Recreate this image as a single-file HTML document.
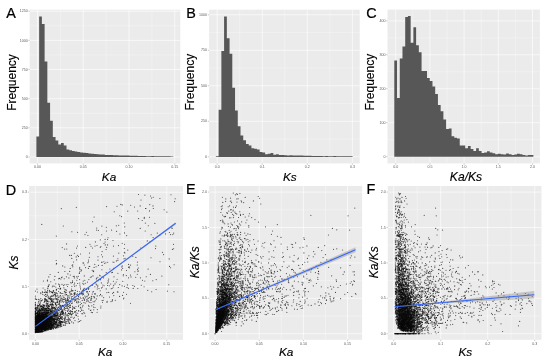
<!DOCTYPE html>
<html lang="en"><head><meta charset="utf-8"><title>Ka, Ks and Ka/Ks distributions</title>
<style>
html,body{margin:0;padding:0;background:#fff;}
body{width:550px;height:364px;overflow:hidden;font-family:"Liberation Sans",Arial,Helvetica,sans-serif;}
svg{display:block;}
</style></head><body>
<svg width="550" height="364" viewBox="0 0 550 364" font-family='"Liberation Sans", Arial, Helvetica, sans-serif'>
<rect width="550" height="364" fill="#fff"/>
<rect x="29.7" y="9.7" width="150.6" height="153.7" fill="#ebebeb"/>
<path d="M60.4 9.7V163.4M106.1 9.7V163.4M151.9 9.7V163.4M29.7 25.8H180.3M29.7 54.9H180.3M29.7 84.1H180.3M29.7 113.3H180.3M29.7 142.4H180.3" stroke="#fff" stroke-width="0.45" opacity="0.7" fill="none"/>
<path d="M37.5 9.7V163.4M83.2 9.7V163.4M129 9.7V163.4M174.8 9.7V163.4M29.7 11.2H180.3M29.7 40.4H180.3M29.7 69.5H180.3M29.7 98.7H180.3M29.7 127.8H180.3M29.7 157H180.3" stroke="#fff" stroke-width="0.7" opacity="0.9" fill="none"/>
<path d="M36.40 156.9V136.5H39.14V156.9ZM39.14 156.9V16.5H41.87V156.9ZM41.87 156.9V23.9H44.61V156.9ZM44.61 156.9V61.5H47.34V156.9ZM47.34 156.9V102.7H50.08V156.9ZM50.08 156.9V120.8H52.82V156.9ZM52.82 156.9V136.9H55.55V156.9ZM55.55 156.9V140.6H58.29V156.9ZM58.29 156.9V144.5H61.02V156.9ZM61.02 156.9V143.0H63.76V156.9ZM63.76 156.9V145.4H66.50V156.9ZM66.50 156.9V149.5H69.23V156.9ZM69.23 156.9V150.2H71.97V156.9ZM71.97 156.9V150.9H74.70V156.9ZM74.70 156.9V151.6H77.44V156.9ZM77.44 156.9V152.0H80.18V156.9ZM80.18 156.9V152.4H82.91V156.9ZM82.91 156.9V152.8H85.65V156.9ZM85.65 156.9V153.1H88.38V156.9ZM88.38 156.9V153.4H91.12V156.9ZM91.12 156.9V153.7H93.86V156.9ZM93.86 156.9V154.0H96.59V156.9ZM96.59 156.9V154.2H99.33V156.9ZM99.33 156.9V154.4H102.06V156.9ZM102.06 156.9V154.6H104.80V156.9ZM104.80 156.9V154.9H107.54V156.9ZM107.54 156.9V155.0H110.27V156.9ZM110.27 156.9V155.1H113.01V156.9ZM113.01 156.9V155.3H115.74V156.9ZM115.74 156.9V155.2H118.48V156.9ZM118.48 156.9V155.4H121.22V156.9ZM121.22 156.9V155.5H123.95V156.9ZM123.95 156.9V155.6H126.69V156.9ZM126.69 156.9V155.5H129.42V156.9ZM129.42 156.9V155.7H132.16V156.9ZM132.16 156.9V155.8H134.90V156.9ZM134.90 156.9V155.7H137.63V156.9ZM137.63 156.9V156.0H140.37V156.9ZM140.37 156.9V156.1H143.10V156.9ZM143.10 156.9V156.0H145.84V156.9ZM145.84 156.9V156.2H148.58V156.9ZM148.58 156.9V156.2H151.31V156.9ZM151.31 156.9V156.1H154.05V156.9ZM154.05 156.9V156.2H156.78V156.9ZM156.78 156.9V156.3H159.52V156.9ZM159.52 156.9V156.2H162.26V156.9ZM162.26 156.9V156.3H164.99V156.9ZM164.99 156.9V156.3H167.73V156.9ZM167.73 156.9V156.3H170.46V156.9ZM170.46 156.9V156.4H173.20V156.9Z" fill="#575757"/>
<path d="M37.5 163.4v1.3M83.2 163.4v1.3M129 163.4v1.3M174.8 163.4v1.3M29.7 157h-1.3M29.7 127.8h-1.3M29.7 98.7h-1.3M29.7 69.5h-1.3M29.7 40.4h-1.3M29.7 11.2h-1.3" stroke="#555" stroke-width="0.4" opacity="0.8" fill="none"/>
<g font-size="3.6" fill="#5c5c5c">
<text x="37.5" y="168.2" text-anchor="middle">0.00</text>
<text x="83.2" y="168.2" text-anchor="middle">0.05</text>
<text x="129" y="168.2" text-anchor="middle">0.10</text>
<text x="174.8" y="168.2" text-anchor="middle">0.15</text>
<text x="27.7" y="158.1" text-anchor="end">0</text>
<text x="27.7" y="128.9" text-anchor="end">250</text>
<text x="27.7" y="99.8" text-anchor="end">500</text>
<text x="27.7" y="70.6" text-anchor="end">750</text>
<text x="27.7" y="41.5" text-anchor="end">1000</text>
<text x="27.7" y="12.3" text-anchor="end">1250</text>
</g>
<text x="6.3" y="18.2" font-size="14.4" fill="#000" stroke="#000" stroke-width="0.22">A</text>
<text transform="translate(15.8 82.5) rotate(-90)" font-size="12" text-anchor="middle" fill="#000" stroke="#000" stroke-width="0.15">Frequency</text>
<text x="109" y="181.3" font-size="11.8" font-style="italic" text-anchor="middle" fill="#000" stroke="#000" stroke-width="0.15">Ka</text>
<rect x="209.1" y="9.7" width="150.6" height="153.7" fill="#ebebeb"/>
<path d="M239.7 9.7V163.4M284.8 9.7V163.4M329.9 9.7V163.4M209.1 32.6H359.7M209.1 68.1H359.7M209.1 103.6H359.7M209.1 139.1H359.7" stroke="#fff" stroke-width="0.45" opacity="0.7" fill="none"/>
<path d="M217.2 9.7V163.4M262.3 9.7V163.4M307.3 9.7V163.4M352.4 9.7V163.4M209.1 14.8H359.7M209.1 50.3H359.7M209.1 85.8H359.7M209.1 121.3H359.7M209.1 156.8H359.7" stroke="#fff" stroke-width="0.7" opacity="0.9" fill="none"/>
<path d="M215.90 156.9V156.3H218.63V156.9ZM218.63 156.9V109.7H221.37V156.9ZM221.37 156.9V51.0H224.10V156.9ZM224.10 156.9V16.5H226.84V156.9ZM226.84 156.9V38.2H229.57V156.9ZM229.57 156.9V53.7H232.30V156.9ZM232.30 156.9V87.8H235.04V156.9ZM235.04 156.9V110.4H237.77V156.9ZM237.77 156.9V126.2H240.51V156.9ZM240.51 156.9V135.4H243.24V156.9ZM243.24 156.9V140.3H245.97V156.9ZM245.97 156.9V144.0H248.71V156.9ZM248.71 156.9V145.4H251.44V156.9ZM251.44 156.9V148.2H254.18V156.9ZM254.18 156.9V148.8H256.91V156.9ZM256.91 156.9V149.5H259.64V156.9ZM259.64 156.9V151.9H262.38V156.9ZM262.38 156.9V152.6H265.11V156.9ZM265.11 156.9V154.3H267.85V156.9ZM267.85 156.9V153.7H270.58V156.9ZM270.58 156.9V152.9H273.31V156.9ZM273.31 156.9V154.8H276.05V156.9ZM276.05 156.9V154.2H278.78V156.9ZM278.78 156.9V155.0H281.52V156.9ZM281.52 156.9V155.1H284.25V156.9ZM284.25 156.9V155.3H286.98V156.9ZM286.98 156.9V155.4H289.72V156.9ZM289.72 156.9V155.3H292.45V156.9ZM292.45 156.9V155.5H295.19V156.9ZM295.19 156.9V155.6H297.92V156.9ZM297.92 156.9V155.6H300.65V156.9ZM300.65 156.9V155.5H303.39V156.9ZM303.39 156.9V155.7H306.12V156.9ZM306.12 156.9V155.8H308.86V156.9ZM308.86 156.9V155.7H311.59V156.9ZM311.59 156.9V155.9H314.32V156.9ZM314.32 156.9V156.0H317.06V156.9ZM317.06 156.9V156.1H319.79V156.9ZM319.79 156.9V156.1H322.53V156.9ZM322.53 156.9V156.2H325.26V156.9ZM325.26 156.9V156.1H327.99V156.9ZM327.99 156.9V156.2H330.73V156.9ZM330.73 156.9V156.2H333.46V156.9ZM333.46 156.9V156.1H336.20V156.9ZM336.20 156.9V156.3H338.93V156.9ZM338.93 156.9V156.3H341.66V156.9ZM341.66 156.9V156.2H344.40V156.9ZM344.40 156.9V156.3H347.13V156.9ZM347.13 156.9V156.3H349.87V156.9ZM349.87 156.9V156.3H352.60V156.9Z" fill="#575757"/>
<path d="M217.2 163.4v1.3M262.3 163.4v1.3M307.3 163.4v1.3M352.4 163.4v1.3M209.1 156.8h-1.3M209.1 121.3h-1.3M209.1 85.8h-1.3M209.1 50.3h-1.3M209.1 14.8h-1.3" stroke="#555" stroke-width="0.4" opacity="0.8" fill="none"/>
<g font-size="3.6" fill="#5c5c5c">
<text x="217.2" y="168.2" text-anchor="middle">0.0</text>
<text x="262.3" y="168.2" text-anchor="middle">0.1</text>
<text x="307.3" y="168.2" text-anchor="middle">0.2</text>
<text x="352.4" y="168.2" text-anchor="middle">0.3</text>
<text x="207.1" y="157.9" text-anchor="end">0</text>
<text x="207.1" y="122.4" text-anchor="end">250</text>
<text x="207.1" y="86.9" text-anchor="end">500</text>
<text x="207.1" y="51.4" text-anchor="end">750</text>
<text x="207.1" y="15.9" text-anchor="end">1000</text>
</g>
<text x="186.3" y="18.1" font-size="14.4" fill="#000" stroke="#000" stroke-width="0.22">B</text>
<text transform="translate(194.4 82.2) rotate(-90)" font-size="12" text-anchor="middle" fill="#000" stroke="#000" stroke-width="0.15">Frequency</text>
<text x="289.8" y="181.2" font-size="11.8" font-style="italic" text-anchor="middle" fill="#000" stroke="#000" stroke-width="0.15">Ks</text>
<rect x="387.5" y="9.6" width="152.4" height="153.8" fill="#ebebeb"/>
<path d="M412.8 9.6V163.4M447 9.6V163.4M481.2 9.6V163.4M515.4 9.6V163.4M387.5 37.9H539.9M387.5 71.8H539.9M387.5 105.8H539.9M387.5 139.7H539.9" stroke="#fff" stroke-width="0.45" opacity="0.7" fill="none"/>
<path d="M395.7 9.6V163.4M429.9 9.6V163.4M464.1 9.6V163.4M498.3 9.6V163.4M532.5 9.6V163.4M387.5 20.9H539.9M387.5 54.8H539.9M387.5 88.8H539.9M387.5 122.7H539.9M387.5 156.7H539.9" stroke="#fff" stroke-width="0.7" opacity="0.9" fill="none"/>
<path d="M394.30 156.8V60.6H397.03V156.8ZM397.03 156.8V97.9H399.75V156.8ZM399.75 156.8V58.5H402.48V156.8ZM402.48 156.8V46.5H405.21V156.8ZM405.21 156.8V17.0H407.94V156.8ZM407.94 156.8V16.1H410.66V156.8ZM410.66 156.8V42.8H413.39V156.8ZM413.39 156.8V27.2H416.12V156.8ZM416.12 156.8V45.3H418.84V156.8ZM418.84 156.8V52.2H421.57V156.8ZM421.57 156.8V71.0H424.30V156.8ZM424.30 156.8V71.0H427.02V156.8ZM427.02 156.8V78.1H429.75V156.8ZM429.75 156.8V80.9H432.48V156.8ZM432.48 156.8V86.4H435.20V156.8ZM435.21 156.8V94.0H437.93V156.8ZM437.93 156.8V105.1H440.66V156.8ZM440.66 156.8V111.3H443.39V156.8ZM443.39 156.8V119.5H446.11V156.8ZM446.11 156.8V129.1H448.84V156.8ZM448.84 156.8V128.6H451.57V156.8ZM451.57 156.8V136.2H454.29V156.8ZM454.29 156.8V137.8H457.02V156.8ZM457.02 156.8V138.5H459.75V156.8ZM459.75 156.8V145.5H462.47V156.8ZM462.48 156.8V145.5H465.20V156.8ZM465.20 156.8V148.2H467.93V156.8ZM467.93 156.8V146.0H470.66V156.8ZM470.66 156.8V149.1H473.38V156.8ZM473.38 156.8V150.9H476.11V156.8ZM476.11 156.8V148.2H478.84V156.8ZM478.84 156.8V150.9H481.56V156.8ZM481.56 156.8V153.1H484.29V156.8ZM484.29 156.8V152.4H487.02V156.8ZM487.02 156.8V151.3H489.75V156.8ZM489.75 156.8V152.4H492.47V156.8ZM492.47 156.8V153.3H495.20V156.8ZM495.20 156.8V154.2H497.93V156.8ZM497.93 156.8V153.8H500.65V156.8ZM500.65 156.8V154.2H503.38V156.8ZM503.38 156.8V154.5H506.11V156.8ZM506.11 156.8V153.6H508.83V156.8ZM508.83 156.8V154.2H511.56V156.8ZM511.56 156.8V154.9H514.29V156.8ZM514.29 156.8V154.5H517.01V156.8ZM517.01 156.8V153.8H519.74V156.8ZM519.74 156.8V154.2H522.47V156.8ZM522.47 156.8V155.1H525.20V156.8ZM525.20 156.8V155.5H527.92V156.8ZM527.92 156.8V154.9H530.65V156.8ZM530.65 156.8V154.9H533.38V156.8Z" fill="#575757"/>
<path d="M395.7 163.4v1.3M429.9 163.4v1.3M464.1 163.4v1.3M498.3 163.4v1.3M532.5 163.4v1.3M387.5 156.7h-1.3M387.5 122.7h-1.3M387.5 88.8h-1.3M387.5 54.8h-1.3M387.5 20.9h-1.3" stroke="#555" stroke-width="0.4" opacity="0.8" fill="none"/>
<g font-size="3.6" fill="#5c5c5c">
<text x="395.7" y="168.2" text-anchor="middle">0.0</text>
<text x="429.9" y="168.2" text-anchor="middle">0.5</text>
<text x="464.1" y="168.2" text-anchor="middle">1.0</text>
<text x="498.3" y="168.2" text-anchor="middle">1.5</text>
<text x="532.5" y="168.2" text-anchor="middle">2.0</text>
<text x="385.5" y="157.8" text-anchor="end">0</text>
<text x="385.5" y="123.8" text-anchor="end">100</text>
<text x="385.5" y="89.9" text-anchor="end">200</text>
<text x="385.5" y="55.9" text-anchor="end">300</text>
<text x="385.5" y="22" text-anchor="end">400</text>
</g>
<text x="366.3" y="18.1" font-size="14.4" fill="#000" stroke="#000" stroke-width="0.22">C</text>
<text transform="translate(374.4 82.2) rotate(-90)" font-size="12" text-anchor="middle" fill="#000" stroke="#000" stroke-width="0.15">Frequency</text>
<text x="466" y="181.4" font-size="12.1" font-style="italic" text-anchor="middle" fill="#000" stroke="#000" stroke-width="0.15">Ka/Ks</text>
<rect x="29.1" y="186" width="153.9" height="153.8" fill="#ebebeb"/>
<path d="M57.3 186V339.8M101.1 186V339.8M144.9 186V339.8M29.1 215.8H183M29.1 263H183M29.1 310.2H183" stroke="#fff" stroke-width="0.45" opacity="0.7" fill="none"/>
<path d="M35.4 186V339.8M79.2 186V339.8M123 186V339.8M166.8 186V339.8M29.1 192.2H183M29.1 239.4H183M29.1 286.6H183M29.1 333.8H183" stroke="#fff" stroke-width="0.7" opacity="0.9" fill="none"/>
<path d="M39.8 328.0h0M41.0 331.0h0M36.7 329.3h0M52.7 318.4h0M71.9 317.1h0M62.1 311.3h0M68.9 308.9h0M51.6 326.4h0M50.0 324.0h0M40.6 310.3h0M43.3 321.8h0M71.5 296.9h0M36.8 316.8h0M39.0 326.2h0M40.1 324.1h0M48.6 316.0h0M37.4 327.3h0M41.1 316.2h0M66.7 305.5h0M36.5 324.6h0M37.9 331.2h0M45.0 328.0h0M36.0 329.5h0M37.1 331.1h0M37.9 328.8h0M49.0 314.8h0M39.9 326.2h0M76.5 248.1h0M42.5 322.4h0M45.7 330.4h0M44.7 325.8h0M41.7 320.1h0M43.2 311.9h0M49.2 318.3h0M54.3 311.5h0M39.0 330.7h0M151.5 198.0h0M41.2 323.9h0M39.0 318.0h0M36.7 329.1h0M38.9 330.5h0M40.9 318.0h0M51.9 324.0h0M48.7 323.2h0M37.4 328.9h0M42.8 294.4h0M43.5 310.0h0M43.9 321.8h0M46.0 315.2h0M37.9 325.4h0M45.4 327.8h0M37.5 325.1h0M41.2 325.9h0M42.3 314.4h0M59.3 322.8h0M41.8 320.7h0M40.0 328.7h0M37.5 331.0h0M48.8 311.7h0M63.2 313.4h0M38.8 324.2h0M49.8 327.5h0M70.2 313.9h0M40.3 322.2h0M38.5 319.9h0M42.7 310.2h0M45.5 328.5h0M38.5 328.8h0M41.3 322.5h0M39.1 318.5h0M50.2 321.2h0M38.3 302.9h0M37.3 329.3h0M38.8 330.2h0M38.5 328.2h0M67.8 315.4h0M38.3 325.6h0M43.9 322.4h0M124.0 258.8h0M38.3 323.8h0M40.4 329.8h0M76.0 314.2h0M37.2 330.2h0M106.9 292.6h0M58.2 288.5h0M43.2 323.8h0M51.2 328.9h0M45.2 292.5h0M47.7 295.5h0M39.9 319.0h0M52.5 326.8h0M44.9 324.5h0M42.3 322.1h0M42.5 321.4h0M41.9 321.4h0M57.4 319.0h0M36.9 330.8h0M45.4 320.7h0M63.4 285.6h0M37.1 320.6h0M38.5 330.4h0M37.2 331.0h0M36.8 322.4h0M38.4 327.3h0M43.2 320.5h0M62.5 311.5h0M38.2 318.9h0M41.5 328.0h0M40.4 319.7h0M50.6 326.8h0M54.4 323.4h0M40.7 329.9h0M47.4 313.7h0M44.5 317.4h0M88.4 298.3h0M50.1 308.4h0M37.1 331.6h0M53.9 316.3h0M43.8 313.1h0M36.2 330.0h0M46.4 316.5h0M48.0 307.7h0M40.2 325.7h0M41.5 328.2h0M39.5 324.8h0M49.0 323.5h0M42.7 331.2h0M43.1 325.2h0M36.5 299.4h0M43.6 315.4h0M48.1 326.9h0M39.7 315.7h0M51.1 322.7h0M47.7 316.1h0M45.1 323.4h0M61.4 321.5h0M48.0 305.3h0M86.6 289.4h0M39.2 328.8h0M39.4 309.8h0M38.6 318.5h0M58.5 307.1h0M43.4 326.8h0M44.0 317.8h0M37.4 324.5h0M123.9 298.0h0M43.7 325.6h0M47.8 324.6h0M105.3 244.9h0M46.4 312.5h0M71.4 315.0h0M36.5 326.0h0M45.6 321.6h0M44.7 308.8h0M89.7 266.5h0M37.9 326.1h0M37.2 327.5h0M38.0 323.9h0M52.2 314.0h0M39.4 320.4h0M59.9 326.1h0M39.6 319.5h0M70.3 307.4h0M39.7 329.6h0M43.3 314.8h0M77.4 291.3h0M45.3 316.5h0M61.5 321.6h0M90.0 244.2h0M72.5 311.5h0M107.6 244.9h0M47.9 320.5h0M49.6 316.9h0M53.6 290.9h0M39.8 320.9h0M74.4 297.0h0M47.8 324.5h0M36.6 315.5h0M39.0 328.9h0M130.4 275.1h0M47.1 328.5h0M42.9 321.8h0M86.6 299.8h0M38.2 324.1h0M38.9 325.2h0M48.6 305.9h0M37.5 325.9h0M106.3 227.2h0M74.4 292.7h0M36.6 327.7h0M40.8 324.7h0M36.9 331.5h0M39.2 313.7h0M79.7 283.0h0M45.5 319.2h0M46.6 313.2h0M42.2 321.8h0M37.5 322.3h0M38.9 324.8h0M38.0 327.2h0M156.2 279.6h0M38.5 326.7h0M42.3 329.2h0M42.4 321.5h0M38.4 327.1h0M52.0 327.1h0M40.7 315.3h0M42.1 329.3h0M38.2 316.5h0M52.7 316.4h0M62.9 295.7h0M36.7 319.7h0M172.4 249.4h0M40.2 316.0h0M38.3 324.8h0M39.7 332.0h0M39.9 313.5h0M51.0 327.0h0M55.5 312.0h0M40.0 315.9h0M43.5 328.4h0M54.0 324.1h0M49.6 321.5h0M42.1 325.2h0M40.5 323.6h0M49.2 326.2h0M36.7 324.8h0M45.7 314.6h0M89.3 302.2h0M47.5 329.9h0M37.1 325.3h0M47.6 305.2h0M58.3 327.3h0M40.9 323.2h0M39.1 318.8h0M42.8 321.1h0M37.6 318.6h0M112.6 293.3h0M57.1 326.2h0M42.1 325.8h0M37.3 326.2h0M43.0 316.8h0M47.3 324.8h0M54.1 320.3h0M36.9 328.2h0M45.6 319.7h0M46.3 323.3h0M38.4 330.2h0M44.1 318.1h0M42.0 308.4h0M49.7 329.1h0M38.3 329.4h0M41.3 313.0h0M39.1 326.0h0M38.6 329.2h0M43.3 308.1h0M62.5 319.6h0M42.5 299.9h0M64.9 320.3h0M92.6 221.7h0M38.7 319.4h0M38.1 320.0h0M37.3 329.0h0M37.4 326.3h0M46.0 328.1h0M36.9 319.0h0M49.0 322.2h0M108.7 279.0h0M48.1 326.2h0M42.9 324.6h0M52.7 319.0h0M42.3 328.8h0M40.3 318.7h0M37.0 328.7h0M40.7 320.8h0M42.4 327.3h0M44.3 328.8h0M36.7 318.6h0M50.7 319.8h0M53.1 310.5h0M42.5 320.5h0M37.7 324.9h0M37.0 314.7h0M38.1 317.6h0M51.1 318.2h0M51.7 325.4h0M36.9 323.2h0M46.2 325.6h0M102.5 302.2h0M36.7 313.3h0M36.2 327.6h0M101.8 262.5h0M38.7 326.2h0M40.3 330.1h0M113.0 262.0h0M39.5 332.1h0M54.5 310.1h0M74.0 295.5h0M39.8 325.4h0M46.7 327.3h0M57.1 320.1h0M36.2 328.0h0M49.3 319.3h0M44.0 314.1h0M36.2 324.2h0M39.1 322.9h0M39.1 323.9h0M38.0 314.5h0M36.8 328.1h0M45.0 321.0h0M63.5 299.5h0M49.7 321.4h0M36.3 329.0h0M144.8 281.0h0M38.3 321.4h0M39.6 326.8h0M41.2 322.7h0M38.4 305.8h0M60.3 288.5h0M57.9 299.1h0M36.8 316.4h0M49.4 326.6h0M45.0 321.4h0M51.3 310.2h0M49.5 312.7h0M42.6 328.2h0M42.4 324.4h0M40.4 323.6h0M78.0 316.2h0M45.9 317.7h0M70.5 313.6h0M39.8 305.6h0M45.7 313.3h0M44.1 322.4h0M38.1 329.5h0M64.0 308.1h0M171.7 227.0h0M39.3 318.7h0M44.9 316.2h0M37.2 325.6h0M39.1 323.2h0M93.8 304.6h0M79.9 269.6h0M92.2 294.1h0M46.1 323.4h0M46.2 304.7h0M44.8 326.3h0M40.5 323.9h0M38.3 320.9h0M36.6 324.0h0M37.8 325.3h0M40.8 306.4h0M41.7 324.1h0M37.7 319.8h0M40.2 311.8h0M49.2 325.9h0M38.7 318.2h0M168.8 284.7h0M37.2 329.6h0M59.2 301.5h0M59.6 284.9h0M67.0 323.2h0M46.9 318.8h0M42.0 317.6h0M36.2 317.4h0M42.9 322.7h0M36.6 325.2h0M47.9 313.1h0M39.3 322.8h0M40.7 319.0h0M47.2 312.7h0M98.1 280.7h0M42.7 292.2h0M40.5 315.8h0M51.3 326.9h0M44.7 327.7h0M38.7 327.7h0M51.1 316.3h0M45.8 317.9h0M41.6 328.3h0M45.5 294.4h0M51.7 321.7h0M48.7 310.2h0M39.1 317.5h0M43.7 323.2h0M44.7 311.1h0M76.3 207.3h0M132.8 256.2h0M39.0 329.1h0M44.3 325.9h0M55.1 318.1h0M43.7 324.9h0M40.2 316.2h0M50.9 304.1h0M38.9 332.0h0M50.5 329.4h0M43.7 325.0h0M38.9 327.7h0M78.9 299.2h0M38.4 323.2h0M58.9 304.2h0M37.0 325.8h0M127.8 250.1h0M44.8 324.7h0M37.8 327.4h0M57.6 327.7h0M54.5 313.0h0M42.4 317.6h0M40.4 307.0h0M41.1 321.6h0M46.2 324.2h0M50.9 314.1h0M38.8 322.9h0M43.0 320.8h0M41.7 325.7h0M39.5 317.6h0M87.2 291.5h0M48.2 328.8h0M43.5 321.6h0M44.1 325.8h0M64.6 307.3h0M38.4 316.9h0M40.8 325.1h0M41.2 324.8h0M42.3 326.8h0M36.7 323.2h0M36.9 321.2h0M96.3 278.9h0M150.1 241.7h0M40.8 321.5h0M46.7 321.5h0M41.9 322.8h0M39.4 326.6h0M42.4 329.3h0M89.5 253.1h0M37.5 328.0h0M40.7 327.2h0M43.3 328.1h0M104.7 263.5h0M39.0 318.5h0M70.1 294.0h0M39.3 327.7h0M41.5 313.3h0M41.8 328.0h0M83.5 294.3h0M46.9 318.0h0M77.5 246.0h0M60.0 307.2h0M38.7 317.5h0M40.9 327.6h0M41.9 322.3h0M172.1 228.4h0M41.7 329.0h0M42.8 325.2h0M104.1 285.7h0M60.3 295.6h0M81.7 292.8h0M101.9 269.7h0M45.5 322.7h0M43.5 323.1h0M38.8 313.8h0M39.3 329.2h0M44.6 323.2h0M151.7 291.7h0M56.9 326.9h0M45.1 322.2h0M44.7 326.6h0M153.3 208.5h0M38.1 329.2h0M36.7 325.7h0M48.1 317.7h0M41.5 321.5h0M37.2 328.3h0M37.4 332.0h0M45.4 324.6h0M43.2 324.7h0M36.2 330.9h0M43.2 320.3h0M37.8 331.0h0M40.4 327.2h0M62.0 284.3h0M43.4 315.6h0M44.8 325.0h0M39.3 326.2h0M40.0 321.9h0M38.2 325.2h0M49.9 291.3h0M52.8 292.2h0M38.7 325.1h0M39.1 329.7h0M60.5 312.8h0M44.1 302.3h0M61.2 321.9h0M39.3 332.0h0M55.4 315.3h0M48.5 318.3h0M48.9 319.0h0M46.5 322.1h0M47.1 320.8h0M53.9 294.8h0M54.2 317.0h0M39.9 321.6h0M40.2 328.5h0M137.4 262.1h0M38.7 316.0h0M38.9 326.5h0M47.9 323.4h0M39.9 310.6h0M39.9 317.4h0M51.8 324.2h0M60.3 306.4h0M47.2 308.2h0M37.7 327.3h0M43.6 319.8h0M59.0 318.6h0M37.5 325.7h0M36.8 319.1h0M41.3 319.9h0M38.1 324.0h0M40.1 328.6h0M65.0 308.2h0M38.0 324.4h0M42.6 322.6h0M44.7 320.1h0M47.4 318.7h0M47.4 328.6h0M36.5 326.1h0M41.2 327.9h0M38.9 328.2h0M36.9 322.8h0M38.5 331.4h0M39.6 324.5h0M37.3 328.4h0M44.4 318.3h0M46.2 308.4h0M50.3 327.9h0M88.8 308.9h0M58.8 323.1h0M42.4 320.4h0M36.5 320.8h0M40.5 315.7h0M53.9 319.4h0M40.3 329.3h0M38.1 324.1h0M37.4 326.6h0M38.3 329.0h0M80.6 293.8h0M43.7 316.6h0M41.4 322.1h0M145.8 208.5h0M36.2 323.7h0M50.1 317.2h0M38.9 315.6h0M49.8 314.3h0M123.5 292.2h0M116.3 225.8h0M39.3 319.8h0M38.7 329.3h0M38.3 308.8h0M60.2 308.2h0M43.5 325.6h0M42.8 324.5h0M36.8 329.4h0M39.8 325.1h0M45.4 321.0h0M43.7 324.6h0M40.4 331.7h0M175.2 198.7h0M38.4 317.8h0M142.2 220.5h0M72.5 312.0h0M86.2 296.2h0M52.0 292.6h0M36.1 325.1h0M67.3 298.7h0M126.7 235.6h0M41.2 315.1h0M37.5 306.6h0M41.1 330.6h0M46.4 326.6h0M81.3 309.1h0M40.7 331.6h0M59.2 320.8h0M38.8 327.4h0M64.7 322.1h0M59.5 286.4h0M54.4 294.0h0M48.9 321.7h0M42.6 331.8h0M43.3 320.1h0M52.5 304.3h0M37.2 322.8h0M43.0 325.3h0M80.7 307.4h0M49.1 320.4h0M58.6 318.4h0M44.1 309.9h0M37.6 328.3h0M38.6 326.7h0M44.7 324.1h0M42.4 326.8h0M107.5 285.5h0M81.5 303.5h0M43.1 326.3h0M51.0 327.8h0M45.8 321.5h0M36.7 327.1h0M39.7 320.0h0M48.2 329.3h0M58.3 322.0h0M48.8 319.6h0M41.3 328.9h0M56.3 312.3h0M40.5 310.3h0M51.8 327.2h0M48.6 311.3h0M43.2 315.5h0M39.0 321.8h0M42.6 319.8h0M128.5 267.5h0M36.1 331.5h0M39.1 326.3h0M38.9 319.6h0M55.8 325.8h0M57.0 327.7h0M88.1 295.2h0M46.1 324.1h0M37.7 318.6h0M37.9 328.3h0M37.6 329.2h0M44.8 323.9h0M40.1 325.1h0M48.0 327.5h0M107.7 262.2h0M37.3 330.3h0M49.1 319.5h0M37.5 322.3h0M42.0 324.9h0M48.4 316.3h0M37.5 331.4h0M42.9 309.8h0M50.1 325.6h0M79.7 293.7h0M88.5 260.0h0M36.0 325.6h0M49.8 326.3h0M43.0 325.4h0M65.3 318.0h0M46.9 292.6h0M65.4 312.9h0M39.2 328.9h0M41.4 316.2h0M36.8 324.5h0M38.0 327.5h0M38.5 328.5h0M46.3 322.1h0M44.5 321.5h0M38.6 316.6h0M44.2 330.9h0M41.1 314.7h0M44.1 328.7h0M43.3 315.9h0M37.8 330.9h0M41.1 319.5h0M54.4 292.5h0M36.5 328.4h0M71.8 314.1h0M43.9 317.4h0M42.0 326.2h0M39.8 320.5h0M38.8 325.6h0M42.1 313.2h0M41.0 325.5h0M36.8 329.9h0M64.8 320.5h0M45.0 320.8h0M36.8 331.6h0M36.6 315.3h0M119.6 296.4h0M47.5 321.2h0M58.0 317.6h0M40.3 331.4h0M46.3 328.6h0M51.6 311.7h0M38.7 312.7h0M43.8 329.1h0M42.6 316.3h0M39.6 327.3h0M39.7 326.8h0M60.6 322.6h0M38.7 324.0h0M40.4 328.3h0M140.2 228.4h0M59.2 322.6h0M48.5 325.8h0M42.4 319.7h0M37.9 326.0h0M37.0 328.8h0M40.7 324.3h0M41.6 313.0h0M43.8 327.2h0M36.4 316.0h0M45.3 325.6h0M108.3 281.9h0M43.2 322.8h0M59.8 321.9h0M40.4 329.4h0M43.5 320.6h0M42.7 327.8h0M95.4 241.9h0M38.3 316.7h0M42.3 328.2h0M38.1 312.9h0M47.5 311.8h0M93.8 309.8h0M46.9 324.7h0M40.0 308.1h0M47.8 323.4h0M46.4 326.8h0M39.7 326.6h0M44.9 301.7h0M40.7 322.4h0M37.4 325.0h0M116.2 282.0h0M38.2 318.9h0M83.7 289.1h0M37.8 322.8h0M41.2 324.0h0M37.7 331.4h0M54.9 321.8h0M66.4 315.7h0M40.4 324.3h0M40.7 332.0h0M44.3 319.8h0M40.9 320.8h0M48.1 311.0h0M108.7 292.4h0M40.6 324.9h0M46.6 325.3h0M37.3 313.1h0M40.4 319.2h0M39.1 319.6h0M62.3 314.0h0M49.1 319.8h0M50.9 317.4h0M41.4 320.5h0M94.1 217.0h0M38.3 325.3h0M41.3 325.5h0M55.3 313.5h0M113.6 268.2h0M37.0 313.3h0M41.8 308.7h0M39.3 315.9h0M52.6 320.7h0M44.7 316.0h0M43.4 326.5h0M43.4 321.8h0M147.8 290.3h0M45.1 323.0h0M45.5 320.3h0M39.0 322.6h0M44.5 329.0h0M38.4 328.6h0M38.7 328.1h0M36.7 329.8h0M45.4 327.0h0M70.0 295.7h0M40.1 314.0h0M47.0 299.7h0M37.7 322.1h0M70.8 282.6h0M44.4 328.3h0M68.4 310.0h0M87.9 300.6h0M37.2 332.3h0M38.2 326.3h0M42.9 329.2h0M48.0 326.2h0M37.6 324.3h0M44.6 312.6h0M42.0 328.4h0M41.8 327.3h0M45.1 323.0h0M54.9 276.4h0M40.6 329.1h0M37.1 319.9h0M47.7 319.2h0M41.8 327.6h0M45.1 322.4h0M45.1 325.4h0M39.2 318.9h0M37.0 325.8h0M43.9 327.3h0M38.2 326.0h0M60.0 321.6h0M42.0 318.8h0M45.2 326.0h0M41.3 319.0h0M37.5 324.4h0M88.4 301.1h0M39.1 321.4h0M36.5 310.2h0M38.0 327.8h0M48.4 286.4h0M47.3 319.6h0M47.6 326.4h0M48.5 315.8h0M40.2 326.9h0M38.7 326.6h0M43.4 328.3h0M38.8 322.7h0M69.7 307.5h0M40.3 320.4h0M37.4 318.1h0M48.1 323.9h0M56.7 305.2h0M47.5 310.1h0M42.1 328.6h0M78.2 298.2h0M52.7 324.6h0M65.1 305.2h0M37.1 329.2h0M73.7 318.3h0M46.7 318.9h0M40.5 319.9h0M54.1 315.8h0M39.6 326.8h0M38.4 329.5h0M51.1 314.5h0M44.5 330.2h0M74.8 293.5h0M41.8 329.3h0M47.3 321.7h0M38.5 323.4h0M36.3 325.6h0M47.8 300.9h0M47.1 316.7h0M39.1 325.4h0M38.6 325.8h0M50.3 324.6h0M46.3 316.3h0M39.6 318.4h0M37.3 321.1h0M38.0 324.2h0M43.0 318.9h0M47.1 326.3h0M39.0 328.1h0M47.0 328.4h0M38.9 319.7h0M36.9 330.6h0M38.9 321.3h0M43.9 321.0h0M51.5 306.3h0M38.4 321.0h0M40.8 329.4h0M38.3 318.4h0M46.6 317.5h0M56.5 322.6h0M61.5 313.0h0M47.8 321.1h0M41.9 324.0h0M39.3 322.3h0M40.7 317.1h0M37.2 328.0h0M85.6 297.7h0M40.0 322.0h0M46.3 329.6h0M43.1 325.9h0M40.3 310.7h0M42.4 325.7h0M41.7 331.5h0M38.8 316.1h0M83.9 312.3h0M123.4 274.6h0M47.1 316.8h0M42.3 328.3h0M40.9 324.5h0M37.2 328.0h0M61.2 307.2h0M98.0 256.7h0M42.7 317.2h0M44.1 328.2h0M41.3 323.4h0M42.5 319.6h0M74.5 297.5h0M47.7 314.4h0M38.0 323.2h0M40.5 321.8h0M44.7 316.2h0M37.5 321.7h0M43.9 322.8h0M43.0 319.1h0M58.2 320.3h0M41.4 317.9h0M46.5 325.8h0M52.4 317.6h0M39.2 325.7h0M45.3 324.2h0M38.1 330.1h0M41.8 319.2h0M42.3 326.0h0M46.3 321.4h0M48.3 301.7h0M46.4 321.3h0M43.4 323.1h0M43.1 323.3h0M80.9 298.5h0M60.8 323.5h0M37.1 325.6h0M39.3 315.8h0M42.8 329.6h0M39.4 328.0h0M62.5 313.2h0M52.7 293.0h0M45.8 321.0h0M44.7 321.6h0M75.3 290.4h0M39.2 328.4h0M39.8 326.8h0M38.0 316.8h0M38.3 329.7h0M38.5 331.7h0M45.4 322.6h0M74.6 299.2h0M52.6 299.8h0M38.0 329.2h0M50.2 325.1h0M39.9 326.0h0M44.3 315.6h0M43.6 318.9h0M41.1 321.2h0M46.1 299.8h0M47.8 323.6h0M37.1 330.2h0M40.3 325.6h0M52.4 307.1h0M39.1 328.9h0M41.6 317.9h0M55.9 311.4h0M39.8 325.5h0M46.8 313.1h0M39.1 317.7h0M42.9 324.7h0M41.3 311.1h0M43.6 317.4h0M36.7 331.7h0M62.7 265.9h0M61.6 306.3h0M71.7 298.6h0M38.7 330.8h0M40.1 325.9h0M38.0 310.3h0M44.0 316.1h0M44.7 322.6h0M46.4 315.2h0M41.9 326.8h0M49.1 301.7h0M49.2 324.4h0M43.1 288.0h0M38.5 326.9h0M43.1 322.0h0M40.9 327.0h0M39.2 320.2h0M43.0 320.1h0M41.3 318.4h0M36.7 325.9h0M39.2 325.6h0M49.1 308.8h0M39.7 322.4h0M37.4 317.7h0M41.1 321.1h0M93.7 271.1h0M56.5 321.2h0M45.0 320.6h0M36.9 321.6h0M52.2 317.2h0M42.4 327.4h0M42.4 318.3h0M45.0 329.4h0M42.3 327.8h0M93.1 301.7h0M61.8 312.8h0M147.3 240.9h0M37.7 319.1h0M101.9 226.1h0M39.0 319.4h0M42.2 328.2h0M38.3 316.5h0M47.2 325.1h0M39.5 311.4h0M85.2 283.3h0M41.6 318.8h0M48.5 328.4h0M38.3 324.7h0M78.8 305.2h0M45.5 326.1h0M36.9 327.2h0M41.5 321.2h0M57.8 320.0h0M68.0 284.5h0M42.1 318.4h0M51.1 327.3h0M40.9 331.2h0M89.5 291.5h0M38.3 328.1h0M40.6 326.9h0M41.8 313.7h0M37.0 329.3h0M42.3 316.6h0M49.2 326.2h0M40.6 327.8h0M44.8 312.7h0M37.1 325.2h0M44.8 323.5h0M37.2 331.5h0M39.4 329.2h0M36.3 320.3h0M41.3 327.2h0M67.0 304.4h0M74.4 317.2h0M41.1 331.2h0M38.8 329.4h0M83.2 281.1h0M41.6 317.6h0M38.8 322.6h0M37.6 329.4h0M40.4 319.8h0M39.2 312.2h0M40.6 324.6h0M60.7 305.4h0M71.3 283.0h0M61.2 298.7h0M51.3 295.7h0M41.6 318.9h0M42.2 324.1h0M46.6 323.1h0M42.7 328.6h0M55.9 327.3h0M40.7 327.7h0M42.6 325.2h0M39.4 319.2h0M38.8 325.4h0M50.7 305.1h0M52.0 303.1h0M55.1 312.1h0M40.7 317.4h0M79.6 321.4h0M37.3 325.5h0M41.0 316.2h0M38.0 331.3h0M41.6 317.2h0M48.1 317.4h0M37.7 330.7h0M40.3 320.9h0M100.2 279.7h0M44.8 314.8h0M37.8 325.0h0M37.6 324.4h0M41.2 310.7h0M38.1 326.3h0M37.9 330.8h0M42.9 322.7h0M67.5 308.6h0M42.0 316.3h0M38.1 327.0h0M49.5 320.3h0M63.0 311.9h0M55.1 308.6h0M38.2 327.8h0M70.6 312.2h0M51.8 320.1h0M56.0 322.8h0M56.3 236.1h0M40.9 323.4h0M37.0 322.0h0M44.3 292.3h0M38.7 324.7h0M41.3 326.0h0M39.7 307.0h0M38.8 331.6h0M41.7 327.1h0M36.4 322.8h0M38.7 323.6h0M41.0 318.0h0M40.6 323.5h0M53.3 325.3h0M39.0 316.9h0M50.7 323.1h0M38.3 327.6h0M100.1 275.8h0M37.2 329.9h0M55.1 309.6h0M42.7 322.9h0M70.4 302.0h0M38.4 324.3h0M46.7 317.7h0M170.6 234.6h0M41.4 328.0h0M55.4 312.9h0M42.2 324.8h0M64.6 307.6h0M44.3 327.1h0M40.8 316.6h0M41.3 325.9h0M46.2 311.1h0M37.6 330.0h0M48.4 326.9h0M126.5 270.5h0M40.7 320.7h0M44.2 322.9h0M39.3 327.1h0M37.0 322.4h0M41.3 330.1h0M36.8 330.1h0M37.8 313.9h0M100.3 247.5h0M40.1 315.9h0M49.5 320.0h0M36.7 324.3h0M100.8 307.9h0M40.9 326.6h0M49.9 318.0h0M39.3 313.1h0M39.1 325.0h0M37.5 322.3h0M40.9 319.2h0M43.0 324.4h0M38.6 323.2h0M37.5 316.0h0M51.3 314.9h0M42.9 323.3h0M52.7 327.7h0M51.2 329.3h0M41.0 325.7h0M36.7 328.6h0M44.1 307.1h0M39.1 318.1h0M154.9 223.3h0M71.8 258.4h0M37.9 319.4h0M38.7 328.2h0M36.8 332.1h0M38.9 322.7h0M43.5 325.8h0M70.0 293.8h0M56.9 319.1h0M36.7 325.2h0M108.2 280.2h0M48.6 323.4h0M44.5 321.3h0M151.1 234.7h0M38.0 328.9h0M37.5 316.6h0M43.8 327.1h0M36.6 331.7h0M37.2 328.9h0M43.3 318.6h0M37.1 325.1h0M37.7 327.4h0M43.0 324.5h0M103.9 261.7h0M39.7 322.8h0M44.6 311.7h0M68.8 322.0h0M67.7 303.0h0M38.8 322.5h0M41.0 321.2h0M48.9 319.5h0M40.2 319.4h0M46.8 322.1h0M39.3 324.8h0M44.3 327.2h0M95.0 246.0h0M48.7 316.3h0M60.7 324.9h0M86.8 301.6h0M37.6 325.0h0M43.7 323.2h0M44.2 319.4h0M69.5 303.3h0M45.0 319.0h0M40.4 315.8h0M40.9 315.6h0M47.2 318.7h0M42.6 312.7h0M62.2 247.6h0M60.6 315.2h0M41.6 326.9h0M46.8 325.9h0M39.0 318.1h0M54.6 325.7h0M42.6 327.1h0M36.2 331.5h0M73.4 322.9h0M48.2 327.0h0M43.4 318.1h0M49.9 309.8h0M53.3 314.8h0M36.5 324.9h0M48.1 324.7h0M48.2 325.6h0M80.8 320.5h0M76.4 315.5h0M98.4 265.4h0M50.4 322.6h0M39.9 300.0h0M45.7 319.6h0M47.6 323.3h0M40.5 325.8h0M45.7 313.7h0M44.3 327.1h0M44.4 317.4h0M38.5 321.2h0M37.1 329.2h0M48.8 324.5h0M37.6 318.2h0M44.1 321.1h0M36.6 324.1h0M42.4 327.7h0M36.7 321.9h0M36.2 324.2h0M37.5 316.5h0M53.6 321.3h0M102.1 265.4h0M70.8 294.1h0M56.8 328.0h0M37.6 325.1h0M45.1 323.4h0M46.3 296.1h0M36.7 326.3h0M51.8 308.4h0M45.9 326.3h0M36.2 325.3h0M39.3 327.5h0M156.1 289.5h0M54.4 319.0h0M68.8 318.3h0M39.4 321.8h0M56.8 312.1h0M39.1 326.9h0M38.4 322.6h0M39.9 325.3h0M44.4 327.5h0M71.9 286.5h0M65.8 310.3h0M40.4 318.7h0M39.6 325.4h0M39.0 316.2h0M39.9 325.1h0M37.4 319.3h0M38.0 315.9h0M40.3 323.3h0M41.9 322.1h0M38.6 322.7h0M41.7 305.8h0M36.6 322.9h0M41.9 329.2h0M52.1 317.4h0M45.2 319.1h0M38.8 328.2h0M47.6 324.8h0M38.8 318.8h0M37.7 325.2h0M40.5 311.8h0M45.3 329.0h0M37.9 319.8h0M42.7 308.0h0M54.7 311.0h0M37.9 322.7h0M39.9 325.4h0M76.0 306.5h0M67.6 300.1h0M48.5 324.4h0M41.9 318.1h0M63.8 325.5h0M51.1 326.4h0M46.9 316.5h0M60.1 320.0h0M47.7 326.3h0M60.4 295.6h0M39.7 329.3h0M37.7 331.6h0M40.3 324.8h0M48.0 320.0h0M43.2 323.1h0M42.8 325.1h0M46.4 314.1h0M39.3 330.4h0M44.8 325.8h0M41.2 322.4h0M39.8 328.5h0M72.5 309.3h0M56.3 312.2h0M51.9 317.0h0M37.8 331.8h0M46.4 320.4h0M36.3 326.7h0M38.5 320.1h0M36.8 318.7h0M40.6 331.2h0M39.1 329.3h0M39.6 326.6h0M49.0 315.1h0M61.6 319.1h0M127.4 284.9h0M43.2 316.1h0M40.9 317.9h0M49.6 326.8h0M42.9 323.8h0M50.4 309.4h0M96.1 266.7h0M38.6 320.0h0M37.8 323.8h0M39.7 323.7h0M46.7 317.1h0M74.1 293.4h0M39.6 328.8h0M40.2 319.3h0M38.2 328.0h0M54.1 314.4h0M40.6 317.1h0M66.8 249.0h0M38.5 322.4h0M42.1 322.8h0M103.7 297.6h0M38.2 328.7h0M37.0 324.4h0M47.4 324.5h0M45.7 322.3h0M38.4 322.0h0M45.2 319.9h0M68.8 321.8h0M49.7 323.2h0M60.6 313.3h0M45.1 320.5h0M113.0 240.5h0M122.6 295.4h0M39.6 315.8h0M36.5 323.4h0M37.1 323.8h0M37.9 328.2h0M39.7 328.1h0M58.5 278.7h0M52.0 323.1h0M61.8 313.0h0M37.6 325.2h0M37.2 323.2h0M36.8 326.1h0M53.0 295.4h0M43.7 325.2h0M44.8 314.5h0M40.2 318.3h0M117.9 273.2h0M39.0 324.3h0M70.0 319.6h0M37.2 325.8h0M36.7 319.3h0M36.4 326.6h0M45.4 320.9h0M39.5 304.9h0M118.3 287.5h0M40.8 321.7h0M40.6 320.4h0M87.4 282.1h0M38.1 307.8h0M44.0 318.8h0M49.4 328.0h0M77.4 278.0h0M39.6 328.7h0M38.7 316.2h0M46.7 319.8h0M85.2 303.1h0M39.9 326.4h0M73.6 262.0h0M61.0 301.9h0M50.8 324.4h0M43.9 306.4h0M36.8 332.2h0M42.1 317.3h0M39.2 323.7h0M69.6 313.8h0M38.1 318.4h0M38.8 327.2h0M47.0 316.1h0M148.1 269.1h0M44.5 325.6h0M45.6 320.0h0M47.8 319.4h0M66.6 300.8h0M38.2 323.7h0M36.1 320.5h0M39.8 325.1h0M74.8 311.6h0M52.6 327.2h0M54.3 316.4h0M39.9 321.8h0M39.0 323.8h0M44.2 315.9h0M39.7 327.8h0M38.8 314.8h0M61.7 293.5h0M45.6 313.8h0M48.4 314.6h0M37.7 325.7h0M39.4 325.7h0M38.1 331.8h0M46.7 322.6h0M144.2 218.6h0M36.9 329.1h0M45.7 325.3h0M56.4 289.9h0M50.6 311.2h0M37.6 327.4h0M60.5 317.9h0M49.6 318.9h0M56.6 289.3h0M38.1 324.3h0M39.6 310.3h0M49.6 327.6h0M40.9 325.6h0M37.9 325.1h0M41.6 314.9h0M41.1 315.7h0M56.8 318.5h0M46.7 316.7h0M69.6 323.4h0M57.3 316.3h0M51.7 318.5h0M50.0 317.0h0M39.1 331.7h0M41.5 322.4h0M41.1 321.7h0M38.7 326.4h0M51.5 323.2h0M49.9 325.6h0M65.1 301.4h0M37.0 323.6h0M39.7 325.0h0M38.5 322.1h0M40.7 322.4h0M41.7 323.4h0M52.3 286.7h0M50.1 326.4h0M64.2 308.0h0M51.2 301.1h0M53.5 322.7h0M40.9 322.7h0M41.9 320.8h0M39.7 330.6h0M38.7 326.2h0M37.5 325.3h0M39.2 322.2h0M42.3 317.4h0M45.0 323.6h0M43.5 315.1h0M37.9 323.5h0M49.8 318.5h0M44.1 321.7h0M36.5 328.4h0M55.0 309.9h0M169.5 266.4h0M124.4 286.3h0M36.2 325.3h0M40.4 305.6h0M48.9 324.3h0M38.6 323.2h0M59.4 321.4h0M44.6 322.9h0M47.9 309.1h0M45.8 324.7h0M41.7 324.9h0M37.7 310.0h0M52.6 325.8h0M38.4 311.5h0M52.0 318.2h0M56.4 315.7h0M40.6 325.9h0M36.8 317.2h0M48.8 325.9h0M57.2 320.1h0M47.6 304.8h0M138.5 194.5h0M46.7 326.5h0M42.2 317.3h0M36.7 321.9h0M36.9 328.2h0M46.2 324.7h0M40.5 315.9h0M43.7 329.0h0M43.2 325.6h0M45.8 322.8h0M38.9 320.1h0M38.3 315.7h0M55.4 304.2h0M44.1 319.1h0M42.4 326.6h0M56.1 325.6h0M43.0 316.5h0M48.8 312.3h0M37.5 328.6h0M37.4 330.5h0M39.2 329.9h0M49.2 309.6h0M112.1 288.3h0M78.5 306.6h0M39.8 328.1h0M138.3 268.0h0M46.7 315.7h0M37.6 323.6h0M39.5 319.2h0M50.7 312.5h0M49.0 324.7h0M39.8 331.7h0M70.3 275.0h0M49.0 306.6h0M100.2 290.7h0M60.4 309.3h0M45.7 320.7h0M43.8 322.6h0M47.7 321.4h0M76.6 310.5h0M44.3 318.9h0M41.4 314.2h0M46.9 301.1h0M48.4 329.9h0M38.1 326.5h0M46.1 322.7h0M45.5 318.2h0M59.2 315.7h0M41.1 314.2h0M38.1 325.1h0M51.0 313.5h0M44.4 323.9h0M37.4 327.2h0M43.7 325.4h0M56.3 305.4h0M40.7 317.0h0M44.1 321.2h0M49.6 325.5h0M41.7 327.4h0M46.1 329.0h0M39.3 326.9h0M78.7 302.6h0M36.7 331.1h0M48.3 322.8h0M42.7 326.8h0M57.2 327.5h0M62.4 305.6h0M49.3 308.6h0M36.7 325.6h0M84.3 265.0h0M43.7 320.3h0M37.0 331.7h0M51.0 324.4h0M53.2 312.1h0M44.5 325.1h0M44.1 318.1h0M44.5 328.4h0M37.1 326.6h0M46.0 329.4h0M67.1 307.9h0M126.5 294.2h0M44.5 315.1h0M83.9 302.6h0M37.5 321.8h0M37.7 319.4h0M36.6 327.2h0M41.1 322.8h0M37.1 316.6h0M40.0 327.1h0M50.5 315.7h0M36.9 325.2h0M43.8 305.0h0M40.2 321.6h0M37.7 331.8h0M44.7 316.2h0M38.8 320.6h0M49.4 325.1h0M100.3 239.8h0M36.6 332.0h0M36.6 319.7h0M102.1 251.6h0M59.0 316.5h0M42.4 326.4h0M57.1 312.0h0M53.1 313.8h0M121.6 269.9h0M66.2 292.4h0M42.5 324.2h0M36.4 326.7h0M40.7 331.1h0M37.4 325.3h0M37.6 326.5h0M66.2 294.6h0M38.1 325.6h0M41.0 309.6h0M134.5 207.0h0M42.6 315.7h0M38.5 331.9h0M37.5 319.5h0M41.1 323.1h0M42.3 328.4h0M38.1 317.0h0M47.3 318.5h0M47.5 321.9h0M43.1 327.9h0M39.0 326.3h0M46.7 303.2h0M38.7 321.7h0M39.4 324.4h0M43.4 325.7h0M53.7 321.2h0M69.7 255.4h0M36.5 324.7h0M56.4 326.2h0M38.3 329.1h0M102.1 276.7h0M40.8 320.6h0M113.2 287.0h0M57.3 314.2h0M44.9 326.1h0M49.5 324.8h0M52.8 315.8h0M40.0 321.3h0M39.7 324.8h0M37.3 321.2h0M49.1 284.6h0M40.4 323.2h0M55.1 314.4h0M47.4 325.9h0M57.3 325.5h0M48.6 323.4h0M38.6 315.4h0M49.3 310.0h0M36.7 328.9h0M50.0 321.5h0M54.8 313.2h0M42.4 314.2h0M42.4 318.9h0M37.3 325.2h0M78.6 310.8h0M42.8 322.5h0M37.5 330.6h0M46.6 310.4h0M38.7 326.6h0M41.1 327.6h0M39.1 314.9h0M138.1 271.0h0M44.7 320.5h0M40.0 304.0h0M52.3 303.8h0M38.5 328.2h0M68.3 317.6h0M47.1 323.9h0M39.0 323.3h0M47.7 321.4h0M44.1 321.8h0M64.4 291.3h0M73.6 299.1h0M39.1 323.3h0M53.2 326.6h0M45.1 316.1h0M38.2 323.5h0M57.3 325.0h0M39.0 323.9h0M100.5 294.4h0M44.5 329.3h0M41.9 328.6h0M44.0 319.6h0M38.0 325.5h0M39.3 327.0h0M48.3 319.6h0M36.5 320.9h0M39.6 322.6h0M96.8 278.1h0M37.8 330.8h0M48.5 308.1h0M42.4 316.4h0M36.8 331.5h0M40.6 326.3h0M40.7 323.5h0M36.5 324.6h0M41.5 329.3h0M45.2 320.0h0M42.6 319.4h0M38.8 299.7h0M41.0 321.2h0M49.8 326.0h0M46.4 322.4h0M120.8 204.4h0M47.3 313.7h0M38.3 326.7h0M65.8 292.4h0M38.7 330.1h0M36.3 321.8h0M37.4 326.2h0M39.7 324.8h0M43.4 328.5h0M38.6 315.1h0M39.4 319.9h0M36.4 329.0h0M38.1 325.5h0M79.1 299.6h0M66.6 243.9h0M38.6 328.0h0M61.1 297.0h0M37.8 323.5h0M58.6 291.5h0M42.2 322.2h0M67.3 308.5h0M51.1 325.8h0M40.5 327.9h0M37.7 316.2h0M38.9 326.0h0M41.9 314.8h0M41.5 330.7h0M39.6 324.9h0M39.4 330.3h0M36.7 331.0h0M48.3 328.4h0M37.1 324.4h0M40.3 328.7h0M40.2 323.3h0M59.0 321.9h0M37.6 328.2h0M66.8 300.8h0M41.2 318.3h0M38.6 329.4h0M46.7 317.8h0M88.4 289.3h0M122.2 204.9h0M119.9 234.0h0M171.0 194.7h0M39.3 316.7h0M38.1 330.6h0M39.9 331.4h0M45.0 325.9h0M47.9 313.8h0M51.6 322.5h0M41.8 317.0h0M37.0 323.7h0M39.7 316.6h0M130.5 303.2h0M39.4 330.2h0M173.7 233.1h0M36.6 319.2h0M65.5 300.6h0M37.4 328.9h0M39.5 317.1h0M38.4 328.0h0M36.4 321.4h0M36.9 329.1h0M46.3 313.5h0M60.9 317.4h0M42.7 324.4h0M42.6 327.5h0M49.8 329.5h0M63.4 306.5h0M42.6 314.1h0M40.5 322.2h0M55.0 324.3h0M38.4 317.8h0M55.3 294.2h0M56.3 264.1h0M57.6 326.3h0M39.7 323.2h0M69.8 305.3h0M42.3 322.3h0M43.0 329.3h0M37.0 321.5h0M36.5 321.4h0M39.4 314.2h0M39.3 325.2h0M53.4 319.3h0M41.3 309.5h0M174.0 291.7h0M59.5 325.4h0M142.5 280.2h0M46.5 325.8h0M39.2 319.8h0M37.6 331.8h0M44.8 321.1h0M41.2 326.7h0M47.9 325.0h0M38.0 327.1h0M75.0 308.2h0M42.3 321.8h0M56.0 323.4h0M39.6 323.2h0M53.4 316.6h0M39.7 327.9h0M43.0 318.5h0M46.5 328.1h0M46.9 323.8h0M61.8 311.9h0M38.8 331.9h0M51.2 317.2h0M41.6 324.5h0M55.7 321.8h0M51.5 323.4h0M48.8 285.3h0M96.7 228.0h0M37.1 330.6h0M37.2 326.9h0M41.8 312.5h0M41.0 323.4h0M38.0 326.1h0M49.2 327.1h0M61.5 307.2h0M44.9 319.3h0M51.2 321.8h0M37.0 320.5h0M49.6 314.4h0M48.8 314.4h0M94.4 301.7h0M48.3 323.5h0M51.9 299.7h0M38.9 331.6h0M57.4 301.3h0M38.4 332.1h0M38.5 325.0h0M36.8 320.3h0M66.0 308.5h0M40.4 318.3h0M36.1 313.5h0M38.0 325.9h0M35.4 319.9h0M35.4 330.8h0M35.4 308.6h0M35.4 332.2h0M35.4 317.1h0M35.4 327.7h0M35.4 318.8h0M35.4 330.1h0M35.4 317.8h0M35.4 317.2h0M35.4 327.5h0M35.4 326.6h0M35.4 311.0h0M35.4 315.1h0M35.4 329.6h0M35.4 332.2h0M35.4 314.7h0M35.4 331.1h0M35.4 323.5h0M35.4 329.7h0M35.4 321.9h0M35.4 328.1h0M35.4 326.8h0M35.4 324.8h0M35.4 330.6h0M35.4 324.5h0M35.4 330.7h0M35.4 331.2h0M35.4 321.6h0M35.4 327.3h0M35.4 325.6h0M35.4 316.3h0M35.4 313.1h0M35.4 325.8h0M35.4 311.5h0M35.4 317.2h0M35.4 328.1h0M35.4 318.4h0M35.4 318.0h0M35.4 329.1h0M35.4 329.9h0M35.4 317.2h0M35.4 313.9h0M35.4 316.2h0M35.4 308.5h0M35.4 323.5h0M35.4 328.2h0M35.4 315.2h0M35.4 320.3h0M35.4 326.4h0M35.4 319.2h0M35.4 331.4h0M35.4 331.7h0M35.4 310.7h0M35.4 330.1h0M35.4 316.8h0M35.4 313.1h0M35.4 304.9h0M35.4 305.9h0M35.4 291.1h0" stroke="#000" stroke-width="1.15" stroke-linecap="round" opacity="0.7" fill="none"/>
<path d="M40.0 321.2h0M39.9 327.6h0M37.6 328.0h0M46.7 323.7h0M45.7 325.3h0M50.2 316.9h0M41.4 320.1h0M42.6 320.0h0M53.9 319.1h0M67.0 302.0h0M44.4 325.2h0M44.6 322.5h0M36.6 326.5h0M37.0 330.8h0M44.5 321.8h0M38.8 324.2h0M117.0 206.2h0M42.2 329.7h0M39.7 319.2h0M41.5 328.9h0M41.3 306.4h0M60.0 314.2h0M48.5 319.0h0M41.9 310.1h0M36.6 331.5h0M47.6 321.3h0M48.8 324.6h0M107.6 283.1h0M45.8 324.6h0M45.8 329.4h0M48.8 305.6h0M39.4 317.2h0M37.0 289.1h0M39.9 327.7h0M80.2 297.2h0M47.9 323.9h0M55.7 327.7h0M38.6 329.5h0M37.3 327.3h0M46.9 318.7h0M37.8 328.3h0M38.8 324.5h0M52.1 328.0h0M83.4 293.1h0M39.1 319.8h0M54.3 315.9h0M44.2 316.5h0M40.5 330.0h0M47.8 310.1h0M42.3 311.2h0M39.2 323.3h0M47.2 318.8h0M41.2 318.4h0M41.9 325.0h0M43.3 320.0h0M36.8 325.6h0M38.0 324.5h0M36.4 327.4h0M44.6 318.0h0M43.2 324.9h0M40.6 313.7h0M82.2 300.4h0M45.6 319.8h0M45.3 319.7h0M42.9 309.2h0M40.5 321.2h0M61.1 300.5h0M44.6 318.5h0M55.5 304.6h0M59.3 322.8h0M42.0 327.9h0M53.9 327.1h0M43.8 321.9h0M124.3 223.0h0M37.2 322.7h0M46.1 320.2h0M72.3 302.0h0M37.1 323.0h0M43.0 329.1h0M42.9 321.0h0M61.7 326.2h0M39.2 318.7h0M38.6 322.1h0M37.0 323.8h0M37.1 323.0h0M38.6 327.5h0M49.0 317.1h0M44.5 322.2h0M71.0 301.4h0M42.1 316.8h0M36.6 325.0h0M48.3 316.2h0M87.9 262.8h0M37.8 327.3h0M37.2 324.3h0M45.7 323.1h0M45.9 323.3h0M67.8 296.0h0M40.4 310.5h0M50.1 323.1h0M45.1 310.5h0M44.6 321.8h0M39.4 323.8h0M39.2 331.9h0M57.3 302.3h0M41.0 331.5h0M40.3 326.1h0M39.6 323.6h0M40.8 298.6h0M43.0 319.4h0M43.1 324.6h0M52.8 319.9h0M111.8 272.6h0M37.4 322.3h0M56.9 313.9h0M42.4 291.9h0M39.0 326.5h0M40.3 322.3h0M38.1 329.3h0M37.2 325.7h0M43.9 323.0h0M40.4 325.3h0M40.1 331.4h0M163.6 254.6h0M42.8 319.2h0M39.6 328.5h0M38.4 326.1h0M39.2 325.3h0M36.2 324.9h0M45.4 311.0h0M37.9 326.9h0M57.9 296.8h0M37.9 327.9h0M51.1 319.4h0M36.8 324.2h0M37.5 315.6h0M43.1 323.3h0M42.8 323.2h0M37.7 322.1h0M115.3 300.2h0M42.9 318.3h0M39.7 320.0h0M54.8 320.6h0M37.9 318.7h0M37.1 321.1h0M65.1 321.9h0M50.1 325.6h0M69.8 301.8h0M37.4 327.2h0M64.6 319.6h0M38.0 322.2h0M36.5 331.4h0M82.5 294.8h0M85.0 234.6h0M37.3 327.3h0M46.8 323.8h0M36.8 331.5h0M51.1 318.3h0M44.6 310.0h0M37.4 328.7h0M36.9 324.7h0M37.1 324.3h0M40.7 331.8h0M107.0 302.3h0M112.4 272.4h0M57.7 325.8h0M70.2 310.6h0M38.3 330.2h0M79.0 294.9h0M57.8 295.5h0M37.2 322.1h0M46.8 319.1h0M39.3 330.4h0M36.5 316.9h0M39.2 309.6h0M52.7 322.4h0M40.0 318.4h0M60.7 318.5h0M39.1 328.6h0M36.7 316.4h0M41.4 322.2h0M41.8 318.5h0M41.3 325.1h0M97.9 285.9h0M60.1 289.5h0M41.6 330.2h0M46.3 326.9h0M80.0 271.3h0M157.3 233.1h0M51.4 305.0h0M51.6 321.1h0M50.2 325.5h0M79.4 272.8h0M40.3 318.0h0M39.6 329.0h0M49.7 326.5h0M38.6 332.1h0M38.4 329.2h0M56.9 324.1h0M42.5 322.3h0M44.9 328.3h0M38.0 326.2h0M37.5 326.4h0M43.6 317.7h0M44.2 328.8h0M52.3 321.5h0M41.3 326.5h0M62.0 322.4h0M36.1 329.0h0M39.5 319.6h0M41.2 328.3h0M43.2 319.7h0M49.8 319.2h0M45.4 327.9h0M39.7 323.9h0M39.8 304.4h0M40.4 325.1h0M38.8 318.9h0M144.1 286.7h0M40.6 328.1h0M37.1 320.3h0M38.7 324.1h0M46.9 322.9h0M37.9 305.3h0M51.4 301.4h0M41.0 325.3h0M50.1 274.5h0M40.1 315.7h0M51.5 324.4h0M43.4 322.1h0M41.4 306.0h0M38.4 330.8h0M49.9 322.2h0M67.6 304.7h0M41.6 323.3h0M63.1 313.9h0M39.4 322.4h0M52.8 312.9h0M45.0 322.4h0M41.9 309.2h0M57.3 323.6h0M40.3 314.8h0M48.6 312.7h0M64.2 310.0h0M77.4 293.9h0M38.4 324.3h0M36.9 328.2h0M50.2 327.1h0M38.8 319.4h0M41.3 328.7h0M39.9 322.7h0M42.7 328.5h0M37.1 325.2h0M57.9 325.1h0M41.1 322.1h0M37.9 329.7h0M38.3 319.4h0M52.3 325.2h0M71.4 293.7h0M40.8 326.0h0M36.9 320.9h0M58.1 324.3h0M41.2 321.6h0M39.5 319.6h0M45.6 324.9h0M51.8 329.0h0M46.7 322.1h0M46.5 326.0h0M49.4 319.0h0M37.0 321.6h0M47.6 316.3h0M41.5 325.6h0M38.2 322.8h0M69.5 319.0h0M47.0 316.3h0M39.2 323.9h0M46.1 316.6h0M59.9 323.2h0M36.3 332.1h0M40.3 323.6h0M155.8 246.1h0M68.8 323.0h0M40.3 322.6h0M39.9 323.0h0M48.3 322.2h0M38.4 320.7h0M72.5 282.4h0M40.6 320.7h0M49.6 316.7h0M51.3 316.6h0M62.1 314.6h0M36.8 324.5h0M88.9 279.6h0M43.9 324.5h0M45.4 316.9h0M38.7 325.7h0M36.3 322.5h0M46.8 324.9h0M37.6 324.4h0M40.4 320.0h0M60.0 327.1h0M45.0 326.4h0M56.4 309.8h0M40.4 316.5h0M36.5 326.9h0M41.3 317.6h0M40.1 328.6h0M59.5 324.2h0M40.2 323.4h0M36.8 326.0h0M37.1 309.4h0M51.1 324.1h0M40.5 314.7h0M40.2 331.5h0M54.8 307.4h0M57.4 324.7h0M39.6 325.5h0M39.0 324.0h0M37.9 326.2h0M42.9 314.8h0M64.3 320.2h0M42.4 319.8h0M38.7 316.6h0M41.0 315.1h0M37.6 325.1h0M46.3 324.5h0M43.4 326.5h0M44.6 300.8h0M45.6 323.9h0M39.1 316.6h0M54.7 324.0h0M38.9 328.1h0M88.5 261.7h0M93.5 307.1h0M46.9 319.3h0M37.4 326.0h0M36.9 324.8h0M137.7 211.0h0M39.6 322.8h0M39.8 321.8h0M37.9 321.0h0M44.4 319.8h0M48.9 327.1h0M44.5 325.4h0M40.2 324.2h0M51.4 325.0h0M140.4 277.8h0M65.5 312.2h0M52.2 309.2h0M38.1 319.4h0M36.7 326.7h0M48.4 310.8h0M38.3 315.0h0M43.0 314.8h0M36.5 308.5h0M36.8 330.8h0M36.7 332.2h0M39.0 331.0h0M47.8 322.4h0M43.6 329.4h0M36.6 331.5h0M38.2 332.0h0M46.7 318.6h0M47.4 318.6h0M44.3 319.3h0M36.5 325.9h0M41.9 327.3h0M80.3 304.6h0M49.6 321.6h0M76.8 280.2h0M37.4 331.6h0M42.1 325.7h0M44.3 317.4h0M140.8 248.0h0M36.9 327.8h0M40.3 313.0h0M36.6 329.2h0M40.0 312.6h0M117.4 291.9h0M45.8 315.5h0M40.3 322.7h0M45.0 323.7h0M55.7 317.5h0M51.1 327.7h0M70.1 304.9h0M47.1 318.4h0M42.7 315.5h0M46.5 314.1h0M41.6 330.6h0M39.0 324.8h0M36.5 331.0h0M37.6 314.0h0M45.2 322.6h0M56.7 315.5h0M72.8 299.9h0M40.7 320.0h0M65.1 298.9h0M47.8 324.7h0M44.7 317.3h0M47.5 328.6h0M51.3 328.8h0M38.1 325.1h0M41.8 325.2h0M40.0 329.5h0M40.8 316.3h0M41.1 319.0h0M38.4 325.1h0M55.6 319.5h0M36.6 324.0h0M38.3 322.2h0M51.9 313.0h0M51.2 316.0h0M37.8 324.1h0M60.3 322.7h0M58.3 272.4h0M37.6 325.0h0M37.3 311.1h0M45.6 314.1h0M42.4 329.1h0M36.4 330.8h0M40.4 318.1h0M51.1 321.9h0M38.5 321.0h0M38.2 328.0h0M47.9 288.0h0M52.5 320.2h0M42.7 320.0h0M49.7 320.3h0M42.3 327.1h0M44.3 325.6h0M50.6 323.7h0M41.1 322.4h0M38.1 330.2h0M38.0 318.2h0M42.4 326.7h0M43.0 327.1h0M49.8 319.2h0M55.0 311.2h0M36.4 331.9h0M37.7 325.6h0M51.7 324.1h0M38.5 319.9h0M41.8 321.7h0M37.3 326.1h0M38.9 322.9h0M38.0 322.0h0M79.6 279.6h0M61.5 322.0h0M45.0 314.6h0M50.9 310.1h0M48.6 313.2h0M43.0 323.3h0M36.7 328.4h0M48.1 322.2h0M40.6 322.6h0M78.8 310.8h0M37.2 314.3h0M37.8 331.1h0M36.2 324.2h0M46.2 303.2h0M44.9 326.0h0M39.2 314.0h0M40.5 327.5h0M41.7 325.0h0M63.9 315.5h0M44.2 318.7h0M40.0 319.2h0M44.1 324.5h0M38.8 326.4h0M39.6 314.9h0M47.8 325.0h0M40.4 322.4h0M42.2 319.7h0M36.4 329.1h0M60.6 325.7h0M167.4 291.1h0M37.1 325.4h0M74.8 294.1h0M38.7 331.0h0M101.9 262.0h0M57.4 319.4h0M39.5 325.0h0M49.8 321.8h0M47.4 327.0h0M43.2 327.0h0M50.2 296.8h0M37.9 321.7h0M37.2 319.6h0M38.6 328.3h0M44.0 321.8h0M87.2 296.7h0M41.2 321.2h0M88.5 305.2h0M53.5 307.6h0M36.8 328.1h0M46.7 313.8h0M39.4 317.4h0M43.7 324.4h0M54.3 315.2h0M39.6 304.0h0M41.8 323.6h0M91.8 305.8h0M36.9 326.5h0M37.7 329.1h0M58.8 318.6h0M41.1 321.3h0M56.7 323.1h0M39.4 322.2h0M50.3 304.5h0M39.0 318.7h0M70.8 310.9h0M50.6 320.9h0M43.3 315.6h0M38.1 331.7h0M40.9 318.2h0M37.8 317.4h0M43.9 323.5h0M37.1 329.9h0M39.4 325.2h0M38.2 299.2h0M48.6 319.5h0M36.1 321.8h0M71.5 289.1h0M46.6 320.4h0M38.9 322.1h0M37.4 322.2h0M36.6 325.2h0M39.7 326.6h0M39.2 324.9h0M52.5 308.9h0M40.3 326.2h0M61.9 323.0h0M151.0 257.7h0M36.3 332.4h0M38.9 323.2h0M47.5 329.1h0M44.9 329.5h0M38.7 323.1h0M38.9 326.5h0M53.4 324.0h0M43.6 327.3h0M43.2 324.2h0M37.6 325.8h0M145.2 231.0h0M42.9 323.7h0M41.2 321.8h0M46.4 322.4h0M44.2 327.0h0M54.5 327.3h0M43.3 328.8h0M40.8 329.0h0M44.0 323.0h0M44.8 322.8h0M41.1 327.1h0M51.1 316.3h0M45.9 310.7h0M42.2 312.8h0M38.4 329.5h0M41.8 326.2h0M38.1 328.0h0M40.4 330.1h0M37.1 322.9h0M43.7 305.6h0M42.1 315.1h0M38.4 324.4h0M37.6 322.0h0M39.3 321.0h0M55.9 310.2h0M53.8 316.9h0M50.4 324.1h0M39.8 326.3h0M38.3 331.6h0M52.0 327.2h0M41.3 325.3h0M41.5 312.9h0M56.8 319.6h0M47.1 330.1h0M58.7 299.7h0M46.7 302.0h0M38.6 326.4h0M46.3 329.2h0M42.4 315.0h0M36.7 326.9h0M44.3 321.8h0M37.9 326.3h0M43.7 328.1h0M62.9 298.8h0M146.2 276.7h0M62.9 322.4h0M61.1 298.5h0M40.3 320.7h0M41.0 324.9h0M42.9 322.1h0M36.9 327.0h0M57.6 308.8h0M44.1 316.8h0M53.0 306.7h0M42.6 322.6h0M36.7 324.9h0M37.2 322.5h0M42.2 319.6h0M44.1 318.5h0M59.8 321.3h0M52.9 328.2h0M40.2 317.7h0M57.4 313.3h0M43.6 325.1h0M38.8 325.1h0M44.3 324.3h0M36.3 309.4h0M39.9 324.1h0M47.2 313.2h0M51.0 328.7h0M37.8 322.9h0M44.7 320.5h0M44.5 322.9h0M45.5 328.3h0M37.5 311.4h0M37.2 316.6h0M66.1 321.9h0M48.2 326.7h0M44.8 320.7h0M45.3 308.0h0M41.6 321.2h0M38.3 319.5h0M44.7 319.6h0M45.8 323.5h0M47.6 292.7h0M51.8 316.7h0M48.4 323.3h0M47.6 313.5h0M41.6 320.4h0M42.3 319.1h0M50.2 320.5h0M39.1 326.3h0M37.8 317.1h0M45.0 318.2h0M39.0 326.2h0M39.9 327.9h0M39.1 326.8h0M76.0 312.8h0M116.6 231.3h0M132.8 285.5h0M37.0 329.0h0M47.3 328.8h0M80.4 311.5h0M41.8 331.8h0M46.8 310.0h0M37.3 331.3h0M37.7 328.6h0M50.9 313.6h0M38.7 306.7h0M48.1 297.1h0M45.0 328.9h0M42.7 323.9h0M47.1 328.7h0M40.0 322.2h0M56.7 313.8h0M46.3 312.7h0M41.4 322.4h0M65.8 314.1h0M40.6 329.4h0M40.6 327.0h0M36.8 326.9h0M41.0 324.5h0M50.5 319.6h0M36.3 326.0h0M113.4 256.1h0M42.5 329.4h0M39.3 325.3h0M38.1 328.1h0M46.3 326.4h0M38.6 331.0h0M42.4 318.6h0M36.7 330.3h0M44.7 321.3h0M45.8 312.5h0M49.2 326.5h0M40.5 326.6h0M41.4 315.5h0M37.1 326.2h0M42.5 326.7h0M37.3 313.7h0M74.3 253.2h0M135.9 257.4h0M44.6 321.9h0M53.2 319.6h0M40.5 324.2h0M42.1 324.9h0M41.4 328.1h0M39.4 320.8h0M54.6 314.3h0M36.6 331.8h0M49.1 322.4h0M47.1 323.1h0M44.0 322.4h0M46.4 323.2h0M36.6 318.5h0M41.9 329.4h0M38.5 320.4h0M73.1 307.2h0M51.1 327.8h0M36.6 324.0h0M45.2 318.2h0M37.5 315.3h0M40.4 327.5h0M47.1 294.3h0M43.5 327.3h0M48.0 315.9h0M38.1 324.2h0M51.1 300.1h0M41.7 327.1h0M63.3 226.0h0M43.4 316.7h0M40.2 326.5h0M40.7 323.4h0M37.8 313.9h0M153.1 237.6h0M40.4 323.5h0M141.3 285.2h0M52.1 319.0h0M51.2 312.0h0M39.6 328.8h0M36.7 331.5h0M36.6 325.2h0M123.4 255.8h0M56.5 317.1h0M39.0 324.3h0M72.6 306.3h0M40.0 318.2h0M40.6 324.3h0M42.7 320.4h0M41.4 318.8h0M37.4 323.5h0M39.0 318.3h0M45.4 320.0h0M37.0 323.1h0M41.2 320.1h0M41.8 324.4h0M49.9 322.1h0M36.6 326.0h0M51.0 318.6h0M63.5 302.1h0M72.1 265.6h0M36.3 327.9h0M52.5 315.8h0M58.8 324.1h0M39.1 321.6h0M69.5 323.0h0M118.0 292.1h0M40.5 325.2h0M40.5 329.0h0M36.9 319.8h0M37.1 323.7h0M42.3 316.5h0M37.4 312.2h0M38.4 330.6h0M130.6 265.1h0M51.1 325.0h0M46.6 305.7h0M55.2 323.5h0M44.6 324.8h0M48.5 312.2h0M60.0 311.8h0M37.0 325.0h0M42.2 322.0h0M173.6 248.7h0M47.1 320.2h0M48.8 316.8h0M44.3 327.7h0M36.6 328.5h0M37.8 320.8h0M36.4 320.4h0M36.1 313.4h0M41.4 320.2h0M44.1 321.3h0M51.1 324.8h0M45.8 315.5h0M137.3 274.2h0M37.1 328.1h0M44.1 320.9h0M38.9 326.1h0M124.5 244.2h0M39.5 326.7h0M38.9 328.2h0M38.4 315.0h0M53.0 324.9h0M81.4 270.7h0M36.5 329.3h0M50.4 313.0h0M102.0 295.9h0M54.9 308.6h0M73.2 276.3h0M38.8 317.6h0M43.3 315.8h0M117.1 279.2h0M48.6 311.0h0M55.4 303.6h0M161.9 276.1h0M38.4 322.7h0M100.9 306.0h0M37.8 330.0h0M39.8 326.6h0M40.9 306.4h0M38.7 325.1h0M39.3 329.6h0M48.4 327.9h0M38.9 330.0h0M44.2 311.9h0M38.1 312.6h0M148.3 225.7h0M58.1 314.1h0M40.6 320.4h0M48.5 306.5h0M41.1 319.4h0M45.1 326.1h0M44.7 321.7h0M44.5 320.5h0M41.7 311.6h0M40.8 325.7h0M45.0 315.0h0M40.4 326.3h0M40.5 326.1h0M69.0 297.0h0M44.4 295.2h0M45.3 309.7h0M46.5 329.1h0M41.8 322.5h0M43.0 322.2h0M36.2 331.7h0M51.3 321.4h0M49.3 321.4h0M52.4 311.4h0M46.3 315.1h0M40.7 329.5h0M40.1 330.3h0M38.2 328.9h0M48.4 319.5h0M48.0 312.8h0M44.6 323.8h0M46.2 329.7h0M47.2 328.0h0M36.7 323.7h0M50.2 310.9h0M38.8 328.9h0M41.0 325.6h0M53.6 305.1h0M63.3 324.9h0M68.4 306.4h0M43.6 323.4h0M40.2 316.1h0M37.1 326.9h0M42.8 326.3h0M42.8 326.9h0M64.7 249.1h0M43.2 316.5h0M67.8 298.3h0M38.5 317.0h0M40.8 325.0h0M38.8 327.7h0M45.3 323.4h0M59.1 310.5h0M43.4 328.4h0M37.9 326.3h0M91.3 299.0h0M50.3 318.8h0M37.2 317.1h0M37.0 320.6h0M37.0 308.9h0M43.2 316.6h0M39.3 315.6h0M38.3 324.2h0M40.0 325.1h0M54.2 286.2h0M38.3 311.7h0M37.8 311.6h0M38.6 324.5h0M45.8 301.0h0M42.3 324.4h0M38.2 331.7h0M36.0 330.0h0M36.3 327.9h0M49.7 323.4h0M46.6 327.6h0M47.4 321.8h0M52.5 304.7h0M40.6 310.7h0M72.8 290.5h0M51.6 321.0h0M54.7 320.4h0M41.3 329.8h0M44.3 321.7h0M37.2 327.1h0M38.7 310.9h0M43.1 325.6h0M42.7 329.4h0M111.6 230.1h0M36.2 331.0h0M46.0 320.8h0M44.0 329.3h0M36.5 327.0h0M70.2 314.1h0M36.8 329.7h0M37.0 324.8h0M44.8 327.1h0M41.0 324.7h0M37.2 328.4h0M40.9 326.0h0M45.0 316.7h0M92.2 270.2h0M41.0 317.4h0M39.2 322.3h0M164.1 209.7h0M72.7 264.7h0M47.0 323.6h0M47.8 312.3h0M38.2 319.9h0M45.8 322.0h0M38.4 326.3h0M36.0 319.2h0M59.7 301.2h0M45.7 325.8h0M54.0 316.8h0M37.3 327.4h0M54.8 319.0h0M55.5 328.3h0M44.1 310.9h0M53.9 308.8h0M137.3 265.0h0M44.1 320.3h0M38.8 331.7h0M44.8 318.1h0M50.4 310.3h0M41.2 328.5h0M99.7 275.2h0M37.6 330.9h0M38.9 327.9h0M55.8 316.0h0M37.4 327.8h0M65.1 306.1h0M36.6 320.0h0M41.3 322.1h0M47.2 319.1h0M45.3 325.9h0M160.0 261.7h0M67.6 319.3h0M51.0 318.4h0M38.9 322.8h0M134.4 286.3h0M40.6 328.2h0M36.9 329.2h0M46.2 325.1h0M38.1 328.6h0M37.7 318.9h0M44.9 313.9h0M37.6 331.7h0M38.9 319.1h0M77.2 298.7h0M44.2 329.5h0M41.2 331.2h0M46.0 323.9h0M70.7 317.2h0M45.0 324.7h0M39.1 321.3h0M39.1 314.9h0M36.8 318.2h0M50.4 313.0h0M37.5 324.2h0M39.3 323.9h0M52.1 322.2h0M37.8 331.5h0M94.1 267.4h0M60.7 317.4h0M56.6 263.4h0M37.1 323.6h0M36.9 326.9h0M92.5 312.6h0M46.1 324.7h0M40.9 324.8h0M43.2 312.5h0M68.0 321.3h0M43.7 324.0h0M42.8 315.6h0M40.7 315.3h0M43.1 329.1h0M41.9 327.2h0M40.4 323.2h0M65.3 324.0h0M37.7 320.5h0M51.8 323.4h0M52.4 307.6h0M38.5 321.4h0M45.7 321.0h0M62.1 310.7h0M43.7 326.6h0M37.6 329.7h0M37.5 325.6h0M45.6 313.9h0M39.3 317.0h0M37.3 328.0h0M38.1 330.9h0M45.9 319.0h0M41.2 318.9h0M41.4 319.9h0M37.7 331.7h0M37.6 324.7h0M46.1 323.9h0M51.7 292.1h0M37.4 326.2h0M40.2 328.3h0M88.4 268.4h0M53.8 307.2h0M44.6 320.2h0M98.0 260.1h0M38.5 327.4h0M38.9 325.1h0M81.6 291.8h0M37.9 323.0h0M40.8 323.0h0M41.4 325.8h0M40.8 327.3h0M121.8 266.9h0M43.5 317.3h0M61.3 317.1h0M44.0 314.5h0M53.9 311.9h0M62.8 293.5h0M53.5 323.2h0M39.7 326.8h0M47.6 319.6h0M39.2 322.8h0M49.6 319.5h0M44.4 326.0h0M46.6 313.1h0M37.4 323.5h0M50.9 319.3h0M43.1 322.1h0M96.3 298.9h0M45.7 323.8h0M37.0 329.4h0M67.9 273.9h0M45.7 320.3h0M38.9 318.3h0M51.4 325.0h0M45.8 320.4h0M43.1 325.1h0M38.1 325.0h0M39.6 331.0h0M40.4 323.4h0M38.1 327.1h0M43.1 313.7h0M56.9 319.6h0M40.3 321.9h0M41.9 325.4h0M47.2 318.4h0M46.7 323.7h0M38.1 328.4h0M51.6 321.7h0M45.1 327.9h0M37.6 324.7h0M42.8 328.1h0M42.1 321.7h0M40.9 326.1h0M42.9 325.8h0M51.2 325.7h0M37.8 331.2h0M46.9 319.6h0M37.2 305.6h0M58.7 310.1h0M42.1 327.9h0M36.1 323.5h0M37.4 324.9h0M61.4 307.9h0M36.7 321.6h0M44.5 321.3h0M37.2 327.2h0M37.3 323.9h0M59.3 316.3h0M52.3 296.3h0M91.0 302.6h0M36.7 317.7h0M44.5 322.5h0M42.2 320.6h0M50.6 327.4h0M50.5 327.9h0M43.6 325.8h0M81.3 293.2h0M41.6 328.9h0M63.1 301.8h0M43.6 328.0h0M62.3 313.9h0M64.8 267.0h0M41.1 321.7h0M47.7 329.1h0M43.9 322.1h0M41.5 321.5h0M40.3 323.1h0M44.1 330.8h0M39.8 328.5h0M56.1 322.0h0M46.4 323.2h0M44.4 328.8h0M61.2 321.8h0M96.7 230.1h0M46.9 322.9h0M43.7 320.9h0M39.5 324.2h0M40.3 322.0h0M55.0 315.9h0M53.4 321.3h0M37.1 320.0h0M48.8 325.1h0M49.2 298.4h0M39.1 319.8h0M84.7 313.2h0M81.6 310.5h0M42.5 327.8h0M103.6 277.8h0M49.4 317.3h0M43.3 327.6h0M50.5 324.2h0M40.2 317.7h0M51.4 311.5h0M39.6 327.7h0M44.9 321.0h0M42.6 317.3h0M87.3 299.0h0M61.2 326.4h0M38.0 316.1h0M39.5 313.3h0M39.2 325.7h0M37.3 329.1h0M41.8 316.4h0M43.3 322.7h0M101.5 287.9h0M40.9 315.3h0M113.7 285.3h0M38.6 323.7h0M38.8 324.3h0M36.9 331.1h0M46.4 323.0h0M49.6 325.9h0M42.7 325.5h0M44.9 314.3h0M37.1 331.8h0M39.0 331.7h0M40.8 319.9h0M58.5 297.3h0M114.0 276.8h0M60.8 279.0h0M38.7 321.1h0M46.1 326.9h0M37.3 325.2h0M36.8 323.8h0M47.1 317.2h0M53.1 324.9h0M52.4 292.5h0M38.9 318.6h0M54.4 326.5h0M42.4 326.5h0M43.8 323.4h0M46.5 328.6h0M40.2 326.9h0M43.1 325.4h0M38.0 331.5h0M67.2 306.9h0M37.0 316.8h0M37.5 324.9h0M40.8 318.3h0M44.3 308.4h0M76.2 294.6h0M47.2 320.1h0M44.3 320.8h0M36.8 328.4h0M59.8 296.9h0M37.6 316.5h0M41.6 317.2h0M37.9 313.9h0M41.4 315.1h0M46.9 315.4h0M38.8 323.4h0M38.1 320.9h0M41.5 319.2h0M37.3 324.4h0M37.9 327.8h0M51.9 317.9h0M37.8 314.1h0M43.1 319.8h0M36.7 309.0h0M40.7 326.4h0M68.5 313.1h0M41.9 316.7h0M39.3 323.6h0M50.6 327.9h0M40.0 322.2h0M122.2 265.9h0M38.7 328.8h0M60.7 324.3h0M43.4 318.1h0M47.7 288.7h0M41.5 321.6h0M43.3 319.0h0M38.7 329.0h0M44.9 326.5h0M38.3 322.5h0M45.6 325.3h0M45.1 313.1h0M49.0 329.6h0M43.4 325.2h0M169.4 232.5h0M41.5 328.4h0M39.9 326.8h0M109.5 297.0h0M50.8 317.3h0M40.0 328.7h0M37.3 327.3h0M37.2 328.7h0M42.2 307.5h0M36.4 321.4h0M58.7 307.5h0M39.0 319.6h0M42.3 315.0h0M41.8 313.0h0M40.5 322.8h0M69.9 301.0h0M46.6 317.7h0M36.6 327.3h0M44.3 321.7h0M37.0 322.6h0M44.2 320.8h0M48.7 310.3h0M46.3 319.0h0M47.5 323.6h0M39.3 324.1h0M43.2 328.2h0M64.9 271.5h0M37.2 332.1h0M37.4 320.9h0M44.9 330.5h0M42.7 329.0h0M113.6 292.4h0M49.3 306.2h0M38.8 316.3h0M39.8 312.6h0M36.9 326.5h0M82.6 306.8h0M43.4 281.0h0M37.1 328.5h0M37.4 328.1h0M37.2 320.9h0M44.9 320.0h0M36.8 326.3h0M37.9 312.5h0M45.8 321.6h0M44.0 319.8h0M36.3 325.5h0M59.6 304.7h0M64.9 289.2h0M40.6 326.7h0M43.9 326.0h0M42.9 315.9h0M36.5 331.3h0M42.0 317.4h0M36.3 328.7h0M55.8 287.0h0M45.1 328.0h0M41.2 329.9h0M153.0 205.9h0M43.9 315.8h0M137.8 288.5h0M40.0 318.1h0M48.6 308.4h0M39.2 318.1h0M37.7 332.2h0M45.7 316.0h0M49.4 290.4h0M92.2 285.4h0M48.2 318.7h0M45.8 315.1h0M40.3 321.6h0M36.5 326.0h0M37.0 327.0h0M43.1 324.0h0M37.0 327.5h0M39.3 323.1h0M40.9 320.6h0M36.8 331.8h0M46.5 324.1h0M55.5 315.8h0M48.2 323.5h0M93.3 291.5h0M130.7 205.2h0M48.9 306.3h0M41.8 325.4h0M47.0 322.8h0M53.8 321.1h0M41.6 323.4h0M65.2 325.4h0M39.3 324.7h0M37.6 325.0h0M42.5 320.7h0M39.3 317.2h0M61.0 314.1h0M44.5 320.3h0M42.5 331.4h0M40.2 316.2h0M56.3 289.8h0M39.7 320.6h0M39.0 322.2h0M57.2 325.4h0M51.1 299.5h0M36.2 328.5h0M43.8 316.6h0M42.3 323.6h0M39.2 324.6h0M37.2 324.7h0M42.4 323.4h0M41.0 320.7h0M38.2 324.7h0M44.3 329.5h0M45.9 322.7h0M53.3 318.8h0M41.3 324.0h0M118.8 253.1h0M45.2 321.2h0M40.3 328.7h0M70.3 305.4h0M37.8 324.5h0M48.8 322.3h0M64.9 291.9h0M38.5 326.0h0M40.8 324.0h0M36.8 330.7h0M38.0 325.0h0M78.6 296.2h0M36.4 329.1h0M46.9 324.6h0M42.0 317.8h0M62.5 311.7h0M42.3 313.4h0M44.4 325.2h0M36.9 329.8h0M48.3 323.8h0M52.6 326.1h0M128.5 277.8h0M46.7 317.9h0M97.3 289.0h0M53.0 285.9h0M47.6 322.3h0M38.0 326.0h0M94.2 297.8h0M37.4 325.4h0M45.4 324.1h0M36.8 317.5h0M49.5 327.1h0M113.8 295.6h0M48.4 308.8h0M51.7 321.2h0M37.1 325.6h0M38.4 320.5h0M39.6 327.2h0M37.1 319.2h0M39.4 322.5h0M43.5 307.8h0M48.5 326.7h0M36.5 327.9h0M38.7 319.9h0M41.6 326.2h0M37.0 328.1h0M48.1 286.5h0M42.0 321.5h0M45.1 308.1h0M68.7 306.5h0M40.0 316.0h0M44.8 329.7h0M38.0 322.1h0M109.9 269.0h0M42.8 325.5h0M36.4 326.2h0M40.3 322.0h0M38.3 325.3h0M55.7 309.0h0M37.6 330.7h0M41.6 325.1h0M38.8 325.7h0M37.1 325.9h0M41.4 329.4h0M38.5 318.9h0M54.5 318.7h0M54.1 320.6h0M47.9 321.2h0M42.7 325.9h0M39.6 324.7h0M39.5 329.3h0M44.4 318.5h0M47.9 304.0h0M105.1 239.4h0M42.9 326.0h0M37.3 324.7h0M61.8 312.2h0M38.3 315.5h0M41.1 319.0h0M56.2 298.5h0M42.0 318.9h0M69.8 292.5h0M38.6 328.5h0M48.4 318.4h0M60.1 292.9h0M37.1 316.2h0M60.9 299.6h0M47.7 317.6h0M54.3 279.8h0M36.7 323.4h0M44.4 324.5h0M111.2 288.7h0M36.4 326.8h0M39.6 322.4h0M41.7 328.9h0M122.2 243.2h0M36.8 330.1h0M41.1 326.4h0M39.5 327.4h0M62.7 322.5h0M40.7 318.2h0M41.4 324.7h0M37.1 331.3h0M36.8 324.5h0M39.2 314.2h0M39.1 331.7h0M37.2 328.3h0M47.8 306.4h0M38.4 328.2h0M38.2 320.7h0M50.7 299.5h0M69.7 271.4h0M41.5 322.1h0M43.8 328.4h0M51.0 329.0h0M41.3 314.2h0M40.2 324.1h0M85.7 247.4h0M37.1 324.3h0M43.6 319.0h0M40.7 320.7h0M37.3 328.6h0M57.2 318.6h0M44.0 321.1h0M45.6 321.6h0M38.0 320.6h0M38.0 321.9h0M46.9 319.5h0M43.3 320.7h0M43.3 315.5h0M81.2 269.7h0M58.5 318.0h0M56.6 313.8h0M44.5 318.8h0M53.4 313.7h0M38.1 331.7h0M46.3 320.5h0M39.6 320.5h0M52.1 312.7h0M42.2 316.6h0M55.2 322.3h0M47.3 322.0h0M62.8 321.7h0M50.8 315.9h0M50.9 314.1h0M44.2 312.5h0M38.8 325.6h0M39.5 329.0h0M44.3 314.5h0M41.2 325.0h0M39.1 317.1h0M37.7 329.4h0M36.8 329.5h0M52.0 309.9h0M36.5 322.6h0M55.1 326.7h0M37.1 326.4h0M51.1 312.1h0M36.3 321.6h0M41.9 326.0h0M42.1 320.9h0M39.6 329.1h0M37.6 305.0h0M149.5 217.2h0M43.6 319.7h0M44.3 322.7h0M41.6 308.3h0M51.1 325.9h0M41.1 323.1h0M42.3 309.4h0M45.7 322.5h0M53.5 302.1h0M61.7 324.8h0M38.1 321.4h0M48.0 325.1h0M39.5 328.7h0M40.1 327.2h0M38.8 318.2h0M40.2 328.3h0M42.0 311.0h0M38.5 330.7h0M36.9 327.5h0M44.0 310.7h0M43.7 325.0h0M49.1 326.3h0M107.1 301.4h0M45.0 322.3h0M70.1 320.4h0M54.4 323.8h0M40.3 322.2h0M38.1 317.9h0M59.5 308.5h0M37.3 324.1h0M50.4 321.7h0M37.7 321.4h0M58.6 325.4h0M43.5 320.4h0M36.7 319.8h0M78.5 256.4h0M57.8 315.3h0M40.3 326.2h0M38.5 318.3h0M37.2 329.2h0M37.2 331.3h0M66.1 306.3h0M40.4 329.3h0M40.0 318.5h0M43.8 326.1h0M37.4 329.4h0M42.7 327.2h0M39.8 321.3h0M37.6 317.0h0M54.1 316.3h0M131.0 276.9h0M39.0 325.0h0M106.2 272.6h0M145.3 223.1h0M42.9 331.4h0M44.6 298.8h0M38.7 322.4h0M71.4 255.4h0M43.7 318.6h0M37.9 318.0h0M38.1 325.1h0M128.4 288.3h0M53.7 326.6h0M44.7 317.1h0M42.3 323.4h0M60.1 324.1h0M37.2 326.1h0M43.1 313.6h0M49.7 312.9h0M40.3 317.1h0M64.9 322.6h0M37.5 320.8h0M48.9 324.4h0M43.8 312.4h0M45.9 291.3h0M42.4 322.1h0M39.8 317.7h0M39.2 320.1h0M81.9 313.6h0M45.0 324.3h0M110.7 284.0h0M38.3 314.3h0M46.3 320.8h0M38.4 320.0h0M42.3 323.5h0M138.6 218.6h0M41.3 324.9h0M48.4 324.8h0M52.3 312.6h0M36.4 316.3h0M38.9 330.8h0M40.0 321.2h0M37.0 323.0h0M38.9 315.3h0M39.9 330.8h0M43.9 316.7h0M39.0 320.8h0M46.4 318.2h0M50.8 329.5h0M68.3 313.4h0M74.8 312.3h0M46.1 321.9h0M41.1 325.0h0M40.4 317.1h0M38.3 328.8h0M54.8 321.5h0M39.4 326.6h0M51.3 319.2h0M45.3 318.2h0M42.5 306.6h0M37.5 316.0h0M40.9 317.8h0M40.6 327.2h0M53.8 327.8h0M37.5 324.4h0M61.5 277.6h0M46.4 300.4h0M40.4 328.9h0M42.2 314.1h0M48.6 327.3h0M40.6 319.8h0M43.4 314.7h0M54.1 302.6h0M47.9 312.7h0M72.5 280.9h0M39.3 323.2h0M38.8 324.1h0M144.3 217.4h0M43.5 323.5h0M36.4 321.4h0M39.7 320.7h0M57.0 304.6h0M46.5 328.4h0M174.1 264.7h0M36.1 324.1h0M50.6 323.2h0M76.2 256.9h0M43.5 327.4h0M45.0 289.8h0M40.8 325.5h0M50.4 318.3h0M36.4 313.5h0M46.7 317.3h0M46.4 324.6h0M39.9 327.8h0M37.8 325.1h0M38.3 314.5h0M57.1 298.2h0M37.2 329.1h0M36.8 321.3h0M36.4 326.0h0M96.8 284.9h0M50.5 324.0h0M52.5 313.4h0M45.3 299.9h0M40.2 327.4h0M41.1 326.4h0M37.1 324.1h0M162.4 252.3h0M37.9 326.0h0M67.6 305.3h0M125.1 258.2h0M47.4 326.5h0M65.4 298.6h0M45.0 323.6h0M48.4 298.7h0M36.8 324.8h0M51.2 324.2h0M42.6 318.4h0M68.2 300.1h0M53.9 312.1h0M40.5 329.2h0M70.2 311.1h0M62.4 300.9h0M48.5 322.0h0M61.0 316.3h0M47.6 319.4h0M97.9 277.2h0M41.2 323.6h0M46.9 322.2h0M44.8 329.1h0M37.4 323.9h0M41.4 319.4h0M41.7 321.1h0M37.0 325.5h0M55.2 308.2h0M40.0 325.2h0M54.6 316.0h0M39.4 326.4h0M37.7 326.3h0M40.2 318.6h0M43.6 317.9h0M43.7 322.0h0M48.0 323.2h0M37.9 323.6h0M41.8 326.3h0M41.9 324.0h0M40.0 313.4h0M52.1 301.2h0M100.2 279.6h0M51.1 321.7h0M42.5 327.3h0M36.5 322.1h0M48.0 319.6h0M37.9 317.3h0M53.5 290.7h0M42.4 318.7h0M48.1 317.0h0M49.8 316.0h0M63.4 305.7h0M71.4 303.2h0M36.2 326.2h0M47.8 310.3h0M40.8 328.9h0M52.5 325.0h0M38.5 329.1h0M47.5 303.6h0M47.0 304.9h0M39.3 325.7h0M42.6 315.5h0M37.6 320.5h0M48.1 324.0h0M40.4 329.1h0M45.9 330.8h0M99.1 279.4h0M113.4 246.1h0M61.6 311.4h0M38.9 323.4h0M49.3 318.9h0M75.2 292.8h0M37.8 317.7h0M39.6 324.9h0M39.6 326.0h0M40.0 324.1h0M42.3 325.0h0M41.4 319.9h0M42.6 316.9h0M47.1 315.2h0M42.1 318.3h0M41.5 328.9h0M40.0 325.6h0M36.1 324.3h0M37.0 325.6h0M41.9 330.6h0M48.4 320.5h0M49.6 327.2h0M38.5 332.0h0M42.1 313.4h0M42.1 331.4h0M42.6 322.6h0M63.3 297.0h0M41.5 323.3h0M62.2 316.6h0M55.9 319.0h0M94.6 297.1h0M51.0 298.9h0M40.6 314.2h0M77.4 255.2h0M36.6 325.0h0M41.4 325.4h0M150.4 274.4h0M38.5 326.6h0M43.4 316.0h0M46.1 330.8h0M71.9 231.7h0M37.7 308.4h0M83.7 289.8h0M42.5 320.9h0M42.6 324.7h0M47.9 316.9h0M39.9 316.5h0M39.3 319.2h0M55.8 324.6h0M41.5 326.7h0M42.0 326.4h0M43.6 314.2h0M46.0 309.0h0M41.4 315.2h0M51.4 320.0h0M53.2 308.2h0M40.1 323.9h0M165.6 233.9h0M89.4 297.6h0M47.9 319.8h0M40.8 329.2h0M41.2 321.0h0M43.6 323.4h0M51.8 327.4h0M174.6 201.6h0M80.2 308.0h0M38.8 327.0h0M46.6 310.2h0M37.9 319.5h0M42.3 323.0h0M45.3 330.1h0M43.5 328.2h0M134.9 271.7h0M39.4 329.5h0M37.3 322.5h0M38.2 323.5h0M53.0 319.6h0M47.3 319.9h0M37.9 319.6h0M40.6 328.8h0M46.6 312.7h0M37.6 318.1h0M48.3 327.9h0M48.7 320.3h0M43.0 322.6h0M49.4 319.3h0M36.4 323.7h0M45.4 328.0h0M41.3 300.9h0M36.6 332.0h0M57.2 314.3h0M88.6 294.6h0M38.7 320.5h0M39.7 323.7h0M84.8 296.0h0M40.7 326.2h0M42.3 312.8h0M46.3 306.6h0M41.4 325.9h0M52.2 322.7h0M47.1 310.9h0M38.1 325.6h0M149.8 204.6h0M37.5 325.6h0M37.8 332.4h0M65.1 294.9h0M37.8 327.6h0M56.1 316.7h0M39.7 329.3h0M46.3 318.7h0M41.4 326.3h0M40.1 320.3h0M45.8 321.9h0M50.2 311.4h0M72.1 303.5h0M37.9 328.1h0M40.7 312.8h0M35.4 328.5h0M35.4 324.1h0M35.4 308.4h0M35.4 324.8h0M35.4 332.6h0M35.4 329.8h0M35.4 332.5h0M35.4 318.6h0M35.4 331.7h0M35.4 329.6h0M35.4 323.0h0M35.4 313.1h0M35.4 322.8h0M35.4 319.4h0M35.4 332.5h0M35.4 323.0h0M35.4 312.1h0M35.4 323.8h0M35.4 310.1h0M35.4 318.3h0M35.4 317.5h0M35.4 321.9h0M35.4 317.8h0M35.4 322.0h0M35.4 314.6h0M35.4 325.0h0M35.4 313.9h0M35.4 323.1h0M35.4 318.3h0M35.4 319.7h0M35.4 319.1h0M35.4 313.9h0M35.4 326.1h0M35.4 316.7h0M35.4 313.8h0M35.4 308.6h0M35.4 329.2h0M35.4 325.9h0M35.4 321.6h0M35.4 326.9h0M35.4 322.5h0M35.4 328.5h0M35.4 329.6h0M35.4 329.3h0M35.4 311.7h0M35.4 317.4h0M35.4 329.2h0M35.4 313.6h0M35.4 320.5h0M35.4 314.8h0M35.4 309.1h0M35.4 321.4h0M35.4 313.1h0M35.4 331.5h0M35.4 329.9h0M35.4 321.9h0M35.4 299.2h0M35.4 307.3h0M35.4 298.1h0M35.4 304.4h0" stroke="#000" stroke-width="1.15" stroke-linecap="round" opacity="0.7" fill="none"/>
<path d="M39.1 318.9h0M80.5 288.9h0M59.5 278.4h0M50.1 320.9h0M46.3 327.8h0M57.2 320.9h0M173.5 244.3h0M46.9 321.5h0M40.0 325.9h0M41.9 328.0h0M41.2 329.0h0M48.5 327.6h0M56.1 295.7h0M39.0 326.5h0M66.6 294.6h0M37.0 331.6h0M63.7 321.9h0M38.7 330.7h0M40.2 324.7h0M37.1 327.0h0M46.5 321.8h0M46.8 326.6h0M55.5 296.9h0M39.1 326.7h0M43.8 325.0h0M51.1 304.5h0M53.5 325.6h0M49.1 324.2h0M53.9 313.8h0M50.3 323.0h0M38.7 314.1h0M40.7 316.2h0M38.9 327.6h0M46.2 322.3h0M37.6 313.2h0M43.9 327.3h0M36.7 325.8h0M47.4 301.4h0M39.6 321.2h0M53.7 326.0h0M41.0 319.9h0M54.2 317.8h0M38.5 324.6h0M53.1 328.3h0M85.6 267.6h0M41.6 329.4h0M38.9 327.7h0M43.5 310.3h0M47.2 313.1h0M46.4 325.7h0M39.3 321.2h0M49.5 318.9h0M37.2 323.9h0M67.8 310.5h0M43.6 316.8h0M100.9 246.5h0M41.0 320.1h0M90.4 310.5h0M68.0 295.6h0M41.6 317.8h0M43.7 323.4h0M37.5 316.2h0M43.1 311.7h0M42.5 329.5h0M49.0 315.7h0M57.2 299.6h0M42.0 323.7h0M45.4 322.0h0M39.8 327.8h0M47.3 320.5h0M39.8 320.9h0M42.5 331.7h0M80.4 254.0h0M43.2 320.3h0M47.8 326.4h0M41.4 325.1h0M47.4 312.8h0M45.2 314.3h0M37.4 327.3h0M42.9 329.3h0M42.2 323.4h0M39.9 331.0h0M95.2 300.7h0M50.2 298.7h0M65.1 313.9h0M44.4 319.5h0M60.0 309.7h0M39.3 328.3h0M83.0 262.9h0M37.4 323.6h0M49.7 315.1h0M45.4 321.1h0M49.1 327.2h0M79.9 285.1h0M42.2 327.1h0M43.0 328.0h0M51.7 319.3h0M82.3 293.4h0M37.6 321.6h0M50.6 323.1h0M38.9 325.8h0M42.3 315.3h0M48.2 317.3h0M40.0 319.1h0M39.7 322.8h0M39.2 331.1h0M36.3 329.4h0M53.5 324.3h0M47.1 323.8h0M38.4 332.3h0M38.8 323.3h0M37.3 318.4h0M36.8 324.0h0M36.8 326.3h0M50.8 281.7h0M40.0 328.0h0M41.3 322.9h0M51.4 320.9h0M46.1 316.6h0M38.2 315.0h0M37.9 325.0h0M37.4 330.9h0M43.0 309.6h0M47.9 326.3h0M37.6 324.7h0M65.9 323.3h0M94.6 293.9h0M39.8 316.6h0M44.4 323.6h0M39.2 318.6h0M47.8 313.3h0M56.2 312.0h0M49.7 298.1h0M38.3 316.5h0M38.0 319.5h0M76.2 285.7h0M42.1 323.6h0M42.5 310.4h0M37.9 320.8h0M45.0 327.5h0M36.3 327.5h0M137.5 269.3h0M51.1 324.5h0M41.6 320.9h0M45.6 323.6h0M50.6 321.6h0M123.2 275.8h0M44.2 319.0h0M95.4 282.6h0M58.0 315.6h0M49.7 318.1h0M38.8 316.7h0M40.3 325.5h0M45.8 296.4h0M38.3 327.2h0M36.8 328.3h0M80.2 286.9h0M40.6 322.0h0M37.3 323.4h0M45.6 325.1h0M39.1 324.5h0M38.4 324.4h0M37.7 331.8h0M45.5 318.1h0M40.1 326.2h0M39.7 320.7h0M44.2 325.7h0M37.7 325.1h0M42.3 319.3h0M41.8 324.3h0M44.0 327.4h0M46.5 316.1h0M43.9 317.9h0M124.8 252.9h0M39.3 327.8h0M75.3 300.4h0M44.8 305.4h0M169.2 258.9h0M45.8 320.0h0M42.1 324.7h0M52.0 321.5h0M42.9 325.3h0M39.2 328.5h0M39.8 327.3h0M38.1 324.1h0M83.3 298.5h0M50.3 314.0h0M68.7 313.5h0M42.5 320.0h0M40.9 323.2h0M38.8 330.7h0M38.2 319.0h0M39.7 308.8h0M60.1 314.5h0M45.5 329.5h0M51.3 311.2h0M42.9 319.8h0M37.7 325.5h0M40.9 315.7h0M40.8 318.8h0M47.8 329.1h0M39.3 327.3h0M45.1 326.1h0M46.6 323.8h0M37.2 325.5h0M78.3 301.3h0M45.0 330.7h0M37.5 323.8h0M43.3 325.6h0M50.3 320.8h0M37.8 326.6h0M97.0 245.5h0M77.7 313.2h0M64.9 318.9h0M42.4 327.4h0M43.3 315.3h0M37.0 322.8h0M89.0 306.4h0M38.0 325.5h0M39.4 320.3h0M37.9 320.2h0M56.3 315.5h0M50.6 328.4h0M89.3 257.3h0M59.6 300.9h0M56.6 316.0h0M40.8 323.8h0M39.0 326.3h0M37.4 328.4h0M44.1 318.1h0M37.3 325.4h0M40.4 325.5h0M36.9 324.0h0M46.0 319.4h0M44.2 309.8h0M60.6 292.8h0M40.3 325.5h0M39.2 310.5h0M64.6 299.3h0M44.3 320.3h0M36.5 329.2h0M40.9 331.0h0M38.6 326.5h0M36.6 319.6h0M56.8 313.8h0M42.0 319.3h0M37.9 328.2h0M38.4 325.8h0M39.0 319.1h0M53.4 323.3h0M48.6 329.1h0M38.8 323.3h0M43.0 314.1h0M56.5 321.7h0M50.3 319.3h0M41.1 310.4h0M36.9 329.9h0M58.4 320.1h0M55.2 318.9h0M37.5 317.2h0M39.5 318.3h0M49.6 317.9h0M39.5 322.1h0M41.9 316.9h0M39.2 329.5h0M44.8 326.0h0M38.9 330.8h0M47.0 318.7h0M36.3 324.0h0M40.4 319.2h0M37.9 325.4h0M42.7 324.4h0M37.4 324.7h0M39.2 328.4h0M38.7 318.4h0M74.6 283.1h0M38.1 322.4h0M38.4 328.1h0M65.8 302.6h0M53.6 320.3h0M37.4 330.3h0M56.0 311.4h0M43.0 331.6h0M43.0 328.3h0M45.3 324.8h0M38.5 325.7h0M38.5 321.6h0M37.4 292.0h0M51.4 296.2h0M37.2 322.5h0M47.7 318.1h0M60.0 300.4h0M61.3 208.6h0M141.0 200.0h0M46.9 327.9h0M152.8 280.7h0M45.4 313.1h0M51.5 300.8h0M37.4 330.2h0M40.4 331.2h0M69.3 313.7h0M53.5 325.4h0M44.5 313.5h0M47.5 320.2h0M57.5 302.6h0M41.4 329.3h0M41.7 324.0h0M51.9 316.5h0M46.5 322.9h0M37.9 315.9h0M39.6 330.9h0M48.6 319.5h0M40.4 322.8h0M42.3 322.8h0M43.0 313.3h0M42.2 314.4h0M60.1 288.0h0M39.0 320.0h0M81.8 293.9h0M36.9 316.4h0M53.6 319.3h0M52.3 316.8h0M43.2 322.0h0M41.5 328.9h0M36.8 329.0h0M45.5 320.6h0M47.5 312.7h0M41.5 325.8h0M42.6 304.9h0M41.8 328.8h0M45.0 314.1h0M37.6 331.7h0M97.2 295.9h0M38.2 331.3h0M42.9 320.5h0M41.8 321.9h0M38.1 323.0h0M44.9 326.8h0M54.9 323.1h0M39.8 319.5h0M61.9 318.0h0M52.0 323.4h0M41.6 330.2h0M36.1 327.5h0M43.5 324.0h0M51.2 327.9h0M44.1 322.5h0M122.1 285.9h0M36.8 325.5h0M49.0 325.9h0M52.0 325.5h0M39.6 328.3h0M55.7 303.4h0M44.5 325.9h0M44.3 323.0h0M37.4 318.3h0M42.7 320.7h0M37.0 327.8h0M42.1 323.4h0M39.8 326.5h0M41.5 325.5h0M46.7 325.1h0M37.2 318.7h0M36.1 330.7h0M38.0 326.2h0M40.1 301.9h0M52.2 310.7h0M40.3 316.7h0M43.7 319.9h0M38.7 325.4h0M39.7 326.7h0M42.4 320.9h0M40.9 321.4h0M101.4 282.9h0M39.8 325.1h0M43.6 307.1h0M44.4 324.5h0M37.6 321.9h0M112.4 299.8h0M97.1 312.2h0M43.7 327.4h0M41.8 323.2h0M49.4 316.6h0M44.2 329.5h0M47.8 317.6h0M45.3 311.6h0M58.9 303.0h0M40.3 309.3h0M66.2 290.4h0M37.7 327.9h0M58.9 310.5h0M40.8 293.6h0M49.1 318.4h0M37.0 325.7h0M40.6 318.4h0M39.4 319.2h0M37.6 325.9h0M39.3 324.2h0M44.9 328.2h0M38.4 315.7h0M37.8 321.1h0M37.2 313.8h0M39.4 320.2h0M39.8 318.9h0M58.2 313.8h0M42.9 326.4h0M48.0 316.3h0M37.7 326.2h0M45.5 312.6h0M53.0 315.5h0M44.7 322.2h0M84.8 280.2h0M114.2 211.7h0M54.9 315.9h0M39.6 313.5h0M46.6 309.7h0M55.8 293.2h0M59.3 302.2h0M38.8 320.2h0M109.2 285.8h0M53.7 313.7h0M40.2 328.2h0M49.5 319.3h0M38.1 324.2h0M39.8 326.2h0M39.7 325.7h0M37.5 330.0h0M41.8 327.6h0M53.8 314.8h0M39.7 323.5h0M38.7 325.7h0M38.6 316.3h0M70.0 307.1h0M38.1 320.1h0M51.4 298.6h0M41.1 317.5h0M59.9 316.7h0M43.7 322.6h0M40.6 329.1h0M39.5 323.0h0M36.8 329.9h0M57.4 312.3h0M39.9 325.9h0M43.4 326.5h0M53.3 328.3h0M37.5 331.0h0M36.5 325.5h0M58.2 316.8h0M43.6 322.3h0M37.0 322.3h0M44.6 316.4h0M43.6 318.1h0M42.7 325.6h0M40.2 326.0h0M37.4 323.4h0M47.7 312.7h0M49.6 324.8h0M93.8 296.6h0M40.3 321.6h0M56.8 310.0h0M49.0 322.3h0M39.6 330.3h0M68.2 304.6h0M76.8 301.1h0M37.0 325.7h0M38.3 324.0h0M37.8 310.9h0M37.0 325.6h0M37.8 331.1h0M53.6 328.3h0M53.5 326.0h0M44.6 322.2h0M99.8 295.6h0M38.5 319.2h0M106.4 231.0h0M47.8 318.5h0M41.9 329.2h0M36.4 329.8h0M38.7 325.3h0M45.5 312.3h0M74.4 308.5h0M47.5 317.5h0M41.6 308.3h0M53.2 304.7h0M44.8 324.6h0M37.4 321.7h0M83.7 284.2h0M71.6 311.5h0M37.1 318.8h0M48.1 318.5h0M36.6 326.5h0M46.2 318.4h0M53.8 324.9h0M37.8 317.2h0M43.2 326.4h0M44.1 317.2h0M48.8 327.6h0M67.1 314.3h0M41.7 316.1h0M44.4 329.9h0M49.4 328.6h0M47.5 310.7h0M37.8 316.1h0M36.4 328.9h0M57.3 309.6h0M46.1 310.4h0M37.0 330.8h0M51.8 323.5h0M66.8 302.2h0M38.9 323.3h0M45.3 317.2h0M48.9 319.6h0M37.2 325.1h0M43.5 323.1h0M49.3 319.7h0M57.9 317.2h0M56.5 327.5h0M46.6 292.3h0M44.1 322.1h0M91.0 246.2h0M82.9 283.3h0M38.0 327.1h0M37.6 317.1h0M43.9 318.1h0M44.0 320.9h0M51.7 316.7h0M50.1 310.1h0M61.2 308.8h0M57.5 293.7h0M52.8 312.9h0M88.1 293.3h0M74.7 286.3h0M48.1 317.7h0M52.1 318.2h0M43.6 329.2h0M39.3 322.8h0M38.4 323.0h0M49.6 320.6h0M46.5 310.9h0M72.8 266.8h0M116.4 260.9h0M47.0 325.9h0M47.8 325.0h0M41.6 319.1h0M40.5 322.5h0M47.5 321.0h0M43.4 316.3h0M51.9 319.7h0M36.8 331.2h0M55.9 298.8h0M89.1 266.3h0M56.0 306.6h0M39.5 315.3h0M37.8 315.3h0M48.9 310.5h0M37.3 321.7h0M64.6 318.2h0M44.5 325.3h0M43.8 324.6h0M39.4 325.2h0M50.2 314.0h0M41.3 324.3h0M48.7 327.9h0M60.7 324.1h0M40.5 319.8h0M41.5 332.0h0M40.0 308.9h0M50.0 320.6h0M39.9 314.7h0M39.7 322.2h0M38.4 328.7h0M64.1 297.3h0M53.8 313.4h0M107.6 239.5h0M40.8 322.4h0M118.5 245.6h0M39.7 310.6h0M42.9 318.4h0M41.5 322.7h0M46.8 326.5h0M79.6 291.7h0M54.3 326.0h0M56.3 296.1h0M59.4 318.7h0M45.7 325.0h0M39.0 331.6h0M48.8 316.4h0M40.9 322.8h0M42.0 320.5h0M36.7 329.3h0M37.0 314.5h0M52.0 324.3h0M37.9 319.0h0M55.9 322.1h0M41.1 315.6h0M45.6 322.2h0M38.9 319.7h0M40.6 325.5h0M46.3 308.7h0M40.9 323.4h0M36.5 322.8h0M155.5 248.6h0M36.3 331.6h0M42.0 314.3h0M41.0 324.5h0M45.8 324.9h0M113.4 281.2h0M55.0 327.6h0M49.0 318.6h0M166.9 212.1h0M38.4 310.8h0M75.9 299.6h0M39.2 319.3h0M62.1 305.7h0M37.8 319.9h0M38.8 325.6h0M38.5 323.7h0M36.7 322.6h0M40.4 316.7h0M47.3 319.5h0M49.0 325.7h0M41.6 326.5h0M38.1 329.2h0M44.9 330.1h0M42.6 323.1h0M40.8 313.3h0M52.2 304.4h0M37.5 325.7h0M45.8 328.1h0M46.1 316.4h0M44.8 322.0h0M55.5 318.8h0M52.4 327.1h0M36.2 326.4h0M41.6 324.6h0M43.1 315.5h0M36.3 320.0h0M40.0 323.1h0M39.0 318.0h0M49.0 316.9h0M45.6 316.5h0M41.8 318.9h0M48.5 325.9h0M39.6 318.0h0M68.6 319.6h0M42.3 321.9h0M43.9 316.2h0M40.8 323.4h0M50.9 291.6h0M124.5 232.9h0M43.1 325.8h0M37.2 328.2h0M38.6 321.6h0M44.2 328.1h0M37.6 312.2h0M37.9 324.0h0M47.3 317.9h0M46.6 320.4h0M45.8 311.7h0M49.4 298.7h0M48.7 319.0h0M114.0 262.2h0M50.2 320.8h0M42.9 325.1h0M43.0 322.2h0M40.7 315.9h0M38.4 323.7h0M36.8 312.7h0M42.5 324.4h0M38.8 311.2h0M50.5 318.9h0M40.1 324.3h0M39.9 316.5h0M40.1 318.3h0M39.2 330.6h0M40.1 331.7h0M38.6 324.5h0M52.6 325.4h0M38.9 322.9h0M49.8 324.5h0M41.5 316.5h0M38.2 329.5h0M62.5 321.8h0M42.7 326.8h0M43.7 324.7h0M68.2 320.2h0M39.4 324.8h0M39.4 321.8h0M62.8 299.2h0M51.7 317.1h0M37.8 323.2h0M42.7 319.6h0M39.9 319.4h0M41.9 315.0h0M50.5 327.9h0M36.4 330.3h0M47.4 320.4h0M51.5 308.8h0M36.4 327.6h0M40.5 327.8h0M38.2 316.6h0M41.8 224.4h0M45.4 326.0h0M41.8 320.0h0M42.2 321.8h0M46.8 308.2h0M55.1 292.2h0M39.1 326.2h0M41.7 323.8h0M37.4 324.4h0M53.3 320.6h0M44.7 315.4h0M40.5 319.5h0M49.7 320.0h0M38.7 327.5h0M68.9 277.9h0M83.3 297.8h0M71.9 294.3h0M44.3 324.7h0M37.9 323.3h0M43.6 329.5h0M38.4 324.6h0M46.1 321.7h0M123.5 298.8h0M91.7 296.4h0M42.4 321.9h0M45.2 298.4h0M36.4 322.9h0M57.0 322.0h0M57.1 309.8h0M43.2 325.0h0M45.8 309.6h0M60.1 305.7h0M39.6 321.7h0M43.8 329.2h0M52.6 325.2h0M91.3 312.3h0M46.8 326.7h0M44.0 327.7h0M40.0 324.1h0M39.2 322.4h0M47.4 322.7h0M170.6 267.7h0M64.3 284.7h0M45.8 317.9h0M49.0 325.3h0M144.9 195.1h0M37.7 316.5h0M62.3 317.2h0M39.5 320.0h0M57.9 318.7h0M39.1 311.4h0M83.7 290.4h0M49.2 309.9h0M98.4 230.5h0M55.4 309.0h0M42.7 329.2h0M46.0 322.2h0M37.7 327.7h0M83.7 263.1h0M67.6 311.4h0M53.9 313.3h0M126.3 275.6h0M42.8 331.3h0M150.5 196.0h0M52.9 322.3h0M37.3 325.9h0M38.7 315.5h0M45.0 309.8h0M36.8 328.9h0M57.1 319.1h0M46.4 327.1h0M37.5 314.0h0M54.7 321.8h0M38.0 316.5h0M43.7 328.9h0M66.2 319.5h0M41.2 323.2h0M39.8 317.2h0M40.8 321.3h0M40.0 324.7h0M72.1 311.2h0M55.6 314.7h0M38.5 321.8h0M36.6 325.8h0M135.7 277.2h0M79.7 267.2h0M44.8 323.6h0M45.4 325.4h0M41.4 321.8h0M49.0 319.4h0M42.1 316.9h0M36.9 327.3h0M44.7 319.3h0M48.1 328.7h0M91.2 296.9h0M50.4 317.1h0M41.1 318.7h0M47.5 319.8h0M37.1 319.9h0M42.8 323.1h0M42.2 317.9h0M52.3 318.1h0M39.7 314.6h0M40.0 327.1h0M39.9 308.5h0M42.9 327.6h0M49.7 322.7h0M36.9 329.8h0M43.5 320.8h0M37.1 323.7h0M54.4 321.3h0M40.0 325.8h0M40.1 325.2h0M44.1 316.1h0M40.8 317.1h0M53.5 327.8h0M47.9 316.5h0M43.7 323.6h0M36.8 332.0h0M40.8 315.2h0M78.6 319.1h0M41.5 330.2h0M43.3 318.9h0M36.1 324.4h0M37.5 326.6h0M40.5 323.7h0M47.2 326.4h0M47.8 323.3h0M43.2 318.1h0M36.6 331.4h0M40.6 321.6h0M36.9 325.4h0M46.7 311.1h0M159.7 235.4h0M42.8 318.5h0M36.4 330.2h0M47.8 325.5h0M38.6 331.4h0M48.5 312.4h0M37.8 314.0h0M38.3 314.8h0M43.2 319.4h0M48.8 276.9h0M42.0 323.8h0M37.9 327.4h0M41.7 315.4h0M46.3 325.3h0M36.4 325.0h0M36.2 329.3h0M43.7 318.3h0M44.0 324.2h0M38.0 319.4h0M63.9 287.8h0M105.9 262.7h0M57.9 325.8h0M39.7 322.0h0M40.3 326.7h0M45.2 321.5h0M53.0 320.0h0M44.5 306.0h0M37.0 329.3h0M63.0 305.3h0M44.0 323.6h0M83.2 297.6h0M44.4 325.5h0M44.7 322.6h0M53.4 328.9h0M37.4 318.6h0M46.4 317.3h0M38.8 328.1h0M41.2 327.4h0M36.6 330.7h0M40.0 315.5h0M88.7 288.4h0M61.9 310.8h0M59.9 318.5h0M39.5 329.7h0M42.3 324.2h0M61.5 307.8h0M76.5 276.7h0M47.3 307.4h0M41.6 325.9h0M37.6 323.5h0M41.0 320.7h0M51.2 328.4h0M95.5 293.9h0M46.5 319.9h0M38.6 322.9h0M90.8 300.2h0M41.6 327.4h0M61.6 309.3h0M38.6 324.8h0M37.1 315.6h0M47.4 319.6h0M73.1 313.2h0M39.6 313.8h0M44.5 322.5h0M43.3 323.6h0M48.0 323.9h0M40.6 326.9h0M36.5 312.9h0M77.7 283.5h0M40.2 332.0h0M36.9 323.5h0M65.2 293.0h0M43.5 319.5h0M41.6 321.0h0M46.3 324.7h0M48.4 308.2h0M94.9 286.7h0M38.1 318.4h0M44.3 316.4h0M50.7 319.4h0M47.6 290.9h0M36.9 325.3h0M48.8 320.8h0M91.0 300.5h0M49.3 327.0h0M44.3 328.6h0M71.6 290.6h0M37.2 322.3h0M46.4 322.0h0M36.7 329.3h0M37.3 324.1h0M38.0 323.1h0M56.3 299.4h0M66.4 276.8h0M40.1 324.3h0M47.8 324.1h0M41.7 321.1h0M44.2 312.9h0M53.7 301.2h0M45.2 317.6h0M48.2 321.5h0M46.3 305.9h0M37.3 312.6h0M46.2 320.4h0M62.9 311.0h0M51.7 323.0h0M85.4 316.0h0M45.3 318.7h0M50.3 315.3h0M41.9 325.1h0M42.9 324.6h0M65.9 299.8h0M38.6 301.5h0M38.6 321.5h0M43.4 325.9h0M37.7 329.9h0M39.3 328.7h0M117.9 260.5h0M41.8 326.6h0M36.8 322.2h0M40.0 321.3h0M44.5 328.6h0M44.5 319.3h0M40.2 309.8h0M84.4 299.0h0M39.2 332.2h0M60.2 315.7h0M39.1 309.3h0M117.9 258.7h0M45.5 320.0h0M52.4 301.4h0M43.9 319.4h0M36.5 326.5h0M41.5 320.6h0M42.7 318.9h0M94.8 264.3h0M55.7 302.5h0M41.2 328.1h0M37.8 318.4h0M49.6 306.7h0M39.6 323.3h0M36.8 326.0h0M55.1 294.5h0M43.7 326.8h0M42.9 324.5h0M127.0 287.4h0M69.8 311.6h0M37.1 329.5h0M55.1 323.2h0M55.4 319.6h0M93.2 271.1h0M58.9 312.7h0M41.6 319.1h0M38.9 324.3h0M43.3 331.1h0M39.6 323.8h0M91.6 276.8h0M56.2 319.8h0M40.0 330.5h0M39.1 313.5h0M43.1 319.6h0M41.5 317.5h0M42.9 322.3h0M41.3 328.7h0M74.2 307.5h0M42.3 309.8h0M87.0 292.5h0M38.0 323.3h0M90.8 299.0h0M50.0 318.0h0M37.1 323.7h0M74.3 294.4h0M72.9 308.4h0M44.5 328.1h0M51.6 321.3h0M44.9 318.3h0M56.7 319.9h0M42.1 321.3h0M50.7 299.1h0M40.6 331.5h0M86.4 232.2h0M37.4 323.3h0M46.6 312.6h0M40.4 326.6h0M40.8 318.6h0M77.1 302.8h0M39.7 330.9h0M37.6 325.8h0M38.8 325.3h0M77.0 298.7h0M50.8 321.9h0M44.2 326.8h0M41.7 323.4h0M48.1 313.9h0M39.4 312.5h0M41.3 321.5h0M41.8 308.0h0M41.9 309.0h0M42.9 322.1h0M83.0 305.3h0M50.7 311.4h0M44.5 326.3h0M39.7 328.3h0M87.9 235.5h0M55.8 316.8h0M54.8 294.6h0M54.5 320.7h0M44.2 321.0h0M36.5 322.3h0M41.8 326.6h0M44.1 326.0h0M57.2 315.2h0M42.3 317.8h0M124.3 248.5h0M68.3 299.8h0M52.3 317.9h0M43.9 318.8h0M38.6 324.0h0M41.3 313.7h0M45.0 327.4h0M58.6 326.2h0M40.2 331.7h0M42.3 331.7h0M39.4 325.8h0M55.5 323.9h0M40.4 319.3h0M36.9 324.6h0M51.3 315.7h0M52.5 324.5h0M43.0 324.3h0M84.8 288.3h0M53.4 322.6h0M45.5 324.5h0M45.5 321.4h0M39.7 326.9h0M47.8 328.9h0M39.4 327.7h0M42.3 330.1h0M55.4 315.7h0M129.6 267.8h0M43.9 313.9h0M41.3 315.6h0M37.7 322.8h0M66.2 321.3h0M38.2 331.7h0M36.2 328.8h0M37.5 319.3h0M38.5 328.7h0M67.8 297.2h0M62.2 277.0h0M39.3 329.5h0M43.1 323.7h0M58.5 309.5h0M46.9 311.1h0M37.8 329.9h0M43.2 309.0h0M52.6 324.7h0M43.1 327.1h0M42.5 324.2h0M37.3 328.3h0M40.9 316.8h0M57.9 310.9h0M78.2 321.9h0M38.4 323.1h0M37.5 329.8h0M38.5 320.1h0M62.4 322.1h0M37.4 326.9h0M38.8 321.6h0M49.6 292.0h0M47.7 320.5h0M38.8 327.3h0M46.8 318.8h0M48.5 323.4h0M124.3 252.3h0M106.1 249.5h0M37.0 331.2h0M60.5 325.8h0M47.0 326.4h0M39.1 323.8h0M102.9 285.0h0M42.5 313.2h0M84.6 300.3h0M38.5 305.3h0M36.5 325.8h0M41.6 323.0h0M53.8 299.6h0M39.8 326.0h0M67.4 300.1h0M36.8 316.4h0M42.1 327.7h0M37.1 328.3h0M75.0 320.6h0M40.9 321.9h0M46.9 314.1h0M75.5 311.2h0M44.4 319.4h0M52.1 318.3h0M51.5 320.3h0M53.0 320.1h0M90.3 277.2h0M41.6 322.6h0M57.1 321.1h0M42.7 317.1h0M39.0 331.0h0M41.0 316.3h0M133.2 288.4h0M54.7 307.6h0M48.4 327.1h0M74.2 276.4h0M44.6 314.1h0M61.2 318.6h0M42.8 318.3h0M40.3 326.2h0M74.2 307.4h0M41.0 326.3h0M44.5 327.8h0M39.9 321.5h0M37.3 307.5h0M57.0 317.6h0M91.7 298.2h0M51.2 325.6h0M48.8 316.3h0M47.4 316.8h0M37.7 329.1h0M52.3 310.7h0M44.4 314.2h0M39.5 319.2h0M37.8 324.2h0M44.7 319.8h0M59.5 303.3h0M57.0 322.4h0M172.9 234.6h0M45.5 321.6h0M115.0 283.9h0M49.4 321.7h0M38.1 325.1h0M43.5 328.4h0M38.7 317.9h0M44.3 330.3h0M36.8 328.8h0M43.4 317.9h0M64.2 278.7h0M41.8 319.1h0M52.1 305.5h0M40.8 322.9h0M53.6 318.4h0M69.4 291.8h0M38.9 315.5h0M42.3 324.6h0M97.3 309.6h0M38.5 324.3h0M40.4 303.0h0M48.4 325.1h0M45.6 318.4h0M47.1 321.4h0M61.4 321.5h0M47.2 328.0h0M39.8 319.8h0M39.8 315.6h0M39.6 321.7h0M47.6 290.5h0M38.9 316.3h0M44.3 327.5h0M37.1 323.2h0M47.9 328.9h0M38.9 319.2h0M40.9 328.4h0M36.3 323.3h0M37.5 327.5h0M41.5 329.6h0M46.5 308.8h0M46.8 316.8h0M42.4 317.6h0M47.5 319.7h0M37.6 319.0h0M43.2 330.6h0M39.5 320.0h0M42.0 328.7h0M38.6 322.8h0M38.4 332.0h0M74.4 277.9h0M65.0 317.1h0M47.9 326.7h0M50.7 320.9h0M40.3 327.4h0M49.0 322.3h0M47.0 320.6h0M82.4 290.3h0M86.9 291.4h0M41.1 326.5h0M39.0 320.7h0M56.4 302.2h0M38.0 322.6h0M37.4 325.2h0M39.4 325.0h0M50.1 311.3h0M45.6 324.4h0M44.4 328.9h0M42.3 328.3h0M50.4 323.3h0M46.4 328.6h0M39.2 317.0h0M48.8 325.2h0M50.9 317.4h0M153.2 197.2h0M106.7 247.3h0M36.4 319.8h0M42.1 323.9h0M51.0 326.7h0M37.8 324.5h0M38.8 323.1h0M41.0 325.0h0M49.1 316.3h0M45.2 315.2h0M42.4 319.8h0M39.5 323.1h0M111.0 301.6h0M52.9 318.7h0M42.8 320.6h0M43.1 321.6h0M42.3 313.5h0M51.8 307.7h0M64.2 309.4h0M57.0 307.2h0M45.4 317.9h0M37.3 326.6h0M43.4 323.6h0M58.9 322.8h0M45.8 323.9h0M53.0 291.1h0M50.5 323.7h0M38.6 328.9h0M46.5 322.4h0M51.4 312.7h0M45.0 328.1h0M39.2 325.7h0M67.7 311.3h0M38.7 326.8h0M39.2 323.2h0M46.5 315.4h0M60.1 320.2h0M40.4 316.8h0M36.4 332.1h0M40.0 317.0h0M54.7 315.0h0M43.7 319.5h0M47.2 323.5h0M68.3 301.4h0M45.1 328.5h0M42.7 318.3h0M60.6 323.0h0M36.5 325.2h0M43.1 312.6h0M43.8 308.0h0M38.6 325.5h0M65.3 316.0h0M38.4 316.6h0M70.9 291.4h0M72.6 313.8h0M44.6 301.5h0M51.1 299.1h0M47.3 328.5h0M121.6 216.6h0M54.9 298.7h0M50.0 317.4h0M46.6 320.6h0M37.5 331.3h0M38.0 323.1h0M39.1 321.8h0M40.7 331.6h0M51.8 326.8h0M42.4 306.7h0M40.7 318.4h0M52.1 300.5h0M47.5 320.7h0M159.9 198.5h0M37.0 322.0h0M39.1 328.4h0M42.9 318.7h0M38.8 326.8h0M39.3 326.4h0M47.0 325.1h0M38.2 324.2h0M49.5 321.7h0M97.4 287.0h0M36.1 326.5h0M36.4 318.4h0M106.2 288.9h0M102.5 256.8h0M50.7 297.1h0M37.4 321.0h0M38.9 325.4h0M46.1 315.2h0M112.3 300.9h0M92.9 292.1h0M66.3 284.7h0M38.2 329.5h0M44.2 318.3h0M49.9 326.2h0M37.0 332.0h0M37.6 330.7h0M39.1 320.4h0M36.2 324.1h0M38.3 317.7h0M42.8 323.6h0M101.5 254.7h0M42.1 325.0h0M119.7 284.6h0M49.2 324.9h0M43.9 325.4h0M67.6 299.9h0M140.2 205.9h0M71.4 314.5h0M43.3 325.7h0M103.2 300.2h0M56.9 311.0h0M76.0 315.3h0M101.7 234.7h0M79.1 294.3h0M39.7 324.3h0M41.2 306.4h0M75.7 299.1h0M55.3 321.7h0M38.1 321.0h0M48.3 322.2h0M40.9 326.9h0M42.1 318.5h0M39.9 324.0h0M41.7 330.2h0M56.3 321.4h0M46.3 317.6h0M37.5 307.5h0M56.0 293.3h0M41.7 316.9h0M122.8 281.3h0M38.1 317.5h0M43.0 307.2h0M52.2 326.2h0M51.4 320.0h0M46.5 323.0h0M47.7 327.9h0M37.0 312.6h0M83.0 310.3h0M40.8 318.3h0M93.3 271.6h0M37.0 326.5h0M57.1 308.1h0M44.3 322.8h0M42.4 331.1h0M43.2 319.8h0M37.2 325.1h0M42.2 319.6h0M79.6 268.2h0M69.7 298.1h0M36.6 318.8h0M46.2 321.5h0M38.5 318.9h0M43.5 324.8h0M127.8 211.1h0M38.0 326.0h0M36.3 322.4h0M48.7 319.2h0M49.1 305.0h0M38.6 321.0h0M53.8 296.0h0M45.6 328.0h0M48.3 296.9h0M40.0 309.8h0M39.4 325.2h0M38.7 310.6h0M41.2 300.4h0M37.4 315.6h0M65.4 317.7h0M44.1 319.9h0M36.4 328.3h0M43.0 316.4h0M72.8 290.9h0M45.5 315.0h0M106.6 206.6h0M41.7 327.2h0M43.0 315.7h0M37.7 331.6h0M54.9 322.0h0M37.7 325.2h0M49.3 324.7h0M50.1 299.1h0M41.8 327.5h0M45.9 323.3h0M41.8 321.9h0M39.3 322.5h0M46.6 322.9h0M37.8 321.1h0M63.5 312.6h0M49.3 325.7h0M47.3 319.4h0M51.2 327.2h0M36.3 327.0h0M50.6 302.7h0M43.5 325.9h0M49.5 320.8h0M43.1 308.3h0M50.4 320.8h0M46.7 322.3h0M36.9 331.6h0M36.4 322.7h0M46.3 316.4h0M55.3 322.4h0M84.3 275.9h0M41.8 315.1h0M37.9 323.0h0M38.4 327.7h0M37.1 331.7h0M70.2 268.4h0M39.6 329.2h0M41.6 318.2h0M42.8 328.7h0M39.9 324.7h0M36.5 326.9h0M53.0 308.0h0M39.5 328.4h0M37.1 326.2h0M38.8 317.3h0M49.9 304.8h0M91.0 310.0h0M47.4 315.4h0M39.8 318.1h0M39.3 325.1h0M39.3 324.8h0M43.9 320.9h0M57.8 315.5h0M37.7 324.5h0M42.8 326.0h0M37.4 331.9h0M43.1 317.4h0M38.5 318.6h0M51.4 311.5h0M39.7 312.6h0M42.6 310.3h0M38.5 332.0h0M36.2 315.2h0M54.3 319.3h0M104.0 243.5h0M37.3 323.7h0M36.4 319.8h0M44.7 313.4h0M51.3 317.2h0M38.0 331.6h0M46.0 308.2h0M38.1 325.1h0M37.3 329.2h0M44.9 321.8h0M42.4 328.5h0M43.1 325.4h0M36.6 310.8h0M55.5 295.4h0M44.8 299.5h0M54.5 319.3h0M37.0 316.9h0M49.8 320.9h0M39.8 318.7h0M46.6 321.5h0M42.9 329.5h0M47.7 321.7h0M51.7 317.9h0M41.5 327.8h0M37.2 323.2h0M42.3 323.8h0M37.1 326.6h0M45.8 324.2h0M38.8 330.6h0M49.1 321.2h0M48.4 322.2h0M49.0 317.2h0M39.5 316.8h0M39.2 321.6h0M38.7 328.6h0M48.9 318.4h0M145.7 208.5h0M51.2 326.7h0M47.7 307.3h0M41.2 321.0h0M96.1 284.0h0M47.0 320.6h0M39.2 324.0h0M102.1 300.5h0M38.7 315.7h0M43.4 314.2h0M44.9 328.2h0M112.5 299.8h0M74.1 284.8h0M47.4 321.2h0M138.0 271.1h0M40.7 325.1h0M45.5 318.5h0M47.5 321.5h0M42.3 316.7h0M39.4 323.6h0M45.3 312.3h0M41.9 329.3h0M40.7 292.8h0M84.3 299.9h0M39.6 328.5h0M38.1 330.3h0M38.7 324.1h0M37.2 316.9h0M36.7 329.0h0M44.0 315.8h0M46.4 322.1h0M41.1 332.0h0M37.4 329.7h0M47.6 320.8h0M42.9 320.3h0M38.9 325.6h0M48.9 321.2h0M42.6 327.9h0M45.0 321.0h0M39.9 323.9h0M36.3 307.4h0M56.6 292.9h0M43.3 314.8h0M43.9 320.1h0M46.6 328.3h0M37.8 329.4h0M36.4 326.6h0M54.1 324.4h0M93.0 275.9h0M129.1 266.6h0M67.8 316.0h0M53.6 299.7h0M68.7 315.7h0M128.6 264.4h0M56.2 326.2h0M38.9 317.0h0M99.0 288.5h0M47.8 325.2h0M37.1 324.8h0M48.0 303.2h0M52.9 319.0h0M41.1 325.2h0M43.8 322.0h0M53.0 298.5h0M43.5 325.3h0M40.2 329.1h0M50.2 321.1h0M41.8 320.5h0M63.0 312.4h0M36.9 328.0h0M41.7 319.5h0M51.1 311.4h0M36.7 322.7h0M42.1 323.3h0M53.4 310.8h0M37.1 314.7h0M108.0 237.7h0M41.6 327.8h0M41.4 318.0h0M49.8 314.0h0M122.7 268.3h0M71.7 321.9h0M38.5 321.5h0M41.7 324.6h0M38.0 320.0h0M45.9 319.0h0M45.3 322.3h0M39.6 330.7h0M48.4 327.0h0M39.0 329.7h0M43.4 326.2h0M37.3 330.6h0M37.7 326.5h0M61.5 307.7h0M47.5 280.1h0M37.2 321.3h0M39.3 321.2h0M47.4 315.5h0M49.1 321.1h0M52.9 323.1h0M43.4 322.0h0M36.1 325.6h0M36.5 326.0h0M46.8 322.8h0M55.6 321.7h0M38.2 317.8h0M48.1 317.8h0M60.6 288.5h0M37.6 326.9h0M39.3 328.3h0M55.4 313.8h0M41.6 321.0h0M36.4 316.9h0M39.9 328.5h0M42.8 323.1h0M38.9 320.0h0M49.2 316.2h0M44.0 323.0h0M41.5 324.7h0M44.8 321.5h0M50.9 325.6h0M36.4 321.1h0M45.0 325.5h0M40.1 323.5h0M38.7 330.7h0M37.3 326.7h0M63.9 314.1h0M118.7 225.2h0M48.9 326.4h0M43.2 326.5h0M62.7 309.9h0M59.5 319.6h0M47.8 320.3h0M47.2 318.7h0M59.6 306.0h0M62.0 322.1h0M42.0 325.6h0M37.4 332.0h0M52.4 302.7h0M39.9 319.7h0M46.6 324.0h0M48.9 321.3h0M39.5 327.5h0M36.8 325.1h0M43.7 316.1h0M80.2 302.0h0M39.1 312.9h0M60.4 321.6h0M48.4 327.9h0M39.3 314.3h0M37.7 327.4h0M78.2 276.4h0M44.3 326.8h0M57.9 325.2h0M38.3 322.3h0M37.4 313.0h0M42.4 319.5h0M38.2 318.5h0M46.6 312.3h0M72.7 296.5h0M54.1 322.4h0M58.5 284.1h0M36.9 324.7h0M40.7 325.6h0M39.5 321.7h0M40.4 317.5h0M38.4 324.9h0M36.6 331.8h0M40.7 320.7h0M42.7 313.5h0M45.6 326.1h0M47.4 322.0h0M45.9 299.4h0M37.2 320.2h0M44.2 325.4h0M38.6 323.5h0M36.5 328.8h0M124.8 226.8h0M42.8 322.0h0M41.9 316.2h0M51.9 321.2h0M76.6 259.8h0M39.6 326.2h0M149.5 210.9h0M39.9 328.0h0M92.5 248.0h0M68.0 320.6h0M46.0 321.9h0M44.9 317.6h0M43.7 317.5h0M49.7 319.7h0M46.0 315.7h0M52.5 319.8h0M45.4 308.6h0M65.9 289.6h0M60.9 314.4h0M41.7 321.0h0M42.3 328.4h0M38.2 319.6h0M56.2 322.6h0M46.3 315.9h0M38.2 325.2h0M51.0 324.6h0M43.7 305.5h0M45.0 329.9h0M38.7 319.9h0M67.6 286.5h0M43.9 321.3h0M38.4 318.4h0M47.4 280.9h0M36.5 331.2h0M79.3 273.4h0M43.5 321.4h0M51.5 319.9h0M82.8 313.8h0M49.6 317.3h0M54.1 323.5h0M36.9 330.3h0M78.6 296.7h0M36.7 323.5h0M105.1 242.0h0M38.4 323.3h0M43.0 324.0h0M48.9 316.5h0M39.5 328.9h0M38.2 328.4h0M45.8 319.1h0M41.7 323.6h0M41.2 312.5h0M55.7 324.7h0M46.8 322.9h0M36.8 328.2h0M41.5 331.1h0M42.8 327.4h0M74.5 301.1h0M58.9 325.4h0M43.9 323.9h0M49.7 314.1h0M53.4 325.4h0M44.8 318.2h0M46.3 314.4h0M38.7 327.2h0M51.6 307.2h0M43.8 320.2h0M56.2 260.5h0M38.5 317.7h0M95.0 307.5h0M44.4 313.8h0M43.2 325.8h0M37.0 327.5h0M44.6 320.8h0M54.2 320.8h0M36.6 327.6h0M58.9 304.2h0M47.0 326.4h0M55.8 283.8h0M49.3 326.5h0M36.3 324.1h0M38.6 327.0h0M40.0 315.4h0M44.1 322.1h0M37.8 323.1h0M46.3 314.2h0M102.5 287.0h0M52.5 324.6h0M39.2 321.4h0M39.0 331.0h0M39.5 327.9h0M53.9 325.8h0M48.2 315.7h0M49.2 327.9h0M40.0 326.5h0M44.2 325.7h0M37.4 329.9h0M51.3 321.0h0M119.8 215.7h0M39.7 326.4h0M76.7 302.4h0M45.3 313.1h0M43.8 327.6h0M49.2 327.4h0M50.1 328.2h0M77.6 232.3h0M44.1 314.5h0M38.6 325.1h0M97.1 280.5h0M43.8 304.9h0M41.6 328.2h0M47.2 321.6h0M56.4 324.4h0M46.2 329.2h0M37.3 322.8h0M45.1 324.7h0M40.7 322.4h0M48.3 323.8h0M48.1 317.6h0M39.2 328.7h0M51.8 307.4h0M50.0 313.3h0M42.4 323.3h0M43.4 325.1h0M52.4 318.2h0M44.0 314.7h0M57.2 300.8h0M37.2 324.2h0M40.2 321.0h0M41.0 319.9h0M37.1 323.9h0M63.1 318.6h0M37.9 330.4h0M36.8 331.3h0M38.0 328.3h0M47.5 320.9h0M46.5 329.5h0M35.4 326.8h0M35.4 331.2h0M35.4 323.6h0M35.4 321.1h0M35.4 321.8h0M35.4 312.4h0M35.4 321.4h0M35.4 315.5h0M35.4 324.6h0M35.4 322.1h0M35.4 325.6h0M35.4 330.8h0M35.4 308.3h0M35.4 321.7h0M35.4 319.7h0M35.4 312.1h0M35.4 324.2h0M35.4 329.2h0M35.4 318.4h0M35.4 329.8h0M35.4 308.6h0M35.4 316.4h0M35.4 308.1h0M35.4 332.6h0M35.4 313.8h0M35.4 317.2h0M35.4 329.5h0M35.4 324.6h0M35.4 315.2h0M35.4 324.9h0M35.4 331.8h0M35.4 316.4h0M35.4 327.5h0M35.4 321.8h0M35.4 319.3h0M35.4 318.0h0M35.4 326.5h0M35.4 323.9h0M35.4 332.6h0M35.4 322.1h0M35.4 311.2h0M35.4 311.6h0M35.4 314.4h0M35.4 321.6h0M35.4 315.5h0M35.4 326.6h0M35.4 319.1h0M35.4 323.1h0M35.4 317.6h0M35.4 312.4h0M35.4 329.2h0M35.4 322.8h0M35.4 317.5h0M35.4 313.9h0M35.4 324.6h0M35.4 308.6h0M35.4 331.3h0M35.4 302.9h0M35.4 302.2h0M35.4 296.1h0" stroke="#000" stroke-width="1.15" stroke-linecap="round" opacity="0.7" fill="none"/>
<path d="M35.4 326.1L90 285.9L175.5 222.3L175.5 224.5L90 286.7L35.4 326.7Z" fill="#8f8f8f" opacity="0.42"/>
<path d="M35.4 326.4L175.7 223.3" stroke="#3366ff" stroke-width="1.1" fill="none"/>
<path d="M35.4 339.8v1.3M79.2 339.8v1.3M123 339.8v1.3M166.8 339.8v1.3M29.1 333.8h-1.3M29.1 286.6h-1.3M29.1 239.4h-1.3M29.1 192.2h-1.3" stroke="#555" stroke-width="0.4" opacity="0.8" fill="none"/>
<g font-size="3.6" fill="#5c5c5c">
<text x="35.4" y="345.1" text-anchor="middle">0.00</text>
<text x="79.2" y="345.1" text-anchor="middle">0.05</text>
<text x="123" y="345.1" text-anchor="middle">0.10</text>
<text x="166.8" y="345.1" text-anchor="middle">0.15</text>
<text x="27.1" y="334.9" text-anchor="end">0.0</text>
<text x="27.1" y="287.7" text-anchor="end">0.1</text>
<text x="27.1" y="240.5" text-anchor="end">0.2</text>
<text x="27.1" y="193.3" text-anchor="end">0.3</text>
</g>
<text x="5.8" y="194.5" font-size="14.4" fill="#000" stroke="#000" stroke-width="0.22">D</text>
<text transform="translate(18.4 262.6) rotate(-90)" font-size="12" font-style="italic" text-anchor="middle" fill="#000" stroke="#000" stroke-width="0.15">Ks</text>
<text x="105.2" y="355.9" font-size="11.8" font-style="italic" text-anchor="middle" fill="#000" stroke="#000" stroke-width="0.15">Ka</text>
<rect x="209.1" y="186" width="153" height="153.8" fill="#ebebeb"/>
<path d="M237.2 186V339.8M281.3 186V339.8M325.5 186V339.8M209.1 209.8H362.1M209.1 245.2H362.1M209.1 280.6H362.1M209.1 316H362.1" stroke="#fff" stroke-width="0.45" opacity="0.7" fill="none"/>
<path d="M215.1 186V339.8M259.2 186V339.8M303.4 186V339.8M347.5 186V339.8M209.1 192.1H362.1M209.1 227.5H362.1M209.1 262.9H362.1M209.1 298.3H362.1M209.1 333.7H362.1" stroke="#fff" stroke-width="0.7" opacity="0.9" fill="none"/>
<path d="M219.6 304.4h0M220.7 257.4h0M216.4 322.8h0M232.5 290.8h0M251.9 250.1h0M242.0 288.4h0M248.9 282.3h0M231.4 249.7h0M229.8 276.9h0M220.4 325.2h0M223.1 308.6h0M251.5 296.4h0M216.5 330.6h0M218.8 315.3h0M219.9 315.1h0M228.4 305.4h0M217.1 321.8h0M220.9 321.3h0M246.7 291.5h0M216.2 329.1h0M217.7 296.5h0M224.8 269.8h0M215.7 328.1h0M216.9 309.1h0M217.7 314.3h0M228.8 306.4h0M219.6 311.1h0M256.5 315.4h0M222.2 310.0h0M225.5 216.4h0M224.5 289.3h0M221.5 316.0h0M222.9 320.2h0M229.0 299.8h0M234.2 301.4h0M218.8 289.4h0M332.1 301.1h0M221.0 311.1h0M218.7 325.0h0M216.4 323.2h0M218.6 292.9h0M220.6 320.5h0M231.7 269.5h0M228.5 285.9h0M217.1 318.0h0M222.6 326.5h0M223.2 320.8h0M223.6 306.7h0M225.8 311.9h0M217.6 322.3h0M225.2 269.9h0M217.2 324.7h0M220.9 306.0h0M222.0 320.2h0M239.2 250.9h0M221.6 314.9h0M219.7 299.1h0M217.3 304.4h0M228.6 310.7h0M243.1 281.8h0M218.5 320.1h0M229.7 246.6h0M250.2 266.8h0M220.1 317.5h0M218.3 325.1h0M222.5 321.9h0M225.3 261.3h0M218.2 310.2h0M221.0 313.9h0M218.8 324.5h0M230.1 288.9h0M218.0 330.1h0M217.0 317.2h0M218.5 297.2h0M218.2 312.6h0M247.7 266.5h0M218.0 320.2h0M223.7 305.2h0M304.4 288.6h0M218.0 322.7h0M220.1 286.5h0M256.1 254.6h0M216.9 314.9h0M287.2 267.6h0M238.1 314.5h0M223.0 304.1h0M231.1 209.5h0M225.0 324.7h0M227.5 321.4h0M219.6 322.2h0M232.3 240.4h0M224.7 294.7h0M222.0 311.2h0M222.3 311.8h0M221.6 313.9h0M237.3 276.7h0M216.6 314.6h0M225.2 304.6h0M243.3 311.6h0M216.8 328.8h0M218.2 299.5h0M216.9 309.4h0M216.5 329.0h0M218.1 316.2h0M222.9 311.4h0M242.4 287.3h0M217.9 326.5h0M221.2 293.7h0M220.1 320.2h0M230.4 251.0h0M234.3 263.9h0M220.5 281.2h0M227.2 311.0h0M224.3 312.6h0M268.6 276.7h0M230.0 311.5h0M216.9 303.5h0M233.7 293.4h0M223.6 318.1h0M215.9 325.5h0M226.2 309.5h0M227.8 315.2h0M219.9 311.2h0M221.3 292.2h0M219.2 316.5h0M228.8 283.2h0M222.4 227.9h0M222.9 299.6h0M216.2 332.4h0M223.3 316.8h0M227.9 263.2h0M219.4 324.7h0M230.9 279.8h0M227.5 307.3h0M224.9 298.0h0M241.3 253.3h0M227.8 316.8h0M266.7 289.7h0M218.9 304.8h0M219.1 327.4h0M218.3 325.7h0M238.4 300.7h0M223.1 290.6h0M223.8 313.0h0M217.1 325.6h0M304.3 239.4h0M223.5 295.1h0M227.6 282.1h0M285.6 303.7h0M226.2 314.0h0M251.4 260.6h0M216.2 328.2h0M225.4 301.6h0M224.5 319.4h0M269.8 302.9h0M217.6 321.3h0M216.9 322.9h0M217.8 323.6h0M232.1 301.3h0M219.2 322.2h0M239.8 211.7h0M219.4 322.4h0M250.3 283.3h0M219.4 294.4h0M223.0 317.9h0M257.4 296.0h0M225.1 311.7h0M241.4 252.3h0M270.1 310.5h0M252.5 270.3h0M287.9 302.7h0M227.7 298.0h0M229.4 301.8h0M233.4 317.5h0M219.5 320.7h0M254.4 293.3h0M227.6 282.7h0M216.3 331.2h0M218.8 305.4h0M310.8 272.0h0M226.9 249.7h0M222.6 310.0h0M266.8 276.2h0M217.9 322.9h0M218.7 318.0h0M228.4 315.7h0M217.2 323.7h0M286.6 308.3h0M254.4 297.4h0M216.3 326.3h0M220.5 311.2h0M216.6 308.6h0M218.9 326.5h0M259.8 300.4h0M225.3 307.3h0M226.4 313.1h0M222.0 311.8h0M217.2 326.7h0M218.6 318.9h0M217.7 318.8h0M336.8 248.8h0M218.2 317.1h0M222.1 276.5h0M222.2 311.9h0M218.1 316.8h0M231.8 239.5h0M220.4 322.8h0M221.9 275.9h0M217.9 327.6h0M232.5 295.9h0M242.8 306.2h0M216.4 330.3h0M353.1 271.8h0M219.9 323.5h0M218.0 321.5h0M219.4 242.1h0M219.6 325.3h0M230.8 246.5h0M235.4 298.4h0M219.7 323.9h0M223.3 276.0h0M233.8 260.6h0M229.4 289.7h0M221.8 304.3h0M220.2 314.7h0M229.0 264.4h0M216.4 328.4h0M225.4 313.3h0M269.4 268.6h0M227.3 213.4h0M216.8 326.2h0M227.4 317.5h0M238.2 198.7h0M220.6 314.1h0M218.9 324.2h0M222.6 311.3h0M217.3 328.1h0M292.9 261.0h0M236.9 225.5h0M221.8 302.1h0M217.0 324.2h0M222.7 316.7h0M227.0 283.2h0M234.0 280.7h0M216.7 323.3h0M225.4 306.1h0M226.1 294.1h0M218.2 301.7h0M223.9 312.6h0M221.7 323.8h0M229.5 217.8h0M218.1 308.4h0M221.0 322.9h0M218.8 315.9h0M218.4 306.9h0M223.1 322.0h0M242.4 261.0h0M222.2 325.8h0M244.8 250.4h0M272.7 314.2h0M218.4 325.1h0M217.8 326.2h0M217.1 318.2h0M217.1 323.7h0M225.8 263.0h0M216.6 329.9h0M228.8 289.2h0M288.9 282.7h0M227.9 270.4h0M222.7 302.6h0M232.6 289.1h0M222.1 280.7h0M220.0 321.4h0M216.7 321.9h0M220.5 318.0h0M222.2 292.3h0M224.1 265.3h0M216.4 330.4h0M230.6 292.0h0M232.9 304.7h0M222.3 313.2h0M217.4 323.8h0M216.7 330.5h0M217.9 327.2h0M230.9 295.4h0M231.6 259.7h0M216.6 328.4h0M226.0 283.2h0M282.8 252.7h0M216.4 331.2h0M215.9 328.7h0M282.0 298.2h0M218.4 317.0h0M220.0 283.7h0M293.4 292.5h0M219.2 242.0h0M234.4 303.0h0M254.0 295.2h0M219.5 314.0h0M226.5 267.0h0M237.0 273.0h0M215.9 328.4h0M229.1 297.1h0M223.8 317.1h0M215.9 330.5h0M218.8 320.8h0M218.8 319.7h0M217.7 328.6h0M216.6 324.0h0M224.8 305.1h0M243.5 302.4h0M229.6 289.7h0M216.0 326.8h0M325.4 254.6h0M218.0 324.8h0M219.3 310.6h0M221.0 313.7h0M218.1 329.6h0M240.2 312.7h0M237.8 308.9h0M216.5 330.6h0M229.2 259.9h0M224.8 304.1h0M231.2 308.0h0M229.3 308.3h0M222.4 284.6h0M222.2 305.3h0M220.2 314.9h0M258.1 241.0h0M225.7 308.9h0M250.5 267.5h0M219.6 327.7h0M225.5 314.5h0M223.8 304.7h0M217.9 309.2h0M243.9 291.4h0M352.5 285.0h0M219.1 323.7h0M224.7 313.0h0M217.0 325.1h0M218.8 320.4h0M274.0 257.3h0M259.9 307.3h0M272.3 279.1h0M225.9 294.6h0M226.0 319.5h0M224.6 286.0h0M220.3 314.0h0M218.0 325.3h0M216.3 329.2h0M217.5 323.1h0M220.5 326.2h0M221.4 309.2h0M217.5 327.3h0M219.9 325.4h0M229.0 266.7h0M218.4 325.8h0M349.6 230.1h0M217.0 317.1h0M239.1 305.6h0M239.5 314.9h0M246.9 220.0h0M226.7 304.4h0M221.8 318.2h0M215.9 331.9h0M222.7 307.8h0M216.3 328.2h0M227.7 310.7h0M219.0 320.3h0M220.4 320.2h0M227.0 312.4h0M278.3 288.6h0M222.5 327.0h0M220.3 322.8h0M231.1 246.3h0M224.5 276.0h0M218.4 313.1h0M230.9 299.5h0M225.6 308.7h0M221.3 291.2h0M225.3 323.9h0M231.5 282.5h0M228.5 312.2h0M218.8 325.1h0M223.4 304.0h0M224.4 318.1h0M256.3 321.4h0M313.3 285.8h0M218.7 304.6h0M224.1 290.5h0M235.0 285.8h0M223.5 298.2h0M220.0 323.2h0M230.7 313.8h0M218.7 257.2h0M230.4 201.2h0M223.5 297.8h0M218.6 311.9h0M258.9 285.8h0M218.1 323.0h0M238.8 303.4h0M216.8 325.9h0M308.3 291.6h0M224.6 294.3h0M217.5 319.5h0M237.5 194.3h0M234.3 298.7h0M222.2 317.1h0M220.1 326.6h0M220.9 315.8h0M225.9 291.0h0M230.7 303.7h0M218.5 321.7h0M222.8 311.4h0M221.5 304.0h0M219.2 324.0h0M267.3 286.9h0M228.0 235.7h0M223.3 308.2h0M223.8 292.4h0M244.5 291.8h0M218.2 326.9h0M220.5 310.2h0M221.0 309.0h0M222.1 296.2h0M216.4 328.9h0M216.6 329.2h0M276.5 291.4h0M330.7 286.2h0M220.5 317.1h0M226.5 298.6h0M221.6 311.2h0M219.2 312.5h0M222.2 274.2h0M269.7 308.1h0M217.2 319.8h0M220.4 303.1h0M223.0 281.3h0M285.0 296.1h0M218.7 324.9h0M250.1 300.4h0M219.0 309.4h0M221.2 322.4h0M221.5 291.5h0M263.6 287.2h0M226.7 306.0h0M257.6 315.4h0M239.9 298.4h0M218.5 325.9h0M220.6 299.9h0M221.7 312.1h0M352.8 284.2h0M221.5 283.7h0M222.5 300.9h0M284.3 279.3h0M240.2 308.9h0M261.8 290.6h0M282.1 294.1h0M225.3 298.8h0M223.2 305.0h0M218.5 327.2h0M219.1 301.2h0M224.4 300.7h0M332.4 228.4h0M236.8 214.1h0M224.8 301.9h0M224.5 284.6h0M334.0 297.8h0M217.9 311.3h0M216.5 327.4h0M227.9 303.7h0M221.2 314.9h0M216.9 321.4h0M217.2 291.5h0M225.2 292.4h0M223.0 300.8h0M215.9 323.4h0M223.0 311.6h0M217.6 300.1h0M220.1 305.0h0M241.9 313.2h0M223.1 317.0h0M224.6 292.7h0M219.1 314.0h0M219.8 318.9h0M217.9 321.4h0M229.7 320.7h0M232.7 317.7h0M218.5 319.1h0M218.8 299.3h0M240.4 288.2h0M223.9 323.1h0M241.1 251.1h0M219.1 249.4h0M235.3 292.3h0M228.3 301.4h0M228.7 299.0h0M226.2 297.6h0M226.9 299.5h0M233.8 315.6h0M234.0 291.1h0M219.7 319.5h0M219.9 299.2h0M317.9 279.4h0M218.4 326.6h0M218.6 315.4h0M227.7 287.5h0M219.6 326.3h0M219.7 323.1h0M231.6 268.7h0M240.2 299.0h0M227.0 316.1h0M217.5 320.1h0M223.3 311.5h0M238.9 274.6h0M217.2 324.1h0M216.5 330.2h0M221.0 317.6h0M217.8 323.4h0M219.8 299.9h0M244.9 289.5h0M217.7 323.1h0M222.3 309.2h0M224.4 307.8h0M227.2 303.5h0M227.2 245.4h0M216.2 328.5h0M220.9 296.5h0M218.6 309.9h0M216.6 328.5h0M218.2 284.5h0M219.4 316.3h0M217.0 320.1h0M224.1 311.7h0M226.0 317.5h0M230.1 236.8h0M269.0 251.8h0M238.7 250.5h0M222.2 313.7h0M216.2 330.4h0M220.2 323.0h0M233.7 284.7h0M220.0 292.1h0M217.9 322.9h0M217.1 323.2h0M218.1 310.3h0M260.6 290.6h0M223.4 315.4h0M221.1 314.2h0M326.4 300.1h0M215.9 330.6h0M229.9 299.9h0M218.6 326.4h0M229.6 305.5h0M303.9 252.9h0M296.6 305.1h0M219.0 323.2h0M218.4 305.8h0M218.0 329.3h0M240.1 296.7h0M223.3 296.1h0M222.6 303.1h0M216.5 322.0h0M219.6 314.3h0M225.2 303.9h0M223.5 299.3h0M220.1 244.2h0M356.0 294.2h0M218.1 326.7h0M322.7 297.8h0M252.5 268.7h0M266.3 282.1h0M231.8 318.3h0M215.8 330.7h0M247.3 299.0h0M307.1 298.2h0M221.0 321.9h0M217.2 330.8h0M220.9 266.0h0M226.2 275.6h0M261.3 263.0h0M220.4 242.7h0M239.1 263.8h0M218.6 313.2h0M244.6 238.6h0M239.4 314.3h0M234.2 315.5h0M228.7 291.1h0M222.4 197.2h0M223.0 311.8h0M232.3 311.6h0M217.0 327.3h0M222.8 299.4h0M260.8 268.2h0M228.9 294.7h0M238.5 276.2h0M223.9 319.7h0M217.3 318.4h0M218.3 316.7h0M224.5 297.3h0M222.1 295.7h0M287.8 276.8h0M261.6 275.6h0M222.9 294.5h0M230.8 234.4h0M225.6 301.4h0M216.4 326.3h0M219.4 322.0h0M228.1 223.9h0M238.2 259.8h0M228.6 297.7h0M221.1 287.7h0M236.1 296.8h0M220.2 325.5h0M231.6 239.0h0M228.4 311.2h0M223.0 317.4h0M218.8 322.2h0M222.4 314.1h0M308.9 280.2h0M215.8 322.0h0M218.8 314.7h0M218.6 324.3h0M235.7 236.2h0M236.9 198.9h0M268.2 281.6h0M225.9 291.5h0M217.4 328.0h0M217.6 316.1h0M217.3 315.7h0M224.6 297.5h0M219.8 313.1h0M227.8 256.8h0M288.0 295.2h0M217.0 313.0h0M229.0 297.0h0M217.2 326.7h0M221.7 305.4h0M228.2 305.5h0M217.2 300.5h0M222.7 321.8h0M229.9 265.3h0M259.7 291.6h0M268.7 306.2h0M215.8 330.7h0M229.6 260.5h0M222.8 299.2h0M245.3 261.3h0M226.7 323.0h0M245.3 278.9h0M218.9 304.2h0M221.1 320.8h0M216.5 327.9h0M217.7 318.0h0M218.2 311.4h0M226.1 298.2h0M224.3 305.4h0M218.3 326.6h0M224.0 216.2h0M220.8 322.4h0M223.8 268.6h0M223.1 316.8h0M217.5 302.3h0M220.8 318.5h0M234.3 316.1h0M216.3 325.6h0M251.8 263.1h0M223.7 313.9h0M221.7 300.8h0M219.6 321.0h0M218.5 318.1h0M221.8 321.3h0M220.8 307.8h0M216.5 320.0h0M244.7 249.6h0M224.8 305.5h0M216.5 309.0h0M216.3 331.3h0M300.0 247.8h0M227.3 297.2h0M237.9 280.4h0M220.0 256.7h0M226.1 254.1h0M231.5 305.7h0M218.5 327.6h0M223.6 264.7h0M222.4 318.0h0M219.4 308.9h0M219.4 310.6h0M240.5 247.5h0M218.4 320.9h0M220.1 299.1h0M320.7 295.8h0M239.1 252.8h0M228.3 271.2h0M222.1 314.8h0M217.7 321.2h0M216.7 321.7h0M220.4 312.6h0M221.3 322.4h0M223.6 285.5h0M216.1 331.6h0M225.1 287.3h0M288.6 280.2h0M223.0 306.5h0M239.7 255.7h0M220.2 290.4h0M223.2 310.3h0M222.4 287.6h0M275.5 308.8h0M218.0 327.2h0M222.1 286.9h0M217.8 328.9h0M227.3 312.7h0M274.0 240.7h0M226.7 285.3h0M219.8 326.8h0M227.6 288.1h0M226.2 274.0h0M219.4 310.9h0M224.6 322.4h0M220.4 316.1h0M217.1 324.9h0M296.5 274.2h0M217.9 326.5h0M263.8 292.5h0M217.5 325.5h0M220.9 311.1h0M217.4 298.1h0M234.8 271.6h0M246.3 268.4h0M220.1 313.8h0M220.4 220.6h0M224.1 309.4h0M220.7 317.5h0M227.9 312.4h0M289.0 266.1h0M220.4 311.3h0M226.4 283.6h0M217.0 330.3h0M220.1 320.6h0M218.8 323.8h0M242.2 281.9h0M228.9 296.3h0M230.7 297.6h0M221.1 316.6h0M274.3 314.5h0M218.0 320.9h0M221.1 306.4h0M235.2 296.2h0M293.9 288.2h0M216.7 330.8h0M221.6 323.9h0M219.0 325.4h0M232.5 283.4h0M224.4 313.8h0M223.1 291.9h0M223.1 308.2h0M328.4 235.0h0M224.9 299.4h0M225.3 305.1h0M218.8 321.3h0M224.3 261.1h0M218.1 312.1h0M218.5 311.5h0M216.5 320.8h0M225.2 277.7h0M249.9 299.1h0M219.8 324.7h0M226.8 320.8h0M217.4 326.2h0M250.8 307.3h0M224.1 271.9h0M248.4 280.9h0M268.0 273.3h0M216.9 288.6h0M217.9 319.5h0M222.6 272.3h0M227.8 270.5h0M217.3 324.9h0M224.4 317.1h0M221.7 287.8h0M221.5 296.2h0M224.9 299.4h0M234.7 320.7h0M220.4 290.8h0M216.9 328.9h0M227.5 301.5h0M221.5 294.2h0M224.9 301.0h0M224.9 289.7h0M219.0 324.0h0M216.8 325.8h0M223.7 283.7h0M217.9 320.1h0M239.9 256.7h0M221.7 317.0h0M225.0 285.9h0M221.1 318.4h0M217.3 325.0h0M268.5 271.8h0M218.9 322.3h0M216.2 331.9h0M217.7 317.2h0M228.2 323.3h0M227.1 301.7h0M227.4 270.6h0M228.3 306.0h0M220.0 307.1h0M218.4 316.3h0M223.1 278.2h0M218.5 321.9h0M249.7 283.8h0M220.1 319.7h0M217.2 328.7h0M227.9 284.9h0M236.6 305.3h0M227.3 314.2h0M221.9 284.3h0M258.3 287.8h0M232.5 262.5h0M245.0 294.2h0M216.8 319.9h0M253.7 239.6h0M226.5 305.0h0M220.3 319.6h0M233.9 294.2h0M219.4 310.7h0M218.1 307.4h0M230.9 302.8h0M224.3 235.8h0M254.8 296.4h0M221.5 280.1h0M227.1 296.0h0M218.2 322.3h0M216.0 329.6h0M227.6 319.4h0M226.9 307.7h0M218.9 316.7h0M218.4 318.2h0M230.1 271.7h0M226.1 310.0h0M219.4 323.2h0M217.0 327.9h0M217.8 323.2h0M222.7 314.3h0M226.9 273.9h0M218.8 309.5h0M226.8 252.1h0M218.7 324.1h0M216.6 316.2h0M218.6 323.0h0M223.6 308.5h0M231.3 311.3h0M218.2 324.6h0M220.5 286.7h0M218.0 326.6h0M226.4 307.6h0M236.4 261.8h0M241.4 285.7h0M227.6 296.5h0M221.6 308.3h0M219.1 320.6h0M220.4 321.7h0M216.9 321.6h0M265.7 280.7h0M219.7 318.9h0M226.1 235.3h0M222.9 296.3h0M220.0 325.6h0M222.2 300.4h0M221.4 229.0h0M218.5 326.4h0M264.0 247.7h0M303.8 277.0h0M226.9 307.4h0M222.0 286.3h0M220.6 311.1h0M216.9 322.1h0M241.1 296.7h0M278.2 302.8h0M222.4 317.0h0M223.9 274.3h0M221.1 311.9h0M222.3 314.6h0M254.5 292.7h0M227.5 309.4h0M217.7 324.4h0M220.2 317.7h0M224.5 313.5h0M217.2 327.1h0M223.7 304.1h0M222.8 313.8h0M238.1 269.1h0M221.2 319.2h0M226.3 280.9h0M232.3 293.6h0M218.9 316.1h0M225.1 294.1h0M217.8 306.2h0M221.5 317.1h0M222.1 299.9h0M226.1 300.2h0M228.1 318.3h0M226.1 300.3h0M223.2 305.2h0M222.8 305.9h0M260.9 284.5h0M240.7 239.4h0M216.8 325.8h0M219.1 325.4h0M222.6 266.0h0M219.1 307.6h0M242.4 283.5h0M232.5 317.5h0M225.6 302.7h0M224.5 304.6h0M255.4 298.6h0M218.9 307.0h0M219.6 309.4h0M217.8 327.8h0M218.0 306.6h0M218.2 278.0h0M225.2 299.6h0M254.7 290.4h0M232.4 314.4h0M217.7 312.1h0M230.0 268.8h0M219.6 311.6h0M224.1 315.1h0M223.4 312.6h0M220.9 316.4h0M225.9 321.7h0M227.6 287.5h0M216.8 316.2h0M220.0 311.1h0M232.2 309.4h0M218.8 304.8h0M221.3 319.0h0M235.7 298.8h0M219.5 313.5h0M226.6 312.6h0M218.8 324.9h0M222.6 302.3h0M221.1 323.7h0M223.3 314.7h0M216.4 311.0h0M242.6 318.4h0M241.5 297.3h0M251.7 294.4h0M218.5 291.3h0M219.8 310.9h0M217.7 329.5h0M223.8 315.2h0M224.4 302.2h0M226.2 311.1h0M221.6 298.7h0M229.0 317.4h0M229.0 278.1h0M222.8 327.3h0M218.3 316.3h0M222.9 308.7h0M220.6 303.1h0M219.0 322.9h0M222.8 312.4h0M221.1 319.0h0M216.4 327.5h0M218.9 316.1h0M228.9 312.8h0M219.4 319.3h0M217.2 328.9h0M220.9 316.5h0M273.9 298.2h0M236.4 269.7h0M224.7 306.0h0M216.6 329.1h0M232.0 295.2h0M222.1 292.5h0M222.1 316.5h0M224.7 251.7h0M222.0 289.8h0M273.2 265.2h0M241.7 285.7h0M327.9 287.7h0M217.4 327.7h0M282.1 310.1h0M218.7 324.2h0M222.0 287.3h0M218.1 327.2h0M226.9 282.4h0M219.2 326.8h0M265.3 296.1h0M221.4 317.8h0M228.3 241.2h0M218.0 321.7h0M258.9 275.8h0M225.2 283.8h0M216.6 325.0h0M221.2 315.2h0M237.7 271.9h0M248.0 308.4h0M221.9 317.0h0M230.9 242.0h0M220.6 252.6h0M269.6 284.9h0M218.0 314.8h0M220.4 304.8h0M221.6 321.5h0M216.7 320.2h0M222.0 318.5h0M229.0 265.1h0M220.3 301.0h0M224.6 316.7h0M216.8 326.1h0M224.6 298.8h0M216.9 304.6h0M219.1 300.8h0M216.1 331.0h0M221.0 299.8h0M247.0 292.7h0M254.4 244.2h0M220.9 249.3h0M218.6 304.1h0M263.3 299.1h0M221.4 319.1h0M218.5 322.2h0M217.3 314.7h0M220.1 320.2h0M218.9 327.0h0M220.3 312.2h0M240.6 299.7h0M251.2 306.8h0M241.1 305.7h0M231.1 317.8h0M221.3 317.9h0M221.9 306.9h0M226.4 293.9h0M222.5 279.8h0M235.8 213.4h0M220.4 300.8h0M222.4 301.7h0M219.2 323.1h0M218.5 318.3h0M230.5 313.4h0M231.9 313.0h0M235.0 299.0h0M220.4 321.5h0M259.6 198.2h0M217.0 325.1h0M220.7 321.6h0M217.7 293.0h0M221.4 319.4h0M227.9 304.3h0M217.4 305.3h0M220.0 319.2h0M280.4 288.0h0M224.5 314.9h0M217.5 323.3h0M217.4 324.6h0M221.0 324.1h0M217.8 320.1h0M217.6 302.5h0M222.7 307.9h0M247.5 285.0h0M221.7 319.3h0M217.8 318.4h0M229.3 294.0h0M242.9 285.5h0M235.0 303.9h0M217.9 316.2h0M250.6 271.6h0M231.6 288.3h0M235.8 262.3h0M236.2 325.5h0M220.6 313.6h0M216.7 328.4h0M224.0 325.5h0M218.4 320.0h0M221.0 305.0h0M219.4 327.6h0M218.5 275.6h0M221.4 298.1h0M216.1 330.1h0M218.4 321.4h0M220.7 320.2h0M220.4 314.4h0M233.2 253.0h0M218.7 325.7h0M230.6 278.8h0M218.0 315.6h0M280.3 291.1h0M216.9 316.5h0M235.0 302.6h0M222.5 308.0h0M250.4 291.7h0M218.1 321.6h0M226.5 306.9h0M351.4 281.7h0M221.2 294.4h0M235.2 297.3h0M222.0 304.5h0M244.5 291.2h0M224.0 283.1h0M220.6 321.7h0M221.0 305.5h0M226.0 315.5h0M217.4 311.5h0M228.2 261.8h0M307.0 278.7h0M220.4 318.3h0M223.9 302.9h0M219.0 311.6h0M216.7 328.5h0M221.1 272.9h0M216.5 319.6h0M217.6 329.0h0M280.6 305.0h0M219.9 323.6h0M229.3 294.9h0M216.4 328.5h0M281.0 237.4h0M220.6 304.8h0M229.7 298.6h0M219.0 326.6h0M218.8 317.7h0M217.2 326.7h0M220.6 319.4h0M222.8 302.7h0M218.3 322.2h0M217.2 329.2h0M231.1 301.6h0M222.7 306.4h0M232.5 225.1h0M231.0 201.0h0M220.7 307.4h0M216.4 324.6h0M223.8 321.3h0M218.8 324.7h0M335.5 292.4h0M251.8 315.3h0M217.7 327.0h0M218.5 310.9h0M216.5 303.9h0M218.6 321.6h0M223.2 295.3h0M249.9 300.7h0M236.8 278.1h0M216.4 328.0h0M288.4 281.9h0M228.4 285.6h0M224.3 305.9h0M331.7 289.1h0M217.7 313.4h0M217.2 329.0h0M223.6 285.7h0M216.3 311.4h0M216.9 319.7h0M223.1 313.8h0M216.9 326.1h0M217.4 320.2h0M222.8 302.4h0M284.1 297.4h0M219.4 318.9h0M224.4 317.8h0M248.8 225.6h0M247.6 293.7h0M218.5 322.2h0M220.8 316.6h0M228.7 297.6h0M219.9 321.0h0M226.6 296.5h0M219.0 317.3h0M224.1 282.1h0M275.2 307.8h0M228.5 304.7h0M240.6 225.0h0M266.9 272.8h0M217.4 324.0h0M223.5 303.7h0M224.0 310.5h0M249.5 291.1h0M224.7 309.1h0M220.1 323.2h0M220.7 322.1h0M227.0 303.8h0M222.3 320.8h0M242.1 321.8h0M240.5 282.1h0M221.4 299.4h0M226.6 278.7h0M218.8 324.9h0M234.5 243.2h0M222.4 292.9h0M215.9 320.4h0M253.4 200.9h0M228.0 262.0h0M223.1 314.3h0M229.7 310.7h0M233.1 297.7h0M216.2 329.1h0M227.9 280.3h0M228.0 274.2h0M260.8 204.0h0M256.5 248.2h0M278.6 298.6h0M230.3 282.5h0M219.6 328.7h0M225.5 306.2h0M227.4 289.3h0M220.2 309.3h0M225.5 314.2h0M224.1 283.1h0M224.2 312.7h0M218.3 324.2h0M216.8 319.2h0M228.6 278.7h0M217.4 328.2h0M223.9 307.6h0M216.3 329.0h0M222.1 290.1h0M216.4 329.5h0M216.0 330.3h0M217.2 329.1h0M233.5 278.2h0M282.3 296.5h0M250.8 299.7h0M236.7 193.8h0M217.3 324.0h0M224.9 298.2h0M226.1 322.7h0M216.4 326.9h0M231.6 309.1h0M225.7 279.9h0M215.9 330.2h0M219.0 310.0h0M336.8 229.8h0M234.2 284.8h0M248.7 251.4h0M219.2 320.9h0M236.6 296.1h0M218.8 313.2h0M218.1 323.6h0M219.7 313.3h0M224.2 279.4h0M251.9 304.2h0M245.8 284.2h0M220.1 321.1h0M219.4 314.4h0M218.7 326.0h0M219.6 314.2h0M217.1 328.5h0M217.7 328.2h0M220.1 315.7h0M221.7 312.5h0M218.3 322.8h0M221.4 325.1h0M216.3 329.6h0M221.7 279.6h0M231.9 294.9h0M225.0 308.2h0M218.5 310.5h0M227.4 282.3h0M218.5 325.1h0M217.4 323.6h0M220.2 324.9h0M225.1 255.5h0M217.6 326.9h0M222.4 322.9h0M234.6 301.4h0M217.6 325.1h0M219.6 313.3h0M256.0 277.1h0M247.6 297.1h0M228.3 280.7h0M221.6 318.0h0M243.7 202.6h0M230.9 252.8h0M226.7 308.4h0M240.0 265.5h0M227.5 271.2h0M240.3 308.7h0M219.4 297.2h0M217.4 294.5h0M220.0 313.0h0M227.8 298.8h0M223.0 305.8h0M222.6 301.2h0M226.1 312.5h0M219.0 290.3h0M224.5 289.0h0M220.9 314.4h0M219.5 301.8h0M252.5 276.1h0M236.1 296.8h0M231.8 296.3h0M217.5 286.7h0M226.2 302.2h0M216.0 328.7h0M218.2 325.1h0M216.6 330.1h0M220.3 259.1h0M218.8 302.5h0M219.3 311.3h0M228.8 306.0h0M241.5 265.8h0M307.8 262.0h0M222.9 316.9h0M220.6 320.6h0M229.4 255.8h0M222.7 305.0h0M230.2 310.3h0M276.3 299.2h0M218.4 324.8h0M217.5 324.5h0M219.5 317.4h0M226.5 307.8h0M254.1 297.1h0M219.3 301.5h0M219.9 321.2h0M217.9 315.5h0M233.9 296.9h0M220.3 321.8h0M246.8 319.5h0M218.2 323.3h0M221.9 310.3h0M283.9 261.8h0M218.0 312.5h0M216.7 327.3h0M227.2 284.7h0M225.5 299.3h0M218.1 323.9h0M225.0 306.9h0M248.8 227.1h0M229.6 282.1h0M240.6 286.7h0M224.9 305.8h0M293.3 302.0h0M303.0 247.2h0M219.3 324.8h0M216.2 329.7h0M216.8 327.3h0M217.6 316.4h0M219.4 304.8h0M238.4 317.7h0M231.8 274.8h0M241.7 285.2h0M217.3 323.9h0M216.9 327.1h0M216.5 326.6h0M232.9 316.2h0M223.4 296.8h0M224.6 315.0h0M219.9 321.9h0M298.3 281.7h0M218.7 319.4h0M249.9 240.7h0M216.9 325.2h0M216.5 330.2h0M216.1 328.6h0M225.2 304.2h0M219.2 328.3h0M298.7 265.4h0M220.5 316.8h0M220.3 318.9h0M267.5 295.3h0M217.8 329.8h0M223.7 311.9h0M229.2 241.7h0M257.5 305.0h0M219.3 302.5h0M218.4 326.5h0M226.5 303.0h0M265.3 271.7h0M219.6 310.7h0M253.6 313.4h0M240.9 303.1h0M230.6 271.0h0M223.7 321.9h0M216.5 301.5h0M221.8 318.3h0M218.9 319.3h0M249.5 268.5h0M217.8 327.0h0M218.5 314.2h0M226.8 308.8h0M328.7 267.3h0M224.2 291.6h0M225.3 305.6h0M227.6 300.8h0M246.6 297.6h0M217.9 323.2h0M215.8 331.8h0M219.5 314.3h0M254.8 266.0h0M232.4 234.3h0M234.1 292.3h0M219.6 319.5h0M218.8 319.9h0M224.0 314.9h0M219.4 306.2h0M218.5 326.9h0M241.6 308.8h0M225.4 314.1h0M228.2 307.9h0M217.4 322.9h0M219.1 315.0h0M217.8 283.7h0M226.5 295.1h0M324.8 297.7h0M216.6 321.9h0M225.4 287.8h0M236.2 315.5h0M230.4 308.0h0M217.3 320.6h0M240.4 273.3h0M229.4 297.2h0M236.4 315.5h0M217.9 322.7h0M219.3 326.9h0M229.4 247.1h0M220.7 308.1h0M217.6 322.8h0M221.3 321.2h0M220.9 321.6h0M236.7 280.4h0M226.5 308.4h0M249.6 207.5h0M237.2 286.1h0M231.6 293.1h0M229.8 300.7h0M218.9 266.9h0M221.2 313.4h0M220.9 315.6h0M218.4 316.7h0M231.3 275.7h0M229.7 266.3h0M245.1 298.7h0M216.7 327.6h0M219.5 315.0h0M218.2 323.6h0M220.4 315.9h0M221.4 310.7h0M232.1 320.1h0M229.9 257.7h0M244.1 291.1h0M231.0 315.3h0M233.3 271.6h0M220.7 314.7h0M221.7 314.7h0M219.5 282.5h0M218.4 317.2h0M217.2 324.4h0M219.0 321.1h0M222.0 317.7h0M224.8 297.9h0M223.2 317.3h0M217.7 324.3h0M229.6 297.9h0M223.9 306.2h0M216.2 325.6h0M234.9 302.4h0M350.3 257.8h0M304.8 262.2h0M215.9 330.1h0M220.2 326.9h0M228.7 279.4h0M218.3 322.1h0M239.3 260.1h0M224.4 301.3h0M227.7 314.4h0M225.6 289.8h0M221.4 306.9h0M217.4 330.0h0M232.5 251.7h0M218.1 328.5h0M231.9 293.2h0M236.2 289.5h0M220.3 308.8h0M216.5 330.5h0M228.6 268.9h0M237.1 273.1h0M227.4 317.7h0M319.1 305.4h0M226.5 274.4h0M221.9 318.0h0M216.4 329.6h0M216.6 323.6h0M226.0 288.4h0M220.2 322.8h0M223.5 267.5h0M222.9 297.4h0M225.6 297.5h0M218.6 324.1h0M218.1 327.5h0M235.2 308.0h0M223.9 311.1h0M222.2 296.7h0M236.0 237.8h0M222.8 316.9h0M228.6 309.9h0M217.2 318.4h0M217.1 310.5h0M219.0 296.6h0M229.0 311.9h0M292.4 269.4h0M258.5 273.2h0M219.5 304.3h0M318.8 274.0h0M226.5 309.9h0M217.3 325.7h0M219.2 323.1h0M230.5 306.4h0M228.8 276.7h0M219.5 252.9h0M250.3 311.1h0M228.8 314.6h0M280.4 276.3h0M240.3 294.9h0M225.4 303.8h0M223.5 305.3h0M227.5 295.8h0M256.6 266.3h0M224.1 310.9h0M221.2 322.0h0M226.7 320.2h0M228.2 206.7h0M217.8 319.4h0M225.9 296.8h0M225.3 309.0h0M239.1 283.5h0M220.9 322.5h0M217.9 321.7h0M230.9 304.3h0M224.1 299.1h0M217.1 322.3h0M223.5 295.8h0M236.2 305.6h0M220.5 321.7h0M223.9 307.3h0M229.4 268.5h0M221.5 296.2h0M225.9 248.5h0M219.1 312.1h0M258.7 280.7h0M216.5 314.7h0M228.1 288.9h0M222.5 294.2h0M237.0 202.1h0M242.3 297.1h0M229.1 312.7h0M216.4 327.7h0M264.4 306.6h0M223.5 310.2h0M216.7 305.3h0M230.9 270.5h0M233.1 302.4h0M224.3 293.6h0M223.9 312.6h0M224.2 269.7h0M216.8 324.8h0M225.7 242.0h0M247.1 287.0h0M306.9 245.9h0M224.2 315.3h0M264.0 274.4h0M217.2 327.0h0M217.5 327.5h0M216.3 327.0h0M220.9 313.9h0M216.8 330.0h0M219.7 307.6h0M230.3 301.9h0M216.6 327.0h0M223.5 322.6h0M219.9 318.7h0M217.4 290.8h0M224.4 313.7h0M218.5 323.8h0M229.2 272.3h0M280.6 307.4h0M216.3 308.6h0M216.3 330.6h0M282.4 302.7h0M238.8 281.7h0M222.1 297.9h0M236.9 295.8h0M233.0 299.9h0M302.0 282.2h0M246.1 305.3h0M222.3 305.3h0M216.1 328.2h0M220.4 258.7h0M217.2 324.5h0M217.3 322.2h0M246.2 303.7h0M217.9 320.9h0M220.7 324.9h0M315.0 303.9h0M222.3 318.6h0M218.3 269.7h0M217.2 328.2h0M220.8 313.4h0M222.1 284.9h0M217.8 327.6h0M227.1 303.9h0M227.3 295.1h0M222.9 284.1h0M218.8 315.2h0M226.5 319.6h0M218.4 323.3h0M219.1 317.6h0M223.1 295.9h0M233.6 278.5h0M249.6 317.0h0M216.2 329.0h0M236.3 228.7h0M218.0 309.8h0M282.4 289.1h0M220.6 318.0h0M293.5 270.2h0M237.2 290.9h0M224.7 286.3h0M229.4 273.9h0M232.7 296.8h0M219.7 319.7h0M219.4 315.4h0M217.0 328.0h0M228.9 323.1h0M220.1 315.9h0M234.9 295.0h0M227.2 275.7h0M237.2 232.6h0M228.4 285.2h0M218.3 327.1h0M229.1 311.5h0M216.4 323.6h0M229.8 288.5h0M234.7 297.7h0M222.1 320.1h0M222.1 315.9h0M217.0 325.3h0M258.7 261.9h0M222.5 308.8h0M217.2 309.1h0M226.4 315.4h0M218.5 315.9h0M220.9 298.3h0M218.8 326.3h0M318.6 271.3h0M224.5 307.2h0M219.7 327.9h0M232.1 312.3h0M218.2 312.7h0M248.2 256.4h0M226.9 288.9h0M218.8 320.5h0M227.5 295.8h0M223.8 306.2h0M244.3 307.7h0M253.6 291.7h0M218.8 320.3h0M233.1 238.5h0M224.8 312.8h0M217.9 323.3h0M237.1 239.5h0M218.7 319.9h0M280.7 270.6h0M224.3 256.5h0M221.7 285.7h0M223.8 310.5h0M217.7 322.0h0M219.0 311.7h0M228.1 298.9h0M216.2 330.6h0M219.3 319.4h0M277.0 291.7h0M217.5 303.2h0M228.3 314.3h0M222.1 318.4h0M216.5 310.8h0M220.4 307.0h0M220.4 314.2h0M216.2 329.2h0M221.2 282.2h0M225.0 306.6h0M222.4 314.6h0M218.5 329.9h0M220.7 316.9h0M229.6 263.2h0M226.2 296.7h0M301.2 308.5h0M227.1 311.2h0M218.0 318.2h0M245.7 305.7h0M218.4 299.7h0M216.0 330.8h0M217.1 323.6h0M219.5 315.3h0M223.2 275.8h0M218.3 327.1h0M219.2 322.6h0M216.1 325.5h0M217.8 321.6h0M259.2 284.9h0M246.6 320.5h0M218.3 312.6h0M241.0 307.1h0M217.5 324.9h0M238.4 312.8h0M222.0 311.2h0M247.2 285.5h0M230.9 258.5h0M220.2 300.9h0M217.4 328.8h0M218.6 316.5h0M221.6 320.7h0M221.2 258.3h0M219.3 315.9h0M219.1 290.6h0M216.4 316.2h0M228.1 241.6h0M216.9 326.7h0M220.1 296.6h0M219.9 316.3h0M238.9 258.3h0M217.4 318.3h0M246.7 297.5h0M220.9 319.6h0M218.3 306.2h0M226.5 306.6h0M268.5 288.3h0M302.6 308.0h0M300.2 301.4h0M351.8 296.5h0M219.0 325.0h0M217.8 301.5h0M219.6 261.1h0M224.8 287.1h0M227.7 310.0h0M231.4 279.0h0M221.5 319.2h0M216.8 327.4h0M219.5 324.1h0M310.9 215.3h0M219.1 291.9h0M354.5 281.3h0M216.3 330.7h0M245.4 299.2h0M217.2 317.8h0M219.2 324.4h0M218.1 313.8h0M216.1 330.6h0M216.6 321.4h0M226.1 313.2h0M240.8 274.3h0M222.4 304.2h0M222.3 290.6h0M229.6 205.8h0M243.3 294.7h0M222.4 319.7h0M220.2 317.1h0M234.9 255.0h0M218.1 326.6h0M235.2 314.5h0M236.1 322.3h0M237.5 220.9h0M219.4 318.2h0M249.8 287.5h0M222.0 311.1h0M222.7 269.9h0M216.8 328.6h0M216.2 330.2h0M219.2 325.9h0M219.0 316.5h0M233.2 286.3h0M221.0 324.5h0M354.8 208.1h0M239.4 223.9h0M323.1 257.5h0M226.3 280.5h0M219.0 323.2h0M217.3 291.7h0M224.6 305.5h0M221.0 302.6h0M227.7 280.0h0M217.7 318.8h0M255.0 274.7h0M222.0 311.9h0M235.8 258.1h0M219.4 318.5h0M233.3 293.8h0M219.5 305.6h0M222.8 314.8h0M226.2 259.5h0M226.7 289.8h0M241.7 287.6h0M218.5 267.6h0M231.0 297.5h0M221.3 308.4h0M235.6 269.2h0M231.4 274.7h0M228.6 323.2h0M276.9 311.6h0M216.8 313.9h0M216.9 324.0h0M221.6 322.2h0M220.8 312.9h0M217.8 320.6h0M229.0 255.1h0M241.5 296.3h0M224.7 308.8h0M231.1 283.3h0M216.7 329.1h0M229.4 305.8h0M228.6 307.3h0M274.5 263.5h0M228.1 286.1h0M231.7 315.3h0M218.6 271.7h0M237.2 308.0h0M218.2 264.9h0M218.2 320.3h0M216.5 329.7h0M246.0 287.5h0M220.2 321.3h0M215.9 332.3h0M217.7 321.2h0M215.1 333.7h0" stroke="#000" stroke-width="1.15" stroke-linecap="round" opacity="0.7" fill="none"/>
<path d="M219.8 319.7h0M219.6 306.2h0M217.3 319.4h0M226.5 290.9h0M225.5 287.7h0M230.0 300.4h0M221.2 317.0h0M222.4 313.9h0M233.8 285.6h0M246.9 295.8h0M224.1 293.7h0M224.4 302.5h0M216.3 327.4h0M216.8 312.9h0M224.2 305.0h0M218.5 320.2h0M297.3 309.3h0M222.0 269.7h0M219.4 322.5h0M221.2 286.6h0M221.0 325.5h0M239.9 285.8h0M228.3 300.1h0M221.7 323.2h0M216.3 313.7h0M227.4 296.4h0M228.6 278.0h0M287.9 279.4h0M225.6 290.4h0M225.6 244.6h0M228.6 315.6h0M219.2 324.4h0M216.7 332.3h0M219.7 305.4h0M260.2 287.1h0M227.7 285.7h0M235.5 207.4h0M218.3 305.2h0M217.0 322.4h0M226.7 304.7h0M217.5 317.0h0M218.6 319.7h0M231.9 224.5h0M263.5 288.7h0M218.8 323.7h0M234.1 293.5h0M224.0 314.3h0M220.2 282.8h0M227.6 313.8h0M222.1 322.0h0M219.0 319.8h0M227.0 303.6h0M220.9 319.4h0M221.7 305.4h0M223.0 312.0h0M216.5 327.1h0M217.7 323.1h0M216.1 327.6h0M224.4 311.5h0M223.0 300.3h0M220.3 323.9h0M262.2 280.2h0M225.4 305.9h0M225.1 306.9h0M222.7 322.0h0M220.3 318.2h0M241.0 304.2h0M224.4 310.7h0M235.3 307.5h0M239.2 250.6h0M221.8 291.0h0M233.8 228.7h0M223.6 306.7h0M304.7 303.1h0M216.9 327.4h0M225.9 303.7h0M252.3 289.3h0M216.9 327.6h0M222.7 272.6h0M222.6 311.5h0M241.6 201.9h0M218.9 324.1h0M218.3 323.4h0M216.7 327.7h0M216.8 327.8h0M218.3 314.6h0M228.8 302.6h0M224.3 303.8h0M251.0 291.8h0M221.8 318.7h0M216.3 328.4h0M228.1 305.7h0M268.1 305.5h0M217.5 319.4h0M216.9 326.4h0M225.5 296.8h0M225.7 295.6h0M247.7 301.0h0M220.1 325.6h0M229.9 281.2h0M224.9 317.8h0M224.4 304.3h0M219.1 318.6h0M218.9 258.9h0M237.2 307.2h0M220.8 238.9h0M220.0 309.6h0M219.4 317.9h0M220.6 327.8h0M222.8 313.6h0M222.8 302.0h0M232.6 285.8h0M292.1 286.1h0M217.2 327.0h0M236.8 292.6h0M222.1 327.4h0M218.7 314.7h0M220.0 317.4h0M217.8 310.7h0M216.9 325.3h0M223.7 303.7h0M220.1 311.4h0M219.8 260.4h0M344.3 271.9h0M222.5 314.4h0M219.3 303.2h0M218.1 318.7h0M218.9 316.6h0M215.9 330.5h0M225.1 317.0h0M217.7 319.7h0M237.8 310.5h0M217.6 317.4h0M230.9 292.1h0M216.5 328.1h0M217.2 329.2h0M222.8 305.7h0M222.5 307.2h0M217.4 326.1h0M295.6 242.9h0M222.7 315.2h0M219.4 321.9h0M234.6 277.7h0M217.6 327.5h0M216.8 328.7h0M245.0 238.5h0M230.0 264.9h0M249.8 292.6h0M217.2 321.8h0M244.5 255.1h0M217.7 325.3h0M216.2 316.6h0M262.5 287.7h0M265.1 314.6h0M217.0 322.6h0M226.6 289.9h0M216.5 310.5h0M231.0 294.9h0M224.3 319.0h0M217.1 318.8h0M216.6 327.4h0M216.8 327.0h0M220.4 231.7h0M287.3 247.0h0M292.7 285.9h0M237.6 227.1h0M250.2 276.4h0M218.1 302.7h0M259.1 291.0h0M237.7 311.3h0M217.0 327.6h0M226.6 304.2h0M219.1 289.7h0M216.2 331.2h0M218.9 327.7h0M232.5 276.0h0M219.7 322.4h0M240.6 270.8h0M218.8 306.9h0M216.4 330.9h0M221.1 314.1h0M221.6 317.6h0M221.1 307.8h0M278.1 284.0h0M240.0 312.5h0M221.4 268.0h0M226.1 273.8h0M260.0 306.5h0M338.0 287.5h0M231.3 312.5h0M231.4 285.0h0M230.0 266.1h0M259.5 306.2h0M220.0 321.9h0M219.4 299.7h0M229.6 258.9h0M218.3 262.9h0M218.1 308.8h0M236.8 248.9h0M222.3 310.1h0M224.7 267.4h0M217.7 320.8h0M217.2 323.2h0M223.4 314.3h0M224.0 267.2h0M232.2 281.1h0M221.0 303.1h0M242.0 244.6h0M215.8 327.8h0M219.2 322.7h0M220.9 293.4h0M222.9 312.7h0M229.6 296.1h0M225.2 268.7h0M219.4 317.2h0M219.5 328.0h0M220.2 311.8h0M218.5 325.0h0M324.7 245.6h0M220.3 299.1h0M216.8 328.9h0M218.4 320.9h0M226.7 293.2h0M217.6 330.4h0M231.2 314.9h0M220.8 308.5h0M229.9 324.3h0M219.9 323.7h0M231.3 268.6h0M223.2 307.7h0M221.2 325.4h0M218.2 295.1h0M229.8 286.0h0M247.5 291.6h0M221.3 311.4h0M243.0 280.8h0M219.2 320.2h0M232.6 301.9h0M224.8 301.6h0M221.6 323.7h0M237.1 252.1h0M220.0 323.9h0M228.4 309.9h0M244.1 287.6h0M257.4 293.5h0M218.1 321.5h0M216.6 323.5h0M230.0 249.5h0M218.5 324.7h0M221.1 288.8h0M219.6 318.1h0M222.5 280.4h0M216.8 326.2h0M237.8 235.3h0M220.8 315.2h0M217.7 310.4h0M218.1 325.9h0M232.2 258.2h0M251.4 299.4h0M220.6 307.2h0M216.6 329.4h0M238.0 242.8h0M221.0 315.5h0M219.3 322.5h0M225.4 289.9h0M231.6 202.6h0M226.5 296.8h0M226.3 279.0h0M229.2 297.5h0M216.7 328.7h0M227.4 307.0h0M221.2 305.4h0M217.9 324.0h0M249.5 245.8h0M226.8 308.5h0M219.0 318.8h0M225.9 310.0h0M239.8 245.5h0M216.0 313.3h0M220.0 315.4h0M336.5 281.3h0M248.8 216.0h0M220.0 317.1h0M219.7 317.7h0M228.1 291.2h0M218.2 324.9h0M252.5 306.2h0M220.4 318.5h0M229.4 302.2h0M231.1 298.6h0M242.0 280.8h0M216.5 327.8h0M269.0 296.1h0M223.7 299.0h0M225.2 311.1h0M218.4 318.2h0M216.0 330.6h0M226.6 284.9h0M217.4 324.6h0M220.2 319.8h0M239.9 193.5h0M224.8 284.0h0M236.3 300.3h0M220.1 322.7h0M216.2 327.8h0M221.1 319.8h0M219.8 299.1h0M239.3 238.2h0M220.0 316.1h0M216.5 327.0h0M216.8 331.1h0M230.9 271.8h0M220.2 323.6h0M219.9 255.3h0M234.7 305.6h0M237.2 241.2h0M219.3 314.4h0M218.7 319.7h0M217.6 321.0h0M222.7 318.6h0M244.2 252.8h0M222.1 314.8h0M218.4 326.3h0M220.8 322.2h0M217.3 324.1h0M226.1 289.0h0M223.2 292.2h0M224.4 323.0h0M225.3 294.5h0M218.9 325.4h0M234.5 259.0h0M218.6 310.1h0M268.6 305.6h0M273.6 250.7h0M226.7 303.3h0M217.1 324.0h0M216.6 327.2h0M318.2 301.9h0M219.4 318.9h0M219.5 319.6h0M217.6 326.2h0M224.2 309.1h0M228.7 257.2h0M224.2 292.4h0M220.0 314.5h0M231.2 264.3h0M320.9 262.2h0M245.5 280.6h0M232.1 307.6h0M217.8 326.6h0M216.4 326.6h0M228.2 312.2h0M218.0 327.8h0M222.7 318.4h0M216.2 332.0h0M216.5 316.3h0M216.4 302.5h0M218.7 284.8h0M227.6 292.2h0M223.4 262.9h0M216.3 313.9h0M217.9 272.7h0M226.5 305.3h0M227.2 303.5h0M224.1 310.3h0M216.2 328.3h0M221.7 295.6h0M260.3 275.1h0M229.4 289.3h0M256.9 304.2h0M217.1 299.6h0M221.8 302.3h0M224.1 313.0h0M321.3 286.8h0M216.6 324.0h0M220.0 324.8h0M216.3 323.5h0M219.7 325.5h0M297.8 259.0h0M225.6 312.1h0M220.0 316.9h0M224.8 297.5h0M235.5 286.2h0M230.9 235.2h0M250.0 287.9h0M226.9 304.7h0M222.5 318.5h0M226.3 312.2h0M221.3 259.3h0M218.7 318.4h0M216.2 318.8h0M217.3 329.5h0M225.0 300.3h0M236.6 289.2h0M252.8 291.6h0M220.5 319.0h0M245.1 301.2h0M227.6 281.5h0M224.4 312.2h0M227.3 244.9h0M231.2 212.5h0M217.8 321.8h0M221.5 305.4h0M219.7 293.3h0M220.5 322.0h0M220.8 319.0h0M218.2 320.4h0M235.5 279.9h0M216.3 328.9h0M218.0 324.3h0M231.7 303.5h0M231.0 299.9h0M217.5 324.5h0M240.2 247.9h0M238.2 319.5h0M217.3 324.2h0M217.0 330.5h0M225.4 313.9h0M222.1 277.4h0M216.1 321.5h0M220.1 321.6h0M231.0 283.4h0M218.2 324.6h0M218.0 314.8h0M227.7 323.3h0M232.4 285.6h0M222.5 313.5h0M229.5 293.3h0M222.1 293.9h0M224.1 292.5h0M230.4 276.7h0M220.8 314.7h0M217.8 305.2h0M217.7 327.3h0M222.2 296.2h0M222.8 290.3h0M229.7 295.9h0M234.8 300.7h0M216.2 313.2h0M217.4 323.1h0M231.5 269.4h0M218.2 325.2h0M221.6 313.4h0M217.0 324.2h0M218.6 321.4h0M217.7 325.3h0M259.7 302.6h0M241.4 249.0h0M224.7 314.7h0M230.7 308.8h0M228.4 309.3h0M222.8 306.0h0M216.4 324.9h0M227.9 292.0h0M220.4 316.0h0M258.8 261.8h0M216.9 330.2h0M217.5 300.5h0M215.9 330.4h0M225.9 320.3h0M224.7 287.1h0M219.0 326.3h0M220.3 302.5h0M221.4 306.4h0M243.8 274.2h0M224.0 311.5h0M219.8 321.6h0M223.9 297.8h0M218.5 316.0h0M219.4 325.2h0M227.6 280.1h0M220.2 316.9h0M221.9 315.3h0M216.1 325.9h0M240.5 215.4h0M348.1 215.8h0M216.8 325.8h0M254.8 295.8h0M218.5 288.5h0M282.1 298.4h0M237.3 275.5h0M219.3 315.8h0M229.6 287.7h0M227.2 266.1h0M223.0 289.6h0M230.0 318.5h0M217.6 325.9h0M216.9 329.0h0M218.3 311.8h0M223.7 306.5h0M267.3 280.4h0M221.0 316.0h0M268.6 262.9h0M233.3 307.4h0M216.5 324.1h0M226.5 312.1h0M219.1 324.4h0M223.5 299.9h0M234.1 295.1h0M219.3 328.3h0M221.6 309.7h0M271.9 256.8h0M216.6 325.9h0M217.4 315.1h0M238.7 275.2h0M220.9 316.3h0M236.6 257.6h0M219.1 320.6h0M230.2 314.3h0M218.7 324.7h0M250.8 274.7h0M230.4 288.7h0M223.0 317.2h0M217.8 283.1h0M220.6 320.3h0M217.5 328.1h0M223.6 302.3h0M216.8 317.5h0M219.1 316.2h0M217.9 330.6h0M228.4 298.5h0M215.8 331.4h0M251.5 302.9h0M226.3 302.1h0M218.6 322.5h0M217.1 327.0h0M216.4 328.1h0M219.5 310.7h0M218.9 317.6h0M232.3 307.6h0M220.1 309.0h0M241.8 240.0h0M331.7 275.8h0M216.0 309.0h0M218.6 321.0h0M227.3 234.8h0M224.7 248.3h0M218.4 322.0h0M218.6 315.7h0M233.2 263.6h0M223.3 286.0h0M223.0 302.6h0M217.3 323.5h0M325.8 292.9h0M222.7 305.4h0M220.9 315.4h0M226.2 296.6h0M224.0 284.3h0M234.4 222.0h0M223.0 273.0h0M220.5 290.4h0M223.8 303.3h0M224.6 301.1h0M220.9 301.3h0M230.9 299.5h0M225.7 316.3h0M222.0 321.3h0M218.2 306.6h0M221.6 301.6h0M217.8 315.9h0M220.1 282.5h0M216.8 327.8h0M223.4 322.5h0M221.9 320.0h0M218.2 321.4h0M217.3 326.5h0M219.1 321.9h0M235.7 300.6h0M233.7 292.2h0M230.3 274.3h0M219.5 311.6h0M218.1 282.1h0M231.8 237.9h0M221.0 307.3h0M221.2 322.6h0M236.7 276.2h0M226.9 212.6h0M238.6 307.7h0M226.5 320.2h0M218.4 317.1h0M226.1 242.9h0M222.2 319.4h0M216.4 326.6h0M224.1 305.4h0M217.6 321.3h0M223.5 278.0h0M242.8 303.7h0M326.8 259.7h0M242.8 241.7h0M241.0 305.9h0M220.0 319.6h0M220.7 309.8h0M222.6 309.5h0M216.7 325.0h0M237.5 299.8h0M223.9 314.1h0M232.9 308.9h0M222.4 309.2h0M216.4 328.3h0M216.9 327.7h0M222.0 315.5h0M223.8 312.1h0M239.7 259.1h0M232.7 214.4h0M219.9 322.4h0M237.3 292.7h0M223.4 297.7h0M218.6 318.6h0M224.1 298.0h0M216.0 332.3h0M219.7 315.9h0M227.0 311.9h0M230.8 217.7h0M217.6 325.2h0M224.5 307.0h0M224.2 302.1h0M225.3 263.0h0M217.2 330.1h0M216.9 329.7h0M246.1 235.5h0M228.0 265.5h0M224.5 306.4h0M225.1 319.1h0M221.4 314.9h0M218.0 326.1h0M224.4 308.8h0M225.6 295.0h0M227.4 322.4h0M231.7 297.1h0M228.2 286.4h0M227.4 310.8h0M221.4 316.0h0M222.0 315.8h0M230.0 291.5h0M218.8 314.8h0M217.5 328.2h0M224.7 310.3h0M218.7 315.7h0M219.7 304.4h0M218.8 313.6h0M256.0 260.0h0M296.9 303.5h0M313.3 256.7h0M216.7 320.9h0M227.1 243.1h0M260.5 256.8h0M221.5 209.6h0M226.6 315.3h0M217.1 304.5h0M217.4 317.1h0M230.7 304.4h0M218.4 329.1h0M227.9 320.5h0M224.8 258.5h0M222.5 305.4h0M226.9 246.7h0M219.7 318.8h0M236.6 293.1h0M226.0 314.1h0M221.2 313.7h0M245.7 274.7h0M220.3 289.2h0M220.4 304.4h0M216.5 326.1h0M220.7 310.8h0M230.3 293.1h0M216.0 329.1h0M293.7 295.4h0M222.3 271.8h0M219.0 316.2h0M217.9 315.3h0M226.1 277.2h0M218.3 290.3h0M222.2 316.1h0M216.4 319.1h0M224.5 305.2h0M225.5 315.2h0M229.0 261.3h0M220.2 306.9h0M221.1 321.2h0M216.8 325.0h0M222.2 295.4h0M217.1 330.0h0M254.3 315.3h0M316.4 283.5h0M224.4 304.1h0M233.0 286.1h0M220.2 313.4h0M221.8 305.0h0M221.1 293.9h0M219.1 322.0h0M234.4 296.2h0M216.3 311.0h0M228.9 287.7h0M226.9 292.1h0M223.7 305.2h0M226.2 294.1h0M216.3 330.8h0M221.6 278.2h0M218.3 324.7h0M253.1 279.7h0M230.9 234.7h0M216.4 328.9h0M225.0 309.7h0M217.2 329.4h0M220.2 303.2h0M226.9 322.4h0M223.2 286.8h0M227.8 306.9h0M217.9 322.8h0M230.9 315.9h0M221.5 297.7h0M243.3 323.8h0M223.1 315.9h0M219.9 309.0h0M220.4 314.4h0M217.6 329.0h0M333.7 287.1h0M220.1 315.2h0M321.8 250.6h0M232.0 290.6h0M231.1 306.1h0M219.3 301.8h0M216.4 312.7h0M216.3 328.2h0M303.8 290.7h0M236.4 285.5h0M218.7 319.3h0M252.6 282.1h0M219.7 322.5h0M220.3 313.0h0M222.5 312.8h0M221.2 318.4h0M217.2 326.2h0M218.7 324.8h0M225.2 306.0h0M216.7 328.1h0M221.0 317.6h0M221.6 307.6h0M229.7 286.4h0M216.3 327.8h0M230.8 294.6h0M243.4 300.0h0M252.1 313.2h0M216.0 327.7h0M232.3 297.4h0M238.6 241.8h0M218.9 322.0h0M249.4 213.7h0M298.4 258.1h0M220.2 311.2h0M220.2 293.1h0M216.6 329.7h0M216.8 327.3h0M222.1 318.5h0M217.1 330.2h0M218.1 298.5h0M311.0 280.8h0M231.0 265.6h0M226.3 318.6h0M235.1 260.5h0M224.4 294.4h0M228.3 310.6h0M239.9 291.0h0M216.7 326.9h0M221.9 311.9h0M354.4 271.7h0M226.9 300.9h0M228.6 303.7h0M224.0 278.0h0M216.3 325.3h0M217.5 326.6h0M216.1 330.7h0M215.8 332.4h0M221.2 316.8h0M223.9 307.1h0M230.9 266.7h0M225.6 311.9h0M317.8 268.5h0M216.8 322.2h0M223.9 308.0h0M218.6 316.2h0M304.9 295.8h0M219.3 311.5h0M218.6 309.8h0M218.2 327.6h0M232.9 258.0h0M261.5 305.9h0M216.2 324.5h0M230.3 306.1h0M282.2 266.6h0M234.7 304.2h0M253.2 308.7h0M218.6 325.6h0M223.0 317.0h0M297.5 276.7h0M228.4 311.7h0M235.2 308.5h0M342.6 250.0h0M218.1 323.5h0M281.1 244.0h0M217.5 310.3h0M219.5 310.5h0M220.7 326.0h0M218.4 319.2h0M219.0 298.6h0M228.2 249.6h0M218.6 298.9h0M224.0 318.3h0M217.8 328.9h0M328.9 293.9h0M238.0 289.8h0M220.4 318.9h0M228.3 315.5h0M220.8 318.7h0M224.9 285.8h0M224.4 304.5h0M224.3 307.4h0M221.4 322.9h0M220.6 308.0h0M224.7 314.4h0M220.1 308.3h0M220.3 308.3h0M249.0 298.8h0M224.2 324.8h0M225.1 318.0h0M226.3 243.1h0M221.6 312.1h0M222.8 308.7h0M215.9 319.7h0M231.2 284.6h0M229.1 291.0h0M232.2 304.7h0M226.1 311.5h0M220.4 286.9h0M219.9 281.6h0M217.9 311.8h0M228.2 299.0h0M227.8 310.9h0M224.4 298.5h0M226.0 232.1h0M227.0 255.3h0M216.4 328.9h0M230.0 309.1h0M218.5 307.6h0M220.7 307.7h0M233.4 309.6h0M243.2 214.4h0M248.4 287.7h0M223.4 303.5h0M219.9 323.5h0M216.8 324.2h0M222.6 296.1h0M222.5 292.7h0M244.7 320.5h0M222.9 316.6h0M247.7 299.0h0M218.2 326.8h0M220.5 310.4h0M218.5 312.6h0M225.1 297.4h0M239.0 294.9h0M223.2 276.8h0M217.6 320.9h0M271.5 272.3h0M230.1 295.8h0M216.9 329.6h0M216.7 329.2h0M216.7 331.3h0M222.9 316.5h0M219.1 325.4h0M218.0 322.2h0M219.8 313.3h0M234.0 318.7h0M218.0 328.7h0M217.5 329.6h0M218.3 320.4h0M225.6 321.6h0M222.0 305.8h0M217.9 283.8h0M215.7 327.9h0M216.0 327.6h0M229.6 281.1h0M226.4 264.4h0M227.2 295.4h0M232.4 311.3h0M220.4 325.0h0M252.8 300.7h0M231.4 285.5h0M234.6 278.5h0M221.1 276.7h0M224.1 305.6h0M216.9 323.6h0M218.5 328.1h0M222.8 297.9h0M222.5 270.0h0M291.9 305.7h0M215.9 322.7h0M225.8 302.6h0M223.7 260.6h0M216.2 327.4h0M250.2 266.4h0M216.5 320.3h0M216.7 327.0h0M224.6 279.7h0M220.7 310.4h0M216.9 321.1h0M220.7 306.7h0M224.8 312.3h0M272.3 299.6h0M220.7 320.7h0M218.9 321.0h0M344.8 294.2h0M252.7 313.1h0M226.8 290.2h0M227.6 311.7h0M217.9 326.0h0M225.6 300.0h0M218.1 318.3h0M215.7 332.1h0M239.6 305.2h0M225.5 284.7h0M233.9 292.0h0M217.0 322.3h0M234.7 283.8h0M235.4 194.8h0M223.9 319.2h0M233.7 305.6h0M317.8 277.2h0M223.9 309.0h0M218.6 270.4h0M224.6 310.8h0M230.2 309.4h0M221.0 291.8h0M279.9 291.9h0M217.3 305.0h0M218.7 310.9h0M235.6 290.0h0M217.1 321.1h0M245.0 292.9h0M216.3 330.4h0M221.0 314.5h0M227.0 303.0h0M225.1 285.6h0M340.7 267.8h0M247.5 248.9h0M230.8 295.1h0M218.7 321.4h0M314.9 254.1h0M220.3 298.5h0M216.6 321.4h0M226.0 286.4h0M217.8 314.3h0M217.4 327.8h0M224.7 315.4h0M217.3 294.3h0M218.6 324.6h0M257.2 288.2h0M223.9 255.4h0M221.0 247.6h0M225.8 293.1h0M250.7 252.5h0M224.8 293.4h0M218.8 322.5h0M218.9 326.2h0M216.5 330.3h0M230.3 306.2h0M217.2 325.5h0M219.0 318.6h0M231.9 279.0h0M217.6 292.3h0M274.3 300.0h0M240.6 274.9h0M236.4 322.2h0M216.8 327.3h0M216.6 325.6h0M272.6 231.0h0M225.9 288.7h0M220.7 310.2h0M222.9 319.8h0M247.9 233.9h0M223.5 301.3h0M222.5 318.2h0M220.5 322.7h0M222.9 271.3h0M221.6 296.2h0M220.1 315.8h0M245.2 217.0h0M217.4 327.1h0M231.6 273.5h0M232.2 309.0h0M218.3 324.1h0M225.5 303.1h0M242.1 289.5h0M223.5 289.9h0M217.3 313.5h0M217.2 323.8h0M225.4 314.0h0M219.0 324.9h0M217.0 321.4h0M217.9 297.4h0M225.7 306.6h0M221.0 318.8h0M221.2 317.1h0M217.4 292.6h0M217.3 324.5h0M225.9 292.3h0M231.6 318.8h0M217.2 323.5h0M219.9 300.7h0M268.5 302.8h0M233.6 307.3h0M224.4 307.9h0M278.2 301.3h0M218.3 315.0h0M218.7 318.3h0M261.6 291.8h0M217.6 324.8h0M220.5 314.7h0M221.1 305.1h0M220.5 302.0h0M302.2 284.5h0M223.3 315.0h0M241.2 274.5h0M223.7 316.7h0M233.8 301.5h0M242.7 307.8h0M233.4 268.4h0M219.4 310.3h0M227.3 301.0h0M218.9 320.7h0M229.4 295.9h0M224.2 289.4h0M226.4 312.9h0M217.2 326.1h0M230.7 293.0h0M222.9 308.5h0M276.5 267.0h0M225.4 294.7h0M216.7 319.9h0M247.8 313.0h0M225.5 304.8h0M218.6 325.0h0M231.2 264.2h0M225.6 304.3h0M222.8 300.1h0M217.8 322.2h0M219.4 276.8h0M220.1 315.4h0M217.8 318.2h0M222.9 319.0h0M236.8 275.8h0M220.1 317.8h0M221.6 304.3h0M227.0 304.3h0M226.5 291.1h0M217.9 314.4h0M231.5 282.3h0M224.9 270.5h0M217.4 324.3h0M222.5 284.3h0M221.9 312.6h0M220.7 306.2h0M222.7 297.6h0M231.1 259.1h0M217.5 298.4h0M226.7 302.7h0M216.9 331.2h0M238.6 296.2h0M221.9 289.8h0M215.8 331.2h0M217.1 325.0h0M241.3 295.4h0M216.4 329.6h0M224.3 305.8h0M216.9 323.4h0M217.1 326.2h0M239.2 281.6h0M232.1 316.5h0M271.2 265.8h0M216.4 330.7h0M224.2 303.2h0M221.9 314.1h0M230.4 243.6h0M230.4 236.2h0M223.4 294.5h0M261.4 290.6h0M221.4 285.6h0M243.0 300.8h0M223.3 280.1h0M242.2 282.3h0M244.8 316.9h0M220.8 315.8h0M227.5 233.0h0M223.7 306.0h0M221.3 314.7h0M220.1 316.1h0M223.8 222.7h0M219.5 302.1h0M236.0 266.8h0M226.2 294.2h0M224.1 264.9h0M241.2 251.4h0M276.9 311.2h0M226.7 293.2h0M223.5 309.2h0M219.2 317.5h0M220.0 317.9h0M234.8 292.0h0M233.3 278.6h0M216.8 329.0h0M228.6 275.2h0M229.0 318.8h0M218.8 323.8h0M264.8 242.6h0M261.7 258.1h0M222.3 288.6h0M283.8 287.2h0M229.2 301.4h0M223.1 285.2h0M230.3 273.8h0M220.0 322.3h0M231.2 306.4h0M219.3 307.5h0M224.7 305.4h0M222.3 317.1h0M267.4 276.8h0M241.1 200.7h0M217.7 328.1h0M219.2 326.2h0M219.0 315.6h0M217.0 318.4h0M221.5 319.8h0M223.1 306.5h0M281.7 278.9h0M220.6 322.5h0M294.0 272.1h0M218.4 321.4h0M218.5 320.2h0M216.6 313.1h0M226.2 294.8h0M229.4 265.4h0M222.5 300.1h0M224.6 315.1h0M216.8 302.0h0M218.7 269.2h0M220.5 318.8h0M238.4 309.6h0M294.3 281.1h0M240.7 316.0h0M218.5 323.7h0M225.8 275.0h0M217.0 325.2h0M216.5 328.4h0M226.9 306.6h0M233.0 257.9h0M232.3 318.0h0M218.7 324.8h0M234.3 234.4h0M222.2 296.7h0M223.6 303.0h0M226.3 252.6h0M220.0 307.1h0M222.9 298.8h0M217.7 291.0h0M247.1 288.7h0M216.7 330.1h0M217.2 324.6h0M220.6 320.4h0M224.0 320.4h0M256.3 294.0h0M227.0 300.9h0M224.1 307.6h0M216.6 323.5h0M239.7 308.4h0M217.3 328.9h0M221.3 319.5h0M217.7 328.8h0M221.1 321.5h0M226.7 310.0h0M218.5 321.2h0M217.8 325.8h0M221.3 317.8h0M217.0 325.9h0M217.6 317.9h0M231.8 294.1h0M217.5 329.0h0M222.9 312.6h0M216.4 331.6h0M220.4 306.7h0M248.4 272.9h0M221.6 319.3h0M219.0 319.2h0M230.4 236.2h0M219.7 318.6h0M302.5 284.9h0M218.5 308.2h0M240.6 232.4h0M223.2 314.2h0M227.5 323.3h0M221.2 314.8h0M223.1 313.2h0M218.5 307.3h0M224.7 284.0h0M218.0 323.9h0M225.4 287.6h0M224.9 315.9h0M228.8 211.1h0M223.2 298.3h0M350.2 283.2h0M221.3 290.2h0M219.7 309.1h0M289.8 257.0h0M230.6 298.3h0M219.8 299.0h0M217.0 322.5h0M216.9 320.5h0M222.0 323.8h0M216.1 330.6h0M238.6 300.0h0M218.7 324.0h0M222.1 319.6h0M221.5 322.0h0M220.3 316.0h0M249.8 293.6h0M226.3 307.3h0M216.3 326.6h0M224.1 305.7h0M216.8 328.1h0M224.0 307.8h0M228.5 312.1h0M226.1 305.5h0M227.3 288.2h0M219.0 318.4h0M223.0 280.2h0M244.9 315.6h0M216.9 291.7h0M217.1 327.7h0M224.7 223.7h0M222.4 276.3h0M293.9 261.7h0M229.1 314.5h0M218.5 326.2h0M219.5 325.9h0M216.6 325.7h0M262.7 266.9h0M223.2 327.9h0M216.8 321.2h0M217.1 320.2h0M217.0 328.3h0M224.7 307.5h0M216.5 326.7h0M217.6 329.2h0M225.5 301.3h0M223.8 310.2h0M216.0 329.5h0M239.5 302.0h0M244.8 308.5h0M220.4 305.8h0M223.6 292.4h0M222.6 317.7h0M216.2 316.5h0M221.8 318.3h0M216.0 326.7h0M235.6 317.1h0M224.9 269.4h0M220.9 276.8h0M333.6 298.6h0M223.6 315.8h0M318.3 247.4h0M219.7 322.6h0M228.4 313.8h0M218.9 324.5h0M217.4 278.9h0M225.5 311.6h0M229.2 321.4h0M272.4 288.9h0M228.0 301.4h0M225.5 312.6h0M220.1 318.3h0M216.2 328.4h0M216.7 324.7h0M222.8 303.9h0M216.7 324.0h0M219.0 320.0h0M220.7 317.8h0M216.6 305.9h0M226.3 289.9h0M235.4 291.1h0M228.0 286.4h0M273.4 281.5h0M311.2 305.4h0M228.7 315.0h0M221.5 304.8h0M226.8 293.5h0M233.6 278.8h0M221.4 310.7h0M245.2 197.4h0M219.0 317.5h0M217.3 324.2h0M222.3 313.0h0M219.0 324.8h0M240.9 284.1h0M224.3 307.9h0M222.2 220.1h0M220.0 323.2h0M236.2 315.6h0M219.4 321.3h0M218.7 322.0h0M237.1 234.6h0M230.9 316.2h0M215.9 328.3h0M223.6 314.9h0M222.1 307.9h0M218.9 318.1h0M217.0 325.9h0M222.2 308.0h0M220.8 317.3h0M217.9 321.9h0M224.1 255.0h0M225.7 297.6h0M233.1 288.1h0M221.0 310.8h0M299.2 294.3h0M225.0 304.1h0M220.0 297.0h0M250.3 286.9h0M217.5 323.7h0M228.6 289.1h0M244.8 306.9h0M218.2 318.5h0M220.5 312.7h0M216.6 315.8h0M217.7 322.4h0M258.6 289.9h0M216.1 325.7h0M226.7 285.9h0M221.8 317.9h0M242.4 286.9h0M222.1 320.7h0M224.1 294.0h0M216.7 319.0h0M228.1 284.7h0M232.5 248.8h0M308.9 270.3h0M226.5 306.4h0M277.5 281.0h0M232.8 319.7h0M227.4 293.3h0M217.7 320.9h0M274.4 271.4h0M217.1 324.6h0M225.2 294.5h0M216.5 330.4h0M229.4 253.0h0M294.1 255.3h0M228.2 313.9h0M231.5 284.3h0M216.8 325.8h0M218.1 325.2h0M219.3 309.7h0M216.9 329.1h0M219.1 320.2h0M223.3 321.8h0M228.3 263.2h0M216.3 326.3h0M218.5 324.5h0M221.3 302.9h0M216.7 322.8h0M227.9 323.5h0M221.7 313.3h0M224.8 319.4h0M248.7 287.1h0M219.7 323.9h0M224.6 246.9h0M217.8 325.1h0M290.2 289.8h0M222.5 299.7h0M216.1 328.9h0M220.0 317.9h0M218.0 320.7h0M235.6 302.4h0M217.3 306.3h0M221.3 306.6h0M218.5 317.9h0M216.8 325.3h0M221.2 281.7h0M218.2 325.8h0M234.3 285.6h0M233.9 279.7h0M227.7 295.9h0M222.4 298.4h0M219.4 315.9h0M219.3 298.8h0M224.1 311.3h0M227.7 317.7h0M285.4 305.5h0M222.7 296.8h0M217.0 325.8h0M241.8 287.0h0M218.0 327.7h0M220.8 319.1h0M236.1 311.2h0M221.7 316.9h0M249.8 301.9h0M218.3 310.8h0M228.2 301.6h0M240.0 310.7h0M216.8 330.0h0M240.9 305.2h0M227.5 304.7h0M234.1 320.4h0M216.4 329.1h0M224.2 296.8h0M291.5 269.6h0M216.1 328.3h0M219.3 319.7h0M221.5 284.3h0M302.6 297.1h0M216.5 319.1h0M220.9 304.2h0M219.3 309.3h0M242.6 241.6h0M220.4 320.9h0M221.1 308.5h0M216.8 307.9h0M216.5 327.8h0M218.9 326.3h0M218.8 268.6h0M216.9 321.3h0M227.6 316.5h0M218.1 313.3h0M217.9 325.7h0M230.5 316.7h0M249.7 312.7h0M221.3 313.8h0M223.6 274.6h0M230.8 209.9h0M221.1 322.1h0M220.0 314.6h0M265.8 311.5h0M216.8 326.9h0M223.3 312.6h0M220.4 318.3h0M217.0 319.9h0M237.1 278.8h0M223.8 307.7h0M225.4 301.5h0M217.7 326.2h0M217.7 325.4h0M226.7 302.9h0M223.1 310.8h0M223.1 317.2h0M261.2 306.5h0M238.4 278.0h0M236.5 293.4h0M224.2 310.6h0M233.2 299.6h0M217.8 285.1h0M226.1 302.5h0M219.4 321.6h0M231.9 303.6h0M222.0 318.5h0M235.0 268.4h0M227.1 295.2h0M242.7 246.9h0M230.7 300.8h0M230.7 303.7h0M224.0 317.9h0M218.5 318.0h0M219.3 301.0h0M224.1 316.0h0M220.9 308.5h0M218.9 325.1h0M217.4 313.9h0M216.5 321.3h0M231.8 307.3h0M216.2 329.8h0M234.9 228.3h0M216.8 325.1h0M231.0 306.1h0M216.0 330.8h0M221.6 301.8h0M221.9 313.8h0M219.3 300.0h0M217.3 330.8h0M330.1 296.4h0M223.3 311.6h0M224.1 302.9h0M221.4 324.4h0M231.0 257.7h0M220.9 313.1h0M222.1 322.9h0M225.5 298.8h0M233.4 311.8h0M241.7 221.8h0M217.9 325.3h0M227.8 278.5h0M219.2 303.2h0M219.9 306.3h0M218.5 325.5h0M219.9 300.7h0M221.7 322.7h0M218.2 295.9h0M216.7 324.3h0M223.7 319.6h0M223.4 298.0h0M228.9 264.0h0M287.4 249.3h0M224.7 302.0h0M250.1 234.5h0M234.2 261.4h0M220.0 317.6h0M217.8 327.3h0M239.4 297.4h0M217.0 326.3h0M230.2 286.5h0M217.4 326.7h0M238.5 228.6h0M223.2 310.7h0M216.5 330.0h0M258.6 312.5h0M237.7 287.5h0M220.0 309.2h0M218.2 326.0h0M216.9 318.8h0M216.9 305.8h0M246.0 291.2h0M220.1 291.2h0M219.7 322.3h0M223.6 292.1h0M217.1 316.5h0M222.5 291.2h0M219.5 320.3h0M217.3 328.7h0M233.9 293.0h0M311.4 269.6h0M218.8 317.9h0M286.4 289.6h0M325.9 295.8h0M222.6 215.0h0M224.4 323.6h0M218.4 322.8h0M251.3 316.2h0M223.5 312.8h0M217.6 327.7h0M217.8 321.9h0M308.9 255.7h0M233.6 236.9h0M224.5 312.5h0M222.0 308.5h0M239.9 237.2h0M216.9 324.9h0M222.8 319.2h0M229.5 307.5h0M220.0 322.6h0M244.8 233.1h0M217.2 327.5h0M228.7 278.8h0M223.6 318.6h0M225.7 324.3h0M222.1 311.0h0M219.5 323.3h0M219.0 323.1h0M262.0 246.0h0M224.8 295.3h0M291.0 276.0h0M218.1 327.9h0M226.0 301.9h0M218.1 325.5h0M222.1 308.0h0M319.1 299.5h0M221.0 308.6h0M228.2 278.8h0M232.1 303.3h0M216.1 331.6h0M218.6 289.8h0M219.7 319.9h0M216.7 328.0h0M218.6 326.5h0M219.6 275.8h0M223.7 314.7h0M218.7 323.2h0M226.2 306.8h0M230.6 198.1h0M248.2 272.1h0M254.8 263.9h0M225.9 299.5h0M220.8 309.1h0M220.2 322.2h0M218.1 311.1h0M234.6 273.8h0M219.2 312.2h0M231.1 292.0h0M225.1 309.4h0M222.3 323.7h0M217.2 329.3h0M220.7 320.5h0M220.3 304.0h0M233.7 215.6h0M217.2 325.2h0M241.4 316.0h0M226.2 321.2h0M220.1 294.7h0M221.9 320.6h0M228.4 256.0h0M220.3 319.7h0M223.1 317.8h0M234.0 310.9h0M227.7 311.1h0M252.5 307.0h0M219.0 319.8h0M218.6 320.2h0M324.8 298.0h0M223.3 303.7h0M216.1 330.8h0M219.4 321.2h0M236.9 305.4h0M226.3 255.7h0M354.9 257.1h0M215.8 330.9h0M230.4 278.9h0M256.2 313.5h0M223.3 285.4h0M224.7 325.4h0M220.5 308.9h0M230.2 296.8h0M216.1 331.9h0M226.5 307.6h0M226.2 288.0h0M219.7 304.7h0M217.6 323.0h0M218.1 327.9h0M237.0 310.5h0M216.9 319.0h0M216.5 329.5h0M216.1 328.8h0M277.0 285.8h0M230.3 274.9h0M232.3 301.8h0M225.1 322.5h0M220.0 305.1h0M220.9 304.2h0M216.8 327.2h0M343.1 274.3h0M217.6 321.5h0M247.6 290.5h0M305.5 288.4h0M227.1 271.1h0M245.3 301.3h0M224.8 297.7h0M228.2 319.6h0M216.5 327.6h0M231.0 270.8h0M222.3 315.9h0M248.1 296.7h0M233.7 301.2h0M220.3 291.0h0M250.2 275.1h0M242.3 302.4h0M228.3 291.3h0M240.9 278.0h0M227.4 301.4h0M278.1 291.6h0M220.9 312.2h0M226.7 296.0h0M224.5 256.9h0M217.1 326.0h0M221.2 317.7h0M221.4 314.8h0M216.7 326.3h0M235.1 304.2h0M219.7 313.5h0M234.4 292.6h0M219.1 313.2h0M217.4 321.9h0M220.0 321.6h0M223.3 314.1h0M223.5 307.0h0M227.8 288.7h0M217.7 324.3h0M221.6 301.2h0M221.6 308.5h0M219.8 325.0h0M231.9 314.2h0M280.4 288.1h0M230.9 284.3h0M222.2 292.1h0M216.2 330.1h0M227.8 299.9h0M217.6 327.9h0M233.3 317.7h0M222.2 315.9h0M227.9 304.8h0M229.7 302.8h0M243.3 295.6h0M251.4 288.8h0M215.9 329.6h0M227.6 313.5h0M220.6 291.3h0M232.4 259.3h0M218.2 308.8h0M227.3 318.4h0M226.8 318.3h0M219.0 315.1h0M222.3 318.7h0M217.3 327.3h0M227.9 284.6h0M220.1 293.7h0M225.6 201.3h0M279.3 289.0h0M293.7 299.8h0M241.5 289.1h0M218.7 320.7h0M229.1 298.2h0M255.2 296.7h0M217.5 328.1h0M219.3 315.9h0M219.4 312.9h0M219.7 315.7h0M222.1 303.6h0M221.1 317.4h0M222.3 317.6h0M226.9 309.7h0M221.9 317.1h0M221.2 286.7h0M219.7 312.5h0M215.8 330.8h0M216.7 326.2h0M221.6 255.5h0M228.2 296.4h0M229.4 251.8h0M218.3 266.0h0M221.9 321.1h0M221.9 227.2h0M222.3 309.4h0M243.3 304.8h0M221.2 311.5h0M242.1 274.3h0M235.8 280.8h0M274.8 272.1h0M230.8 316.6h0M220.4 323.5h0M257.4 313.3h0M216.3 328.5h0M221.2 306.3h0M331.0 259.9h0M218.3 317.1h0M223.1 316.7h0M225.8 198.9h0M251.9 320.1h0M217.4 330.3h0M263.8 291.8h0M222.3 312.6h0M222.4 303.5h0M227.7 305.6h0M219.7 323.7h0M219.1 323.5h0M235.7 249.2h0M221.3 301.0h0M221.7 299.5h0M223.4 317.7h0M225.8 317.4h0M221.2 321.4h0M231.2 289.5h0M233.1 307.1h0M219.8 315.8h0M346.4 284.0h0M269.6 276.7h0M227.7 299.7h0M220.5 288.9h0M221.0 316.3h0M223.4 303.7h0M231.6 235.7h0M355.4 293.5h0M260.2 267.5h0M218.6 314.6h0M226.4 315.6h0M217.7 326.9h0M222.0 309.4h0M225.1 231.3h0M223.3 278.4h0M315.4 272.6h0M219.1 298.3h0M217.0 327.2h0M217.9 323.5h0M232.8 286.6h0M227.1 301.0h0M217.6 327.0h0M220.3 294.6h0M226.4 313.3h0M217.3 328.3h0M228.2 250.0h0M228.5 296.0h0M222.8 307.8h0M229.2 297.0h0M216.1 329.9h0M225.1 268.3h0M221.0 326.8h0M216.3 308.9h0M237.0 291.2h0M268.7 281.9h0M218.4 324.2h0M219.5 317.3h0M264.9 283.9h0M220.5 306.9h0M222.0 321.2h0M226.1 318.4h0M221.1 304.9h0M232.0 275.9h0M226.9 314.1h0M217.8 321.3h0M330.4 299.9h0M217.2 323.9h0M217.5 270.0h0M245.1 304.5h0M217.6 318.7h0M236.0 287.5h0M219.4 297.7h0M226.0 306.3h0M221.1 303.1h0M219.8 320.5h0M225.6 300.3h0M230.1 308.4h0M252.1 287.5h0M217.6 317.1h0M220.5 324.0h0" stroke="#000" stroke-width="1.15" stroke-linecap="round" opacity="0.7" fill="none"/>
<path d="M218.8 324.3h0M260.6 295.4h0M239.4 317.1h0M230.0 290.1h0M226.0 264.6h0M237.1 269.2h0M354.3 274.9h0M226.7 298.0h0M219.7 311.5h0M221.7 290.6h0M220.9 287.7h0M228.3 253.3h0M236.0 313.0h0M218.7 314.9h0M246.5 303.3h0M216.7 306.8h0M243.6 242.7h0M218.4 293.1h0M220.0 313.4h0M216.8 324.2h0M226.2 298.5h0M226.6 273.3h0M235.3 312.9h0M218.9 313.7h0M223.5 297.5h0M230.9 313.3h0M233.4 249.8h0M228.9 279.1h0M233.8 298.3h0M230.1 280.9h0M218.5 327.2h0M220.4 322.3h0M218.6 312.5h0M226.0 298.0h0M217.3 329.6h0M223.7 284.2h0M216.4 327.7h0M227.2 319.5h0M219.4 320.9h0M233.5 244.3h0M220.7 318.4h0M234.0 289.0h0M218.2 320.8h0M233.0 211.0h0M265.7 304.8h0M221.4 280.0h0M218.6 312.2h0M223.3 320.6h0M227.0 311.8h0M226.2 282.0h0M219.1 321.8h0M229.3 297.7h0M217.0 326.6h0M247.7 280.6h0M223.4 315.3h0M281.1 305.1h0M220.7 318.2h0M270.5 243.7h0M248.0 301.1h0M221.3 319.0h0M223.4 303.4h0M217.2 329.2h0M222.9 320.4h0M222.3 271.0h0M228.8 305.1h0M237.1 309.4h0M221.8 308.8h0M225.2 301.3h0M219.6 305.5h0M227.1 299.5h0M219.5 320.7h0M222.3 205.8h0M260.4 312.2h0M222.9 311.6h0M227.6 269.8h0M221.1 307.6h0M227.2 311.8h0M225.0 314.5h0M217.1 322.0h0M222.7 270.6h0M221.9 308.9h0M219.6 273.1h0M275.4 264.8h0M230.0 317.6h0M245.1 276.9h0M224.2 309.8h0M239.9 294.7h0M219.0 307.0h0M263.1 308.1h0M217.1 326.3h0M229.5 304.5h0M225.2 303.5h0M228.9 254.4h0M259.9 298.8h0M221.9 295.0h0M222.7 283.5h0M231.6 290.8h0M262.3 289.5h0M217.3 326.8h0M230.4 279.6h0M218.6 317.2h0M222.1 319.5h0M228.0 304.1h0M219.8 321.7h0M219.4 318.9h0M218.9 280.9h0M216.0 326.0h0M233.3 261.4h0M226.9 289.2h0M218.2 258.3h0M218.5 321.4h0M217.0 329.0h0M216.5 328.2h0M216.5 326.6h0M230.6 322.4h0M219.7 303.2h0M221.1 313.1h0M231.2 286.6h0M225.9 310.0h0M217.9 328.0h0M217.6 322.9h0M217.1 307.6h0M222.8 321.7h0M227.7 270.0h0M217.3 324.5h0M245.9 222.7h0M274.7 277.2h0M219.6 323.9h0M224.2 300.2h0M219.0 324.1h0M227.6 310.7h0M236.1 297.3h0M229.5 318.4h0M218.0 327.3h0M217.7 326.8h0M256.2 301.3h0M221.8 308.6h0M222.2 322.2h0M217.6 326.4h0M224.8 275.4h0M216.0 328.5h0M318.1 273.3h0M230.9 269.5h0M221.4 315.3h0M225.4 295.5h0M230.4 286.1h0M303.6 276.0h0M223.9 311.1h0M275.6 289.0h0M237.9 286.2h0M229.5 298.9h0M218.5 326.2h0M220.1 311.2h0M225.6 323.1h0M218.0 317.2h0M216.5 324.3h0M260.2 297.3h0M220.3 316.9h0M217.0 326.8h0M225.4 288.7h0M218.9 318.5h0M218.1 321.6h0M217.4 289.3h0M225.3 309.2h0M219.8 310.2h0M219.4 321.2h0M224.0 292.0h0M217.4 323.8h0M222.1 315.4h0M221.6 307.8h0M223.7 283.1h0M226.3 309.7h0M223.7 313.2h0M305.2 291.6h0M219.0 309.2h0M255.3 288.2h0M224.5 321.1h0M350.0 265.5h0M225.6 304.9h0M221.8 305.7h0M231.8 282.1h0M222.7 299.9h0M218.9 306.7h0M219.5 307.7h0M217.8 323.0h0M263.4 282.0h0M230.1 304.9h0M248.6 271.1h0M222.2 314.2h0M220.7 313.9h0M218.5 292.4h0M218.0 326.4h0M219.4 327.1h0M240.0 285.0h0M225.3 244.7h0M231.1 306.9h0M222.7 313.2h0M217.5 323.0h0M220.6 322.2h0M220.5 320.0h0M227.6 233.3h0M219.0 311.0h0M224.8 285.6h0M226.4 291.0h0M217.0 325.3h0M258.4 283.3h0M224.8 216.8h0M217.2 325.8h0M223.1 296.7h0M230.1 290.0h0M217.5 321.0h0M277.2 307.1h0M257.8 255.3h0M244.8 258.5h0M222.2 291.8h0M223.1 317.4h0M216.7 328.3h0M269.1 259.1h0M217.7 321.8h0M219.2 322.2h0M217.6 326.7h0M236.1 290.1h0M230.4 227.1h0M269.4 306.8h0M239.5 305.6h0M236.5 288.2h0M220.6 313.0h0M218.7 315.6h0M217.1 319.5h0M223.9 312.4h0M217.0 325.1h0M220.2 310.7h0M216.6 328.0h0M225.7 305.8h0M224.0 319.6h0M240.5 310.3h0M220.1 311.2h0M218.9 327.6h0M244.5 301.4h0M224.1 308.6h0M216.2 324.5h0M220.7 258.5h0M218.3 317.1h0M216.3 330.6h0M236.7 292.9h0M221.7 316.4h0M217.6 316.9h0M218.1 319.6h0M218.7 324.3h0M233.2 268.3h0M228.4 226.5h0M218.5 321.4h0M222.8 319.0h0M236.4 267.0h0M230.2 294.4h0M220.9 324.3h0M216.6 318.7h0M238.2 269.7h0M235.1 283.1h0M217.2 329.0h0M219.2 323.6h0M229.4 299.8h0M219.2 320.5h0M221.7 319.0h0M219.0 299.9h0M224.5 287.7h0M218.7 288.8h0M226.8 304.5h0M216.0 330.1h0M220.1 320.7h0M217.6 322.4h0M222.4 304.1h0M217.1 325.4h0M219.0 306.4h0M218.4 325.6h0M254.7 304.2h0M217.8 324.7h0M218.1 313.8h0M245.7 296.6h0M233.4 282.3h0M217.1 312.6h0M235.8 298.7h0M222.8 202.4h0M222.8 281.0h0M225.0 292.1h0M218.2 319.3h0M218.2 324.0h0M217.1 331.9h0M231.2 317.5h0M216.9 327.5h0M227.5 303.7h0M239.9 305.7h0M241.2 325.8h0M321.5 303.6h0M226.7 259.5h0M333.5 249.3h0M225.2 315.3h0M231.3 315.1h0M217.1 312.2h0M220.2 259.0h0M249.2 269.4h0M233.3 251.7h0M224.3 316.6h0M227.3 299.7h0M237.4 306.6h0M221.2 282.4h0M221.4 309.3h0M231.8 297.2h0M226.3 294.9h0M217.6 328.4h0M219.3 278.9h0M228.5 298.3h0M220.1 316.4h0M222.0 310.0h0M222.8 319.5h0M222.0 320.3h0M240.0 313.1h0M218.7 323.7h0M261.9 289.3h0M216.6 330.4h0M233.5 285.8h0M232.1 295.8h0M223.0 308.5h0M221.2 286.5h0M216.5 322.6h0M225.2 304.6h0M227.3 311.9h0M221.2 304.8h0M222.4 324.2h0M221.6 284.6h0M224.8 315.0h0M217.4 293.6h0M277.4 271.4h0M217.9 292.4h0M222.7 312.0h0M221.6 313.2h0M217.9 324.0h0M224.6 281.9h0M234.8 264.2h0M219.5 322.0h0M241.8 269.6h0M231.8 272.7h0M221.4 268.1h0M215.8 329.6h0M223.2 302.5h0M231.0 231.2h0M223.9 304.1h0M302.5 264.6h0M216.5 327.2h0M228.8 267.9h0M231.8 257.4h0M219.3 304.6h0M235.6 308.3h0M224.3 289.5h0M224.1 302.2h0M217.1 328.7h0M222.5 312.3h0M216.7 323.6h0M221.8 309.2h0M219.5 310.7h0M221.3 305.4h0M226.5 284.4h0M216.9 329.3h0M215.9 324.5h0M217.7 320.7h0M219.9 328.0h0M232.1 305.9h0M220.0 322.9h0M223.4 311.0h0M218.5 318.4h0M219.4 310.8h0M222.2 313.0h0M220.6 316.9h0M281.6 284.2h0M219.5 314.5h0M223.3 322.1h0M224.2 296.8h0M217.3 326.7h0M292.7 247.3h0M277.3 224.6h0M223.4 284.2h0M221.6 310.5h0M229.3 302.6h0M224.0 254.5h0M227.6 304.4h0M225.1 316.7h0M238.8 304.6h0M220.1 326.0h0M246.1 306.6h0M217.4 318.9h0M238.8 295.3h0M220.6 328.5h0M228.9 299.9h0M216.7 326.2h0M220.3 320.8h0M219.2 323.2h0M217.4 322.9h0M219.0 318.2h0M224.7 269.2h0M218.1 327.5h0M217.5 326.4h0M216.9 330.2h0M219.1 322.5h0M219.6 322.4h0M238.1 290.2h0M222.7 295.1h0M227.8 306.4h0M217.4 322.1h0M225.3 315.5h0M232.8 297.1h0M224.5 303.1h0M264.9 298.6h0M294.5 309.1h0M234.7 292.3h0M219.4 325.8h0M226.4 315.9h0M235.7 314.5h0M239.2 304.9h0M218.6 324.1h0M289.5 275.0h0M233.6 298.9h0M219.9 301.1h0M229.3 296.6h0M217.8 323.1h0M219.5 311.6h0M219.5 313.4h0M217.2 312.4h0M221.5 294.3h0M233.7 296.7h0M219.4 317.9h0M218.4 318.0h0M218.3 326.7h0M250.0 284.2h0M217.8 326.2h0M231.2 316.4h0M220.9 320.4h0M239.8 278.9h0M223.4 305.4h0M220.3 291.7h0M219.2 319.1h0M216.6 319.6h0M237.3 294.6h0M219.6 312.1h0M223.1 291.9h0M233.2 210.0h0M217.2 305.9h0M216.3 328.4h0M238.1 282.6h0M223.3 306.6h0M216.8 328.2h0M224.4 313.6h0M223.4 313.7h0M222.4 299.8h0M219.9 310.1h0M217.1 326.5h0M227.5 311.5h0M229.4 273.6h0M273.9 273.8h0M220.0 318.4h0M236.6 299.5h0M228.8 288.7h0M219.4 286.9h0M248.2 290.8h0M256.8 285.4h0M216.7 326.1h0M218.0 322.4h0M217.5 329.7h0M216.7 326.1h0M217.6 298.6h0M233.4 207.1h0M233.4 244.6h0M224.4 303.5h0M280.0 269.5h0M218.2 325.7h0M286.7 307.3h0M227.6 302.7h0M221.6 280.2h0M216.1 323.8h0M218.5 318.6h0M225.3 315.8h0M254.4 275.0h0M227.3 305.3h0M221.4 324.4h0M233.0 310.4h0M224.6 294.7h0M217.1 327.5h0M263.8 296.5h0M251.6 271.9h0M216.8 329.4h0M227.9 302.1h0M216.3 327.3h0M226.0 307.0h0M233.7 255.0h0M217.5 328.1h0M223.0 293.2h0M223.9 313.7h0M228.6 251.6h0M247.1 271.5h0M221.4 320.2h0M224.2 246.0h0M229.2 230.4h0M227.3 313.7h0M217.6 328.5h0M216.1 325.7h0M237.2 299.3h0M225.9 316.3h0M216.7 313.4h0M231.6 272.7h0M246.8 295.8h0M218.6 321.0h0M225.1 310.9h0M228.8 297.4h0M216.9 325.8h0M223.2 304.8h0M229.1 295.9h0M237.8 282.0h0M236.4 205.9h0M226.4 323.4h0M223.8 305.4h0M271.2 309.5h0M263.0 297.8h0M217.7 318.9h0M217.4 328.6h0M223.7 313.0h0M223.8 308.2h0M231.5 297.2h0M229.9 310.1h0M241.1 294.4h0M237.3 312.7h0M232.6 301.9h0M268.2 284.1h0M254.7 302.1h0M227.9 303.6h0M231.9 292.8h0M223.4 265.2h0M219.1 320.1h0M218.1 323.2h0M229.4 292.8h0M226.3 315.2h0M252.8 312.4h0M296.8 291.3h0M226.8 277.6h0M227.6 279.7h0M221.3 317.6h0M220.2 316.7h0M227.3 297.7h0M223.2 316.2h0M231.7 289.3h0M216.6 312.2h0M235.8 311.4h0M269.2 303.4h0M235.9 304.9h0M219.3 325.2h0M217.5 328.8h0M228.7 311.6h0M217.0 327.7h0M244.6 262.4h0M224.3 292.7h0M223.6 299.0h0M219.1 315.9h0M230.0 305.1h0M221.1 309.8h0M228.5 248.2h0M240.6 234.6h0M220.2 319.8h0M221.2 206.6h0M219.8 326.6h0M229.8 291.6h0M219.6 324.8h0M219.5 319.4h0M218.2 310.9h0M244.0 303.7h0M233.7 299.2h0M287.9 304.5h0M220.5 315.6h0M298.9 297.8h0M219.4 326.7h0M222.7 315.1h0M221.2 312.9h0M226.5 274.4h0M259.6 293.6h0M234.1 241.3h0M236.1 312.6h0M239.3 273.1h0M225.4 289.0h0M218.8 272.1h0M228.6 304.4h0M220.6 314.5h0M221.7 314.8h0M216.4 322.3h0M216.7 330.5h0M231.8 267.3h0M217.7 327.2h0M235.7 266.8h0M220.8 321.8h0M225.4 300.4h0M218.6 324.3h0M220.3 310.0h0M226.1 317.2h0M220.6 313.6h0M216.2 329.8h0M336.2 279.9h0M216.0 317.3h0M221.8 320.8h0M220.7 310.8h0M225.6 289.1h0M293.7 277.1h0M234.9 212.1h0M228.8 299.7h0M347.6 292.5h0M218.2 328.7h0M255.9 288.5h0M219.0 323.6h0M242.0 297.4h0M217.6 327.0h0M218.6 317.8h0M218.2 321.9h0M216.4 329.2h0M220.1 322.6h0M227.1 301.9h0M228.8 269.5h0M221.4 301.1h0M217.8 311.1h0M224.6 234.9h0M222.4 308.0h0M220.5 323.6h0M232.0 311.9h0M217.3 323.6h0M225.6 264.1h0M225.9 310.3h0M224.5 303.4h0M235.4 282.5h0M232.3 236.1h0M215.9 329.5h0M221.4 307.9h0M222.8 317.7h0M216.0 331.3h0M219.7 317.4h0M218.7 325.1h0M228.8 302.9h0M225.4 311.3h0M221.6 317.3h0M228.3 270.7h0M219.4 323.5h0M248.6 244.5h0M222.0 311.7h0M223.7 315.3h0M220.6 313.7h0M230.7 319.7h0M304.9 300.0h0M222.9 296.8h0M216.9 321.4h0M218.3 323.7h0M224.0 274.4h0M217.3 329.9h0M217.6 324.0h0M227.1 305.3h0M226.4 301.9h0M225.6 315.8h0M229.2 318.5h0M228.5 299.5h0M294.3 291.8h0M230.0 290.3h0M222.7 300.8h0M222.8 308.5h0M220.5 322.4h0M218.1 322.4h0M216.5 331.1h0M222.2 304.9h0M218.5 328.0h0M230.3 295.3h0M219.9 314.7h0M219.6 323.9h0M219.8 322.1h0M218.9 288.8h0M219.8 250.0h0M218.3 320.7h0M232.5 255.1h0M218.7 321.3h0M229.6 274.5h0M221.2 320.3h0M218.0 308.6h0M242.4 247.2h0M222.5 294.0h0M223.5 298.7h0M248.2 241.7h0M219.2 316.6h0M219.1 321.2h0M242.7 303.5h0M231.5 296.6h0M217.6 324.9h0M222.5 314.1h0M219.7 321.7h0M221.6 320.6h0M230.3 235.8h0M216.1 322.7h0M227.1 299.6h0M231.3 309.1h0M216.1 327.7h0M220.3 300.9h0M217.9 327.4h0M221.6 331.5h0M225.2 285.1h0M221.5 316.1h0M222.0 312.1h0M226.6 316.7h0M235.0 315.6h0M218.8 315.2h0M221.4 309.8h0M217.2 325.4h0M233.1 282.2h0M224.5 314.4h0M220.2 320.1h0M229.5 294.0h0M218.4 313.8h0M248.9 310.8h0M263.4 282.9h0M251.9 298.5h0M224.1 296.1h0M217.6 324.6h0M223.3 261.0h0M218.2 321.2h0M225.9 300.1h0M303.9 237.8h0M271.8 276.3h0M222.2 311.3h0M224.9 323.2h0M216.1 330.1h0M236.9 264.0h0M237.0 299.2h0M223.0 300.0h0M225.6 317.3h0M240.0 300.1h0M219.3 320.5h0M223.5 264.5h0M232.4 257.1h0M271.4 234.3h0M226.6 272.6h0M223.7 280.3h0M219.8 315.6h0M219.0 320.9h0M227.2 292.6h0M351.3 255.8h0M244.2 311.2h0M225.6 308.8h0M228.8 272.1h0M325.5 303.6h0M217.5 328.5h0M242.2 272.0h0M219.3 322.3h0M237.8 276.7h0M218.9 327.4h0M263.8 291.2h0M229.0 311.7h0M278.6 310.4h0M235.3 302.9h0M222.5 273.4h0M225.8 298.8h0M217.5 319.1h0M263.8 307.6h0M247.5 278.9h0M233.8 299.2h0M306.7 274.1h0M222.6 221.9h0M331.1 301.8h0M232.8 275.7h0M217.0 324.6h0M218.4 326.9h0M224.8 318.5h0M216.5 322.6h0M237.0 277.3h0M226.2 270.6h0M217.2 329.7h0M234.6 272.1h0M217.8 327.9h0M223.5 268.6h0M246.2 251.4h0M220.9 312.9h0M219.6 323.5h0M220.5 317.3h0M219.8 314.2h0M252.1 271.9h0M235.5 293.3h0M218.2 323.9h0M216.3 327.9h0M316.3 266.1h0M259.8 308.3h0M224.6 298.4h0M225.2 288.2h0M221.2 314.7h0M228.8 297.6h0M221.9 318.6h0M216.6 325.2h0M224.5 309.2h0M227.9 239.9h0M271.3 276.0h0M230.3 299.3h0M220.8 319.5h0M227.3 300.7h0M216.9 328.9h0M222.5 307.4h0M222.0 317.2h0M232.2 292.6h0M219.4 325.1h0M219.8 307.3h0M219.7 326.9h0M222.6 287.8h0M229.6 284.5h0M216.7 319.1h0M223.2 310.0h0M216.8 327.5h0M234.2 275.9h0M219.7 311.8h0M219.9 312.8h0M223.9 314.9h0M220.5 321.4h0M233.4 217.6h0M227.7 306.2h0M223.5 302.5h0M216.5 303.2h0M220.5 322.7h0M258.6 222.1h0M221.2 269.8h0M223.1 313.4h0M215.8 331.0h0M217.2 322.6h0M220.2 314.5h0M227.0 272.7h0M227.6 288.8h0M223.0 314.8h0M216.3 314.0h0M220.3 317.6h0M216.6 326.7h0M226.5 314.7h0M340.4 285.5h0M222.5 315.4h0M216.1 322.9h0M227.6 276.3h0M218.3 283.0h0M228.3 310.4h0M217.5 329.1h0M218.1 327.8h0M223.0 313.0h0M228.6 324.7h0M221.8 308.4h0M217.6 318.9h0M221.4 320.7h0M226.1 284.3h0M216.1 329.5h0M215.9 326.7h0M223.5 313.3h0M223.8 299.4h0M217.7 326.8h0M243.9 310.0h0M286.2 295.9h0M237.8 226.4h0M219.5 319.8h0M220.0 307.5h0M225.0 303.4h0M232.9 285.1h0M224.2 321.2h0M216.7 320.1h0M243.0 296.7h0M223.8 301.4h0M263.2 283.4h0M224.1 292.7h0M224.5 302.1h0M233.3 193.0h0M217.1 328.6h0M226.2 308.2h0M218.5 311.4h0M221.0 299.0h0M216.3 319.4h0M219.7 324.1h0M268.8 288.9h0M241.8 289.8h0M239.8 272.3h0M219.2 295.6h0M222.0 306.4h0M241.4 295.4h0M256.5 306.2h0M227.1 316.5h0M221.3 304.0h0M217.4 325.4h0M220.7 317.5h0M231.0 223.0h0M275.7 276.2h0M226.3 303.3h0M218.3 322.6h0M270.9 270.9h0M221.3 296.9h0M241.5 292.9h0M218.3 320.0h0M216.8 330.2h0M227.2 301.4h0M253.1 263.9h0M219.3 325.7h0M224.3 303.0h0M223.1 304.2h0M227.8 285.1h0M220.4 304.7h0M216.2 331.7h0M257.7 301.6h0M219.9 233.1h0M216.7 328.0h0M245.1 305.9h0M223.3 312.0h0M221.3 315.3h0M226.1 288.0h0M228.2 314.4h0M275.1 285.5h0M217.8 327.1h0M224.1 314.2h0M230.5 293.2h0M227.4 322.9h0M216.6 327.0h0M228.6 294.4h0M271.2 270.0h0M229.1 255.8h0M224.1 268.4h0M251.6 301.7h0M217.0 327.6h0M226.2 298.0h0M216.4 322.4h0M217.0 326.3h0M217.8 324.3h0M236.1 310.6h0M246.3 312.9h0M219.8 315.0h0M227.6 285.0h0M221.5 314.6h0M224.0 317.7h0M233.5 312.3h0M225.0 310.7h0M228.0 293.9h0M226.1 318.8h0M217.0 330.3h0M226.0 302.9h0M242.9 287.6h0M231.5 276.0h0M265.5 226.8h0M225.1 308.7h0M230.1 303.1h0M221.6 305.4h0M222.7 302.7h0M245.8 299.5h0M218.3 330.0h0M218.3 323.8h0M223.2 294.8h0M217.4 311.0h0M219.0 304.4h0M298.3 290.8h0M221.6 299.5h0M216.5 329.1h0M219.7 319.8h0M224.3 266.7h0M224.2 309.8h0M220.0 326.0h0M264.5 279.9h0M219.0 240.8h0M240.1 281.3h0M218.8 328.0h0M298.2 291.8h0M225.3 305.8h0M232.2 313.7h0M223.7 311.1h0M216.2 328.2h0M221.3 316.0h0M222.4 315.2h0M274.9 301.1h0M235.6 308.9h0M220.9 294.9h0M217.5 327.8h0M229.4 313.7h0M219.3 318.4h0M216.5 326.8h0M235.0 314.5h0M223.5 288.6h0M222.6 302.9h0M307.4 258.4h0M249.8 274.7h0M216.8 318.9h0M234.9 263.1h0M235.3 279.9h0M273.4 298.6h0M238.8 291.2h0M221.3 317.6h0M218.7 319.5h0M223.1 221.1h0M219.3 317.7h0M271.8 296.0h0M236.0 276.9h0M219.8 279.6h0M218.8 326.8h0M222.9 312.9h0M221.2 319.5h0M222.7 308.8h0M221.1 289.0h0M254.3 277.3h0M222.1 322.7h0M267.1 286.0h0M217.7 324.3h0M271.0 272.9h0M229.9 298.4h0M216.8 327.3h0M254.3 296.1h0M252.9 277.4h0M224.3 272.6h0M231.4 284.5h0M224.7 310.4h0M236.6 275.2h0M221.9 313.2h0M230.6 316.8h0M220.3 247.1h0M266.5 314.6h0M217.1 326.3h0M226.4 313.5h0M220.2 307.1h0M220.5 320.2h0M257.1 282.4h0M219.5 277.7h0M217.3 323.4h0M218.5 318.6h0M257.0 288.4h0M230.6 284.3h0M223.9 285.7h0M221.4 310.6h0M227.9 309.2h0M219.2 326.5h0M221.1 315.4h0M221.6 324.2h0M221.6 323.7h0M222.6 309.3h0M263.1 269.9h0M230.5 307.7h0M224.3 287.2h0M219.4 303.9h0M268.0 313.3h0M235.6 288.0h0M234.6 314.8h0M234.4 278.0h0M224.0 307.5h0M216.2 330.1h0M221.6 299.5h0M223.9 291.0h0M237.1 289.0h0M222.0 317.3h0M304.7 294.0h0M248.3 296.8h0M232.1 293.3h0M223.7 312.0h0M218.3 321.2h0M221.0 322.6h0M224.8 276.2h0M238.5 217.5h0M220.0 244.4h0M222.1 208.2h0M219.1 314.7h0M235.3 256.1h0M220.1 320.7h0M216.6 327.6h0M231.2 300.1h0M232.3 263.9h0M222.7 303.1h0M264.9 292.3h0M233.2 272.7h0M225.3 292.3h0M225.2 302.8h0M219.4 310.1h0M227.6 236.5h0M219.1 308.7h0M222.0 263.5h0M235.3 291.5h0M310.1 279.2h0M223.7 317.4h0M221.1 321.3h0M217.4 325.7h0M246.1 239.9h0M217.9 282.2h0M215.9 327.5h0M217.2 328.2h0M218.2 310.8h0M247.8 300.0h0M242.1 315.7h0M219.0 299.2h0M222.8 304.6h0M238.4 297.5h0M226.7 314.4h0M217.5 310.6h0M222.9 321.7h0M232.4 261.3h0M222.9 289.9h0M222.3 305.3h0M217.1 320.3h0M220.6 321.4h0M237.7 296.4h0M258.2 196.5h0M218.1 323.2h0M217.2 313.8h0M218.2 325.1h0M242.3 245.9h0M217.2 322.4h0M218.5 323.1h0M229.5 320.7h0M227.5 298.6h0M218.5 313.8h0M226.6 304.8h0M228.3 285.4h0M304.7 292.1h0M286.4 301.7h0M216.7 310.6h0M240.4 214.3h0M226.8 274.1h0M218.8 319.7h0M283.1 281.0h0M222.2 320.5h0M264.7 277.7h0M218.2 329.6h0M216.2 328.6h0M221.4 311.7h0M233.6 313.2h0M219.6 312.1h0M247.4 297.4h0M216.5 330.7h0M221.9 291.6h0M216.8 322.0h0M255.0 219.6h0M220.6 316.1h0M226.7 311.5h0M255.6 266.0h0M224.2 309.9h0M232.0 292.6h0M231.4 288.0h0M232.8 284.8h0M270.5 296.7h0M221.4 312.5h0M237.0 268.3h0M222.4 317.1h0M218.7 285.9h0M220.8 321.4h0M313.7 251.6h0M234.5 305.6h0M228.2 259.6h0M254.2 307.9h0M224.3 316.0h0M241.1 269.0h0M222.6 315.5h0M220.1 309.1h0M254.2 277.7h0M220.7 305.4h0M224.3 275.9h0M219.7 319.6h0M217.0 331.0h0M236.8 282.9h0M271.9 273.4h0M231.1 260.2h0M228.6 304.6h0M227.2 306.8h0M217.4 315.2h0M232.1 305.8h0M224.2 316.2h0M219.2 323.1h0M217.5 324.2h0M224.5 308.2h0M239.4 303.4h0M236.9 261.2h0M353.7 280.8h0M225.3 302.0h0M295.3 272.9h0M229.2 289.7h0M217.8 321.8h0M223.2 276.8h0M218.4 325.8h0M224.0 236.0h0M216.5 323.2h0M223.1 314.6h0M244.1 313.8h0M221.5 317.1h0M232.0 311.2h0M220.5 314.9h0M233.4 288.8h0M249.4 302.8h0M218.6 326.4h0M222.1 304.9h0M277.4 236.2h0M218.2 321.4h0M220.1 327.5h0M228.2 276.3h0M225.4 308.3h0M226.9 297.8h0M241.3 253.0h0M227.0 256.3h0M219.6 321.6h0M219.6 324.4h0M219.3 320.4h0M227.4 322.9h0M218.6 326.1h0M224.0 279.7h0M216.9 327.4h0M227.7 236.0h0M218.6 324.7h0M220.6 295.1h0M216.0 330.4h0M217.2 321.0h0M221.2 278.4h0M226.3 316.7h0M226.6 308.2h0M222.2 317.2h0M227.3 300.9h0M217.3 328.0h0M222.9 240.7h0M219.2 322.4h0M221.7 284.0h0M218.3 322.6h0M218.1 271.7h0M254.4 307.1h0M244.9 266.2h0M227.7 266.5h0M230.6 288.3h0M220.0 304.8h0M228.8 288.5h0M226.8 300.1h0M262.5 292.5h0M267.0 287.4h0M220.8 304.1h0M218.7 323.3h0M236.3 308.3h0M217.7 325.0h0M217.1 324.9h0M219.2 316.2h0M229.9 308.8h0M225.3 292.6h0M224.1 264.4h0M222.1 285.7h0M230.2 279.2h0M226.2 253.5h0M219.0 325.0h0M228.6 274.1h0M230.7 297.7h0M333.8 300.8h0M287.0 302.3h0M216.1 330.9h0M221.8 307.9h0M230.9 250.0h0M217.5 323.8h0M218.6 321.5h0M220.7 309.4h0M228.9 303.9h0M225.0 313.6h0M222.2 314.6h0M219.2 319.0h0M291.3 244.2h0M232.8 289.3h0M222.6 312.3h0M222.8 309.7h0M222.1 320.7h0M231.6 309.7h0M244.2 288.6h0M236.8 302.7h0M225.2 309.7h0M217.0 323.5h0M223.2 303.7h0M238.8 252.2h0M225.6 293.4h0M232.9 317.9h0M230.3 276.6h0M218.3 309.3h0M226.3 296.7h0M231.2 304.7h0M224.7 269.3h0M218.9 316.0h0M247.7 279.0h0M218.4 315.6h0M218.9 320.2h0M226.3 310.7h0M240.0 264.6h0M220.2 322.4h0M216.1 312.4h0M219.7 323.3h0M234.6 294.6h0M223.4 311.6h0M227.0 290.1h0M248.3 295.0h0M224.9 263.3h0M222.5 315.6h0M240.5 244.9h0M216.2 328.9h0M222.9 319.8h0M223.6 321.2h0M218.4 318.8h0M245.3 269.6h0M218.1 327.0h0M250.9 301.8h0M252.6 262.6h0M224.4 322.8h0M230.9 316.5h0M227.1 248.9h0M302.0 305.6h0M234.7 312.5h0M229.9 299.6h0M226.4 301.4h0M217.2 302.6h0M217.7 324.4h0M218.8 321.9h0M220.5 241.0h0M231.6 244.1h0M222.2 323.8h0M220.4 320.6h0M232.0 314.5h0M227.3 298.5h0M340.6 298.6h0M216.8 328.4h0M218.8 307.9h0M222.7 314.7h0M218.6 315.1h0M219.0 313.7h0M226.8 282.6h0M218.0 322.5h0M229.3 289.0h0M277.6 283.2h0M215.8 330.3h0M216.2 331.1h0M286.4 273.6h0M282.8 300.4h0M230.5 317.8h0M217.1 327.6h0M218.6 317.9h0M225.9 311.8h0M292.6 244.6h0M273.1 281.1h0M246.3 309.7h0M217.9 308.5h0M224.0 312.0h0M229.7 261.2h0M216.7 299.6h0M217.3 306.7h0M218.8 323.2h0M215.9 330.7h0M218.0 326.9h0M222.6 305.9h0M281.7 301.8h0M221.9 304.6h0M300.0 268.4h0M229.0 274.3h0M223.7 294.7h0M247.6 297.4h0M320.7 302.5h0M251.4 262.3h0M223.0 296.8h0M283.5 256.6h0M236.8 297.7h0M256.0 249.9h0M281.9 308.2h0M259.2 291.5h0M219.4 316.5h0M221.0 325.6h0M255.7 289.5h0M235.1 270.9h0M217.8 325.7h0M228.1 291.5h0M220.6 303.3h0M221.9 317.0h0M219.6 316.2h0M221.4 266.4h0M236.2 269.6h0M226.1 308.0h0M217.2 330.7h0M235.8 314.3h0M221.5 319.5h0M303.2 270.2h0M217.9 327.3h0M222.7 322.9h0M232.0 249.6h0M231.2 289.4h0M226.3 294.3h0M227.5 254.1h0M216.7 330.8h0M263.1 256.5h0M220.5 320.4h0M273.5 298.2h0M216.7 325.5h0M236.9 301.6h0M224.0 303.0h0M222.2 235.7h0M222.9 312.6h0M216.9 326.0h0M222.0 315.3h0M259.6 308.0h0M249.7 297.1h0M216.3 330.8h0M226.0 300.3h0M218.3 325.7h0M223.3 299.4h0M308.2 305.0h0M217.7 321.0h0M216.0 330.6h0M228.6 298.9h0M228.9 315.5h0M218.3 324.3h0M233.6 315.1h0M225.4 266.7h0M228.1 320.4h0M219.7 326.4h0M219.2 315.8h0M218.4 328.3h0M221.0 327.1h0M217.1 329.5h0M245.3 262.6h0M223.8 310.0h0M216.1 327.1h0M222.8 316.9h0M252.8 300.4h0M225.2 313.3h0M286.9 312.3h0M221.4 297.6h0M222.7 317.8h0M217.5 294.1h0M234.7 270.9h0M217.4 323.6h0M229.2 275.0h0M229.9 317.6h0M221.6 294.7h0M225.6 295.6h0M221.5 313.2h0M219.0 320.7h0M226.3 294.5h0M217.5 326.4h0M243.4 283.1h0M229.2 267.7h0M227.1 302.2h0M231.1 242.5h0M216.0 328.5h0M230.4 315.1h0M223.2 294.8h0M229.3 292.3h0M222.9 322.2h0M230.3 289.5h0M226.5 296.0h0M216.6 307.3h0M216.1 330.3h0M226.1 309.8h0M235.2 267.3h0M264.4 301.5h0M221.6 320.6h0M217.6 325.0h0M218.1 314.9h0M216.8 302.9h0M250.2 313.4h0M219.4 298.9h0M221.3 318.6h0M222.5 278.0h0M219.6 314.9h0M216.2 327.4h0M232.9 307.6h0M219.2 305.2h0M216.9 325.0h0M218.5 325.8h0M229.7 314.7h0M271.2 244.6h0M227.2 308.7h0M219.5 323.0h0M219.0 316.6h0M219.0 317.0h0M223.7 308.5h0M237.6 287.0h0M217.4 324.2h0M222.6 297.5h0M217.1 293.6h0M222.9 315.7h0M218.2 326.0h0M231.2 306.4h0M219.5 325.9h0M222.3 322.1h0M218.2 268.9h0M215.9 332.0h0M234.1 284.0h0M284.3 304.7h0M217.0 326.5h0M216.2 330.8h0M224.4 316.3h0M231.1 297.2h0M217.7 288.7h0M225.7 318.0h0M217.8 322.0h0M217.1 317.5h0M224.6 303.6h0M222.1 283.5h0M222.8 298.9h0M216.3 331.7h0M235.3 313.7h0M224.6 323.3h0M234.3 283.7h0M216.7 330.2h0M229.7 291.1h0M219.5 322.7h0M226.4 298.9h0M222.7 267.0h0M227.5 295.1h0M231.6 294.5h0M221.2 295.1h0M216.9 327.1h0M222.1 307.4h0M216.8 324.7h0M225.6 292.1h0M218.5 293.2h0M228.9 292.3h0M228.2 290.7h0M228.8 302.4h0M219.3 324.4h0M218.9 321.9h0M218.4 309.7h0M228.7 300.4h0M326.3 300.1h0M231.0 248.9h0M227.5 316.0h0M221.0 316.4h0M276.3 287.2h0M226.8 300.4h0M219.0 318.7h0M282.3 257.3h0M218.5 326.7h0M223.2 318.1h0M224.7 269.3h0M292.8 247.2h0M254.1 303.5h0M227.2 297.3h0M318.5 271.3h0M220.4 310.6h0M225.3 308.6h0M227.3 296.1h0M222.0 318.3h0M219.2 318.6h0M225.1 316.1h0M221.7 278.5h0M220.4 328.8h0M264.4 278.7h0M219.3 304.0h0M217.8 304.4h0M218.5 320.5h0M216.9 329.6h0M216.4 323.4h0M223.8 315.4h0M226.2 297.6h0M220.9 212.5h0M217.1 315.1h0M227.4 298.0h0M222.7 312.5h0M218.6 317.6h0M228.7 292.9h0M222.3 287.6h0M224.8 305.0h0M219.6 316.4h0M216.0 332.4h0M236.5 313.9h0M223.1 317.7h0M223.6 310.1h0M226.4 256.0h0M217.6 312.6h0M216.1 328.6h0M234.0 257.7h0M273.2 295.7h0M309.5 280.5h0M247.8 264.2h0M233.5 313.3h0M248.7 263.6h0M309.0 282.5h0M236.0 230.2h0M218.6 325.8h0M279.2 280.2h0M227.6 278.7h0M216.8 326.5h0M227.8 318.0h0M232.8 288.6h0M220.8 308.6h0M223.5 306.6h0M232.9 314.6h0M223.3 297.0h0M220.0 294.6h0M230.1 289.2h0M221.6 315.2h0M243.0 284.4h0M216.6 323.6h0M221.5 316.9h0M230.9 306.9h0M216.4 329.3h0M221.8 309.4h0M233.2 303.8h0M216.8 330.4h0M288.3 304.9h0M221.4 294.0h0M221.1 319.3h0M229.6 306.0h0M303.0 282.9h0M251.7 217.6h0M218.2 324.1h0M221.5 307.4h0M217.8 326.4h0M225.6 306.8h0M225.1 300.8h0M219.4 281.6h0M228.2 260.3h0M218.7 300.6h0M223.1 293.5h0M217.0 310.9h0M217.4 321.9h0M241.4 295.6h0M227.3 325.1h0M216.9 328.3h0M219.1 321.9h0M227.2 308.7h0M228.9 292.6h0M232.8 271.4h0M223.2 307.9h0M215.8 330.4h0M216.2 328.4h0M226.6 294.2h0M235.4 270.3h0M218.0 326.9h0M227.9 303.5h0M240.5 312.5h0M217.3 321.8h0M219.0 307.0h0M235.2 295.6h0M221.4 315.1h0M216.1 331.4h0M219.6 301.5h0M222.6 307.2h0M218.6 324.1h0M229.0 303.8h0M223.8 303.2h0M221.3 307.9h0M224.5 304.5h0M230.7 262.0h0M216.1 330.6h0M224.7 289.7h0M219.9 316.2h0M218.4 292.9h0M217.0 323.4h0M243.8 278.5h0M299.1 304.4h0M228.7 263.8h0M223.0 292.7h0M242.6 290.1h0M239.4 269.2h0M227.6 298.5h0M227.0 303.9h0M239.5 300.5h0M241.9 246.8h0M221.7 303.3h0M217.2 291.5h0M232.2 312.8h0M219.7 321.5h0M226.4 290.4h0M228.7 292.4h0M219.2 308.9h0M216.5 327.5h0M223.4 315.9h0M260.3 280.0h0M218.9 326.9h0M240.3 255.2h0M228.2 249.8h0M219.0 326.1h0M217.4 320.0h0M258.2 305.3h0M224.0 285.5h0M237.8 234.3h0M218.0 324.2h0M217.1 330.0h0M222.2 315.0h0M217.9 326.8h0M226.4 313.9h0M252.7 295.5h0M233.9 271.4h0M238.4 315.9h0M216.6 327.4h0M220.5 308.9h0M219.2 320.9h0M220.1 322.1h0M218.1 320.9h0M216.3 311.2h0M220.4 318.4h0M222.4 320.0h0M225.4 283.0h0M227.2 294.9h0M225.7 322.0h0M216.9 328.6h0M224.0 293.4h0M218.3 321.9h0M216.2 325.0h0M305.2 301.8h0M222.6 309.6h0M221.7 319.6h0M231.8 283.7h0M256.7 312.5h0M219.3 312.5h0M330.1 298.3h0M219.6 304.3h0M272.7 308.3h0M247.9 239.3h0M225.8 299.7h0M224.7 311.4h0M223.4 314.4h0M229.5 295.1h0M225.7 311.5h0M232.3 287.3h0M225.2 318.5h0M245.8 307.4h0M240.8 283.5h0M221.4 315.1h0M222.1 284.5h0M217.9 326.2h0M236.0 262.7h0M226.1 310.5h0M217.9 321.3h0M230.9 268.5h0M223.5 322.5h0M224.7 240.9h0M218.4 324.8h0M247.5 307.8h0M223.6 307.8h0M218.1 326.4h0M227.2 325.0h0M216.2 317.6h0M259.4 306.0h0M223.2 308.9h0M231.3 289.5h0M262.9 243.3h0M229.4 300.7h0M233.9 264.8h0M216.7 316.7h0M258.6 289.2h0M216.4 329.1h0M285.4 304.7h0M218.2 322.6h0M222.8 304.0h0M228.7 304.0h0M219.3 301.6h0M217.9 314.1h0M225.5 306.7h0M221.5 310.1h0M220.9 323.4h0M235.5 249.1h0M226.5 294.0h0M216.5 324.4h0M221.3 246.4h0M222.5 289.8h0M254.5 288.2h0M238.8 227.1h0M223.7 300.7h0M229.5 306.1h0M233.3 251.9h0M224.6 310.7h0M226.1 312.2h0M218.5 314.3h0M231.4 310.6h0M223.6 310.0h0M236.1 322.9h0M218.2 326.5h0M275.2 247.1h0M224.1 316.6h0M223.0 296.3h0M216.7 324.0h0M224.3 306.9h0M234.0 278.5h0M216.3 326.5h0M238.8 303.4h0M226.8 273.9h0M235.7 318.1h0M229.1 261.3h0M216.0 330.0h0M218.3 316.0h0M219.8 324.1h0M223.9 305.3h0M217.5 325.1h0M226.1 312.4h0M282.8 279.0h0M232.3 263.1h0M219.0 321.9h0M218.7 284.2h0M219.3 307.0h0M233.8 245.4h0M228.0 306.7h0M229.0 243.9h0M219.8 309.4h0M224.0 292.2h0M217.2 313.5h0M231.1 286.5h0M300.2 306.4h0M219.5 311.5h0M256.7 283.6h0M225.1 315.5h0M223.5 282.0h0M229.0 251.6h0M229.9 232.6h0M257.7 317.8h0M223.9 316.4h0M218.3 319.8h0M277.3 289.5h0M223.6 322.5h0M221.4 291.2h0M227.0 296.8h0M236.3 248.0h0M226.0 243.8h0M217.0 327.1h0M224.9 293.0h0M220.5 315.9h0M228.1 284.8h0M228.0 303.7h0M218.9 305.5h0M231.6 310.0h0M229.8 306.5h0M222.2 308.2h0M223.2 298.6h0M232.2 292.2h0M223.8 316.5h0M237.1 308.5h0M216.9 326.5h0M219.9 319.4h0M220.7 318.3h0M216.8 327.1h0M243.0 264.3h0M217.7 304.8h0M216.5 311.6h0M217.7 315.5h0M227.3 297.9h0M226.3 235.0h0M215.1 333.7h0" stroke="#000" stroke-width="1.15" stroke-linecap="round" opacity="0.7" fill="none"/>
<path d="M215.1 309.5L260 289.8L300 272L355.5 247.3L355.5 252.3L300 275.2L260 291.6L215.1 310.3Z" fill="#8f8f8f" opacity="0.42"/>
<path d="M215.1 309.9L355.5 249.8" stroke="#3366ff" stroke-width="1.1" fill="none"/>
<path d="M215.1 339.8v1.3M259.2 339.8v1.3M303.4 339.8v1.3M347.5 339.8v1.3M209.1 333.7h-1.3M209.1 298.3h-1.3M209.1 262.9h-1.3M209.1 227.5h-1.3M209.1 192.1h-1.3" stroke="#555" stroke-width="0.4" opacity="0.8" fill="none"/>
<g font-size="3.6" fill="#5c5c5c">
<text x="215.1" y="345.1" text-anchor="middle">0.00</text>
<text x="259.2" y="345.1" text-anchor="middle">0.05</text>
<text x="303.4" y="345.1" text-anchor="middle">0.10</text>
<text x="347.5" y="345.1" text-anchor="middle">0.15</text>
<text x="207.1" y="334.8" text-anchor="end">0.0</text>
<text x="207.1" y="299.4" text-anchor="end">0.5</text>
<text x="207.1" y="264" text-anchor="end">1.0</text>
<text x="207.1" y="228.6" text-anchor="end">1.5</text>
<text x="207.1" y="193.2" text-anchor="end">2.0</text>
</g>
<text x="186.1" y="194.4" font-size="14.4" fill="#000" stroke="#000" stroke-width="0.22">E</text>
<text transform="translate(198.7 262.2) rotate(-90)" font-size="12" font-style="italic" text-anchor="middle" fill="#000" stroke="#000" stroke-width="0.15">Ka/Ks</text>
<text x="286.2" y="355.6" font-size="11.8" font-style="italic" text-anchor="middle" fill="#000" stroke="#000" stroke-width="0.15">Ka</text>
<rect x="387.8" y="186" width="153.7" height="153.8" fill="#ebebeb"/>
<path d="M417.2 186V339.8M464.2 186V339.8M511.2 186V339.8M387.8 209.8H541.5M387.8 245.2H541.5M387.8 280.6H541.5M387.8 316H541.5" stroke="#fff" stroke-width="0.45" opacity="0.7" fill="none"/>
<path d="M393.7 186V339.8M440.7 186V339.8M487.7 186V339.8M534.7 186V339.8M387.8 192.1H541.5M387.8 227.5H541.5M387.8 262.9H541.5M387.8 298.3H541.5M387.8 333.7H541.5" stroke="#fff" stroke-width="0.7" opacity="0.9" fill="none"/>
<path d="M399.5 304.4h0M396.5 257.4h0M398.2 322.8h0M409.0 290.8h0M410.3 250.1h0M416.1 288.4h0M418.5 282.3h0M401.0 249.7h0M403.5 276.9h0M417.1 325.2h0M405.7 308.6h0M430.5 296.4h0M410.6 330.6h0M401.2 315.3h0M403.3 315.1h0M411.4 305.4h0M400.1 321.8h0M411.2 321.3h0M421.9 291.5h0M402.9 329.1h0M396.3 296.5h0M399.4 269.8h0M398.0 328.1h0M396.4 309.1h0M398.7 314.3h0M412.6 306.4h0M401.2 311.1h0M479.0 315.4h0M405.1 310.0h0M397.0 216.4h0M401.7 289.3h0M407.3 316.0h0M415.5 320.2h0M409.1 299.8h0M415.9 301.4h0M396.8 289.4h0M528.9 301.1h0M403.5 311.1h0M409.4 325.0h0M398.4 323.2h0M397.0 292.9h0M409.4 320.5h0M403.4 269.5h0M404.3 285.9h0M398.5 318.0h0M433.0 326.5h0M417.4 320.8h0M405.6 306.7h0M412.2 311.9h0M402.1 322.3h0M399.7 269.9h0M402.4 324.7h0M401.6 306.0h0M413.0 320.2h0M404.7 250.9h0M406.7 314.9h0M398.8 299.1h0M396.5 304.4h0M415.7 310.7h0M414.0 281.8h0M403.3 320.1h0M400.0 246.6h0M413.5 266.8h0M405.3 317.5h0M407.5 325.1h0M417.2 321.9h0M399.0 261.3h0M398.6 310.2h0M404.9 313.9h0M408.9 324.5h0M406.3 288.9h0M424.4 330.1h0M398.1 317.2h0M397.2 297.2h0M399.3 312.6h0M412.0 266.5h0M401.9 320.2h0M405.1 305.2h0M468.4 288.6h0M403.6 322.7h0M397.7 286.5h0M413.2 254.6h0M397.3 314.9h0M434.8 267.6h0M438.8 314.5h0M403.7 304.1h0M398.5 209.5h0M434.9 324.7h0M431.9 321.4h0M408.4 322.2h0M400.6 240.4h0M403.0 294.7h0M405.3 311.2h0M406.1 311.8h0M406.1 313.9h0M408.4 276.7h0M396.7 314.6h0M406.7 304.6h0M441.7 311.6h0M406.8 328.8h0M397.1 299.5h0M396.5 309.4h0M405.1 329.0h0M400.2 316.2h0M407.0 311.4h0M415.9 287.3h0M408.5 326.5h0M399.4 293.7h0M407.7 320.2h0M400.7 251.0h0M404.1 263.9h0M397.6 281.2h0M413.7 311.0h0M410.1 312.6h0M429.0 276.7h0M419.0 311.5h0M395.9 303.5h0M411.1 293.4h0M414.3 318.1h0M397.5 325.5h0M411.0 309.5h0M419.7 315.2h0M401.7 311.2h0M399.3 292.2h0M402.7 316.5h0M404.0 283.2h0M396.3 227.9h0M402.3 299.6h0M428.0 332.4h0M412.0 316.8h0M400.6 263.2h0M411.8 324.7h0M404.8 279.8h0M411.4 307.3h0M404.1 298.0h0M406.0 253.3h0M422.1 316.8h0M437.9 289.7h0M398.7 304.8h0M417.6 327.4h0M408.9 325.7h0M420.3 300.7h0M400.7 290.6h0M409.6 313.0h0M403.0 325.6h0M429.3 239.4h0M401.9 295.1h0M402.8 282.1h0M482.2 303.7h0M414.9 314.0h0M412.4 260.6h0M401.4 328.2h0M405.8 301.6h0M418.6 319.4h0M460.7 302.9h0M401.4 321.3h0M399.9 322.9h0M403.6 323.6h0M413.4 301.3h0M407.1 322.2h0M401.3 211.7h0M408.0 322.4h0M420.0 283.3h0M397.9 294.4h0M412.7 317.9h0M436.0 296.0h0M410.9 311.7h0M405.9 252.3h0M482.9 310.5h0M415.9 270.3h0M482.2 302.7h0M407.0 298.0h0M410.6 301.8h0M436.4 317.5h0M406.5 320.7h0M430.4 293.3h0M402.9 282.7h0M411.9 331.2h0M398.6 305.4h0M452.2 272.0h0M399.0 249.7h0M405.7 310.0h0M427.6 276.2h0M403.4 322.9h0M402.2 318.0h0M421.5 315.7h0M401.6 323.7h0M499.9 308.3h0M434.6 297.4h0M399.8 326.3h0M402.8 311.2h0M396.0 308.6h0M413.7 326.5h0M444.3 300.4h0M408.2 307.3h0M414.3 313.1h0M405.6 311.8h0M405.2 326.7h0M402.7 318.9h0M400.3 318.8h0M447.7 248.8h0M400.8 317.1h0M398.3 276.5h0M405.9 311.9h0M400.3 316.8h0M400.4 239.5h0M412.1 322.8h0M398.1 275.9h0M410.9 327.6h0M411.0 295.9h0M431.7 306.2h0M407.8 330.3h0M477.7 271.8h0M411.4 323.5h0M402.7 321.5h0M395.5 242.1h0M413.9 325.3h0M400.5 246.5h0M415.4 298.4h0M411.6 323.9h0M399.1 276.0h0M403.4 260.6h0M405.9 289.7h0M402.3 304.3h0M403.8 314.7h0M401.2 264.4h0M402.7 328.4h0M412.8 313.3h0M425.1 268.6h0M397.5 213.4h0M402.1 326.2h0M422.1 317.5h0M400.1 198.7h0M404.3 314.1h0M408.6 324.2h0M406.3 311.3h0M408.8 328.1h0M434.1 261.0h0M401.3 225.5h0M401.7 302.1h0M401.3 324.2h0M410.6 316.7h0M402.6 283.2h0M407.1 280.7h0M399.3 323.3h0M407.7 306.1h0M404.2 294.1h0M397.3 301.7h0M409.4 312.6h0M419.0 323.8h0M398.4 217.8h0M398.1 308.4h0M414.4 322.9h0M401.5 315.9h0M398.3 306.9h0M419.3 322.0h0M407.8 261.0h0M427.5 325.8h0M407.2 250.4h0M505.3 314.2h0M408.0 325.1h0M407.4 326.2h0M398.5 318.2h0M401.2 323.7h0M399.4 263.0h0M408.5 329.9h0M405.3 289.2h0M448.3 282.7h0M401.3 270.4h0M402.9 302.6h0M408.5 289.1h0M398.7 280.7h0M408.7 321.4h0M398.8 321.9h0M406.7 318.0h0M400.1 292.3h0M398.6 265.3h0M408.8 330.4h0M407.7 292.0h0M416.9 304.7h0M406.9 313.2h0M402.6 323.8h0M412.8 330.5h0M409.8 327.2h0M409.2 295.4h0M402.1 259.7h0M404.2 328.4h0M401.8 283.2h0M425.2 252.7h0M414.1 331.2h0M399.9 328.7h0M464.7 298.2h0M401.3 317.0h0M397.4 283.7h0M465.2 292.5h0M395.4 242.0h0M417.3 303.0h0M431.8 295.2h0M402.1 314.0h0M400.1 267.0h0M407.3 273.0h0M399.4 328.4h0M408.1 297.1h0M413.3 317.1h0M403.3 330.5h0M404.5 320.8h0M403.6 319.7h0M412.9 328.6h0M399.3 324.0h0M406.5 305.1h0M427.9 302.4h0M406.1 289.7h0M398.5 326.8h0M446.3 254.6h0M406.0 324.8h0M400.6 310.6h0M404.7 313.7h0M421.5 329.6h0M438.8 312.7h0M428.2 308.9h0M411.0 330.6h0M400.9 259.9h0M406.0 304.1h0M417.2 308.0h0M414.7 308.3h0M399.3 284.6h0M403.1 305.3h0M403.8 314.9h0M411.2 241.0h0M409.7 308.9h0M413.8 267.5h0M421.8 327.7h0M414.2 314.5h0M405.0 304.7h0M397.9 309.2h0M419.3 291.4h0M500.0 285.0h0M408.7 323.7h0M411.2 313.0h0M401.9 325.1h0M404.2 320.4h0M422.7 257.3h0M457.7 307.3h0M433.2 279.1h0M404.1 294.6h0M422.7 319.5h0M401.2 286.0h0M403.6 314.0h0M406.5 325.3h0M403.4 329.2h0M402.2 323.1h0M421.0 326.2h0M403.4 309.2h0M407.6 327.3h0M415.6 325.4h0M401.5 266.7h0M409.3 325.8h0M442.6 230.1h0M397.9 317.1h0M425.9 305.6h0M442.4 314.9h0M404.2 220.0h0M408.6 304.4h0M409.9 318.2h0M410.0 331.9h0M404.7 307.8h0M402.2 328.2h0M414.3 310.7h0M404.7 320.3h0M408.4 320.2h0M414.7 312.4h0M446.5 288.6h0M435.1 327.0h0M411.6 322.8h0M400.6 246.3h0M399.8 276.0h0M399.7 313.1h0M411.1 299.5h0M409.5 308.7h0M399.2 291.2h0M433.0 323.9h0M405.8 282.5h0M417.2 312.2h0M409.9 325.1h0M404.3 304.0h0M416.3 318.1h0M519.7 321.4h0M471.0 285.8h0M398.4 304.6h0M401.6 290.5h0M409.3 285.8h0M402.6 298.2h0M411.2 323.2h0M423.2 313.8h0M395.5 257.2h0M398.0 201.2h0M402.5 297.8h0M399.8 311.9h0M428.2 285.8h0M404.2 323.0h0M423.2 303.4h0M401.7 325.9h0M477.1 291.6h0M402.8 294.3h0M400.0 319.5h0M399.8 194.3h0M414.4 298.7h0M409.8 317.1h0M420.3 326.6h0M405.8 315.8h0M403.3 291.0h0M413.3 303.7h0M404.5 321.7h0M406.7 311.4h0M401.8 304.0h0M409.8 324.0h0M435.8 286.9h0M398.7 235.7h0M405.8 308.2h0M401.7 292.4h0M420.1 291.8h0M410.6 326.9h0M402.4 310.2h0M402.6 309.0h0M400.7 296.2h0M404.2 328.9h0M406.2 329.2h0M448.4 291.4h0M485.4 286.2h0M406.0 317.1h0M405.9 298.6h0M404.7 311.2h0M400.9 312.5h0M398.2 274.2h0M474.0 308.1h0M399.5 319.8h0M400.3 303.1h0M399.4 281.3h0M463.7 296.1h0M409.0 324.9h0M433.3 300.4h0M399.8 309.4h0M414.1 322.4h0M399.5 291.5h0M433.0 287.2h0M409.5 306.0h0M481.2 315.4h0M420.2 298.4h0M410.0 325.9h0M399.9 299.9h0M405.2 312.1h0M498.6 284.2h0M398.5 283.7h0M402.3 300.9h0M441.6 279.3h0M431.8 308.9h0M434.5 290.6h0M457.5 294.1h0M404.7 298.8h0M404.4 305.0h0M413.6 327.2h0M398.3 301.2h0M404.3 300.7h0M435.7 228.4h0M400.5 214.1h0M405.2 301.9h0M400.9 284.6h0M518.4 297.8h0M398.3 311.3h0M401.8 327.4h0M409.7 303.7h0M406.0 314.9h0M399.2 321.4h0M395.5 291.5h0M402.9 292.4h0M402.7 300.8h0M396.6 323.4h0M407.1 311.6h0M396.5 300.1h0M400.3 305.0h0M443.0 313.2h0M411.8 317.0h0M402.4 292.7h0M401.3 314.0h0M405.6 318.9h0M402.3 321.4h0M436.1 320.7h0M435.1 317.7h0M402.4 319.1h0M397.8 299.3h0M414.6 288.2h0M425.0 323.1h0M405.6 251.1h0M395.5 249.4h0M412.1 292.3h0M409.1 301.4h0M408.4 299.0h0M405.3 297.6h0M406.7 299.5h0M432.5 315.6h0M410.4 291.1h0M405.9 319.5h0M399.0 299.2h0M465.1 279.4h0M411.4 326.6h0M400.9 315.4h0M404.0 287.5h0M416.8 326.3h0M410.0 323.1h0M403.3 268.7h0M420.9 299.0h0M419.2 316.1h0M400.2 320.1h0M407.7 311.5h0M408.9 274.6h0M401.8 324.1h0M408.3 330.2h0M407.6 317.6h0M403.5 323.4h0M398.9 299.9h0M419.2 289.5h0M403.1 323.1h0M404.8 309.2h0M407.3 307.8h0M408.7 303.5h0M398.9 245.4h0M401.3 328.5h0M399.6 296.5h0M399.3 309.9h0M404.6 328.5h0M396.1 284.5h0M402.9 316.3h0M399.1 320.1h0M409.2 311.7h0M419.0 317.5h0M399.5 236.8h0M418.5 251.8h0M404.4 250.5h0M407.1 313.7h0M406.7 330.4h0M411.7 323.0h0M408.0 284.7h0M398.1 292.1h0M403.3 322.9h0M400.8 323.2h0M398.5 310.3h0M433.5 290.6h0M410.8 315.4h0M405.3 314.2h0M518.5 300.1h0M403.7 330.6h0M410.2 299.9h0M411.8 326.4h0M413.2 305.5h0M435.2 252.9h0M501.3 305.1h0M407.7 323.2h0M398.2 305.8h0M418.6 329.3h0M419.1 296.7h0M401.9 296.1h0M402.9 303.1h0M398.1 322.0h0M402.4 314.3h0M406.4 303.9h0M402.9 299.3h0M395.8 244.2h0M528.2 294.2h0M409.7 326.7h0M506.5 297.8h0M415.4 268.7h0M431.1 282.1h0M434.7 318.3h0M402.4 330.7h0M428.6 299.0h0M491.5 298.2h0M412.3 321.9h0M420.8 330.8h0M396.9 266.0h0M400.9 275.6h0M418.3 263.0h0M395.9 242.7h0M406.6 263.8h0M400.1 313.2h0M405.4 238.6h0M440.9 314.3h0M433.3 315.5h0M405.8 291.1h0M395.7 197.2h0M407.4 311.8h0M423.1 311.6h0M404.6 327.3h0M402.2 299.4h0M420.0 268.2h0M407.0 294.7h0M409.0 276.2h0M417.4 319.7h0M399.2 318.4h0M400.8 316.7h0M403.4 297.3h0M400.7 295.7h0M441.8 276.8h0M423.9 275.6h0M401.2 294.5h0M399.7 234.4h0M405.9 301.4h0M400.4 326.3h0M407.5 322.0h0M398.1 223.9h0M405.5 259.8h0M407.9 297.7h0M398.6 287.7h0M415.2 296.8h0M417.1 325.5h0M400.3 239.0h0M416.1 311.2h0M411.9 317.4h0M405.7 322.2h0M407.7 314.1h0M459.7 280.2h0M396.0 322.0h0M401.1 314.7h0M407.9 324.3h0M401.7 236.2h0M399.8 198.9h0M432.1 281.6h0M403.3 291.5h0M408.9 328.0h0M399.2 316.1h0M398.3 315.7h0M403.6 297.5h0M402.3 313.1h0M399.9 256.8h0M465.0 295.2h0M397.2 313.0h0M407.9 297.0h0M405.2 326.7h0M402.5 305.4h0M411.2 305.5h0M396.1 300.5h0M417.6 321.8h0M401.8 265.3h0M433.6 291.6h0M467.1 306.2h0M401.9 330.7h0M401.2 260.5h0M402.1 299.2h0M409.4 261.3h0M434.7 323.0h0M414.5 278.9h0M398.6 304.2h0M411.2 320.8h0M403.0 327.9h0M400.0 318.0h0M399.0 311.4h0M405.4 298.2h0M406.0 305.4h0M410.9 326.6h0M396.5 216.2h0M412.7 322.4h0M398.8 268.6h0M411.5 316.8h0M396.6 302.3h0M407.9 318.5h0M434.8 316.1h0M399.1 325.6h0M413.3 263.1h0M410.0 313.9h0M401.3 300.8h0M406.9 321.0h0M401.9 318.1h0M414.3 321.3h0M401.9 307.8h0M397.6 320.0h0M407.0 249.6h0M406.6 305.5h0M395.9 309.0h0M412.1 331.3h0M430.9 247.8h0M406.3 297.2h0M409.8 280.4h0M396.1 256.7h0M398.9 254.1h0M415.7 305.7h0M414.7 327.6h0M398.3 264.7h0M411.1 318.0h0M400.2 308.9h0M400.7 310.6h0M404.8 247.5h0M403.5 320.9h0M399.2 299.1h0M498.6 295.8h0M404.9 252.8h0M401.6 271.2h0M407.8 314.8h0M401.4 321.2h0M398.7 321.7h0M403.1 312.6h0M414.4 322.4h0M400.3 285.5h0M411.4 331.6h0M401.8 287.3h0M445.4 280.2h0M404.6 306.5h0M405.6 255.7h0M398.1 290.4h0M406.8 310.3h0M399.7 287.6h0M485.2 308.8h0M410.7 327.2h0M399.3 286.9h0M414.5 328.9h0M415.6 312.7h0M417.6 240.7h0M402.8 285.3h0M419.3 326.8h0M404.0 288.1h0M400.7 274.0h0M400.8 310.9h0M425.7 322.4h0M405.0 316.1h0M402.5 324.9h0M445.2 274.2h0M408.5 326.5h0M438.2 292.5h0M404.6 325.5h0M403.4 311.1h0M396.1 298.1h0M405.7 271.6h0M411.7 268.4h0M403.1 313.8h0M395.5 220.6h0M407.7 309.4h0M406.6 317.5h0M416.4 312.4h0M434.9 266.1h0M402.6 311.3h0M402.2 283.6h0M414.3 330.3h0M408.2 320.6h0M407.8 323.8h0M413.4 281.9h0M407.6 296.3h0M410.0 297.6h0M407.0 316.6h0M510.0 314.5h0M402.2 320.9h0M401.9 306.4h0M413.9 296.2h0M459.0 288.2h0M414.1 330.8h0M418.7 323.9h0M411.5 325.4h0M406.7 283.4h0M411.4 313.8h0M401.0 291.9h0M405.6 308.2h0M437.0 235.0h0M404.5 299.4h0M407.1 305.1h0M404.8 321.3h0M398.5 261.1h0M398.9 312.1h0M399.4 311.5h0M397.7 320.8h0M400.5 277.7h0M431.6 299.1h0M413.4 324.7h0M427.7 320.8h0M405.4 326.2h0M444.7 307.3h0M399.2 271.9h0M417.4 280.9h0M426.7 273.3h0M395.2 288.6h0M401.2 319.5h0M398.3 272.3h0M401.2 270.5h0M403.2 324.9h0M414.8 317.1h0M399.1 287.8h0M400.1 296.2h0M404.4 299.4h0M450.8 320.7h0M398.3 290.8h0M407.6 328.9h0M408.2 301.5h0M399.8 294.2h0M405.0 301.0h0M402.1 289.7h0M408.6 324.0h0M401.6 325.8h0M400.2 283.7h0M401.4 320.1h0M405.8 256.7h0M408.6 317.0h0M401.5 285.9h0M408.4 318.4h0M403.0 325.0h0M426.2 271.8h0M406.1 322.3h0M417.2 331.9h0M399.7 317.2h0M440.9 323.3h0M407.9 301.7h0M401.0 270.6h0M411.6 306.0h0M400.6 307.1h0M400.9 316.3h0M399.2 278.2h0M404.7 321.9h0M419.9 283.8h0M407.1 319.7h0M409.4 328.7h0M403.6 284.9h0M422.2 305.3h0M417.3 314.2h0M398.9 284.3h0M429.2 287.8h0M402.9 262.5h0M422.2 294.2h0M398.2 319.9h0M409.2 239.6h0M408.6 305.0h0M407.6 319.6h0M411.6 294.2h0M400.7 310.7h0M398.0 307.4h0M413.0 302.8h0M397.3 235.8h0M433.8 296.4h0M398.2 280.1h0M405.7 296.0h0M404.1 322.3h0M401.9 329.6h0M426.4 319.4h0M410.8 307.7h0M402.0 316.7h0M401.6 318.2h0M402.8 271.7h0M411.1 310.0h0M409.0 323.2h0M406.4 327.9h0M403.3 323.2h0M408.5 314.3h0M401.1 273.9h0M399.4 309.5h0M399.1 252.1h0M407.7 324.1h0M396.9 316.2h0M406.2 323.0h0M406.4 308.5h0M421.0 311.3h0M406.5 324.6h0M398.1 286.7h0M409.0 326.6h0M409.9 307.6h0M404.9 261.8h0M414.4 285.7h0M406.4 296.5h0M403.4 308.3h0M405.1 320.6h0M410.3 321.7h0M399.4 321.6h0M429.7 280.7h0M405.4 318.9h0M397.9 235.3h0M401.5 296.3h0M416.7 325.6h0M401.7 300.4h0M396.0 229.0h0M411.4 326.4h0M415.1 247.7h0M452.7 277.0h0M410.6 307.4h0M399.2 286.3h0M402.9 311.1h0M399.4 322.1h0M420.2 296.7h0M470.5 302.8h0M410.2 317.0h0M399.3 274.3h0M404.1 311.9h0M407.8 314.6h0M429.9 292.7h0M413.0 309.4h0M404.2 324.4h0M405.7 317.7h0M411.2 313.5h0M405.7 327.1h0M404.6 304.1h0M408.3 313.8h0M407.1 269.1h0M409.5 319.2h0M401.7 280.9h0M409.9 293.6h0M401.8 316.1h0M403.3 294.1h0M397.4 306.2h0M408.3 317.1h0M401.5 299.9h0M406.1 300.2h0M425.6 318.3h0M406.1 300.3h0M404.4 305.2h0M404.2 305.9h0M428.8 284.5h0M403.9 239.4h0M401.9 325.8h0M411.6 325.4h0M397.9 266.0h0M399.5 307.6h0M414.2 283.5h0M434.3 317.5h0M406.5 302.7h0M405.8 304.6h0M436.9 298.6h0M399.1 307.0h0M400.6 309.4h0M410.6 327.8h0M397.8 306.6h0M395.8 278.0h0M404.9 299.6h0M428.2 290.4h0M427.5 314.4h0M398.3 312.1h0M402.3 268.8h0M401.4 311.6h0M411.8 315.1h0M408.6 312.6h0M406.3 316.4h0M427.5 321.7h0M403.9 287.5h0M397.3 316.2h0M401.9 311.1h0M420.3 309.4h0M398.6 304.8h0M409.6 319.0h0M416.0 298.8h0M401.9 313.5h0M414.3 312.6h0M409.7 324.9h0M402.7 302.3h0M416.3 323.7h0M410.0 314.7h0M395.8 311.0h0M461.3 318.4h0M421.1 297.3h0M428.8 294.4h0M396.7 291.3h0M401.5 310.9h0M417.1 329.5h0M411.3 315.2h0M404.9 302.2h0M412.3 311.1h0M400.7 298.7h0M425.7 317.4h0M403.1 278.1h0M439.3 327.3h0M400.5 316.3h0M405.4 308.7h0M400.5 303.1h0M407.2 322.9h0M407.3 312.4h0M409.1 319.0h0M401.6 327.5h0M401.9 316.1h0M418.6 312.8h0M405.0 319.3h0M409.8 328.9h0M406.3 316.5h0M456.2 298.2h0M406.3 269.7h0M406.8 306.0h0M405.9 329.1h0M410.2 295.2h0M400.1 292.5h0M409.1 316.5h0M398.1 251.7h0M399.6 289.8h0M425.7 265.2h0M414.6 285.7h0M486.2 287.7h0M408.3 327.7h0M500.9 310.1h0M408.1 324.2h0M399.3 287.3h0M410.9 327.2h0M402.4 282.4h0M416.0 326.8h0M444.0 296.1h0M408.6 317.8h0M399.1 241.2h0M402.8 321.7h0M422.2 275.8h0M401.4 283.8h0M400.2 325.0h0M406.2 315.2h0M407.5 271.9h0M442.8 308.4h0M409.0 317.0h0M400.2 242.0h0M396.3 252.6h0M435.8 284.9h0M399.4 314.8h0M400.6 304.8h0M413.7 321.5h0M398.2 320.2h0M410.8 318.5h0M401.3 265.1h0M399.7 301.0h0M414.8 316.7h0M402.3 326.1h0M403.9 298.8h0M396.0 304.6h0M398.3 300.8h0M407.1 331.0h0M400.3 299.8h0M423.0 292.7h0M410.2 244.2h0M396.3 249.3h0M398.1 304.1h0M446.2 299.1h0M409.9 319.1h0M404.8 322.2h0M398.1 314.7h0M407.6 320.2h0M415.2 327.0h0M402.9 312.2h0M422.0 299.7h0M444.2 306.8h0M428.7 305.7h0M431.6 317.8h0M408.6 317.9h0M403.3 306.9h0M404.4 293.9h0M398.9 279.8h0M400.2 213.4h0M399.8 300.8h0M402.3 301.7h0M408.2 323.1h0M402.1 318.3h0M422.3 313.4h0M424.2 313.0h0M415.3 299.0h0M410.0 321.5h0M406.1 198.2h0M402.0 325.1h0M411.2 321.6h0M396.1 293.0h0M410.3 319.4h0M410.0 304.3h0M396.8 305.3h0M406.5 319.2h0M447.6 288.0h0M412.6 314.9h0M402.4 323.3h0M403.1 324.6h0M416.7 324.1h0M401.1 320.1h0M396.7 302.5h0M404.8 307.9h0M418.7 285.0h0M411.1 319.3h0M400.4 318.4h0M407.2 294.0h0M415.5 285.5h0M418.8 303.9h0M399.7 316.2h0M415.2 271.6h0M407.4 288.3h0M404.6 262.3h0M491.0 325.5h0M404.0 313.6h0M405.5 328.4h0M435.0 325.5h0M402.7 320.0h0M401.4 305.0h0M420.4 327.6h0M395.9 275.6h0M400.4 298.1h0M404.6 330.1h0M403.9 321.4h0M409.4 320.2h0M404.0 314.4h0M402.1 253.0h0M410.5 325.7h0M404.3 278.8h0M399.8 315.6h0M451.4 291.1h0M397.6 316.5h0M417.8 302.6h0M404.6 308.0h0M425.3 291.7h0M403.1 321.6h0M409.7 306.9h0M492.5 281.7h0M399.5 294.4h0M414.5 297.3h0M402.6 304.5h0M419.8 291.2h0M400.4 283.1h0M410.9 321.7h0M401.6 305.5h0M416.3 315.5h0M397.5 311.5h0M400.6 261.8h0M456.7 278.7h0M406.7 318.3h0M404.5 302.9h0M400.3 311.6h0M405.0 328.5h0M397.4 272.9h0M397.4 319.6h0M413.5 329.0h0M479.7 305.0h0M411.6 323.6h0M407.5 294.9h0M403.2 328.5h0M419.5 237.4h0M400.9 304.8h0M409.4 298.6h0M414.4 326.6h0M402.5 317.7h0M405.2 326.7h0M408.3 319.4h0M403.0 302.7h0M404.3 322.2h0M411.4 329.2h0M412.5 301.6h0M404.2 306.4h0M399.8 225.1h0M398.2 201.0h0M401.8 307.4h0M398.9 324.6h0M420.3 321.3h0M409.3 324.7h0M503.7 292.4h0M468.8 315.3h0M408.1 327.0h0M399.3 310.9h0M395.4 303.9h0M404.8 321.6h0M401.7 295.3h0M433.5 300.7h0M408.4 278.1h0M402.2 328.0h0M447.1 281.9h0M404.1 285.6h0M406.1 305.9h0M492.3 289.1h0M398.5 313.4h0M410.8 329.0h0M400.4 285.7h0M395.8 311.4h0M398.6 319.7h0M408.9 313.8h0M402.3 326.1h0M400.0 320.2h0M403.0 302.4h0M465.4 297.4h0M404.7 318.9h0M415.7 317.8h0M405.4 225.6h0M424.4 293.7h0M404.9 322.2h0M406.3 316.6h0M407.9 297.6h0M408.0 321.0h0M405.4 296.5h0M402.6 317.3h0M400.3 282.1h0M481.1 307.8h0M411.1 304.7h0M402.6 225.0h0M425.8 272.8h0M402.5 324.0h0M404.2 303.7h0M408.1 310.5h0M424.1 291.1h0M408.4 309.1h0M411.6 323.2h0M411.8 322.1h0M408.7 303.8h0M414.7 320.8h0M479.6 321.8h0M412.2 282.1h0M400.6 299.4h0M401.6 278.7h0M409.3 324.9h0M401.8 243.2h0M400.4 292.9h0M396.0 320.4h0M404.6 200.9h0M400.5 262.0h0M409.3 314.3h0M417.6 310.7h0M412.6 297.7h0M402.5 329.1h0M402.8 280.3h0M401.9 274.2h0M407.0 204.0h0M411.9 248.2h0M461.8 298.6h0M404.9 282.5h0M427.4 328.7h0M407.9 306.2h0M404.1 289.3h0M401.6 309.3h0M413.7 314.2h0M400.4 283.1h0M410.0 312.7h0M406.3 324.2h0M398.2 319.2h0M402.9 278.7h0M409.2 328.2h0M406.4 307.6h0M403.4 329.0h0M399.8 290.1h0M405.6 329.5h0M403.3 330.3h0M411.0 329.1h0M406.2 278.2h0M461.9 296.5h0M433.2 299.7h0M399.5 193.8h0M402.4 324.0h0M404.1 298.2h0M431.2 322.7h0M401.2 326.9h0M418.9 309.1h0M401.1 279.9h0M402.2 330.2h0M400.0 310.0h0M437.8 229.8h0M408.4 284.8h0M409.1 251.4h0M405.6 320.9h0M415.3 296.1h0M400.5 313.2h0M404.8 323.6h0M402.1 313.3h0M400.0 279.4h0M440.8 304.2h0M417.1 284.2h0M408.7 321.1h0M402.1 314.4h0M411.2 326.0h0M402.4 314.2h0M408.1 328.5h0M411.5 328.2h0M404.1 315.7h0M405.4 312.5h0M404.7 322.8h0M421.6 325.1h0M404.6 329.6h0M398.3 279.6h0M410.0 294.9h0M408.3 308.2h0M399.3 310.5h0M402.7 282.3h0M408.7 325.1h0M402.3 323.6h0M415.6 324.9h0M398.5 255.5h0M407.6 326.9h0M419.3 322.9h0M416.4 301.4h0M404.8 325.1h0M402.0 313.3h0M420.9 277.1h0M427.2 297.1h0M403.1 280.7h0M409.4 318.0h0M401.9 202.6h0M401.1 252.8h0M410.9 308.4h0M407.4 265.5h0M401.2 271.2h0M431.7 308.7h0M398.2 297.2h0M395.9 294.5h0M402.6 313.0h0M407.5 298.8h0M404.4 305.8h0M402.4 301.2h0M413.4 312.5h0M397.1 290.3h0M401.7 289.0h0M405.1 314.4h0M398.9 301.8h0M418.1 276.1h0M415.2 296.8h0M410.5 296.3h0M395.7 286.7h0M407.0 302.2h0M400.8 328.7h0M407.4 325.1h0M408.8 330.1h0M396.3 259.1h0M398.2 302.5h0M400.9 311.3h0M412.3 306.0h0M408.4 265.8h0M442.4 262.0h0M411.3 316.9h0M409.6 320.6h0M400.6 255.8h0M403.6 305.0h0M418.0 310.3h0M460.6 299.2h0M407.5 324.8h0M403.7 324.5h0M403.8 317.4h0M410.3 307.8h0M433.9 297.1h0M398.6 301.5h0M408.2 321.2h0M399.5 315.5h0M413.0 296.9h0M410.3 321.8h0M478.1 319.5h0M405.0 323.3h0M404.7 310.3h0M429.7 261.8h0M398.8 312.5h0M403.1 327.3h0M403.0 284.7h0M405.1 299.3h0M405.4 323.9h0M407.6 306.9h0M405.6 227.1h0M404.3 282.1h0M414.1 286.7h0M407.0 305.8h0M486.6 302.0h0M432.0 247.2h0M411.6 324.8h0M404.1 329.7h0M403.6 327.3h0M399.3 316.4h0M399.4 304.8h0M448.6 317.7h0M404.4 274.8h0M414.4 285.2h0M402.2 323.9h0M404.3 327.1h0M401.4 326.6h0M432.0 316.2h0M402.2 296.8h0M412.9 315.0h0M409.1 321.9h0M454.0 281.7h0M403.2 319.4h0M407.8 240.7h0M401.6 325.2h0M408.2 330.2h0M400.9 328.6h0M406.6 304.2h0M422.4 328.3h0M439.8 265.4h0M405.8 316.8h0M407.0 318.9h0M445.1 295.3h0M419.6 329.8h0M408.7 311.9h0M399.5 241.7h0M449.3 305.0h0M398.8 302.5h0M411.2 326.5h0M407.6 303.0h0M424.3 271.7h0M401.0 310.7h0M465.2 313.4h0M425.4 303.1h0M403.0 271.0h0M421.0 321.9h0M395.3 301.5h0M410.1 318.3h0M403.8 319.3h0M413.6 268.5h0M409.0 327.0h0M400.3 314.2h0M411.3 308.8h0M458.1 267.3h0M401.9 291.6h0M407.5 305.6h0M408.0 300.8h0M426.6 297.6h0M403.7 323.2h0M407.0 331.8h0M402.3 314.3h0M415.8 266.0h0M400.3 234.3h0M411.0 292.3h0M405.7 319.5h0M403.7 319.9h0M411.5 314.9h0M399.7 306.2h0M412.7 326.9h0M433.8 308.8h0M413.6 314.1h0M412.8 307.9h0M401.8 322.9h0M401.8 315.0h0M395.7 283.7h0M404.8 295.1h0M508.4 297.7h0M398.4 321.9h0M402.2 287.8h0M437.4 315.5h0M416.2 308.0h0M400.1 320.6h0M409.5 273.3h0M408.5 297.2h0M438.0 315.5h0M403.1 322.7h0M417.1 326.9h0M399.9 247.1h0M401.9 308.1h0M402.4 322.8h0M412.5 321.2h0M411.7 321.6h0M409.0 280.4h0M410.7 308.4h0M404.0 207.5h0M411.2 286.1h0M409.0 293.1h0M410.4 300.7h0M395.8 266.9h0M405.0 313.4h0M405.7 315.6h0M401.1 316.7h0M404.2 275.7h0M401.8 266.3h0M426.0 298.7h0M403.9 327.6h0M402.5 315.0h0M405.4 323.6h0M405.0 315.9h0M404.1 310.7h0M440.6 320.1h0M401.0 257.7h0M419.4 291.1h0M426.2 315.3h0M404.8 271.6h0M404.8 314.7h0M406.7 314.7h0M396.9 282.5h0M401.2 317.2h0M402.2 324.4h0M405.2 321.1h0M410.0 317.7h0M403.9 297.9h0M412.4 317.3h0M404.0 324.3h0M409.0 297.9h0M405.7 306.2h0M399.0 325.6h0M417.5 302.4h0M460.8 257.8h0M441.0 262.2h0M402.2 330.1h0M421.8 326.9h0M403.2 279.4h0M404.2 322.1h0M406.1 260.1h0M404.5 301.3h0M418.3 314.4h0M402.7 289.8h0M402.6 306.9h0M417.4 330.0h0M401.7 251.7h0M415.9 328.5h0M409.3 293.2h0M411.7 289.5h0M401.6 308.8h0M410.3 330.5h0M401.6 268.9h0M407.4 273.1h0M422.6 317.7h0M532.4 305.4h0M400.9 274.4h0M410.1 318.0h0M405.6 329.6h0M399.2 323.6h0M402.8 288.4h0M411.5 322.8h0M398.5 267.5h0M401.8 297.4h0M404.6 297.5h0M407.4 324.1h0M411.7 327.5h0M423.2 308.0h0M408.3 311.1h0M400.9 296.7h0M401.9 237.8h0M410.9 316.9h0M415.1 309.9h0M398.9 318.4h0M397.0 310.5h0M397.6 296.6h0M417.8 311.9h0M439.0 269.4h0M420.8 273.2h0M399.4 304.3h0M459.2 274.0h0M411.8 309.9h0M403.9 325.7h0M408.3 323.1h0M414.9 306.4h0M402.8 276.7h0M395.8 252.9h0M452.3 311.1h0M420.8 314.6h0M436.6 276.3h0M418.1 294.9h0M406.7 303.8h0M404.9 305.3h0M406.0 295.8h0M416.9 266.3h0M408.5 310.9h0M413.2 322.0h0M426.2 320.2h0M397.6 206.7h0M400.9 319.4h0M404.7 296.8h0M409.3 309.0h0M411.7 283.5h0M413.2 322.5h0M402.4 321.7h0M413.9 304.3h0M403.5 299.1h0M400.3 322.3h0M402.1 295.8h0M422.0 305.6h0M410.5 321.7h0M406.3 307.3h0M402.0 268.5h0M400.1 296.2h0M398.5 248.5h0M400.6 312.1h0M424.7 280.7h0M396.4 314.7h0M404.6 288.9h0M400.7 294.2h0M400.0 202.1h0M421.8 297.1h0M418.8 312.7h0M401.9 327.7h0M462.2 306.6h0M407.1 310.2h0M395.8 305.3h0M403.1 270.5h0M415.3 302.4h0M402.3 293.6h0M409.4 312.6h0M399.1 269.7h0M400.9 324.8h0M398.1 242.0h0M419.5 287.0h0M433.1 245.9h0M412.4 315.3h0M424.8 274.4h0M405.6 327.0h0M408.1 327.5h0M400.3 327.0h0M404.7 313.9h0M410.9 330.0h0M400.4 307.6h0M411.7 301.9h0M402.3 327.0h0M422.4 322.6h0M405.9 318.7h0M395.7 290.8h0M411.3 313.7h0M406.8 323.8h0M402.3 272.3h0M487.3 307.4h0M395.5 308.6h0M407.8 330.6h0M475.5 302.7h0M410.9 281.7h0M401.1 297.9h0M415.4 295.8h0M413.6 299.9h0M457.3 282.2h0M434.9 305.3h0M403.2 305.3h0M400.8 328.2h0M396.4 258.7h0M402.1 324.5h0M401.0 322.2h0M432.8 303.7h0M401.8 320.9h0M417.8 324.9h0M520.0 303.9h0M411.7 318.6h0M395.6 269.7h0M407.9 328.2h0M404.4 313.4h0M399.1 284.9h0M410.4 327.6h0M408.9 303.9h0M405.6 295.1h0M399.6 284.1h0M401.1 315.2h0M424.2 319.6h0M405.7 323.3h0M403.1 317.6h0M401.7 295.9h0M406.3 278.5h0M471.8 317.0h0M402.7 329.0h0M401.3 228.7h0M398.4 309.8h0M450.5 289.1h0M406.8 318.0h0M440.3 270.2h0M413.2 290.9h0M401.3 286.3h0M402.7 273.9h0M411.6 296.8h0M406.1 319.7h0M402.6 315.4h0M406.3 328.0h0M442.7 323.1h0M404.3 315.9h0M413.0 295.0h0M401.5 275.7h0M401.9 232.6h0M404.0 285.2h0M412.0 327.1h0M417.4 311.5h0M398.6 323.6h0M406.0 288.5h0M414.2 297.7h0M413.2 320.1h0M408.6 315.9h0M402.3 325.3h0M416.6 261.9h0M404.9 308.8h0M396.9 309.1h0M417.0 315.4h0M400.8 315.9h0M399.9 298.3h0M412.5 326.3h0M456.3 271.3h0M407.0 307.2h0M423.4 327.9h0M423.6 312.3h0M399.3 312.7h0M409.9 256.4h0M403.6 288.9h0M404.1 320.5h0M406.0 295.8h0M405.6 306.2h0M436.0 307.7h0M428.3 291.7h0M404.2 320.3h0M400.8 238.5h0M411.3 312.8h0M403.9 323.3h0M402.5 239.5h0M403.6 319.9h0M432.9 270.6h0M398.2 256.5h0M398.9 285.7h0M407.8 310.5h0M402.0 322.0h0M400.5 311.7h0M407.8 298.9h0M406.5 330.6h0M404.9 319.4h0M449.2 291.7h0M396.6 303.2h0M419.3 314.3h0M411.0 318.4h0M396.0 310.8h0M401.2 307.0h0M404.0 314.2h0M402.9 329.2h0M398.2 282.2h0M407.5 306.6h0M408.1 314.6h0M427.7 329.9h0M406.3 316.9h0M401.4 263.2h0M405.0 296.7h0M522.6 308.5h0M413.7 311.2h0M400.8 318.2h0M434.9 305.7h0M397.3 299.7h0M405.7 330.8h0M401.3 323.6h0M402.7 315.3h0M399.0 275.8h0M412.3 327.1h0M407.5 322.6h0M398.5 325.5h0M402.0 321.6h0M427.7 284.9h0M483.2 320.5h0M399.5 312.6h0M430.4 307.1h0M404.0 324.9h0M435.9 312.8h0M405.3 311.2h0M418.9 285.5h0M401.6 258.5h0M399.6 300.9h0M411.2 328.8h0M401.4 316.5h0M412.6 320.7h0M396.8 258.3h0M402.5 315.9h0M397.2 290.6h0M396.5 316.2h0M399.0 241.6h0M403.1 326.7h0M398.8 296.6h0M404.2 316.3h0M405.6 258.3h0M399.2 318.3h0M426.6 297.5h0M409.1 319.6h0M398.1 306.2h0M409.6 306.6h0M438.0 288.3h0M522.1 308.0h0M493.0 301.4h0M532.2 296.5h0M410.8 325.0h0M396.8 301.5h0M396.1 261.1h0M401.6 287.1h0M413.7 310.0h0M404.9 279.0h0M410.4 319.2h0M403.7 327.4h0M410.8 324.1h0M424.2 215.3h0M397.3 291.9h0M494.0 281.3h0M408.2 330.7h0M426.8 299.2h0M398.6 317.8h0M410.3 324.4h0M399.5 313.8h0M406.1 330.6h0M398.4 321.4h0M413.9 313.2h0M410.0 274.3h0M403.1 304.2h0M400.0 290.6h0M398.0 205.8h0M420.9 294.7h0M413.3 319.7h0M405.3 317.1h0M403.2 255.0h0M409.6 326.6h0M433.2 314.5h0M463.1 322.3h0M401.2 220.9h0M404.2 318.2h0M422.0 287.5h0M405.2 311.1h0M398.2 269.9h0M405.9 328.6h0M406.1 330.2h0M413.2 325.9h0M402.3 316.5h0M408.1 286.3h0M417.9 324.5h0M435.6 208.1h0M402.0 223.9h0M447.1 257.5h0M401.6 280.5h0M407.7 323.2h0M395.7 291.7h0M406.4 305.5h0M400.8 302.6h0M402.5 280.0h0M400.4 318.8h0M419.2 274.7h0M405.6 311.9h0M404.0 258.1h0M404.3 318.5h0M410.9 293.8h0M399.6 305.6h0M408.9 314.8h0M399.4 259.5h0M403.7 289.8h0M415.5 287.6h0M395.6 267.6h0M410.2 297.5h0M403.0 308.4h0M405.7 269.2h0M404.1 274.7h0M442.0 323.2h0M499.0 311.6h0M396.9 313.9h0M400.6 324.0h0M414.9 322.2h0M404.0 312.9h0M401.3 320.6h0M400.4 255.1h0M420.2 296.3h0M408.2 308.8h0M405.6 283.3h0M407.0 329.1h0M413.1 305.8h0M413.0 307.3h0M425.6 263.5h0M404.0 286.1h0M427.6 315.3h0M395.8 271.7h0M426.1 308.0h0M395.4 264.9h0M402.5 320.3h0M407.2 329.7h0M418.9 287.5h0M409.1 321.3h0M413.9 332.3h0M401.5 321.2h0" stroke="#000" stroke-width="1.15" stroke-linecap="round" opacity="0.7" fill="none"/>
<path d="M406.3 319.7h0M399.9 306.2h0M399.5 319.4h0M403.8 290.9h0M402.2 287.7h0M410.5 300.4h0M407.4 317.0h0M407.5 313.9h0M408.3 285.6h0M425.4 295.8h0M402.2 293.7h0M404.9 302.5h0M401.0 327.4h0M396.7 312.9h0M405.7 305.0h0M403.2 320.2h0M520.7 309.3h0M397.8 269.7h0M408.3 322.5h0M398.6 286.6h0M421.0 325.5h0M413.2 285.8h0M408.5 300.1h0M417.3 323.2h0M396.0 313.7h0M406.2 296.4h0M402.8 278.0h0M444.2 279.4h0M402.8 290.4h0M398.1 244.6h0M421.8 315.6h0M410.2 324.4h0M438.2 332.3h0M399.8 305.4h0M430.2 287.1h0M403.6 285.7h0M399.8 207.4h0M398.0 305.2h0M400.1 322.4h0M408.8 304.7h0M399.2 317.0h0M403.0 319.7h0M399.5 224.5h0M434.2 288.7h0M407.7 323.7h0M411.5 293.5h0M411.0 314.3h0M397.5 282.8h0M417.3 313.8h0M416.2 322.0h0M404.2 319.8h0M408.7 303.6h0M409.0 319.4h0M402.4 305.4h0M407.5 312.0h0M401.9 327.1h0M403.0 323.1h0M400.0 327.6h0M409.4 311.5h0M402.6 300.3h0M413.7 323.9h0M426.9 280.2h0M407.6 305.9h0M407.8 306.9h0M418.2 322.0h0M406.2 318.2h0M426.8 304.2h0M409.0 310.7h0M422.8 307.5h0M404.6 250.6h0M399.6 291.0h0M400.4 228.7h0M405.5 306.7h0M504.0 303.1h0M404.7 327.4h0M407.2 303.7h0M425.3 289.3h0M404.5 327.6h0M398.4 272.6h0M406.5 311.5h0M401.3 201.9h0M408.7 324.1h0M405.4 323.4h0M403.7 327.7h0M404.5 327.8h0M400.0 314.6h0M410.3 302.6h0M405.3 303.8h0M425.9 291.8h0M410.6 318.7h0M402.5 328.4h0M411.2 305.7h0M464.4 305.5h0M400.1 319.4h0M403.1 326.4h0M404.3 296.8h0M404.2 295.6h0M431.3 301.0h0M416.9 325.6h0M404.3 281.2h0M416.9 317.8h0M405.6 304.3h0M403.7 318.6h0M395.6 258.9h0M425.1 307.2h0M396.0 238.9h0M401.4 309.6h0M403.9 317.9h0M428.7 327.8h0M408.0 313.6h0M402.9 302.0h0M407.5 285.8h0M454.6 286.1h0M405.2 327.0h0M413.6 292.6h0M435.4 327.4h0M400.9 314.7h0M405.1 317.4h0M398.2 310.7h0M401.8 325.3h0M404.5 303.7h0M402.2 311.4h0M396.1 260.4h0M472.5 271.9h0M408.2 314.4h0M398.9 303.2h0M401.3 318.7h0M402.1 316.6h0M402.5 330.5h0M416.4 317.0h0M400.6 319.7h0M430.5 310.5h0M399.6 317.4h0M408.0 292.1h0M403.3 328.1h0M411.8 329.2h0M404.1 305.7h0M404.3 307.2h0M405.4 326.1h0M427.1 242.9h0M409.2 315.2h0M407.5 321.9h0M406.8 277.7h0M408.7 327.5h0M406.4 328.7h0M405.6 238.5h0M401.8 264.9h0M425.6 292.6h0M400.2 321.8h0M407.8 255.1h0M405.3 325.3h0M396.1 316.6h0M432.6 287.7h0M492.4 314.6h0M400.1 322.6h0M403.6 289.9h0M396.0 310.5h0M409.1 294.9h0M417.4 319.0h0M398.8 318.8h0M402.7 327.4h0M403.1 327.0h0M395.7 231.7h0M425.1 247.0h0M454.8 285.9h0M401.7 227.1h0M416.8 276.4h0M397.3 302.7h0M432.5 291.0h0M431.8 311.3h0M405.3 327.6h0M408.4 304.2h0M397.1 289.7h0M410.5 331.2h0M417.8 327.7h0M405.1 276.0h0M409.1 322.4h0M409.0 270.8h0M398.9 306.9h0M411.1 330.9h0M405.3 314.1h0M409.0 317.6h0M402.4 307.8h0M441.4 284.0h0M437.8 312.5h0M397.3 268.0h0M400.6 273.8h0M455.9 306.5h0M494.0 287.5h0M422.4 312.5h0M406.3 285.0h0M402.0 266.1h0M454.5 306.2h0M409.4 321.9h0M398.4 299.7h0M401.0 258.9h0M395.4 262.9h0M398.3 308.8h0M403.3 248.9h0M405.2 310.1h0M399.2 267.4h0M401.3 320.8h0M401.1 323.2h0M409.8 314.3h0M398.7 267.2h0M405.9 281.1h0M401.0 303.1h0M405.1 244.6h0M398.5 327.8h0M407.8 322.7h0M399.1 293.4h0M407.7 312.7h0M408.2 296.1h0M399.6 268.7h0M403.6 317.2h0M423.0 328.0h0M402.4 311.8h0M408.6 325.0h0M440.6 245.6h0M399.4 299.1h0M407.2 328.9h0M403.4 320.9h0M404.5 293.2h0M422.1 330.4h0M426.0 314.9h0M402.2 308.5h0M452.7 324.3h0M411.8 323.7h0M403.1 268.6h0M405.4 307.7h0M421.4 325.4h0M396.7 295.1h0M405.3 286.0h0M422.7 291.6h0M404.2 311.4h0M413.6 280.8h0M405.0 320.2h0M414.5 301.9h0M405.1 301.6h0M418.2 323.7h0M403.9 252.1h0M412.6 323.9h0M414.7 309.9h0M417.4 287.6h0M433.4 293.5h0M403.1 321.5h0M399.2 323.5h0M400.4 249.5h0M408.1 324.7h0M398.7 288.8h0M404.7 318.1h0M398.9 280.4h0M402.3 326.2h0M402.4 235.3h0M405.3 315.2h0M397.8 310.4h0M408.0 325.9h0M402.2 258.2h0M433.6 299.4h0M401.5 307.2h0M406.6 329.4h0M403.2 242.8h0M405.9 315.5h0M407.8 322.5h0M402.5 289.9h0M398.4 202.6h0M405.4 296.8h0M401.4 279.0h0M408.4 297.5h0M405.8 328.7h0M411.1 307.0h0M401.8 305.4h0M404.6 324.0h0M408.4 245.8h0M411.1 308.5h0M403.5 318.8h0M410.8 310.0h0M404.2 245.5h0M395.4 313.3h0M403.8 315.4h0M481.0 281.3h0M404.5 216.0h0M404.8 317.1h0M404.5 317.7h0M405.2 291.2h0M406.8 324.9h0M444.9 306.2h0M406.8 318.5h0M410.8 302.2h0M410.9 298.6h0M412.9 280.8h0M402.9 327.8h0M447.7 296.1h0M403.0 299.0h0M410.5 311.1h0M401.8 318.2h0M404.9 330.6h0M402.6 284.9h0M403.1 324.6h0M407.4 319.8h0M400.4 193.5h0M401.1 284.0h0M417.6 300.3h0M410.9 322.7h0M400.6 327.8h0M409.9 319.8h0M398.8 299.1h0M403.3 238.2h0M404.1 316.1h0M401.4 327.0h0M418.0 331.1h0M403.3 271.8h0M412.7 323.6h0M396.0 255.3h0M420.0 305.6h0M402.7 241.2h0M402.0 314.4h0M403.5 319.7h0M401.2 321.0h0M412.6 318.6h0M407.3 252.8h0M407.7 314.8h0M410.8 326.3h0M412.3 322.2h0M402.3 324.1h0M403.0 289.0h0M401.0 292.2h0M426.5 323.0h0M403.5 294.5h0M410.8 325.4h0M403.5 259.0h0M399.3 310.1h0M465.5 305.6h0M420.3 250.7h0M408.1 303.3h0M401.5 324.0h0M402.6 327.2h0M516.0 301.9h0M404.6 318.9h0M405.6 319.6h0M406.4 326.2h0M407.7 309.1h0M400.4 257.2h0M402.0 292.4h0M403.3 314.5h0M402.4 264.3h0M449.5 262.2h0M415.3 280.6h0M418.2 307.6h0M408.0 326.6h0M400.7 326.6h0M416.6 312.2h0M412.4 327.8h0M412.6 318.4h0M418.9 332.0h0M396.7 316.3h0M395.3 302.5h0M396.5 284.8h0M405.1 292.2h0M398.1 262.9h0M396.0 313.9h0M395.5 272.7h0M408.9 305.3h0M408.8 303.5h0M408.2 310.3h0M401.6 328.3h0M400.2 295.6h0M422.8 275.1h0M405.8 289.3h0M447.0 304.2h0M395.9 299.6h0M401.8 302.3h0M410.0 313.0h0M479.1 286.8h0M399.7 324.0h0M414.5 324.8h0M398.3 323.5h0M414.8 325.5h0M435.4 259.0h0M412.0 312.1h0M404.7 316.9h0M403.8 297.5h0M409.9 286.2h0M399.7 235.2h0M422.5 287.9h0M409.0 304.7h0M412.0 318.5h0M413.3 312.2h0M396.9 259.3h0M402.7 318.4h0M396.5 318.8h0M413.5 329.5h0M404.8 300.3h0M411.9 289.2h0M427.5 291.6h0M407.4 319.0h0M428.5 301.2h0M402.7 281.5h0M410.1 312.2h0M398.9 244.9h0M398.7 212.5h0M402.3 321.8h0M402.2 305.4h0M398.0 293.3h0M411.1 322.0h0M408.4 319.0h0M402.4 320.4h0M408.0 279.9h0M403.5 328.9h0M405.3 324.3h0M414.4 303.5h0M411.4 299.9h0M403.4 324.5h0M404.7 247.9h0M454.9 319.5h0M402.5 324.2h0M416.3 330.5h0M413.3 313.9h0M398.4 277.4h0M396.7 321.5h0M409.3 321.6h0M405.6 283.4h0M406.4 324.6h0M399.4 314.8h0M439.3 323.3h0M407.2 285.6h0M407.5 313.5h0M407.1 293.3h0M400.3 293.9h0M401.9 292.5h0M403.8 276.7h0M405.1 314.7h0M397.3 305.2h0M409.2 327.3h0M400.8 296.2h0M400.4 290.3h0M408.2 295.9h0M416.2 300.7h0M395.6 313.2h0M401.9 323.1h0M403.3 269.4h0M407.5 325.2h0M405.7 313.4h0M401.3 324.2h0M404.5 321.4h0M405.5 325.3h0M447.7 302.6h0M405.4 249.0h0M412.9 314.7h0M417.3 308.8h0M414.2 309.3h0M404.1 306.0h0M399.1 324.9h0M405.3 292.0h0M404.9 316.0h0M416.6 261.8h0M413.1 330.2h0M396.4 300.5h0M403.2 330.4h0M424.1 320.3h0M401.5 287.1h0M413.4 326.3h0M400.0 302.5h0M402.4 306.4h0M411.9 274.2h0M408.8 311.5h0M408.3 321.6h0M403.0 297.8h0M401.0 316.0h0M412.6 325.2h0M402.5 280.1h0M405.1 316.9h0M407.7 315.3h0M398.4 325.9h0M401.8 215.4h0M436.2 215.8h0M402.0 325.8h0M433.2 295.8h0M396.5 288.5h0M465.2 298.4h0M408.1 275.5h0M402.5 315.8h0M405.6 287.7h0M400.5 266.1h0M400.4 289.6h0M430.5 318.5h0M405.7 325.9h0M407.8 329.0h0M399.2 311.8h0M405.7 306.5h0M430.6 280.4h0M406.2 316.0h0M422.2 262.9h0M419.8 307.4h0M399.4 324.1h0M413.6 312.1h0M410.0 324.4h0M403.1 299.9h0M412.3 295.1h0M423.4 328.3h0M403.8 309.7h0M421.5 256.8h0M401.0 325.9h0M398.3 315.1h0M408.9 275.2h0M406.2 316.3h0M404.4 257.6h0M405.3 320.6h0M422.9 314.3h0M408.7 324.7h0M416.5 274.7h0M406.5 288.7h0M411.8 317.2h0M395.7 283.1h0M409.2 320.3h0M410.0 328.1h0M403.9 302.3h0M397.6 317.5h0M402.3 316.2h0M428.2 330.6h0M407.9 298.5h0M405.6 331.4h0M438.2 302.9h0M407.1 302.1h0M405.4 322.5h0M405.2 327.0h0M402.2 328.1h0M400.9 310.7h0M402.6 317.6h0M418.5 307.6h0M401.3 309.0h0M404.4 240.0h0M469.5 275.8h0M395.1 309.0h0M404.2 321.0h0M398.4 234.8h0M397.9 248.3h0M404.3 322.0h0M401.0 315.7h0M403.4 263.6h0M400.2 286.0h0M403.3 302.6h0M401.7 323.5h0M496.1 292.9h0M403.8 305.4h0M405.7 315.4h0M405.0 296.6h0M400.5 284.3h0M400.2 222.0h0M398.6 273.0h0M398.4 290.4h0M404.4 303.3h0M404.7 301.1h0M400.4 301.3h0M411.1 299.5h0M416.7 316.3h0M414.6 321.3h0M398.0 306.6h0M401.3 301.6h0M399.5 315.9h0M397.4 282.5h0M404.5 327.8h0M421.8 322.5h0M412.3 320.0h0M403.1 321.4h0M405.5 326.5h0M406.4 321.9h0M417.2 300.6h0M410.6 292.2h0M403.3 274.3h0M401.2 311.6h0M395.9 282.1h0M400.3 237.9h0M402.1 307.3h0M414.5 322.6h0M407.9 276.2h0M397.4 212.6h0M427.7 307.7h0M425.4 320.2h0M401.1 317.1h0M398.2 242.9h0M412.4 319.4h0M400.5 326.6h0M405.7 305.4h0M401.2 321.3h0M399.4 278.0h0M428.5 303.7h0M450.6 259.7h0M405.0 241.7h0M428.8 305.9h0M406.8 319.6h0M402.5 309.8h0M405.4 309.5h0M400.5 325.0h0M418.6 299.8h0M410.7 314.1h0M420.7 308.9h0M404.9 309.2h0M402.5 328.3h0M404.9 327.7h0M407.9 315.5h0M408.9 312.1h0M406.1 259.1h0M399.3 214.4h0M409.7 322.4h0M414.1 292.7h0M402.4 297.7h0M402.4 318.6h0M403.2 298.0h0M418.0 332.3h0M403.3 315.9h0M414.2 311.9h0M398.8 217.7h0M404.6 325.2h0M406.9 307.0h0M404.6 302.1h0M399.1 263.0h0M416.0 330.1h0M410.8 329.7h0M405.6 235.5h0M400.8 265.5h0M406.7 306.4h0M419.4 319.1h0M406.2 314.9h0M408.0 326.1h0M407.9 308.8h0M403.9 295.0h0M434.6 322.4h0M410.8 297.1h0M404.2 286.4h0M413.9 310.8h0M407.1 316.0h0M408.3 315.8h0M407.0 291.5h0M401.2 314.8h0M410.3 328.2h0M409.2 310.3h0M401.3 315.7h0M399.6 304.4h0M400.7 313.6h0M414.6 260.0h0M495.8 303.5h0M441.7 256.7h0M398.4 320.9h0M398.7 243.1h0M415.9 256.8h0M395.7 209.6h0M417.3 315.3h0M396.2 304.5h0M398.9 317.1h0M413.8 304.4h0M420.7 329.1h0M430.3 320.5h0M398.6 258.5h0M403.5 305.4h0M398.8 246.7h0M405.3 318.8h0M413.6 293.1h0M414.7 314.1h0M405.1 313.7h0M413.3 274.7h0M398.1 289.2h0M400.5 304.4h0M400.5 326.1h0M402.9 310.8h0M407.8 293.1h0M401.5 329.1h0M471.1 295.4h0M398.1 271.8h0M402.1 316.2h0M399.4 315.3h0M401.0 277.2h0M396.5 290.3h0M408.8 316.1h0M397.2 319.1h0M406.1 305.2h0M415.0 315.2h0M400.9 261.3h0M400.9 306.9h0M411.9 321.2h0M401.3 325.0h0M400.7 295.4h0M413.7 330.0h0M474.0 315.3h0M469.8 283.5h0M405.6 304.1h0M407.9 286.1h0M403.3 313.4h0M402.6 305.0h0M399.4 293.9h0M406.6 322.0h0M413.1 296.2h0M395.7 311.0h0M405.0 287.7h0M404.4 292.1h0M405.1 305.2h0M404.3 294.1h0M409.0 330.8h0M398.1 278.2h0M407.0 324.7h0M420.2 279.7h0M399.7 234.7h0M403.5 328.9h0M409.2 309.7h0M412.1 329.4h0M400.0 303.2h0M433.0 322.4h0M400.2 286.8h0M411.6 306.9h0M403.3 322.8h0M427.2 315.9h0M400.4 297.7h0M501.0 323.8h0M410.7 315.9h0M401.0 309.0h0M404.1 314.4h0M413.5 329.0h0M489.5 287.1h0M403.9 315.2h0M442.1 250.6h0M408.4 290.6h0M415.5 306.1h0M398.7 301.8h0M396.0 312.7h0M402.3 328.2h0M471.3 290.7h0M410.3 285.5h0M403.1 319.3h0M421.1 282.1h0M409.3 322.5h0M403.1 313.0h0M407.0 312.8h0M408.6 318.4h0M404.0 326.2h0M409.1 324.8h0M407.4 306.0h0M404.3 328.1h0M407.4 317.6h0M403.1 307.6h0M405.3 286.4h0M401.4 327.8h0M408.9 294.6h0M425.3 300.0h0M461.6 313.2h0M399.6 327.7h0M411.6 297.4h0M403.4 241.8h0M405.9 322.0h0M404.5 213.7h0M435.2 258.1h0M402.3 311.2h0M398.5 293.1h0M407.7 329.7h0M403.7 327.3h0M411.0 318.5h0M415.3 330.2h0M396.9 298.5h0M462.1 280.8h0M402.5 265.6h0M421.7 318.6h0M404.0 260.5h0M402.6 294.4h0M415.2 310.6h0M415.6 291.0h0M402.5 326.9h0M405.5 311.9h0M478.4 271.7h0M407.2 300.9h0M410.7 303.7h0M399.7 278.0h0M399.0 325.3h0M406.6 326.6h0M407.0 330.7h0M414.0 332.4h0M407.2 316.8h0M406.1 307.1h0M402.6 266.7h0M411.9 311.9h0M453.1 268.5h0M399.3 322.2h0M406.6 308.0h0M401.3 316.2h0M482.9 295.8h0M400.8 311.5h0M399.3 309.8h0M412.5 327.6h0M402.6 258.0h0M456.5 305.9h0M398.2 324.5h0M414.4 306.1h0M431.4 266.6h0M418.8 304.2h0M451.0 308.7h0M409.8 325.6h0M411.6 317.0h0M448.1 276.7h0M416.4 311.7h0M423.8 308.5h0M451.1 250.0h0M404.8 323.5h0M421.4 244.0h0M397.5 310.3h0M400.9 310.5h0M421.0 326.0h0M402.3 319.2h0M397.9 298.6h0M399.6 249.6h0M397.5 298.9h0M415.5 318.3h0M414.8 328.9h0M501.4 293.9h0M413.3 289.8h0M407.1 318.9h0M420.9 315.5h0M408.1 318.7h0M401.4 285.8h0M405.7 304.5h0M406.9 307.4h0M415.8 322.9h0M401.7 308.0h0M412.5 314.4h0M401.1 308.3h0M401.4 308.3h0M430.3 298.8h0M432.1 324.8h0M417.7 318.0h0M398.3 243.1h0M405.0 312.1h0M405.2 308.7h0M395.8 319.7h0M406.0 284.6h0M406.1 291.0h0M416.0 304.7h0M412.4 311.5h0M398.0 286.9h0M397.1 281.6h0M398.6 311.8h0M407.9 299.0h0M414.6 310.9h0M403.6 298.5h0M397.7 232.1h0M399.4 255.3h0M403.7 328.9h0M416.5 309.1h0M398.6 307.6h0M401.9 307.7h0M422.3 309.6h0M402.6 214.4h0M421.0 287.7h0M404.0 303.5h0M411.3 323.5h0M400.5 324.2h0M401.2 296.1h0M400.5 292.7h0M478.0 320.5h0M410.9 316.6h0M429.1 299.0h0M410.4 326.8h0M402.4 310.4h0M399.8 312.6h0M404.1 297.4h0M417.0 294.9h0M399.0 276.8h0M401.2 320.9h0M428.3 272.3h0M408.6 295.8h0M410.3 329.6h0M406.8 329.2h0M418.5 331.3h0M410.8 316.5h0M411.8 325.4h0M403.2 322.2h0M402.4 313.3h0M441.1 318.7h0M415.7 328.7h0M415.8 329.6h0M402.9 320.4h0M426.3 321.6h0M403.0 305.8h0M395.8 283.8h0M397.5 327.9h0M399.5 327.6h0M404.0 281.1h0M399.8 264.4h0M405.6 295.4h0M422.7 311.3h0M416.7 325.0h0M436.8 300.7h0M406.5 285.5h0M407.0 278.5h0M397.6 276.7h0M405.7 305.6h0M400.4 323.6h0M416.5 328.1h0M401.9 297.9h0M398.1 270.0h0M496.9 305.7h0M396.5 322.7h0M406.6 302.6h0M398.2 260.6h0M400.5 327.4h0M413.3 266.4h0M397.7 320.3h0M402.6 327.0h0M400.3 279.7h0M402.8 310.4h0M399.1 321.1h0M401.5 306.7h0M410.7 312.3h0M457.0 299.6h0M410.1 320.7h0M405.1 321.0h0M517.3 294.2h0M462.5 313.1h0M403.8 290.2h0M415.1 311.7h0M407.5 326.0h0M405.5 300.0h0M401.1 318.3h0M408.2 332.1h0M426.1 305.2h0M401.7 284.7h0M410.6 292.0h0M400.0 322.3h0M408.5 283.8h0M399.2 194.8h0M416.5 319.2h0M418.6 305.6h0M462.2 277.2h0M407.1 309.0h0M395.8 270.4h0M409.3 310.8h0M417.1 309.4h0M399.0 291.8h0M452.1 291.9h0M396.6 305.0h0M399.6 310.9h0M411.4 290.0h0M399.6 321.1h0M421.3 292.9h0M407.4 330.4h0M405.3 314.5h0M408.3 303.0h0M401.5 285.6h0M465.5 267.8h0M408.1 248.9h0M409.0 295.1h0M404.7 321.4h0M441.0 254.1h0M399.3 298.5h0M398.3 321.4h0M402.4 286.4h0M398.9 314.3h0M408.5 327.8h0M413.6 315.4h0M395.8 294.3h0M408.4 324.6h0M428.6 288.2h0M397.9 255.4h0M396.3 247.6h0M403.6 293.1h0M410.2 252.5h0M402.8 293.4h0M406.2 322.5h0M412.5 326.2h0M409.2 330.3h0M414.5 306.2h0M403.2 325.5h0M403.5 318.6h0M405.3 279.0h0M395.9 292.3h0M459.8 300.0h0M410.0 274.9h0M463.8 322.2h0M403.9 327.3h0M400.6 325.6h0M414.8 231.0h0M402.7 288.7h0M402.6 310.2h0M414.9 319.8h0M406.1 233.9h0M403.4 301.3h0M411.8 318.2h0M412.1 322.7h0M398.4 271.3h0M400.2 296.2h0M404.2 315.8h0M403.4 217.0h0M406.9 327.1h0M404.0 273.5h0M419.8 309.0h0M406.1 324.1h0M406.4 303.1h0M416.7 289.5h0M400.9 289.9h0M397.8 313.5h0M401.9 323.8h0M413.5 314.0h0M410.5 324.9h0M399.5 321.4h0M396.6 297.4h0M408.5 306.6h0M408.5 318.8h0M407.5 317.1h0M395.8 292.6h0M402.8 324.5h0M403.6 292.3h0M435.3 318.8h0M401.3 323.5h0M399.2 300.7h0M458.8 302.8h0M420.2 307.3h0M407.2 307.9h0M467.0 301.3h0M400.1 315.0h0M402.4 318.3h0M435.6 291.8h0M404.5 324.8h0M404.5 314.7h0M401.7 305.1h0M400.1 302.0h0M460.4 284.5h0M410.2 315.0h0M410.3 274.5h0M412.9 316.7h0M415.6 301.5h0M433.9 307.8h0M404.3 268.4h0M400.7 310.3h0M407.8 301.0h0M404.7 320.7h0M408.0 295.9h0M401.4 289.4h0M414.3 312.9h0M404.0 326.1h0M408.1 293.0h0M405.3 308.5h0M428.4 267.0h0M403.7 294.7h0M398.1 319.9h0M453.3 313.0h0M407.2 304.8h0M409.1 325.0h0M402.4 264.2h0M407.1 304.3h0M402.4 300.1h0M402.5 322.2h0M396.5 276.8h0M404.0 315.4h0M400.4 318.2h0M413.7 319.0h0M407.8 275.8h0M405.5 317.8h0M402.0 304.3h0M409.0 304.3h0M403.8 291.1h0M399.1 314.4h0M405.7 282.3h0M399.5 270.5h0M402.8 324.3h0M399.4 284.3h0M405.8 312.6h0M401.4 306.2h0M401.6 297.6h0M401.8 259.1h0M396.3 298.4h0M407.8 302.7h0M421.8 331.2h0M417.3 296.2h0M399.5 289.8h0M404.0 331.2h0M402.5 325.0h0M419.5 295.4h0M405.8 329.6h0M406.1 305.8h0M400.3 323.4h0M403.5 326.2h0M411.1 281.6h0M431.0 316.5h0M424.8 265.8h0M409.7 330.7h0M405.0 303.2h0M406.8 314.1h0M400.1 243.6h0M399.6 236.2h0M401.6 294.5h0M434.2 290.6h0M398.6 285.6h0M425.6 300.8h0M399.5 280.1h0M413.6 282.3h0M460.2 316.9h0M405.7 315.8h0M398.3 233.0h0M405.4 306.0h0M406.0 314.7h0M404.3 316.1h0M396.7 222.7h0M398.9 302.1h0M405.5 266.8h0M404.3 294.2h0M398.6 264.9h0M405.6 251.4h0M497.0 311.2h0M404.5 293.2h0M406.6 309.2h0M403.3 317.5h0M405.4 317.9h0M411.5 292.0h0M406.1 278.6h0M407.5 329.0h0M402.4 275.2h0M429.0 318.8h0M407.7 323.8h0M414.3 242.6h0M416.9 258.1h0M399.7 288.6h0M449.4 287.2h0M410.1 301.4h0M399.9 285.2h0M403.3 273.8h0M409.7 322.3h0M415.9 306.4h0M399.8 307.5h0M406.4 305.4h0M410.1 317.1h0M428.3 276.8h0M401.1 200.7h0M411.3 328.1h0M414.2 326.2h0M401.8 315.6h0M398.3 318.4h0M411.0 319.8h0M404.8 306.5h0M439.5 278.9h0M412.1 322.5h0M442.0 272.1h0M403.7 321.4h0M403.1 320.2h0M396.4 313.1h0M404.4 294.8h0M401.6 265.4h0M402.0 300.1h0M413.1 315.1h0M395.7 302.0h0M395.8 269.2h0M407.5 318.8h0M430.1 309.6h0M450.4 281.1h0M448.2 316.0h0M406.4 323.7h0M400.6 275.0h0M402.3 325.2h0M403.7 328.4h0M410.2 306.6h0M402.6 257.9h0M434.8 318.0h0M408.8 324.8h0M401.0 234.4h0M400.9 296.7h0M404.1 303.0h0M398.9 252.6h0M400.6 307.1h0M402.1 298.8h0M396.0 291.0h0M420.5 288.7h0M410.6 330.1h0M402.6 324.6h0M409.2 320.4h0M419.0 320.4h0M432.8 294.0h0M407.3 300.9h0M406.7 307.6h0M399.1 323.5h0M430.4 308.4h0M410.9 328.9h0M410.3 319.5h0M413.5 328.8h0M412.3 321.5h0M412.1 310.0h0M404.1 321.2h0M406.6 325.8h0M408.3 317.8h0M403.1 325.9h0M399.7 317.9h0M409.6 294.1h0M413.4 329.0h0M407.6 312.6h0M418.4 331.6h0M401.1 306.7h0M414.4 272.9h0M410.8 319.3h0M403.8 319.2h0M399.6 236.2h0M405.3 318.6h0M461.3 284.9h0M398.7 308.2h0M403.2 232.4h0M409.4 314.2h0M438.6 323.3h0M405.9 314.8h0M408.4 313.2h0M398.5 307.3h0M400.9 284.0h0M404.9 323.9h0M402.1 287.6h0M414.4 315.9h0M397.9 211.1h0M402.3 298.3h0M494.5 283.2h0M399.0 290.2h0M400.7 309.1h0M430.4 257.0h0M410.2 298.3h0M398.8 299.0h0M400.2 322.5h0M398.8 320.5h0M419.9 323.8h0M406.1 330.6h0M419.9 300.0h0M407.8 324.0h0M412.4 319.6h0M414.4 322.0h0M404.7 316.0h0M426.4 293.6h0M409.7 307.3h0M400.2 326.6h0M405.8 305.7h0M404.9 328.1h0M406.6 307.8h0M417.1 312.1h0M408.4 305.5h0M403.8 288.2h0M403.4 318.4h0M399.3 280.2h0M455.7 315.6h0M395.3 291.7h0M406.6 327.7h0M397.0 223.7h0M398.5 276.3h0M434.9 261.7h0M421.2 314.5h0M411.1 326.2h0M414.8 325.9h0M400.9 325.7h0M420.6 266.9h0M446.2 327.9h0M398.9 321.2h0M399.3 320.2h0M406.5 328.3h0M407.5 307.5h0M401.1 326.7h0M414.9 329.2h0M405.8 301.3h0M407.7 310.2h0M402.0 329.5h0M422.7 302.0h0M438.1 308.5h0M400.8 305.8h0M401.5 292.4h0M411.5 317.7h0M396.2 316.5h0M410.1 318.3h0M398.7 326.7h0M440.3 317.1h0M399.4 269.4h0M397.5 276.8h0M521.1 298.6h0M411.6 315.8h0M438.8 247.4h0M409.4 322.6h0M419.0 313.8h0M409.4 324.5h0M395.3 278.9h0M411.4 311.6h0M436.9 321.4h0M441.9 288.9h0M408.7 301.4h0M412.4 312.6h0M405.8 318.3h0M401.4 328.4h0M400.5 324.7h0M403.5 303.9h0M399.9 324.0h0M404.4 320.0h0M406.9 317.8h0M395.7 305.9h0M403.3 289.9h0M411.6 291.1h0M404.0 286.4h0M435.8 281.5h0M521.7 305.4h0M421.1 315.0h0M402.1 304.8h0M404.7 293.5h0M406.4 278.8h0M404.0 310.7h0M402.0 197.4h0M402.7 317.5h0M402.5 324.2h0M406.8 313.0h0M410.2 324.8h0M413.3 284.1h0M407.2 307.9h0M396.1 220.1h0M411.2 323.2h0M437.5 315.6h0M406.8 321.3h0M405.3 322.0h0M402.1 234.6h0M427.8 316.2h0M399.0 328.3h0M410.8 314.9h0M403.9 307.9h0M402.8 318.1h0M402.7 325.9h0M404.1 308.0h0M406.7 317.3h0M402.8 321.9h0M398.0 255.0h0M404.7 297.6h0M408.6 288.1h0M403.5 310.8h0M474.1 294.3h0M406.3 304.1h0M398.7 297.0h0M422.0 286.9h0M402.9 323.7h0M405.2 289.1h0M435.5 306.9h0M401.5 318.5h0M403.5 312.7h0M396.8 315.8h0M402.5 322.4h0M431.2 289.9h0M398.4 325.7h0M402.8 285.9h0M409.6 317.9h0M415.7 286.9h0M414.0 320.7h0M402.3 294.0h0M397.7 319.0h0M403.7 284.7h0M401.4 248.8h0M449.5 270.3h0M409.5 306.4h0M438.3 281.0h0M441.4 319.7h0M405.2 293.3h0M401.4 320.9h0M429.6 271.4h0M402.1 324.6h0M403.4 294.5h0M410.0 330.4h0M400.4 253.0h0M431.7 255.3h0M418.6 313.9h0M406.2 284.3h0M401.9 325.8h0M407.0 325.2h0M400.3 309.7h0M408.2 329.1h0M404.9 320.2h0M419.5 321.8h0M400.8 263.2h0M399.6 326.3h0M407.5 324.5h0M401.3 302.9h0M399.4 322.8h0M440.8 323.5h0M405.9 313.3h0M419.3 319.4h0M420.9 287.1h0M411.4 323.9h0M397.8 246.9h0M405.3 325.1h0M458.2 289.8h0M401.9 299.7h0M401.3 328.9h0M405.4 317.9h0M402.1 320.7h0M418.4 302.4h0M396.8 306.3h0M402.3 306.6h0M401.8 317.9h0M401.5 325.3h0M398.1 281.7h0M408.5 325.8h0M408.7 285.6h0M406.8 279.7h0M406.3 295.9h0M401.5 298.4h0M402.8 315.9h0M398.2 298.8h0M408.9 311.3h0M423.4 317.7h0M487.7 305.5h0M401.4 296.8h0M402.8 325.8h0M415.2 287.0h0M411.9 327.7h0M408.4 319.1h0M428.9 311.2h0M408.5 316.9h0M434.8 301.9h0M398.9 310.8h0M409.1 301.6h0M434.5 310.7h0M411.2 330.0h0M427.7 305.2h0M409.8 304.7h0M447.5 320.4h0M404.0 329.1h0M403.0 296.8h0M438.6 269.6h0M400.7 328.3h0M405.1 319.7h0M398.6 284.3h0M483.9 297.1h0M397.4 319.1h0M401.1 304.2h0M400.1 309.3h0M404.9 241.6h0M409.2 320.9h0M402.7 308.5h0M396.1 307.9h0M403.0 327.8h0M413.2 326.3h0M395.8 268.6h0M399.2 321.3h0M421.0 316.5h0M399.3 313.3h0M406.8 325.7h0M427.8 316.7h0M455.8 312.7h0M405.4 313.8h0M399.1 274.6h0M398.5 209.9h0M413.2 322.1h0M403.3 314.6h0M479.7 311.5h0M403.2 326.9h0M408.4 312.6h0M406.8 318.3h0M398.9 319.9h0M408.8 278.8h0M406.3 307.7h0M405.8 301.5h0M406.9 326.2h0M405.5 325.4h0M407.9 302.9h0M406.8 310.8h0M411.9 317.2h0M457.6 306.5h0M409.5 278.0h0M413.7 293.4h0M408.6 310.6h0M413.7 299.6h0M395.8 285.1h0M407.0 302.5h0M407.0 321.6h0M414.8 303.6h0M410.8 318.5h0M405.2 268.4h0M405.5 295.2h0M405.7 246.9h0M411.5 300.8h0M413.4 303.7h0M414.9 317.9h0M401.9 318.0h0M398.5 301.0h0M412.9 316.0h0M402.4 308.5h0M410.3 325.1h0M398.0 313.9h0M398.0 321.3h0M417.5 307.3h0M404.9 329.8h0M400.8 228.3h0M401.1 325.1h0M415.3 306.1h0M405.8 330.8h0M401.4 301.8h0M406.5 313.8h0M398.4 300.0h0M422.4 330.8h0M509.8 296.4h0M407.8 311.6h0M404.7 302.9h0M419.1 324.4h0M401.6 257.7h0M404.3 313.1h0M418.0 322.9h0M404.9 298.8h0M425.2 311.8h0M402.6 221.8h0M406.0 325.3h0M402.4 278.5h0M398.8 303.2h0M400.3 306.3h0M409.3 325.5h0M399.2 300.7h0M416.4 322.7h0M396.8 295.9h0M400.0 324.3h0M416.7 319.6h0M402.5 298.0h0M401.2 264.0h0M426.0 249.3h0M405.2 302.0h0M407.0 234.5h0M403.7 261.4h0M405.3 317.6h0M409.5 327.3h0M418.9 297.4h0M403.3 326.3h0M405.7 286.5h0M406.1 326.7h0M402.1 228.6h0M407.0 310.7h0M407.6 330.0h0M470.8 312.5h0M412.1 287.5h0M401.3 309.2h0M409.2 326.0h0M398.3 318.8h0M396.2 305.8h0M421.1 291.2h0M398.2 291.2h0M408.9 322.3h0M401.4 292.1h0M398.1 316.5h0M400.3 291.2h0M406.1 320.3h0M410.4 328.7h0M411.1 293.0h0M450.4 269.6h0M402.5 317.9h0M454.6 289.6h0M504.0 295.8h0M396.1 215.0h0M428.6 323.6h0M405.0 322.8h0M471.8 316.2h0M408.8 312.8h0M409.4 327.7h0M402.4 321.9h0M439.0 255.7h0M400.9 236.9h0M410.3 312.5h0M404.0 308.5h0M403.4 237.2h0M401.4 324.9h0M413.8 319.2h0M414.5 307.5h0M410.4 322.6h0M404.8 233.1h0M406.6 327.5h0M403.1 278.8h0M415.0 318.6h0M436.0 324.3h0M405.4 311.0h0M409.8 323.3h0M407.3 323.1h0M413.9 246.0h0M403.2 295.3h0M443.3 276.0h0M413.1 327.9h0M406.7 301.9h0M407.4 325.5h0M404.0 308.0h0M508.4 299.5h0M402.6 308.6h0M402.7 278.8h0M414.8 303.3h0M411.1 331.6h0M396.7 289.8h0M406.2 319.9h0M404.5 328.0h0M412.1 326.5h0M396.7 275.8h0M410.7 314.7h0M406.6 323.2h0M409.3 306.8h0M398.0 198.1h0M414.0 272.1h0M415.1 263.9h0M405.6 299.5h0M402.4 309.1h0M410.4 322.2h0M398.7 311.1h0M406.0 273.8h0M400.8 312.2h0M408.2 292.0h0M409.2 309.4h0M420.8 323.7h0M411.5 329.3h0M409.7 320.5h0M400.3 304.0h0M399.6 215.6h0M403.0 325.2h0M449.7 316.0h0M427.0 321.2h0M398.6 294.7h0M413.4 320.6h0M400.1 256.0h0M407.7 319.7h0M412.7 317.8h0M424.8 310.9h0M414.7 311.1h0M446.4 307.0h0M404.3 319.8h0M403.3 320.2h0M509.6 298.0h0M403.9 303.7h0M406.0 330.8h0M406.8 321.2h0M422.8 305.4h0M399.1 255.7h0M462.5 257.1h0M403.3 330.9h0M404.2 278.9h0M470.3 313.5h0M400.1 285.4h0M437.5 325.4h0M401.9 308.9h0M409.1 296.8h0M413.9 331.9h0M410.1 307.6h0M402.8 288.0h0M399.7 304.7h0M402.3 323.0h0M412.9 327.9h0M429.2 310.5h0M398.4 319.0h0M406.2 329.5h0M401.5 328.8h0M442.4 285.8h0M403.4 274.9h0M414.0 301.8h0M427.4 322.5h0M400.1 305.1h0M401.1 304.2h0M403.3 327.2h0M474.8 274.3h0M401.4 321.5h0M422.0 290.5h0M468.9 288.4h0M400.9 271.1h0M428.8 301.3h0M403.8 297.7h0M428.6 319.6h0M402.6 327.6h0M403.2 270.8h0M409.0 315.9h0M427.3 296.7h0M415.3 301.2h0M398.3 291.0h0M416.3 275.1h0M426.5 302.4h0M405.4 291.3h0M411.1 278.0h0M408.1 301.4h0M450.1 291.6h0M403.9 312.2h0M405.3 296.0h0M398.3 256.9h0M403.6 326.0h0M408.1 317.7h0M406.3 314.8h0M402.0 326.3h0M419.2 304.2h0M402.3 313.5h0M411.4 292.6h0M401.0 313.2h0M401.2 321.9h0M408.8 321.6h0M409.6 314.1h0M405.5 307.0h0M404.3 288.7h0M403.9 324.3h0M401.2 301.2h0M403.5 308.5h0M414.0 325.0h0M426.2 314.2h0M447.7 288.1h0M405.7 284.3h0M400.2 292.1h0M405.4 330.1h0M407.9 299.9h0M410.2 327.9h0M436.6 317.7h0M408.7 315.9h0M410.4 304.8h0M411.5 302.8h0M421.7 295.6h0M424.2 288.8h0M401.2 329.6h0M417.1 313.5h0M398.6 291.3h0M402.4 259.3h0M398.4 308.8h0M423.8 318.4h0M422.5 318.3h0M401.7 315.1h0M411.9 318.7h0M407.0 327.3h0M403.5 284.6h0M398.4 293.7h0M396.7 201.3h0M447.9 289.0h0M481.1 299.8h0M416.0 289.1h0M404.0 320.7h0M408.6 298.2h0M434.5 296.7h0M409.7 328.1h0M402.6 315.9h0M401.4 312.9h0M403.3 315.7h0M402.5 303.6h0M407.6 317.4h0M410.6 317.6h0M412.2 309.7h0M409.2 317.1h0M398.6 286.7h0M401.9 312.5h0M403.2 330.8h0M401.9 326.2h0M396.9 255.5h0M406.9 296.4h0M400.3 251.8h0M395.5 266.0h0M414.0 321.1h0M396.1 227.2h0M404.9 309.4h0M430.4 304.8h0M404.1 311.5h0M410.8 274.3h0M408.4 280.8h0M430.2 272.1h0M428.4 316.6h0M413.2 323.5h0M472.0 313.3h0M402.5 328.5h0M402.1 306.3h0M452.8 259.9h0M400.9 317.1h0M411.5 316.7h0M396.7 198.9h0M495.3 320.1h0M419.0 330.3h0M437.5 291.8h0M406.5 312.6h0M402.8 303.5h0M410.5 305.6h0M410.9 323.7h0M408.2 323.5h0M402.9 249.2h0M400.8 301.0h0M401.0 299.5h0M413.2 317.7h0M418.4 317.4h0M412.2 321.4h0M407.4 289.5h0M419.2 307.1h0M403.6 315.8h0M493.2 284.0h0M429.7 276.7h0M407.6 299.7h0M398.2 288.9h0M406.4 316.3h0M404.1 303.7h0M400.1 235.7h0M525.3 293.5h0M419.4 267.5h0M400.5 314.6h0M417.2 315.6h0M407.9 326.9h0M404.4 309.4h0M397.4 231.3h0M399.3 278.4h0M455.6 272.6h0M398.0 298.3h0M404.9 327.2h0M404.0 323.5h0M407.9 286.6h0M407.5 301.0h0M407.8 327.0h0M398.7 294.6h0M414.7 313.3h0M409.4 328.3h0M399.6 250.0h0M407.1 296.0h0M404.8 307.8h0M408.2 297.0h0M403.7 329.9h0M399.5 268.3h0M426.4 326.8h0M395.5 308.9h0M413.2 291.2h0M432.7 281.9h0M406.9 324.2h0M403.7 317.3h0M431.4 283.9h0M401.2 306.9h0M414.6 321.2h0M420.7 318.4h0M401.6 304.9h0M404.7 275.9h0M416.5 314.1h0M401.9 321.3h0M522.3 299.9h0M401.9 323.9h0M395.1 270.0h0M432.4 304.5h0M399.9 318.7h0M410.7 287.5h0M398.2 297.7h0M408.7 306.3h0M401.1 303.1h0M407.1 320.5h0M405.5 300.3h0M416.0 308.4h0M423.9 287.5h0M399.3 317.1h0M414.6 324.0h0" stroke="#000" stroke-width="1.15" stroke-linecap="round" opacity="0.7" fill="none"/>
<path d="M408.6 324.3h0M438.4 295.4h0M448.9 317.1h0M406.5 290.1h0M399.7 264.6h0M406.6 269.2h0M482.8 274.9h0M406.0 298.0h0M401.5 311.5h0M399.5 290.6h0M398.5 287.7h0M399.9 253.3h0M431.6 313.0h0M401.0 314.9h0M432.7 303.3h0M395.9 306.8h0M405.5 242.7h0M396.7 293.1h0M402.7 313.4h0M400.4 324.2h0M405.6 298.5h0M400.9 273.3h0M430.4 312.9h0M400.8 313.7h0M402.5 297.5h0M422.9 313.3h0M401.9 249.8h0M403.3 279.1h0M413.6 298.3h0M404.4 280.9h0M413.4 327.2h0M411.3 322.3h0M399.9 312.5h0M405.2 298.0h0M414.2 329.6h0M400.2 284.2h0M401.7 327.7h0M425.9 319.5h0M406.3 320.9h0M401.5 244.3h0M407.5 318.4h0M409.6 289.0h0M402.8 320.8h0M399.2 211.0h0M459.6 304.8h0M398.1 280.0h0M399.8 312.2h0M417.1 320.6h0M414.3 311.8h0M401.8 282.0h0M406.3 321.8h0M408.6 297.7h0M403.5 326.6h0M416.9 280.6h0M410.6 315.3h0M480.6 305.1h0M407.4 318.2h0M416.9 243.7h0M431.7 301.1h0M409.7 319.0h0M404.1 303.4h0M411.2 329.2h0M415.7 320.4h0M398.0 271.0h0M411.7 305.1h0M427.7 309.4h0M403.8 308.8h0M405.4 301.3h0M399.7 305.5h0M406.9 299.5h0M406.6 320.7h0M395.8 205.8h0M473.2 312.2h0M407.1 311.6h0M401.1 269.8h0M402.4 307.6h0M414.6 311.8h0M413.1 314.5h0M400.1 322.0h0M398.2 270.6h0M404.1 308.9h0M396.5 273.1h0M426.7 264.8h0M428.7 317.6h0M413.6 276.9h0M408.0 309.8h0M417.7 294.7h0M399.2 307.0h0M464.3 308.1h0M403.8 326.3h0M412.3 304.5h0M406.3 303.5h0M400.3 254.4h0M442.2 298.8h0M400.3 295.0h0M399.4 283.5h0M408.1 290.8h0M434.0 289.5h0M405.9 326.8h0M404.3 279.6h0M401.7 317.2h0M412.2 319.5h0M410.1 304.1h0M408.4 321.7h0M404.7 318.9h0M396.4 280.9h0M398.1 326.0h0M403.2 261.4h0M403.7 289.2h0M395.2 258.3h0M404.1 321.4h0M409.1 329.0h0M403.5 328.2h0M401.2 326.6h0M445.5 322.4h0M399.5 303.2h0M404.6 313.1h0M406.6 286.6h0M410.8 310.0h0M412.4 328.0h0M402.5 322.9h0M396.6 307.6h0M417.8 321.7h0M401.2 270.0h0M402.7 324.5h0M404.1 222.7h0M433.5 277.2h0M410.8 323.9h0M403.9 300.2h0M408.8 324.1h0M414.2 310.7h0M415.4 297.3h0M429.3 318.4h0M410.9 327.3h0M408.0 326.8h0M441.6 301.3h0M403.8 308.6h0M417.0 322.2h0M406.7 326.4h0M400.0 275.4h0M400.0 328.5h0M457.9 273.3h0M403.0 269.5h0M406.6 315.3h0M403.8 295.5h0M405.8 286.1h0M451.5 276.0h0M408.4 311.1h0M444.6 289.0h0M411.8 286.2h0M409.3 298.9h0M410.7 326.2h0M402.0 311.2h0M430.9 323.1h0M400.3 317.2h0M399.2 324.3h0M440.4 297.3h0M405.4 316.9h0M404.0 326.8h0M402.4 288.7h0M403.0 318.5h0M403.0 321.6h0M395.7 289.3h0M409.3 309.2h0M401.2 310.2h0M406.7 321.2h0M401.7 292.0h0M402.4 323.8h0M408.1 315.4h0M403.1 307.8h0M400.1 283.1h0M411.3 309.7h0M409.5 313.2h0M474.3 291.6h0M399.7 309.2h0M427.0 288.2h0M422.0 321.1h0M468.3 265.5h0M407.4 304.9h0M402.8 305.7h0M405.9 282.1h0M402.1 299.9h0M399.0 306.7h0M400.1 307.7h0M403.4 323.0h0M428.9 282.0h0M413.4 304.9h0M413.9 271.1h0M407.5 314.2h0M404.3 313.9h0M396.8 292.4h0M408.4 326.4h0M418.6 327.1h0M413.0 285.0h0M398.0 244.7h0M416.2 306.9h0M407.7 313.2h0M402.0 323.0h0M411.8 322.2h0M408.7 320.0h0M398.4 233.3h0M400.2 311.0h0M401.3 285.6h0M403.7 291.0h0M402.0 325.3h0M426.1 283.3h0M396.8 216.8h0M403.7 325.8h0M401.8 296.7h0M406.7 290.0h0M400.9 321.0h0M481.6 307.1h0M414.2 255.3h0M408.6 258.5h0M400.1 291.8h0M412.1 317.4h0M404.7 328.3h0M421.0 259.1h0M401.9 321.8h0M407.1 322.2h0M407.2 326.7h0M411.9 290.1h0M399.1 227.1h0M469.9 306.8h0M426.5 305.6h0M411.4 288.2h0M403.7 313.0h0M401.2 315.6h0M399.1 319.5h0M409.3 312.4h0M402.1 325.1h0M402.0 310.7h0M403.4 328.0h0M408.1 305.8h0M417.6 319.6h0M434.6 310.3h0M402.0 311.2h0M416.9 327.6h0M428.1 301.4h0M407.2 308.6h0M398.3 324.5h0M396.5 258.5h0M401.0 317.1h0M407.9 330.6h0M413.6 292.9h0M408.1 316.4h0M399.3 316.9h0M401.7 319.6h0M408.3 324.3h0M404.1 268.3h0M398.4 226.5h0M404.2 321.4h0M413.4 319.0h0M405.7 267.0h0M408.2 294.4h0M417.0 324.3h0M397.6 318.7h0M407.3 269.7h0M408.6 283.1h0M410.3 329.0h0M409.1 323.6h0M409.6 299.8h0M405.4 320.5h0M410.5 319.0h0M398.0 299.9h0M401.4 287.7h0M396.7 288.8h0M408.7 304.5h0M403.5 330.1h0M408.2 320.7h0M402.1 322.4h0M403.0 304.1h0M402.8 325.4h0M399.1 306.4h0M409.0 325.6h0M444.2 304.2h0M405.1 324.7h0M399.4 313.8h0M424.8 296.6h0M407.1 282.3h0M397.2 312.6h0M416.0 298.7h0M395.9 202.4h0M399.2 281.0h0M402.7 292.1h0M401.7 319.3h0M405.9 324.0h0M435.3 331.9h0M431.1 317.5h0M404.9 327.5h0M409.3 303.7h0M427.0 305.7h0M518.4 325.8h0M526.9 303.6h0M399.6 259.5h0M446.6 249.3h0M414.3 315.3h0M426.6 315.1h0M397.3 312.2h0M396.3 259.0h0M413.7 269.4h0M402.1 251.7h0M413.9 316.6h0M407.3 299.7h0M424.7 306.6h0M398.1 282.4h0M403.5 309.3h0M410.9 297.2h0M404.6 294.9h0M411.5 328.4h0M396.6 278.9h0M407.9 298.3h0M404.7 316.4h0M404.7 310.0h0M414.1 319.5h0M413.1 320.3h0M439.3 313.1h0M407.4 323.7h0M433.4 289.3h0M411.1 330.4h0M408.1 285.8h0M410.6 295.8h0M405.5 308.5h0M398.6 286.5h0M398.4 322.6h0M406.8 304.6h0M414.7 311.9h0M401.7 304.8h0M422.5 324.2h0M398.7 284.6h0M413.3 315.0h0M395.8 293.6h0M431.4 271.4h0M396.2 292.4h0M406.9 312.0h0M405.6 313.2h0M404.4 324.0h0M400.6 281.9h0M404.4 264.2h0M408.0 322.0h0M409.4 269.6h0M404.0 272.7h0M397.3 268.1h0M400.0 329.6h0M403.5 302.5h0M399.6 231.2h0M404.9 304.1h0M441.4 264.6h0M402.0 327.2h0M401.5 267.9h0M402.0 257.4h0M399.1 304.6h0M424.0 308.3h0M401.6 289.5h0M404.5 302.2h0M409.2 328.7h0M406.7 312.3h0M399.7 323.6h0M404.1 309.2h0M401.0 310.7h0M401.9 305.4h0M402.4 284.4h0M408.7 329.3h0M396.8 324.5h0M401.2 320.7h0M425.5 328.0h0M416.7 305.9h0M410.8 322.9h0M407.5 311.0h0M402.0 318.4h0M400.8 310.8h0M406.5 313.0h0M406.1 316.9h0M444.4 284.2h0M402.4 314.5h0M420.3 322.1h0M403.0 296.8h0M405.5 326.7h0M427.5 247.3h0M415.2 224.6h0M400.1 284.2h0M404.2 310.5h0M410.9 302.6h0M397.9 254.5h0M409.8 304.4h0M415.8 316.7h0M424.4 304.6h0M418.1 326.0h0M436.9 306.6h0M399.6 318.9h0M416.9 295.3h0M433.8 328.5h0M409.1 299.9h0M401.8 326.2h0M409.0 320.8h0M408.3 323.2h0M401.6 322.9h0M403.2 318.2h0M399.3 269.2h0M411.7 327.5h0M406.3 326.4h0M413.6 330.2h0M407.2 322.5h0M408.6 322.4h0M413.6 290.2h0M401.1 295.1h0M411.2 306.4h0M401.2 322.1h0M414.8 315.5h0M411.9 297.1h0M405.2 303.1h0M447.1 298.6h0M515.2 309.1h0M411.5 292.3h0M413.9 325.8h0M417.7 315.9h0M434.1 314.5h0M425.2 304.9h0M407.2 324.1h0M441.5 275.0h0M413.7 298.9h0M399.3 301.1h0M408.1 296.6h0M403.3 323.1h0M401.3 311.6h0M401.8 313.4h0M397.5 312.4h0M399.8 294.3h0M412.6 296.7h0M404.0 317.9h0M401.7 318.0h0M411.1 326.7h0M420.3 284.2h0M407.4 326.2h0M428.7 316.4h0M410.0 320.4h0M410.7 278.9h0M404.8 305.4h0M398.4 291.7h0M404.4 319.1h0M397.6 319.6h0M415.1 294.6h0M401.6 312.1h0M401.0 291.9h0M399.2 210.0h0M396.5 305.9h0M402.0 328.4h0M410.6 282.6h0M405.1 306.6h0M405.1 328.2h0M411.0 313.6h0M409.3 313.7h0M401.8 299.8h0M401.4 310.1h0M404.0 326.5h0M414.8 311.5h0M402.7 273.6h0M430.7 273.8h0M405.8 318.4h0M417.4 299.5h0M405.1 288.7h0M397.1 286.9h0M422.8 290.8h0M426.3 285.4h0M401.8 326.1h0M403.4 322.4h0M416.5 329.7h0M401.9 326.1h0M396.3 298.6h0M399.2 207.1h0M401.4 244.6h0M405.3 303.5h0M431.8 269.5h0M408.2 325.7h0M496.0 307.3h0M408.9 302.7h0M398.3 280.2h0M397.7 323.8h0M402.2 318.6h0M415.1 315.8h0M418.9 275.0h0M409.9 305.3h0M419.1 324.4h0M422.7 310.4h0M402.9 294.7h0M405.8 327.5h0M443.0 296.5h0M415.9 271.9h0M408.6 329.4h0M409.0 302.1h0M401.0 327.3h0M409.0 307.0h0M402.6 255.0h0M410.2 328.1h0M401.1 293.2h0M410.2 313.7h0M399.9 251.6h0M413.1 271.5h0M411.3 320.2h0M397.6 246.0h0M398.9 230.4h0M416.7 313.7h0M411.4 328.5h0M398.6 325.7h0M417.8 299.3h0M417.0 316.3h0M396.7 313.4h0M403.9 272.7h0M425.2 295.8h0M404.1 321.0h0M410.2 310.9h0M407.9 297.4h0M402.4 325.8h0M404.3 304.8h0M407.7 295.9h0M410.2 282.0h0M400.0 205.9h0M435.1 323.4h0M405.3 305.4h0M480.9 309.5h0M444.0 297.8h0M400.4 318.9h0M410.3 328.6h0M409.4 313.0h0M406.5 308.2h0M410.7 297.2h0M417.3 310.1h0M418.6 294.4h0M433.7 312.7h0M414.5 301.9h0M434.0 284.1h0M441.0 302.1h0M409.7 303.6h0M409.2 292.8h0M398.3 265.2h0M404.6 320.1h0M404.5 323.2h0M406.9 292.8h0M416.5 315.2h0M460.4 312.4h0M466.3 291.3h0M401.6 277.6h0M402.4 279.7h0M408.4 317.6h0M405.0 316.7h0M406.5 297.7h0M411.1 316.2h0M407.8 289.3h0M396.3 312.2h0M428.6 311.4h0M460.9 303.4h0M420.8 304.9h0M412.2 325.2h0M412.1 328.8h0M416.9 311.6h0M405.7 327.7h0M409.3 262.4h0M402.1 292.7h0M402.9 299.0h0M402.3 315.9h0M413.4 305.1h0M403.1 309.8h0M399.6 248.2h0M403.4 234.6h0M407.6 319.8h0M395.5 206.6h0M418.5 326.6h0M406.8 291.6h0M412.7 324.8h0M405.3 319.4h0M398.8 310.9h0M430.0 303.7h0M414.0 299.2h0M487.6 304.5h0M405.1 315.6h0M481.6 297.8h0M416.8 326.7h0M409.0 315.1h0M404.8 312.9h0M401.0 274.4h0M435.6 293.6h0M401.5 241.3h0M431.3 312.6h0M408.7 273.1h0M402.4 289.0h0M395.9 272.1h0M411.0 304.4h0M404.6 314.5h0M406.9 314.8h0M398.1 322.3h0M412.9 330.5h0M403.2 267.3h0M408.5 327.2h0M405.3 266.8h0M411.9 321.8h0M405.3 300.4h0M407.8 324.3h0M402.0 310.0h0M418.7 317.2h0M404.0 313.6h0M404.7 329.8h0M478.6 279.9h0M395.9 317.3h0M413.1 320.8h0M403.0 310.8h0M402.6 289.1h0M446.1 277.1h0M399.8 212.1h0M408.8 299.7h0M514.9 292.5h0M416.6 328.7h0M427.8 288.5h0M408.1 323.6h0M421.7 297.4h0M407.6 327.0h0M401.9 317.8h0M403.7 321.9h0M404.8 329.2h0M410.7 322.6h0M407.9 301.9h0M401.8 269.5h0M400.9 301.1h0M398.2 311.1h0M397.3 234.9h0M404.3 308.0h0M414.1 323.6h0M423.0 311.9h0M401.8 323.6h0M399.4 264.1h0M411.1 310.3h0M405.4 303.4h0M408.6 282.5h0M400.3 236.1h0M401.0 329.5h0M402.9 307.9h0M411.9 317.7h0M407.5 331.3h0M404.3 317.4h0M409.4 325.1h0M410.5 302.9h0M411.0 311.3h0M408.5 317.3h0M401.6 270.7h0M409.4 323.5h0M407.8 244.5h0M405.6 311.7h0M411.3 315.3h0M404.0 313.7h0M435.7 319.7h0M494.1 300.0h0M401.7 296.8h0M399.2 321.4h0M405.9 323.7h0M399.3 274.4h0M415.2 329.9h0M403.5 324.0h0M409.6 305.3h0M407.1 301.9h0M415.7 315.8h0M428.6 318.5h0M408.4 299.5h0M465.0 291.8h0M406.7 290.3h0M402.4 300.8h0M405.2 308.5h0M411.6 322.4h0M403.8 322.4h0M414.7 331.1h0M403.1 304.9h0M416.2 328.0h0M408.6 295.3h0M403.1 314.7h0M410.9 323.9h0M409.1 322.1h0M396.9 288.8h0M395.8 250.0h0M403.0 320.7h0M402.0 255.1h0M404.5 321.3h0M402.9 274.5h0M410.9 320.3h0M398.0 308.6h0M405.6 247.2h0M400.7 294.0h0M402.7 298.7h0M407.2 241.7h0M402.6 316.6h0M405.7 321.2h0M428.2 303.5h0M410.4 296.6h0M404.2 324.9h0M407.8 314.1h0M408.0 321.7h0M412.4 320.6h0M399.6 235.8h0M397.2 322.7h0M407.0 299.6h0M418.6 309.1h0M399.9 327.7h0M399.6 300.9h0M410.8 327.4h0M502.6 331.5h0M401.5 285.1h0M407.5 316.1h0M405.7 312.1h0M419.2 316.7h0M435.1 315.6h0M401.2 315.2h0M403.6 309.8h0M403.1 325.4h0M406.9 282.2h0M412.0 314.4h0M407.9 320.1h0M407.4 294.0h0M400.0 313.8h0M449.4 310.8h0M429.5 282.9h0M433.0 298.5h0M402.7 296.1h0M404.2 324.6h0M398.0 261.0h0M402.9 321.2h0M405.8 300.1h0M428.6 237.8h0M431.0 276.3h0M405.6 311.3h0M428.9 323.2h0M404.5 330.1h0M405.5 264.0h0M417.6 299.2h0M402.5 300.0h0M417.8 317.3h0M421.6 300.1h0M405.8 320.5h0M398.3 264.5h0M402.2 257.1h0M415.1 234.3h0M400.8 272.6h0M399.8 280.3h0M403.4 315.6h0M405.1 320.9h0M404.8 292.6h0M459.6 255.8h0M442.6 311.2h0M409.6 308.8h0M402.1 272.1h0M531.8 303.6h0M410.9 328.5h0M410.2 272.0h0M407.4 322.3h0M408.7 276.7h0M416.0 327.4h0M436.9 291.2h0M417.5 311.7h0M496.6 310.4h0M418.4 302.9h0M398.3 273.4h0M405.3 298.8h0M399.8 319.1h0M464.1 307.6h0M416.0 278.9h0M414.1 299.2h0M451.6 274.1h0M396.2 221.9h0M530.9 301.8h0M405.2 275.7h0M401.6 324.6h0M412.0 326.9h0M417.6 318.5h0M398.6 322.6h0M408.3 277.3h0M400.3 270.6h0M413.4 329.7h0M405.6 272.1h0M411.0 327.9h0M398.6 268.6h0M407.9 251.4h0M404.3 312.9h0M410.2 323.5h0M406.1 317.3h0M402.8 314.2h0M416.2 271.9h0M412.7 293.3h0M405.6 323.9h0M401.7 327.9h0M450.1 266.1h0M460.0 308.3h0M403.8 298.4h0M402.1 288.2h0M405.7 314.7h0M408.0 297.6h0M410.5 318.6h0M400.2 325.2h0M408.1 309.2h0M398.8 239.9h0M430.4 276.0h0M410.3 299.3h0M408.8 319.5h0M407.6 300.7h0M407.5 328.9h0M404.3 307.4h0M409.5 317.2h0M409.4 292.6h0M412.8 325.1h0M400.4 307.3h0M418.9 326.9h0M399.9 287.8h0M404.8 284.5h0M397.7 319.1h0M406.6 310.0h0M403.8 327.5h0M406.2 275.9h0M401.7 311.8h0M402.3 312.8h0M411.3 314.9h0M410.3 321.4h0M399.6 217.6h0M410.9 306.2h0M403.8 302.5h0M395.4 303.2h0M412.3 322.7h0M408.4 222.1h0M397.3 269.8h0M408.5 313.4h0M403.1 331.0h0M400.9 322.6h0M403.8 314.5h0M401.0 272.7h0M404.2 288.8h0M409.4 314.8h0M396.1 314.0h0M405.9 317.6h0M402.0 326.7h0M416.3 314.7h0M491.7 285.5h0M409.0 315.4h0M397.3 322.9h0M401.9 276.3h0M396.1 283.0h0M415.0 310.4h0M413.4 329.1h0M412.7 327.8h0M408.0 313.0h0M450.4 324.7h0M403.7 308.4h0M400.0 318.9h0M412.0 320.7h0M402.1 284.3h0M402.4 329.5h0M398.2 326.7h0M409.1 313.3h0M403.3 299.4h0M408.0 326.8h0M439.5 310.0h0M464.5 295.9h0M401.7 226.4h0M405.5 319.8h0M400.8 307.5h0M406.0 303.4h0M407.5 285.1h0M421.3 321.2h0M398.2 320.1h0M422.0 296.7h0M403.8 301.4h0M429.8 283.4h0M402.0 292.7h0M404.9 302.1h0M398.6 193.0h0M408.8 328.6h0M410.1 308.2h0M399.4 311.4h0M400.1 299.0h0M396.8 319.4h0M411.9 324.1h0M438.9 288.9h0M416.6 289.8h0M408.9 272.3h0M397.7 295.6h0M403.3 306.4h0M419.6 295.4h0M450.5 306.2h0M420.0 316.5h0M401.6 304.0h0M403.9 325.4h0M406.8 317.5h0M399.1 223.0h0M433.4 276.2h0M407.6 303.3h0M404.6 322.6h0M427.2 270.9h0M400.1 296.9h0M418.1 292.9h0M402.6 320.0h0M411.8 330.2h0M407.9 301.4h0M414.2 263.9h0M413.6 325.7h0M404.9 303.0h0M403.9 304.2h0M403.6 285.1h0M400.6 304.7h0M414.5 331.7h0M443.8 301.6h0M395.5 233.1h0M404.0 328.0h0M434.4 305.9h0M408.0 312.0h0M406.5 315.3h0M402.8 288.0h0M419.2 314.4h0M440.6 285.5h0M409.0 327.1h0M411.1 314.2h0M408.0 293.2h0M436.4 322.9h0M402.1 327.0h0M406.6 294.4h0M426.9 270.0h0M400.5 255.8h0M398.9 268.4h0M436.7 301.7h0M405.2 327.6h0M405.4 298.0h0M398.2 322.4h0M403.4 326.3h0M404.3 324.3h0M428.0 310.6h0M450.4 312.9h0M403.2 315.0h0M403.4 285.0h0M406.3 314.6h0M414.5 317.7h0M426.2 312.3h0M409.9 310.7h0M406.0 293.9h0M421.5 318.8h0M414.9 330.3h0M407.0 302.9h0M416.4 287.6h0M404.4 276.0h0M411.5 226.8h0M408.7 308.7h0M412.2 303.1h0M402.4 305.4h0M402.9 302.7h0M427.6 299.5h0M425.8 330.0h0M405.9 323.8h0M401.5 294.8h0M397.6 311.0h0M398.8 304.4h0M466.7 290.8h0M400.8 299.5h0M405.2 329.1h0M406.1 319.8h0M398.8 266.7h0M408.1 309.8h0M417.6 326.0h0M428.3 279.9h0M395.3 240.8h0M411.7 281.3h0M418.1 328.0h0M468.5 291.8h0M407.4 305.8h0M425.9 313.7h0M408.0 311.1h0M400.9 328.2h0M406.8 316.0h0M408.6 315.2h0M463.0 301.1h0M424.8 308.9h0M399.4 294.9h0M409.0 327.8h0M420.7 313.7h0M404.1 318.4h0M401.5 326.8h0M432.8 314.5h0M400.7 288.6h0M402.9 302.9h0M439.9 258.4h0M415.8 274.7h0M398.0 318.9h0M404.3 263.1h0M407.9 279.9h0M456.2 298.6h0M414.7 291.2h0M408.3 317.6h0M403.1 319.5h0M396.4 221.1h0M403.6 317.7h0M450.4 296.0h0M407.6 276.9h0M396.9 279.6h0M413.9 326.8h0M407.8 312.9h0M409.9 319.5h0M405.2 308.8h0M398.8 289.0h0M419.9 277.3h0M417.6 322.7h0M434.8 286.0h0M404.1 324.3h0M428.3 272.9h0M409.4 298.4h0M403.8 327.3h0M433.0 296.1h0M419.0 277.4h0M399.4 272.6h0M406.2 284.5h0M409.1 310.4h0M407.5 275.2h0M406.2 313.2h0M428.3 316.8h0M396.0 247.1h0M494.9 314.6h0M404.1 326.3h0M414.8 313.5h0M400.9 307.1h0M408.8 320.2h0M424.6 282.4h0M396.6 277.7h0M401.7 323.4h0M402.2 318.6h0M428.6 288.4h0M405.5 284.3h0M400.6 285.7h0M404.0 310.6h0M413.5 309.2h0M414.9 326.5h0M406.0 315.4h0M419.4 324.2h0M418.4 323.7h0M405.4 309.3h0M422.0 269.9h0M416.0 307.7h0M401.1 287.2h0M399.1 303.9h0M491.6 313.3h0M410.7 288.0h0M432.7 314.8h0M406.7 278.0h0M406.4 307.5h0M405.1 330.1h0M400.8 299.5h0M401.4 291.0h0M412.2 289.0h0M409.6 317.3h0M478.7 294.0h0M427.6 296.8h0M409.6 293.3h0M408.6 312.0h0M403.5 321.2h0M413.7 322.6h0M400.1 276.2h0M401.3 217.5h0M395.8 244.4h0M395.8 208.2h0M401.6 314.7h0M403.5 256.1h0M408.1 320.7h0M402.9 327.6h0M411.7 300.1h0M403.0 263.9h0M403.1 303.1h0M439.0 292.3h0M404.9 272.7h0M403.0 292.3h0M406.1 302.8h0M400.5 310.1h0M398.5 236.5h0M399.7 308.7h0M397.4 263.5h0M411.7 291.5h0M459.4 279.2h0M413.6 317.4h0M411.9 321.3h0M404.7 325.7h0M406.2 239.9h0M395.8 282.2h0M398.7 327.5h0M408.1 328.2h0M398.8 310.8h0M430.2 300.0h0M450.3 315.7h0M398.0 299.2h0M403.7 304.6h0M417.9 297.5h0M416.3 314.4h0M397.6 310.6h0M418.4 321.7h0M402.7 261.3h0M400.4 289.9h0M403.2 305.3h0M399.2 320.3h0M410.6 321.4h0M416.5 296.4h0M405.5 196.5h0M404.4 323.2h0M397.7 313.8h0M407.4 325.1h0M405.4 245.9h0M400.6 322.4h0M405.9 323.1h0M435.3 320.7h0M407.0 298.6h0M400.1 313.8h0M408.7 304.8h0M404.0 285.4h0M474.9 292.1h0M477.6 301.7h0M396.3 310.6h0M401.7 214.3h0M401.1 274.1h0M403.7 319.7h0M442.3 281.0h0M414.2 320.5h0M427.0 277.7h0M422.1 329.6h0M401.7 328.6h0M404.4 311.7h0M427.8 313.2h0M401.5 312.1h0M427.2 297.4h0M411.0 330.7h0M399.7 291.6h0M399.2 322.0h0M406.9 219.6h0M405.6 316.1h0M413.3 311.5h0M416.2 266.0h0M408.0 309.9h0M409.2 292.6h0M407.1 288.0h0M407.3 284.8h0M450.0 296.7h0M404.9 312.5h0M406.3 268.3h0M410.4 317.1h0M396.5 285.9h0M411.1 321.4h0M439.0 251.6h0M419.8 305.6h0M400.3 259.6h0M450.9 307.9h0M413.4 316.0h0M408.8 269.0h0M409.1 315.5h0M401.3 309.1h0M420.0 277.7h0M401.2 305.4h0M399.7 275.9h0M405.9 319.6h0M419.9 331.0h0M409.8 282.9h0M429.1 273.4h0M401.9 260.2h0M411.2 304.6h0M410.6 306.8h0M398.3 315.2h0M416.7 305.8h0M413.2 316.2h0M408.2 323.1h0M403.2 324.2h0M407.6 308.2h0M424.0 303.4h0M405.0 261.2h0M492.5 280.8h0M405.8 302.0h0M443.4 272.9h0M405.8 289.7h0M402.3 321.8h0M399.1 276.8h0M409.5 325.8h0M397.1 236.0h0M398.7 323.2h0M409.6 314.6h0M448.6 313.8h0M408.3 317.1h0M421.9 311.2h0M404.6 314.9h0M409.1 288.8h0M435.6 302.8h0M412.0 326.4h0M402.9 304.9h0M417.8 236.2h0M403.1 321.4h0M424.3 327.5h0M402.3 276.3h0M409.0 308.3h0M406.0 297.8h0M405.9 253.0h0M399.5 256.3h0M407.7 321.6h0M411.8 324.4h0M405.8 320.4h0M436.8 322.9h0M411.1 326.1h0M399.9 279.7h0M404.2 327.4h0M398.6 236.0h0M408.3 324.7h0M399.1 295.1h0M404.2 330.4h0M400.0 321.0h0M397.9 278.4h0M418.6 316.7h0M410.6 308.2h0M409.9 317.2h0M407.7 300.9h0M408.5 328.0h0M396.9 240.7h0M407.4 322.4h0M398.7 284.0h0M404.7 322.6h0M395.5 271.7h0M449.4 307.1h0M410.4 266.2h0M400.8 266.5h0M406.5 288.3h0M400.1 304.8h0M405.1 288.5h0M406.8 300.1h0M437.0 292.5h0M435.9 287.4h0M401.0 304.1h0M406.8 323.3h0M425.2 308.3h0M404.9 325.0h0M402.3 324.9h0M402.5 316.2h0M416.1 308.8h0M403.1 292.6h0M398.6 264.4h0M399.2 285.7h0M404.1 279.2h0M398.9 253.5h0M410.4 325.0h0M402.2 274.1h0M410.0 297.7h0M529.7 300.8h0M479.9 302.3h0M407.7 330.9h0M403.6 307.9h0M400.8 250.0h0M403.0 323.8h0M404.4 321.5h0M402.4 309.4h0M411.1 303.9h0M412.3 313.6h0M407.7 314.6h0M404.3 319.0h0M425.8 244.2h0M408.7 289.3h0M406.8 312.3h0M405.8 309.7h0M413.9 320.7h0M419.7 309.7h0M418.0 288.6h0M420.1 302.7h0M409.5 309.7h0M400.8 323.5h0M403.8 303.7h0M404.7 252.2h0M403.5 293.4h0M436.2 317.9h0M403.7 276.6h0M398.6 309.3h0M405.1 296.7h0M414.7 304.7h0M399.3 269.3h0M401.8 316.0h0M416.1 279.0h0M400.6 315.6h0M404.3 320.2h0M412.0 310.7h0M407.3 264.6h0M410.6 322.4h0M395.4 312.4h0M410.4 323.3h0M412.5 294.6h0M407.9 311.6h0M404.0 290.1h0M426.0 295.0h0M398.9 263.3h0M409.1 315.6h0M404.5 244.9h0M402.3 328.9h0M414.8 319.8h0M419.4 321.2h0M402.0 318.8h0M411.4 269.6h0M410.8 327.0h0M435.9 301.8h0M413.6 262.6h0M425.9 322.8h0M428.2 316.5h0M399.0 248.9h0M510.4 305.6h0M428.6 312.5h0M410.0 299.6h0M406.9 301.4h0M396.2 302.6h0M404.4 324.4h0M405.6 321.9h0M395.9 241.0h0M400.7 244.1h0M420.7 323.8h0M409.0 320.6h0M426.8 314.5h0M406.8 298.5h0M528.5 298.6h0M405.4 328.4h0M399.1 307.9h0M408.7 314.7h0M400.7 315.1h0M401.0 313.7h0M402.4 282.6h0M403.3 322.5h0M405.7 289.0h0M440.3 283.2h0M400.9 330.3h0M409.0 331.1h0M438.5 273.6h0M470.4 300.4h0M430.2 317.8h0M406.4 327.6h0M402.1 317.9h0M412.2 311.8h0M426.5 244.6h0M435.3 281.1h0M442.6 309.7h0M398.0 308.5h0M409.1 312.0h0M401.3 261.2h0M395.5 299.6h0M396.8 306.7h0M407.0 323.2h0M403.4 330.7h0M409.7 326.9h0M403.8 305.9h0M472.5 301.8h0M402.5 304.6h0M442.7 268.4h0M402.5 274.3h0M402.0 294.7h0M427.4 297.4h0M521.1 302.5h0M412.9 262.3h0M401.8 296.8h0M427.1 256.6h0M416.4 297.7h0M412.1 249.9h0M492.4 308.2h0M433.1 291.5h0M403.2 316.5h0M420.9 325.6h0M428.3 289.5h0M405.7 270.9h0M406.4 325.7h0M405.3 291.5h0M400.5 303.3h0M408.9 317.0h0M403.4 316.2h0M397.2 266.4h0M406.1 269.6h0M409.9 308.0h0M419.9 330.7h0M434.0 314.3h0M410.5 319.5h0M446.0 270.2h0M409.9 327.3h0M420.2 322.9h0M401.3 249.6h0M407.4 289.4h0M404.4 294.3h0M399.6 254.1h0M414.8 330.8h0M417.1 256.5h0M409.1 320.4h0M455.7 298.2h0M401.0 325.5h0M419.3 301.6h0M404.6 303.0h0M396.4 235.7h0M407.7 312.6h0M402.4 326.0h0M407.8 315.3h0M459.0 308.0h0M429.3 297.1h0M408.7 330.8h0M406.0 300.3h0M408.5 325.7h0M402.7 299.4h0M515.9 305.0h0M401.5 321.0h0M405.0 330.6h0M408.3 298.9h0M422.3 315.5h0M406.4 324.3h0M431.3 315.1h0M399.5 266.7h0M430.5 320.4h0M417.6 326.4h0M402.2 315.8h0M416.8 328.3h0M426.9 327.1h0M411.8 329.5h0M409.7 262.6h0M407.6 310.0h0M399.2 327.1h0M411.0 316.9h0M436.4 300.4h0M412.5 313.3h0M520.4 312.3h0M400.3 297.6h0M411.7 317.8h0M395.9 294.1h0M405.5 270.9h0M402.2 323.6h0M402.7 275.0h0M428.2 317.6h0M399.9 294.7h0M404.1 295.6h0M405.6 313.2h0M405.0 320.7h0M404.5 294.5h0M406.3 326.4h0M414.8 283.1h0M401.7 267.7h0M408.1 302.2h0M400.3 242.5h0M400.5 328.5h0M424.7 315.1h0M401.6 294.8h0M406.6 292.3h0M419.1 322.2h0M406.6 289.5h0M405.1 296.0h0M395.9 307.3h0M404.8 330.3h0M411.0 309.8h0M405.1 267.3h0M451.4 301.5h0M412.3 320.6h0M404.5 325.0h0M399.8 314.9h0M395.8 302.9h0M458.8 313.4h0M398.3 298.9h0M409.2 318.6h0M398.7 278.0h0M402.7 314.9h0M400.5 327.4h0M419.3 307.6h0M399.1 305.2h0M401.3 325.0h0M410.1 325.8h0M422.6 314.7h0M417.4 244.6h0M412.0 308.7h0M409.3 323.0h0M402.3 316.6h0M402.6 317.0h0M406.5 308.5h0M411.9 287.0h0M403.0 324.2h0M401.5 297.5h0M395.6 293.6h0M410.1 315.7h0M408.8 326.0h0M415.9 306.4h0M414.8 325.9h0M417.1 322.1h0M395.5 268.9h0M412.2 332.0h0M408.1 284.0h0M483.6 304.7h0M403.7 326.5h0M407.6 330.8h0M414.0 316.3h0M410.3 297.2h0M395.9 288.7h0M419.2 318.0h0M402.4 322.0h0M398.2 317.5h0M405.6 303.6h0M399.0 283.5h0M402.1 298.9h0M416.6 331.7h0M431.9 313.7h0M427.9 323.3h0M408.2 283.7h0M410.5 330.2h0M406.6 291.1h0M408.8 322.7h0M405.9 298.9h0M398.0 267.0h0M405.8 295.1h0M409.5 294.5h0M399.7 295.1h0M404.3 327.1h0M403.6 307.4h0M400.8 324.7h0M403.2 292.1h0M396.9 293.2h0M406.2 292.3h0M405.2 290.7h0M410.2 302.4h0M410.7 324.4h0M405.8 321.9h0M398.9 309.7h0M409.1 300.4h0M518.5 300.1h0M400.8 248.9h0M420.1 316.0h0M406.4 316.4h0M443.3 287.2h0M406.9 300.4h0M403.4 318.7h0M426.8 257.3h0M411.8 326.7h0M413.2 318.1h0M399.3 269.3h0M427.6 247.2h0M442.5 303.5h0M406.2 297.3h0M456.2 271.3h0M402.4 310.6h0M409.0 308.6h0M405.9 296.1h0M410.7 318.3h0M403.9 318.6h0M415.1 316.1h0M398.2 278.5h0M434.5 328.8h0M427.5 278.7h0M399.0 304.0h0M397.2 304.4h0M403.3 320.5h0M410.6 329.6h0M398.5 323.4h0M411.6 315.4h0M405.3 297.6h0M395.5 212.5h0M397.8 315.1h0M406.6 298.0h0M407.2 312.5h0M401.8 317.6h0M406.3 292.9h0M399.6 287.6h0M406.4 305.0h0M403.6 316.4h0M419.9 332.4h0M434.4 313.9h0M412.6 317.7h0M407.3 310.1h0M399.2 256.0h0M398.1 312.6h0M400.9 328.6h0M403.1 257.7h0M451.3 295.7h0M460.6 280.5h0M411.4 264.2h0M427.6 313.3h0M411.8 263.6h0M462.8 282.5h0M401.3 230.2h0M410.4 325.8h0M438.8 280.2h0M402.3 278.7h0M402.7 326.5h0M424.2 318.0h0M408.5 288.6h0M402.3 308.6h0M405.4 306.6h0M428.8 314.6h0M402.1 297.0h0M398.4 294.6h0M406.4 289.2h0M406.9 315.2h0M415.0 284.4h0M399.5 323.6h0M407.9 316.9h0M416.0 306.9h0M404.8 329.3h0M404.1 309.4h0M416.6 303.8h0M412.8 330.4h0M489.4 304.9h0M399.7 294.0h0M409.5 319.3h0M413.5 306.0h0M458.9 282.9h0M405.6 217.6h0M406.0 324.1h0M402.8 307.4h0M407.5 326.4h0M408.5 306.8h0M405.1 300.8h0M396.8 281.6h0M400.4 260.3h0M397.8 300.6h0M401.2 293.5h0M396.9 310.9h0M401.0 321.9h0M419.7 295.6h0M447.2 325.1h0M406.2 328.3h0M406.3 321.9h0M412.0 308.7h0M406.4 292.6h0M404.4 271.4h0M405.5 307.9h0M401.9 330.4h0M401.5 328.4h0M404.7 294.2h0M405.8 270.3h0M409.6 326.9h0M409.7 303.5h0M438.8 312.5h0M400.6 321.8h0M399.2 307.0h0M413.6 295.6h0M406.4 315.1h0M410.5 331.4h0M399.0 301.5h0M404.3 307.2h0M407.4 324.1h0M411.2 303.8h0M404.4 303.2h0M402.7 307.9h0M405.9 304.5h0M401.9 262.0h0M406.3 330.6h0M402.0 289.7h0M404.0 316.2h0M396.8 292.9h0M400.8 323.4h0M413.3 278.5h0M501.8 304.4h0M401.0 263.8h0M401.0 292.7h0M417.5 290.1h0M407.9 269.2h0M407.1 298.5h0M408.8 303.9h0M421.4 300.5h0M405.3 246.8h0M401.9 303.3h0M395.5 291.5h0M424.6 312.8h0M407.7 321.5h0M403.5 290.4h0M406.1 292.4h0M400.0 308.9h0M402.4 327.5h0M411.3 315.9h0M425.4 280.0h0M414.5 326.9h0M405.8 255.2h0M399.6 249.8h0M413.1 326.1h0M400.0 320.0h0M450.9 305.3h0M400.7 285.5h0M402.3 234.3h0M405.1 324.2h0M414.4 330.0h0M407.9 315.0h0M408.9 326.8h0M415.1 313.9h0M430.8 295.5h0M405.1 271.4h0M443.2 315.9h0M402.7 327.4h0M401.8 308.9h0M405.7 320.9h0M410.0 322.1h0M402.5 320.9h0M395.7 311.2h0M406.8 318.4h0M413.9 320.0h0M401.3 283.0h0M405.4 294.9h0M427.9 322.0h0M407.2 328.6h0M402.0 293.4h0M404.0 321.9h0M398.7 325.0h0M500.2 301.8h0M405.4 309.6h0M411.2 319.6h0M406.3 283.7h0M467.4 312.5h0M401.2 312.5h0M516.1 298.3h0M399.5 304.3h0M479.1 308.3h0M406.8 239.3h0M405.6 299.7h0M409.9 311.4h0M409.9 314.4h0M407.8 295.1h0M411.7 311.5h0M407.7 287.3h0M418.8 318.5h0M437.7 307.4h0M413.0 283.5h0M406.5 315.1h0M399.1 284.5h0M407.9 326.2h0M404.8 262.7h0M411.5 310.5h0M402.3 321.3h0M402.8 268.5h0M421.9 322.5h0M397.6 240.9h0M407.5 324.8h0M440.8 307.8h0M406.1 307.8h0M409.1 326.4h0M446.4 325.0h0M396.3 317.6h0M453.8 306.0h0M406.1 308.9h0M407.5 289.5h0M413.6 243.3h0M410.1 300.7h0M404.0 264.8h0M397.2 316.7h0M430.6 289.2h0M403.9 329.1h0M485.1 304.7h0M404.2 322.6h0M403.4 304.0h0M411.0 304.0h0M398.6 301.6h0M399.1 314.1h0M408.3 306.7h0M403.9 310.1h0M414.9 323.4h0M402.8 249.1h0M404.6 294.0h0M399.3 324.4h0M396.4 246.4h0M400.1 289.8h0M426.3 288.2h0M402.1 227.1h0M403.5 300.7h0M413.4 306.1h0M402.1 251.9h0M409.2 310.7h0M413.0 312.2h0M400.2 314.3h0M420.2 310.6h0M407.2 310.0h0M466.7 322.9h0M409.8 326.5h0M419.9 247.1h0M413.6 316.6h0M401.7 296.3h0M400.0 324.0h0M406.7 306.9h0M406.6 278.5h0M399.9 326.5h0M423.2 303.4h0M401.0 273.9h0M443.5 318.1h0M401.0 261.3h0M403.3 330.0h0M400.5 316.0h0M412.0 324.1h0M405.4 305.3h0M404.4 325.1h0M413.2 312.4h0M440.3 279.0h0M402.9 263.1h0M406.0 321.9h0M396.5 284.2h0M399.6 307.0h0M401.7 245.4h0M411.7 306.7h0M399.5 243.9h0M400.9 309.4h0M401.8 292.2h0M397.5 313.5h0M406.5 286.5h0M511.3 306.4h0M401.1 311.5h0M425.0 283.6h0M414.4 315.5h0M399.9 282.0h0M400.1 251.6h0M399.2 232.6h0M494.7 317.8h0M412.9 316.4h0M402.4 319.8h0M446.8 289.5h0M422.4 322.5h0M399.3 291.2h0M405.8 296.8h0M403.0 248.0h0M398.3 243.8h0M404.7 327.1h0M402.7 293.0h0M405.0 315.9h0M403.7 284.8h0M409.9 303.7h0M398.8 305.5h0M419.9 310.0h0M414.1 306.5h0M404.2 308.2h0M402.4 298.6h0M409.3 292.2h0M412.7 316.5h0M426.5 308.5h0M403.3 326.5h0M406.4 319.4h0M407.5 318.3h0M403.6 327.1h0M408.9 264.3h0M397.0 304.8h0M396.2 311.6h0M399.2 315.5h0M406.6 297.9h0M398.0 235.0h0" stroke="#000" stroke-width="1.15" stroke-linecap="round" opacity="0.7" fill="none"/>
<path d="M400.6 333.7h0M407.5 333.7h0M399.0 333.7h0M396.3 333.7h0M396.7 333.7h0M403.3 333.7h0M403.9 333.7h0M418.8 333.7h0M418.9 333.7h0M406.3 333.7h0M395.3 333.7h0M402.6 333.7h0M405.6 333.7h0M410.3 333.7h0M394.9 333.7h0M415.1 333.7h0M399.8 333.7h0M397.7 333.7h0M406.1 333.7h0M408.6 333.7h0M395.0 333.7h0M411.9 333.7h0M397.4 333.7h0M408.8 333.7h0M402.9 333.7h0M409.7 333.7h0M395.8 333.7h0M405.3 333.7h0M410.2 333.7h0M397.9 333.7h0M401.9 333.7h0M399.9 333.7h0M404.5 333.7h0M396.7 333.7h0M400.9 333.7h0M414.3 333.7h0M419.1 333.7h0M416.4 333.7h0M404.6 333.7h0M405.8 333.7h0M412.3 333.7h0M408.0 333.7h0M407.7 333.7h0M397.9 333.7h0M395.0 333.7h0M415.3 333.7h0M395.3 333.7h0M404.4 333.7h0M403.3 333.7h0M412.7 333.7h0M415.3 333.7h0M398.3 333.7h0M396.3 333.7h0M403.6 333.7h0M409.0 333.7h0M403.9 333.7h0M417.3 333.7h0M397.7 333.7h0M397.8 333.7h0M409.1 333.7h0M418.8 333.7h0M405.5 333.7h0M409.9 333.7h0M411.1 333.7h0M399.4 333.7h0M405.5 333.7h0M419.3 333.7h0M400.6 333.7h0M409.7 333.7h0M394.9 333.7h0M402.7 333.7h0M405.5 333.7h0M413.6 333.7h0M396.9 333.7h0M412.9 333.7h0M410.2 333.7h0M403.0 333.7h0M402.4 333.7h0M398.0 333.7h0M396.8 333.7h0M413.5 333.7h0M402.8 333.7h0M396.3 333.7h0M404.3 333.7h0M412.2 333.7h0M405.8 333.7h0M409.2 333.7h0M402.6 333.7h0M400.2 333.7h0M407.7 333.7h0M395.7 333.7h0M401.9 333.7h0M408.4 333.7h0M411.1 333.7h0M411.2 333.7h0M413.5 333.7h0M400.0 333.7h0M414.4 333.7h0M401.4 333.7h0M405.6 333.7h0M401.6 333.7h0M410.8 333.7h0M408.2 333.7h0M416.0 333.7h0M413.7 333.7h0M409.5 333.7h0M410.2 333.7h0M418.8 333.7h0M401.0 333.7h0M399.4 333.7h0M398.3 333.7h0M403.5 333.7h0M409.0 333.7h0M401.6 333.7h0M394.9 333.7h0M409.4 333.7h0M405.8 333.7h0M405.4 333.7h0M398.4 333.7h0M400.6 333.7h0M416.2 333.7h0M397.6 333.7h0M404.9 333.7h0M415.8 333.7h0M410.2 333.7h0M398.9 333.7h0M413.0 333.7h0M413.5 333.7h0M397.9 333.7h0M405.8 333.7h0M411.3 333.7h0M398.2 333.7h0M411.9 333.7h0M418.9 333.7h0M415.7 333.7h0M400.8 333.7h0M403.9 333.7h0M410.0 333.7h0M408.4 333.7h0M399.2 333.7h0M398.3 333.7h0M404.3 333.7h0M412.2 333.7h0M413.8 333.7h0M409.8 333.7h0M407.2 333.7h0M406.9 333.7h0M415.0 333.7h0M401.1 333.7h0M412.7 333.7h0M398.2 333.7h0M408.3 333.7h0M418.3 333.7h0M404.7 333.7h0M396.1 333.7h0M406.1 333.7h0M409.9 333.7h0M395.8 333.7h0M414.3 333.7h0M413.5 333.7h0M416.7 333.7h0M396.0 333.7h0M402.8 333.7h0M397.4 333.7h0M397.6 333.7h0M418.8 333.7h0M410.6 333.7h0M405.5 333.7h0M396.2 333.7h0M414.4 333.7h0M428.2 333.7h0M424.4 333.7h0M422.5 333.7h0M420.1 333.7h0M425.2 333.7h0M421.5 333.7h0M429.2 333.7h0M431.2 333.7h0M436.2 333.7h0M423.0 333.7h0" stroke="#000" stroke-width="0.85" stroke-linecap="round" opacity="0.55" fill="none"/>
<path d="M394.5 306.4L440 302L488 296.3L534.3 291L534.3 298.4L488 301.1L440 303.8L394.5 307.2Z" fill="#8f8f8f" opacity="0.42"/>
<path d="M394.5 306.8L534.3 294.7" stroke="#3366ff" stroke-width="1.1" fill="none"/>
<path d="M393.7 339.8v1.3M440.7 339.8v1.3M487.7 339.8v1.3M534.7 339.8v1.3M387.8 333.7h-1.3M387.8 298.3h-1.3M387.8 262.9h-1.3M387.8 227.5h-1.3M387.8 192.1h-1.3" stroke="#555" stroke-width="0.4" opacity="0.8" fill="none"/>
<g font-size="3.6" fill="#5c5c5c">
<text x="393.7" y="345.1" text-anchor="middle">0.0</text>
<text x="440.7" y="345.1" text-anchor="middle">0.1</text>
<text x="487.7" y="345.1" text-anchor="middle">0.2</text>
<text x="534.7" y="345.1" text-anchor="middle">0.3</text>
<text x="385.8" y="334.8" text-anchor="end">0.0</text>
<text x="385.8" y="299.4" text-anchor="end">0.5</text>
<text x="385.8" y="264" text-anchor="end">1.0</text>
<text x="385.8" y="228.6" text-anchor="end">1.5</text>
<text x="385.8" y="193.2" text-anchor="end">2.0</text>
</g>
<text x="366.6" y="193.5" font-size="14.4" fill="#000" stroke="#000" stroke-width="0.22">F</text>
<text transform="translate(377.9 262.2) rotate(-90)" font-size="12" font-style="italic" text-anchor="middle" fill="#000" stroke="#000" stroke-width="0.15">Ka/Ks</text>
<text x="465.3" y="355.6" font-size="11.8" font-style="italic" text-anchor="middle" fill="#000" stroke="#000" stroke-width="0.15">Ks</text>
</svg>
</body></html>
